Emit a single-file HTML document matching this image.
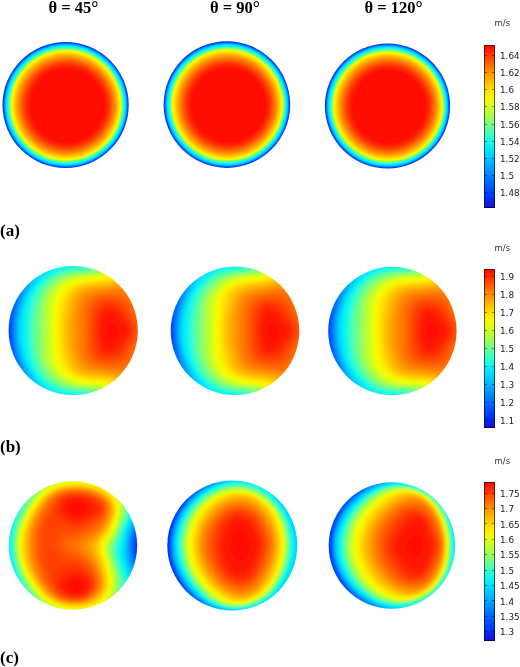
<!DOCTYPE html>
<html><head><meta charset="utf-8"><title>Velocity contours</title>
<style>
html,body{margin:0;padding:0;background:#fff;}
body{width:520px;height:667px;position:relative;overflow:hidden;}
.plots{position:absolute;left:0;top:0;}
.ttl{position:absolute;top:-1.5px;font-family:"Liberation Serif",serif;font-weight:bold;font-size:16.5px;line-height:18px;color:#000;white-space:nowrap;}
.dg{font-size:18px;line-height:0;position:relative;top:1.2px;}
.lab{position:absolute;left:0;font-family:"Liberation Serif",serif;font-weight:bold;font-size:17px;line-height:18px;color:#000;}
.cb{position:absolute;left:484px;width:9px;border:1px solid rgba(0,0,0,0.6);background-origin:border-box !important;background-clip:border-box !important;}
.tk{position:absolute;width:2px;height:1px;background:rgba(0,0,0,0.42);}
.tl{position:absolute;left:500px;font-family:"DejaVu Sans",sans-serif;font-size:8.8px;line-height:12px;color:#1a1a1a;white-space:nowrap;}
.unit{position:absolute;left:494.5px;font-family:"DejaVu Sans",sans-serif;font-size:8.5px;line-height:12px;color:#333;}
</style></head><body>
<svg class="plots" width="520" height="667" viewBox="0 0 520 667"><defs><clipPath id="c0"><circle cx="65.6" cy="105.0" r="63.1"/></clipPath><filter id="b0" x="-4" y="36" width="138" height="138" filterUnits="userSpaceOnUse"><feGaussianBlur stdDeviation="0.6"/></filter><clipPath id="c1"><circle cx="226.9" cy="104.6" r="63.3"/></clipPath><filter id="b1" x="158" y="35" width="139" height="139" filterUnits="userSpaceOnUse"><feGaussianBlur stdDeviation="0.6"/></filter><clipPath id="c2"><circle cx="387.5" cy="106.0" r="62.6"/></clipPath><filter id="b2" x="319" y="37" width="137" height="137" filterUnits="userSpaceOnUse"><feGaussianBlur stdDeviation="0.6"/></filter><clipPath id="c3"><circle cx="73.2" cy="330.5" r="64.6"/></clipPath><filter id="b3" x="3" y="260" width="141" height="141" filterUnits="userSpaceOnUse"><feGaussianBlur stdDeviation="0.8"/></filter><clipPath id="c4"><circle cx="235.0" cy="330.8" r="64.3"/></clipPath><filter id="b4" x="165" y="260" width="141" height="141" filterUnits="userSpaceOnUse"><feGaussianBlur stdDeviation="0.8"/></filter><clipPath id="c5"><circle cx="392.4" cy="331.0" r="64.2"/></clipPath><filter id="b5" x="322" y="261" width="140" height="140" filterUnits="userSpaceOnUse"><feGaussianBlur stdDeviation="0.8"/></filter><clipPath id="c6"><circle cx="73.0" cy="545.5" r="64.2"/></clipPath><filter id="b6" x="3" y="475" width="140" height="140" filterUnits="userSpaceOnUse"><feGaussianBlur stdDeviation="0.8"/></filter><clipPath id="c7"><circle cx="232.3" cy="545.5" r="65.0"/></clipPath><filter id="b7" x="161" y="474" width="142" height="142" filterUnits="userSpaceOnUse"><feGaussianBlur stdDeviation="0.8"/></filter><clipPath id="c8"><circle cx="391.9" cy="545.5" r="63.2"/></clipPath><filter id="b8" x="323" y="476" width="138" height="138" filterUnits="userSpaceOnUse"><feGaussianBlur stdDeviation="0.8"/></filter></defs><g clip-path="url(#c0)"><g filter="url(#b0)"><circle cx="65.6" cy="105.0" r="66.1" fill="#0629f3"/><path fill="#0034ff" d="M76.5 167 73.5 167.6 64.5 167.9 56.5 167.5 51.5 166.5 44.5 164.5 39.5 162.4 33.5 159.3 27.5 155.2 21.6 149.9 16 143.9 13.1 139.9 10.1 134.9 6.1 125.9 4 118.9 3 112.9 2.9 97.9 4.9 87.9 6.9 81.9 9.2 76.9 11.9 71.9 16.2 65.9 25.5 56.4 32.5 51.3 37.5 48.6 44.5 45.6 51.5 43.5 57.5 42.4 72.5 42.3 79.5 43.4 80.4 43.9 83.5 44.5 93.5 48.4 100.5 52.5 104.5 55.4 110.4 60.9 115.1 65.9 119.9 72.9 123.1 78.9 125.1 83.9 126.5 89.3 126.9 89.9 128.1 95.9 128.5 103.9 128.3 111.9 127 119.9 126.5 120.7 125.2 125.9 123.1 130.9 120.1 136.9 116 142.9 108.5 151.1 103.5 155.4 97.5 159.4 91.5 162.5 86.5 164.5 81.3 165.9 80.5 166.4Z"/><path fill="#0040ff" d="M73.5 167.1 68.5 167.5 62.5 167.5 54.5 166.6 49.5 165.5 43.5 163.6 38.5 161.4 33.5 158.7 27.5 154.6 23.2 150.9 19.2 146.9 15.9 142.9 11.8 136.9 8.7 130.9 6.7 125.9 4.8 119.9 3.7 113.9 3.1 106.9 3.2 100.9 3.7 95.9 4.9 89.9 6.7 83.9 9.7 76.9 13.9 69.9 16.8 65.9 21.3 60.9 25.5 57 30.5 53.2 35.5 50.2 44.5 46.1 50.5 44.3 56.5 43.1 63.5 42.5 69.5 42.6 75.5 43.2 80.5 44.2 86.5 46 91.5 48.1 97.5 51.2 103.5 55.2 108.5 59.5 111.9 62.9 115.2 66.9 119.3 72.9 122 77.9 124.9 84.9 126.9 91.9 127.8 97.9 128.2 104.9 128 110.9 127.1 116.9 125.9 121.9 123.9 127.9 121.2 133.9 118.2 138.9 115.4 142.9 111.2 147.9 106.5 152.4 102.5 155.6 96.5 159.4 90.5 162.4 84.5 164.7 78.5 166.3Z"/><path fill="#004dff" d="M71.5 166.9 66.5 167.3 61.5 167.2 55.5 166.5 47.5 164.6 41.5 162.5 35.5 159.5 30.5 156.4 26.5 153.5 17.8 144.9 14.1 139.9 11 134.9 8.1 128.9 6 122.9 3.8 112.9 3.5 105.9 3.6 99.9 5 90.9 7 83.9 9.1 78.9 11.1 74.9 14.9 68.9 18.9 63.9 23.5 59.2 29.5 54.3 32.5 52.3 37.5 49.4 44.5 46.4 51.5 44.3 57.5 43.2 65.5 42.8 72.5 43.1 79.5 44.3 83.5 45.3 89.5 47.5 95.5 50.3 100.5 53.4 104.5 56.3 108.5 59.9 113.3 64.9 119 72.9 122.2 78.9 123.9 82.9 126.1 89.9 127.3 95.9 127.9 101.9 127.9 107.9 127.2 114.9 126.2 119.9 124 126.9 121.8 131.9 119.2 136.9 115.1 142.9 109.8 148.9 104.5 153.7 99.5 157.3 95.5 159.7 89.5 162.6 84.5 164.4 76.5 166.4Z"/><path fill="#0059ff" d="M68.5 167 63.5 167 56.5 166.4 50.5 165.2 44.5 163.4 35.5 159.3 29.5 155.4 24.5 151.4 17.4 143.9 13 137.9 10.2 132.9 8 127.9 6 121.9 5 117.9 3.8 109.9 3.7 103.9 4.1 96.9 5 91.9 7 84.9 8.9 79.9 12 73.9 15.2 68.9 19.2 63.9 23.5 59.5 28.5 55.4 32.5 52.6 38.5 49.3 42.5 47.4 48.5 45.4 52.5 44.4 60.5 43.2 66.5 43.1 73.5 43.5 79.5 44.5 86.5 46.6 93.5 49.6 98.5 52.4 106.5 58.3 112.1 63.9 116.1 68.9 119.9 74.9 122 78.9 124 83.9 125.9 89.9 127.1 95.9 127.6 101.9 127.7 106.9 127 114.9 125.9 119.9 124.1 125.9 122.1 130.9 118.9 136.9 114.8 142.9 112.3 145.9 108.4 149.9 103.5 154.2 97.5 158.3 91.5 161.4 86.5 163.5 80.5 165.3 74.5 166.5Z"/><path fill="#0066ff" d="M75.5 166.1 69.5 166.7 63.5 166.8 57.5 166.3 51.5 165.2 44.5 163.1 39.5 161 34.5 158.4 29.5 155.2 24.5 151.1 19.3 145.9 15.3 140.9 12.1 135.9 9.1 129.9 7.1 124.9 5.2 117.9 4.4 112.9 3.9 106.9 4.1 99.9 5.1 92.9 6.3 87.9 8.3 81.9 10.1 77.9 12.2 73.9 16.2 67.9 20.4 62.9 24.5 58.9 28.5 55.6 34.5 51.6 40.5 48.6 45.5 46.6 52.5 44.6 57.5 43.7 64.5 43.3 70.5 43.4 77.5 44.4 82.5 45.5 88.5 47.6 92.5 49.4 98.5 52.6 102.5 55.4 106.5 58.6 110.9 62.9 114.5 67.2 117.9 71.9 120.8 76.9 123.8 83.9 125.9 90.9 126.9 95.9 127.4 101.9 127.4 107.9 126.9 113.9 125.7 119.9 123.9 125.9 121.9 130.9 119.8 134.9 116 140.9 112.9 144.9 108.2 149.9 104.5 153.1 98.5 157.4 93.5 160.2 86.5 163.3 80.5 165.1Z"/><path fill="#0073ff" d="M74.5 166 68.5 166.6 62.5 166.6 57.5 166.1 51.5 165 45.5 163.3 39.5 160.8 34.5 158.2 28.5 154.2 23.5 149.9 19.6 145.9 15.6 140.9 12.4 135.9 9.3 129.9 7.4 124.9 5.7 118.9 4.7 113.9 4.1 107.9 4.2 100.9 4.9 94.9 6.2 88.9 8.2 82.9 10.4 77.9 13.1 72.9 16.5 67.9 20.5 63.1 24.8 58.9 29.5 55.2 34.5 51.9 40.5 48.8 45.5 46.8 50.5 45.3 56.5 44.1 62.5 43.5 69.5 43.5 75.5 44.2 80.5 45.2 85.5 46.7 92.5 49.6 97.5 52.3 102.5 55.6 107.5 59.8 111.6 63.9 115.6 68.9 118.9 73.9 122 79.9 123.9 84.9 125.7 90.9 126.7 95.9 127.2 101.9 127.3 107.9 126.8 112.9 125.8 118.9 123.7 125.9 121.6 130.9 119 135.9 115.8 140.9 111.8 145.9 107.9 149.9 103.5 153.7 98.5 157.2 93.5 160 86.5 163 79.5 165.1Z"/><path fill="#0080ff" d="M73.5 166 67.5 166.4 61.5 166.3 55.5 165.6 49.5 164.3 43.5 162.3 38.5 160.1 33.5 157.3 28.5 153.9 23.8 149.9 19.9 145.9 15.8 140.9 12.6 135.9 10 130.9 7.6 124.9 5.9 118.9 4.8 112.9 4.3 106.9 4.4 100.9 5.1 94.9 6.4 88.9 8.4 82.9 10.6 77.9 13.3 72.9 16.8 67.9 20.5 63.4 25.1 58.9 29.5 55.4 34.5 52.1 39.5 49.5 45.5 47 51.5 45.3 57.5 44.2 63.5 43.7 69.5 43.7 75.5 44.4 81.5 45.7 87.5 47.6 92.5 49.8 97.5 52.5 102.5 55.9 107.3 59.9 111.5 64.1 115.4 68.9 118.7 73.9 121.8 79.9 123.8 84.9 125.7 91.9 126.6 96.9 127.1 102.9 127 108.9 126.3 114.9 125.1 120.9 123.1 126.9 120.9 131.9 117.6 137.9 114.5 142.3 110.6 146.9 106.5 150.9 101.5 154.9 96.5 158.2 91.5 160.8 85.5 163.2 79.5 164.9Z"/><path fill="#008eff" d="M71.5 166 65.5 166.3 59.5 166 53.5 165 47.5 163.5 41.5 161.3 36.6 158.9 31.6 155.9 26.5 152.1 22 147.9 18.4 143.9 14.7 138.9 11.5 133.5 8.9 127.9 7.1 122.9 5.6 116.9 4.8 110.9 4.5 104.9 4.8 98.9 5.7 92.9 7.2 86.9 9.4 80.9 11.8 75.9 14.9 70.9 18.5 66 22.2 61.9 26.6 57.9 31.5 54.2 37.1 50.9 42.5 48.4 47.5 46.6 53.5 45 59.5 44.1 65.5 43.8 71.5 44.1 77.1 44.9 83.5 46.5 88.5 48.2 94.3 50.9 99.4 53.9 104.5 57.7 109.2 61.9 112.8 65.9 116.5 70.8 119.6 75.9 122 80.9 124.2 86.9 125.8 92.9 126.7 98.9 127 104.9 126.7 110.9 125.8 116.9 124.3 122.9 122.5 127.9 119.7 133.9 116.7 138.9 113 143.9 109.4 147.9 104.5 152.4 99.5 156.1 94.5 159.1 89.5 161.5 83.5 163.6 77.5 165.1Z"/><path fill="#009bff" d="M70.5 165.9 64.5 166.1 58.5 165.6 51.5 164.4 46.5 163 41.1 160.9 35.5 158.1 30.5 154.9 25.5 151 21.3 146.9 17.5 142.5 14.3 137.9 11.4 132.9 9.1 127.9 7.1 121.9 5.5 115 4.9 109.9 4.7 103.9 5.1 97.9 6.1 91.9 7.4 86.9 9.5 81.2 12.1 75.9 15.1 70.9 18.9 65.9 22.5 61.9 27.5 57.4 32.5 53.8 37.5 50.9 42.5 48.6 48.5 46.5 55.3 44.9 60.5 44.2 66.5 44 72.5 44.4 78.5 45.4 84.3 46.9 89.6 48.9 95.5 51.8 100.5 54.9 105.5 58.8 109.5 62.5 113.5 67 117 71.9 119.9 76.9 122.6 82.9 124.5 88.5 125.8 93.9 126.6 99.9 126.8 105.9 126.5 111.1 125.5 117.5 123.8 123.9 121.5 129.9 119 134.9 115.8 139.9 112.5 144.3 108.2 148.9 103.6 152.9 98.5 156.5 93.5 159.4 87.5 162.1 81.9 163.9 76.5 165.1Z"/><path fill="#00a9ff" d="M66.5 165.9 55.5 165 50.2 163.9 44 161.9 37.5 159 32.5 156 28.1 152.9 23.5 148.9 19.5 144.6 15.5 139.4 12.5 134.5 10.2 129.9 8.2 124.9 6.3 117.9 5.3 111.9 4.9 105.9 5.1 99.9 6.1 92.9 7.3 87.9 9 82.9 11.5 77.4 14.5 72.2 18.3 66.9 21.8 62.9 26 58.9 30.5 55.4 36.1 51.9 40.5 49.7 45.5 47.7 52.5 45.7 58.5 44.6 64.5 44.3 74.9 44.9 82.5 46.6 88.5 48.6 93.5 50.9 98.5 53.8 102.9 56.9 107.6 60.9 111.5 64.9 115.5 70 118.6 74.9 121.5 80.6 123.8 86.9 125.5 93.4 126.6 103.9 126.5 109 125.6 115.9 124.5 121 122.5 127 119.9 132.9 117 137.9 113.5 142.7 109.5 147.3 105.5 151.1 100.5 155 95.5 158.1 89.5 161.1 83.5 163.3 76.8 164.9Z"/><path fill="#00b6ff" d="M75.5 164.9 68.5 165.6 63.5 165.6 56.5 165 51 163.9 44.5 161.9 39.8 159.9 34.3 156.9 28.5 152.9 23.9 148.9 19.5 144.3 13.5 135.9 10.5 130.1 8.4 124.9 6.5 118.1 5.5 112.2 5.1 106.9 5.3 99.9 6.3 92.9 7.5 88 9.2 82.9 11.5 77.8 14.5 72.5 18.5 67 22.1 62.9 26.5 58.8 31.6 54.9 36.5 51.9 45.5 47.9 52.3 45.9 57.9 44.9 63.5 44.5 70.5 44.6 77.5 45.6 82.5 46.8 88.5 48.8 93 50.9 96.7 52.9 102.5 56.8 107.3 60.9 110.5 64.2 113.7 67.9 117.5 73.4 120.5 78.9 122.6 83.9 124.5 89.9 125.7 95.9 126.4 106.9 125.8 113.9 124.6 119.9 122.7 125.9 120.6 130.9 118.5 135 114.7 140.9 111.5 144.9 107.5 149.1 101.7 153.9 98.5 156.1 93.5 159 86.9 161.9 80.5 163.9Z"/><path fill="#00c3ff" d="M74.5 164.9 66.5 165.4 59.5 165.1 51.9 163.9 48.2 162.9 42.6 160.9 36.5 158 31.6 154.9 27.6 151.9 19.4 143.9 16.4 139.9 12.5 133.6 9.5 127.2 7.5 121.3 6.4 116.9 5.5 110.3 5.5 99.7 6.5 92.9 8.5 85.6 10.5 80.5 13.5 74.6 16.5 69.9 20.5 64.9 25.5 59.9 30.5 55.9 38.9 50.9 43.5 48.8 49.2 46.9 53.5 45.9 59.8 44.9 71.5 44.9 78.1 45.9 82.2 46.9 88.1 48.9 94.5 51.9 99.5 54.9 103.5 57.9 111.5 65.6 113.5 67.9 117.6 73.9 120.5 79.4 122.5 84.1 124.5 90.6 125.6 95.9 126.1 106.9 125.6 113.9 124.5 119.5 122.5 125.9 120.5 130.7 116.5 137.9 114.5 140.8 107.3 148.9 102.7 152.9 98.5 155.9 93.2 158.9 86.4 161.9 79.7 163.9Z"/><path fill="#00d1ff" d="M71.5 164.9 59.4 164.9 53.2 163.9 46.1 161.9 38.9 158.9 33.6 155.9 25.6 149.9 21.5 145.8 17.5 140.9 14.5 136.5 11.5 131 9.5 126.3 7.5 120 6.5 115.4 5.7 108.9 5.7 101.9 6.5 94.7 8.7 85.9 10.6 80.9 13.7 74.9 17.5 69.1 21.5 64.3 24.9 60.9 29.7 56.9 35.5 53 39.5 50.9 44.2 48.9 50.4 46.9 54.9 45.9 61.5 45.1 70.5 45.1 76.6 45.9 84.5 47.9 89.7 49.9 95.7 52.9 100.4 55.9 104.3 58.9 111.5 66 115.5 71.2 118.5 76.1 122.5 84.9 124.5 91.8 125.5 97.4 125.9 104.9 125.5 112.7 123.5 122.1 121.5 127.8 119.5 132.1 117.5 135.9 113.3 141.9 108.5 147.3 103.5 151.9 99.5 154.9 94.5 157.9 88.1 160.9 82.5 162.8 78.3 163.9Z"/><path fill="#00deff" d="M75.5 164 70.5 164.7 64.5 164.8 59.5 164.5 53.5 163.6 47.3 161.9 42 159.9 36 156.9 31.3 153.9 26.3 149.9 22.5 146.3 18.7 141.9 15.2 136.9 11.9 130.9 9.8 125.9 7.9 119.9 6.8 114.9 6.2 108.9 6.1 102.9 6.5 97.5 7.5 91.8 9.2 85.9 11.1 80.9 13.6 75.9 16.7 70.9 20.5 66 24.4 61.9 28.5 58.3 33.3 54.9 38.5 51.9 44.5 49.2 50.5 47.3 55.5 46.2 61.5 45.5 67.5 45.3 74 45.9 79.4 46.9 84.5 48.3 91 50.9 95.5 53.2 100.5 56.4 105.5 60.4 109.5 64.3 113.4 68.9 116.5 73.4 119.5 78.8 121.5 83.3 123.5 89.3 124.9 95.9 125.5 101.3 125.5 107.9 125 113.9 124 118.9 122.5 124.1 120.2 129.9 117.5 135.1 114.4 139.9 110.5 144.7 106.5 148.8 101.6 152.9 97.2 155.9 92.5 158.5 87.1 160.9 80.9 162.9Z"/><path fill="#03eafc" d="M73.5 164 67.5 164.4 61.5 164.3 55.5 163.5 49.5 162.2 43.5 160.1 38.7 157.9 33.5 154.9 29.5 152 25.5 148.6 21.5 144.6 17.5 139.6 14.5 134.9 11.5 129 9.5 123.8 8.1 118.9 7 112.9 6.5 107.5 6.5 101.9 7.2 95.9 8.4 89.9 10.3 83.9 12.5 78.9 15.3 73.9 18.5 69.2 22.1 64.9 26.5 60.6 31.1 56.9 35.7 53.9 41.5 50.9 46.6 48.9 51.5 47.5 57.5 46.3 63.5 45.8 69.5 45.9 75.5 46.5 80.5 47.6 86.5 49.5 91.5 51.6 97.5 54.9 101.5 57.7 106.5 61.9 110.5 66 114.5 71.1 117.5 75.8 120.5 81.9 122 85.9 123.5 90.9 124.7 96.9 125.2 102.9 125.2 107.9 124.6 113.9 123.5 119.3 121.8 124.9 119.5 130.5 116.6 135.9 113.5 140.5 109.8 144.9 105.9 148.9 101 152.9 96.5 155.9 90.9 158.9 85.5 161.1 79.3 162.9Z"/><path fill="#0ff0f0" d="M69.5 163.9 63.5 164 58.5 163.6 53.5 162.7 46.8 160.9 41.8 158.9 37.5 156.8 32.5 153.7 27.5 149.9 23.3 145.9 19.5 141.5 16.5 137.3 13.5 132.2 10.7 125.9 8.8 119.9 7.6 113.9 7 108.9 7 102.9 7.5 96.6 8.6 90.9 10.4 84.9 12.5 79.9 15.5 74.4 18.5 69.9 21.8 65.9 25.7 61.9 30.5 57.9 34.9 54.9 40.4 51.9 45.1 49.9 51.5 47.9 56.5 46.9 62.5 46.3 68.5 46.2 75.1 46.9 80.5 48 86.5 49.9 91.5 52.1 96.5 54.8 101.1 57.9 104.8 60.9 108.5 64.4 112.5 69.1 115.5 73.3 118.5 78.5 120.5 82.9 122.6 88.9 123.9 94.9 124.7 100.9 124.8 105.9 124.5 111.9 123.4 117.9 121.5 124.6 119.3 129.9 116.5 135.2 113.5 139.8 110.2 143.9 106.4 147.9 101.6 151.9 97.3 154.9 92 157.9 87.5 159.9 81.6 161.9 76.5 163.1Z"/><path fill="#1af7e5" d="M74.5 162.9 68.5 163.5 62.5 163.5 56.9 162.9 51.5 161.8 45.4 159.9 40.5 157.8 35.2 154.9 30.8 151.9 26.5 148.3 22.5 144.3 18.9 139.9 15.6 134.9 12.9 129.9 10.5 123.9 8.8 117.9 7.9 112.9 7.4 106.9 7.5 100.9 8.1 95.9 9.4 89.9 11 84.9 13.5 79 15.7 74.9 19.1 69.9 22.5 65.8 26.5 61.8 31.3 57.9 35.8 54.9 41.5 51.9 46.5 49.9 52.5 48.2 57.5 47.2 63.5 46.7 68.5 46.7 73.5 47.1 79.5 48.3 85.1 49.9 90.5 52.1 95.8 54.9 100.5 58 105.3 61.9 109.3 65.9 112.6 69.9 116 74.9 119.2 80.9 121.2 85.9 122.9 91.9 123.8 96.9 124.4 102.9 124.3 108.9 123.6 114.9 122.5 119.9 121 124.9 118.5 130.7 116.2 134.9 112.9 139.9 108.7 144.9 104.6 148.9 100.5 152.2 95.5 155.5 91 157.9 85.5 160.2 80.5 161.7Z"/><path fill="#26fed9" d="M70.5 163 65.5 163.1 59.5 162.8 53.5 161.8 48.5 160.5 43.5 158.6 37.5 155.7 33 152.9 28.5 149.5 24.5 145.8 20.5 141.2 17.4 136.9 14.4 131.9 12.1 126.9 10.1 120.9 8.7 114.9 8.1 109.9 7.9 103.9 8.3 97.9 9.4 91.9 10.8 86.9 12.7 81.9 15.2 76.9 18.3 71.9 21.5 67.7 25.5 63.4 29.5 59.9 34.5 56.3 39.5 53.4 44.5 51.2 49.5 49.5 55.5 48 61.5 47.3 67.5 47.1 73.5 47.6 79.5 48.8 84.5 50.2 89.5 52.1 94.5 54.7 99.5 57.8 103.5 61 107.5 64.7 111.2 68.9 114.8 73.9 117.7 78.9 120.4 84.9 122 89.9 123.3 95.9 123.8 100.9 124 106.9 123.6 111.9 122.6 117.9 121.2 122.9 119.3 127.9 116.3 133.9 113.1 138.9 109.9 142.9 106.1 146.9 101.5 150.9 97.5 153.8 92.5 156.7 87.5 158.9 82.5 160.7 76.5 162.2Z"/><path fill="#3affc4" d="M74.5 162 69.5 162.6 62.5 162.7 55.5 161.8 50.5 160.6 44.5 158.6 40.5 156.8 36.5 154.6 30.5 150.5 25.5 146.1 21.6 141.9 16.1 133.9 11.8 124.9 9.8 117.9 8.8 112.9 8.4 106.9 8.5 101.9 8.9 96.9 9.8 91.9 11.6 85.9 13.6 80.9 15.7 76.9 18.8 71.9 22.8 66.9 26.5 63.1 32.5 58.2 35.5 56.2 40.5 53.4 45.5 51.2 51.5 49.3 57.5 48.1 63.5 47.6 68.5 47.7 74.5 48.2 79.5 49.2 85.5 51 90.5 53.1 96.5 56.4 100.5 59.1 105.5 63.3 109 66.9 112.3 70.9 116.2 76.9 120.3 85.9 122.1 91.9 123 96.9 123.5 102.9 123.5 108.9 122.2 117.9 120.1 124.9 118 129.9 115.3 134.9 111.8 139.9 108.5 143.9 103.5 148.7 95.5 154.5 89.5 157.7 84.5 159.7 77.5 161.6Z"/><path fill="#4fffad" d="M72.5 161.9 67.5 162.4 62.5 162.3 55.5 161.4 50.5 160.3 44.5 158.2 38.5 155.4 33.5 152.3 29.5 149.2 22.1 141.9 19 137.9 15.9 132.9 11.9 123.9 10.2 117.9 9.1 111.9 8.7 105.9 8.9 99.9 10 92.9 11 88.9 13.2 82.9 15 78.9 20 70.9 24.2 65.9 27.5 62.7 31.5 59.4 37.5 55.4 46.5 51.3 52.5 49.5 58.5 48.4 64.5 48 71.5 48.2 78.5 49.3 82.5 50.4 88.5 52.6 92.5 54.5 97.5 57.4 101.5 60.3 106.5 64.8 110.2 68.9 115.8 76.9 119.2 83.9 120.9 88.9 122 92.9 123 98.9 123.3 103.9 123.1 109.9 122.1 116.9 121.1 120.9 119 126.9 116 132.9 112.9 137.9 109.8 141.9 106.5 145.5 102.5 149.1 98.5 152.2 93.5 155.3 89.5 157.3 83.5 159.6 76.5 161.4Z"/><path fill="#64ff97" d="M69.5 161.9 64.5 162 58.5 161.5 48.5 159.3 43.5 157.4 37.5 154.4 32.5 151.2 28.5 147.9 24.3 143.9 21 139.9 18.1 135.9 15.2 130.9 13 125.9 11.3 120.9 10.1 115.9 9.2 108.9 9.1 103.9 9.4 98.9 10.1 93.9 12 86.9 14 81.9 17.1 75.9 22.9 67.9 26.5 64.1 30.5 60.6 34.5 57.7 39.5 54.7 44.5 52.4 49.5 50.7 54.5 49.4 61.5 48.4 67.5 48.3 72.5 48.6 77.5 49.5 82.5 50.7 87.5 52.5 93.5 55.4 98.5 58.5 102.5 61.6 106.5 65.2 110.7 69.9 114.8 75.9 117 79.9 118.8 83.9 120.9 89.9 121.9 93.9 122.8 100.9 122.7 110.9 121.7 116.9 119.8 123.9 117.7 128.9 115.1 133.9 111.8 138.9 108.5 142.9 104.5 147 100.5 150.3 96.5 153.1 90.5 156.5 86.5 158.2 80.5 160.2 75.5 161.3Z"/><path fill="#77ff82" d="M75.5 160.9 69.5 161.6 64.5 161.7 58.5 161.3 53.5 160.4 48.5 159 43.5 157.1 38.5 154.6 33.5 151.5 29.5 148.4 25.5 144.7 21.5 140.1 18.5 135.9 15.6 130.9 13.3 125.9 11.3 119.9 10.2 114.9 9.6 109.9 9.4 103.9 9.7 98.9 10.7 92.9 12.4 86.9 14.3 81.9 16.3 77.9 19.4 72.9 22.4 68.9 26.5 64.5 30.6 60.9 35.5 57.4 39.5 55.1 44.5 52.8 50.5 50.7 55.5 49.5 61.5 48.7 66.5 48.6 71.5 48.9 77.5 49.8 82.5 51.1 88.5 53.3 93.5 55.7 98.5 58.9 102.5 61.9 106.8 65.9 110.3 69.9 113.5 74.3 116.2 78.9 118.5 83.9 120.6 89.9 121.8 94.9 122.7 104.9 122.4 110.9 121.7 115.9 120.1 121.9 118.3 126.9 115.9 131.9 112.9 136.9 109.5 141.3 105.5 145.6 101.5 149.2 96.5 152.8 91.5 155.6 86.5 157.9 81.5 159.6Z"/><path fill="#89ff6d" d="M73.5 161 68.5 161.4 62.5 161.4 56.5 160.7 51.5 159.6 45.5 157.6 40.5 155.4 35.5 152.5 31.5 149.7 27.1 145.9 23.3 141.9 20.2 137.9 17 132.9 12.9 123.9 11.2 117.9 10.2 112.9 9.7 107.9 9.8 101.9 10.4 95.9 11.5 90.9 13.4 84.9 15.6 79.9 17.8 75.9 21.2 70.9 24.6 66.9 28.5 63 33.5 59.1 37.5 56.5 42.5 53.9 47.5 51.9 53.5 50.2 58.5 49.3 64.5 48.9 70.5 49 75.5 49.7 81.5 51.1 87.5 53.1 91.5 55 95.5 57.2 100.5 60.7 104.5 64.1 108.2 67.9 112.2 72.9 114.8 76.9 117.4 81.9 119.4 86.9 121.1 92.9 122 97.9 122.4 102.9 122.3 108.9 121.6 114.9 120.4 119.9 118.8 124.9 116.6 129.9 113.8 134.9 111.1 138.9 107.5 143.2 103.5 147.1 99.5 150.4 94.5 153.7 89.5 156.3 84.5 158.3 79.5 159.8Z"/><path fill="#9cff58" d="M71.5 160.9 66.5 161.2 60.5 160.9 55.5 160.2 49.5 158.7 43.5 156.5 39.5 154.6 34.5 151.5 30.5 148.5 26.5 144.9 22.9 140.9 19.8 136.9 16.8 131.9 14 125.9 12.2 120.9 11 115.9 10.2 109.9 10 103.9 10.3 98.9 11.1 93.9 12.6 87.9 15 81.9 17 77.9 20.1 72.9 23.2 68.9 26.9 64.9 31.5 60.9 35.5 58.1 40.5 55.2 44.5 53.4 50.5 51.3 55.5 50.1 60.5 49.4 66.5 49.1 71.5 49.4 77.5 50.3 82.5 51.6 87.5 53.4 93.5 56.4 101.6 61.9 105.5 65.4 109.5 69.8 113.2 74.9 115.6 78.9 118 83.9 120.1 89.9 121.2 94.9 121.9 99.9 122.2 104.9 122 109.9 121.1 115.9 119.9 120.9 118.2 125.9 115.8 130.9 112.9 135.9 109.2 140.9 105.5 144.9 101.5 148.5 97.5 151.5 92.5 154.5 88.5 156.5 82.5 158.7 76.5 160.2Z"/><path fill="#aeff43" d="M67.5 160.9 57.5 160.3 52.5 159.3 46.5 157.4 41.5 155.3 36.5 152.5 32.5 149.7 27.9 145.9 24.1 141.9 20.9 137.9 17.7 132.9 15.1 127.9 13.2 122.9 11.7 117.9 10.8 112.9 10.3 106.9 10.3 101.9 11 95.9 12.1 90.9 14 84.9 16.2 79.9 19.1 74.9 21.9 70.9 25.3 66.9 29.5 62.9 33.5 59.8 38.5 56.6 42.5 54.5 47.5 52.5 53.5 50.8 59.5 49.8 64.5 49.4 69.5 49.5 75.5 50.2 81.5 51.6 86.5 53.3 91.5 55.6 96.5 58.5 100.5 61.3 104.5 64.8 108.4 68.9 111.6 72.9 114.2 76.9 116.8 81.9 118.8 86.9 120.6 92.9 121.6 98.9 121.9 103.9 121.8 108.9 121.1 114.9 119.9 119.9 117.9 125.9 116.1 129.9 113.2 134.9 109.7 139.9 106.5 143.5 102.5 147.3 98.5 150.5 93.5 153.7 88.5 156.2 83.5 158.1 78.5 159.5 73.5 160.5Z"/><path fill="#bfff33" d="M74.5 160 69.5 160.6 63.5 160.6 58.5 160.2 53.5 159.3 47.5 157.5 42.5 155.5 38.5 153.4 33.5 150.2 29.4 146.9 25.3 142.9 22 138.9 18.6 133.9 16.4 129.9 14.2 124.9 12.3 118.9 11.2 113.9 10.7 108.9 10.6 102.9 11.1 96.9 12.1 91.9 13.9 85.9 16 80.9 18.2 76.9 21.5 71.9 24.8 67.9 28.8 63.9 32.5 60.9 37.5 57.5 42.5 54.9 47.5 52.8 52.5 51.3 57.5 50.3 63.5 49.7 68.5 49.7 74.5 50.3 79.5 51.4 88.5 54.4 93.4 56.9 98.5 60.2 103.2 63.9 107.2 67.9 110.5 71.9 113.9 76.9 116.5 81.9 118.6 86.9 120.1 91.9 121.1 96.9 121.7 102.9 121.6 107.9 121 113.9 119.9 118.9 118.4 123.9 116.3 128.9 113.6 133.9 110.9 137.9 107.7 141.9 103.7 145.9 99.5 149.4 95.5 152.2 90.5 155 85.5 157.2 79.5 159Z"/><path fill="#d0ff24" d="M73.5 159.9 68.5 160.4 62.5 160.3 58.2 159.9 51.5 158.5 46.6 156.9 41.9 154.9 36.5 151.9 32.5 149.1 28.5 145.7 24.5 141.6 21.5 137.8 18.3 132.9 16.2 128.9 14.1 123.9 12.3 117.9 11.3 112.9 10.9 107.9 10.9 101.9 11.4 96.9 12.5 91.4 14.2 85.9 16.3 80.9 19.1 75.9 21.8 71.9 25.5 67.5 29.5 63.6 33.5 60.4 38.5 57.2 43.5 54.7 48.5 52.8 53.5 51.4 58.5 50.4 68.5 50 74.5 50.6 79.5 51.6 85.5 53.5 90.5 55.7 95.5 58.4 99.1 60.9 103.5 64.6 106.9 67.9 110.5 72.3 113.6 76.9 116.5 82.4 118.5 87.4 120.1 92.9 121 97.9 121.4 102.9 121.4 107.9 120.7 113.9 119.7 118.9 117.8 124.9 115.5 129.9 112.7 134.9 109.8 138.9 106.5 142.8 102.3 146.9 98.5 149.9 93.5 153.1 84.5 157.3 78.5 159Z"/><path fill="#e1ff16" d="M71.5 159.9 65.5 160.2 60.5 159.9 54.5 159 50.5 158 44.8 155.9 40.5 153.9 35.5 150.9 31.4 147.9 27.5 144.4 23.5 140 20.5 135.9 17.5 131 15.1 125.9 13.4 120.9 12.3 116.9 11.4 110.9 11.1 105.9 11.3 99.9 12.2 93.9 13.2 89.9 15.3 83.9 17.1 79.9 19.5 75.8 22.5 71.5 26.5 66.9 29.6 63.9 33.5 60.8 38.5 57.5 43.7 54.9 48.9 52.9 53.5 51.6 59.5 50.6 69.5 50.4 74.5 50.9 79.6 51.9 85.5 53.8 90.4 55.9 95.5 58.7 100 61.9 103.5 64.9 107.5 69 110.6 72.9 114.5 79 116.5 83 118.7 88.9 119.8 92.9 120.9 98.9 121.2 104.9 120.9 110.9 119.9 116.9 118.9 120.9 116.7 126.9 114.7 130.9 111.7 135.9 108.7 139.9 105.1 143.9 100.7 147.9 96.5 151 91.6 153.9 87.3 155.9 81.5 158 76.5 159.2Z"/><path fill="#f2ff08" d="M67.5 159.9 63.5 159.9 55.5 158.9 48.1 156.9 43.2 154.9 37.6 151.9 29.5 145.9 25.5 141.9 21.5 136.9 18.5 132.2 16.5 128.3 13.4 119.9 12.4 115.9 11.5 108.9 11.5 100.8 12.5 93.9 13.5 89.8 15.5 84.1 17.5 79.9 20.4 74.9 23.5 70.7 27.9 65.9 32.4 61.9 40.5 56.7 44.5 54.8 49.8 52.9 54.5 51.7 61.5 50.7 72.5 50.9 82.1 52.9 87.5 54.9 91.7 56.9 96.7 59.9 100.8 62.9 104.5 66.3 108.5 70.6 111.5 74.6 114.5 79.5 116.5 83.7 118.5 89 119.6 92.9 120.7 100.9 120.7 110.9 119.7 116.9 118.5 121.3 116.5 126.7 114.5 130.8 111.5 135.8 107.5 141 102.6 145.9 97.6 149.9 88.9 154.9 83.5 157.1 76.7 158.9Z"/><path fill="#f8f703" d="M74.5 158.9 64.5 159.5 57.4 158.9 52.7 157.9 46.4 155.9 42 153.9 33.8 148.9 26.5 142.3 23.5 138.9 20.5 134.8 17.5 129.5 15.5 125 13.5 119 12.5 114.3 11.9 107.9 11.8 102.9 12.5 95.8 13.5 91.2 16.5 82.8 18.5 78.8 21.5 73.9 25.5 68.9 28.4 65.9 35.9 59.9 41 56.9 45.4 54.9 50.5 53.1 55.3 51.9 61.5 51 66.5 50.9 69.5 50.9 76.7 51.9 80.8 52.9 86.6 54.9 90.9 56.9 96.1 59.9 101.5 63.9 104.5 66.8 107.5 69.9 111.5 75.2 114.5 80.3 116.5 84.6 118.5 90.2 119.5 94.2 120.4 99.9 120.6 104.9 120.5 109.9 119.5 116.2 116.5 125.9 113.5 131.9 110.5 136.6 104.2 143.9 98.5 148.9 95.5 150.9 90.3 153.9 85.7 155.9 79.5 157.9Z"/><path fill="#fdee01" d="M69.5 158.9 63.5 159 58.5 158.5 53.5 157.6 47.9 155.9 43.1 153.9 38.5 151.4 34.5 148.8 30.5 145.5 26.8 141.9 23.5 138 20.5 133.7 17.8 128.9 16.1 124.9 14.1 118.9 13 113.9 12.4 108.9 12.4 102.9 12.8 97.9 13.7 92.9 15.1 87.9 17.1 82.9 19.5 78.2 22.5 73.5 25.5 69.8 29.2 65.9 33.5 62.3 37.5 59.5 42.3 56.9 46.9 54.9 51.5 53.4 56.5 52.3 62.5 51.5 67.5 51.4 73.3 51.9 78.6 52.9 83.5 54.3 88.5 56.3 93.5 58.9 98.1 61.9 101.8 64.9 105.9 68.9 109.2 72.9 112 76.9 114.5 81.3 116.5 85.8 118.5 91.9 119.5 96.9 120 101.9 120.1 107.9 119.5 113.3 118.5 118.2 117.1 122.9 115 127.9 112.9 131.9 109.5 137.1 106.5 140.8 102.5 144.9 98.5 148.2 93.5 151.5 89.1 153.9 84.2 155.9 79.5 157.4 74.5 158.4Z"/><path fill="#ffe200" d="M73.5 158 63.5 158.4 58.2 157.9 53.2 156.9 47 154.9 42.5 152.9 34.3 147.9 29.6 143.9 26.7 140.9 23.5 137 20.5 132.6 16.5 124.4 14.5 118.1 13.5 113.1 13 102.9 13.5 97.1 14.5 92.1 17.5 83.5 20.4 77.9 22.5 74.6 25.5 70.7 29.1 66.9 32.4 63.9 36.5 60.9 41.6 57.9 46 55.9 51.9 53.9 56.5 52.9 66.5 52 75.8 52.9 80.1 53.9 86.1 55.9 90.5 57.9 95.6 60.9 99.7 63.9 103.5 67.3 107.5 71.6 110.5 75.6 113.5 80.6 115.5 84.9 117.5 90.5 118.7 95.9 119.5 101.7 119.6 105.9 118.5 115.9 116.5 122.9 114.5 127.8 109.5 136.2 105.7 140.9 101.6 144.9 93.5 150.9 87.7 153.9 82.5 155.9Z"/><path fill="#ffd400" d="M75.5 156.9 70.5 157.6 65.5 157.8 60.5 157.5 55.5 156.7 50.5 155.4 45.5 153.5 41.5 151.6 36.5 148.5 32.5 145.5 28.6 141.9 25.1 137.9 22.2 133.9 19.9 129.9 17.5 124.9 15.8 119.9 14.6 114.9 13.9 109.9 13.7 104.9 14 99.9 14.7 94.9 15.9 89.9 17.7 84.9 20.1 79.9 22.5 75.9 25.5 71.9 29.1 67.9 33.5 64 37.5 61.2 41.4 58.9 46.5 56.5 51.2 54.9 56.5 53.6 61.5 53 66.5 52.8 71.5 53 76.9 53.9 81.5 55.1 86.6 56.9 91.5 59.3 95.8 61.9 99.8 64.9 104.1 68.9 107.5 72.7 110.5 76.9 113.4 81.9 115.2 85.9 116.9 90.9 118.1 95.9 118.7 100.9 118.9 105.9 118.5 111.7 117.8 115.9 116.1 121.9 114.5 126.1 112.1 130.9 109.5 135 106.5 138.9 102.8 142.9 98.5 146.6 94.5 149.4 90.5 151.8 85.9 153.9 81.5 155.5Z"/><path fill="#ffca00" d="M69.5 156.9 64.5 157 59.5 156.6 54.5 155.7 49.5 154.2 44.5 152.2 40.5 150.1 36.5 147.6 32.5 144.4 28.8 140.9 25.5 137.1 22.5 132.8 20.3 128.9 18 123.9 16.4 118.9 15.3 113.9 14.7 108.9 14.5 103.9 14.9 98.9 15.7 93.9 17.1 88.9 19 83.9 21.5 79.1 24.2 74.9 27.4 70.9 31.4 66.9 35 63.9 39.5 60.9 43.5 58.7 52.5 55.4 57.5 54.3 62.5 53.7 68.5 53.6 73.5 54.1 78.5 55.1 83.5 56.5 88.5 58.6 92.5 60.7 96.5 63.3 100.5 66.5 104 69.9 107.5 73.9 112.6 81.9 114.8 86.9 116.4 91.9 117.5 96.9 118.1 101.9 118.2 106.9 117.8 111.9 116.8 116.9 115.5 121.5 113.8 125.9 111.5 130.5 108.7 134.9 105.5 139 101.7 142.9 98.2 145.9 94 148.9 89.5 151.4 84.5 153.6 79.5 155.3 74.5 156.3Z"/><path fill="#ffc500" d="M74.5 156.1 69.5 156.6 64.5 156.7 59.5 156.3 54.5 155.4 49.5 153.9 44.5 151.9 40.5 149.8 36.1 146.9 32.3 143.9 28.5 140.2 25.5 136.6 22.3 131.9 18.3 123.9 16.5 118.2 15.5 113.5 14.9 107.9 14.9 102.9 15.3 97.9 16.3 92.9 17.5 88.7 19.5 83.6 22 78.9 24.5 75 27.5 71.3 30.7 67.9 34.5 64.7 38.5 61.8 42.5 59.6 47.5 57.3 52.5 55.7 57.5 54.6 62.5 54 67.5 53.9 72.5 54.3 77.5 55.1 83.5 56.9 88.5 58.9 96.5 63.7 100.5 66.9 104.5 70.8 107.5 74.4 110.5 78.8 114.5 86.9 116.1 91.9 117.2 96.9 117.8 101.9 117.9 106.9 117.5 111.8 116.6 116.9 113.5 125.9 111.5 129.9 108.5 134.7 105.5 138.6 101.5 142.7 97.5 146.1 93.5 148.9 89.5 151.1 84.5 153.4 79.5 155Z"/><path fill="#ffc000" d="M73.5 155.9 68.5 156.4 63.5 156.4 58.7 155.9 53.7 154.9 47.5 152.9 43.5 151.1 39.6 148.9 35.5 146.1 28.5 139.7 25.3 135.9 22.5 131.7 20.4 127.9 18.3 122.9 16.5 117 15.7 112.9 15.2 107.9 15.2 102.9 15.5 98.8 16.5 93.3 19.5 84.4 21.5 80.3 24.5 75.6 27.5 71.7 31.2 67.9 34.7 64.9 39 61.9 42.5 59.9 47.5 57.6 52.8 55.9 57.5 54.9 63.5 54.2 68.5 54.2 73.5 54.7 78.5 55.7 82.7 56.9 87.7 58.9 91.7 60.9 96.3 63.9 103.5 70.2 106.8 73.9 109.6 77.9 112.5 83 114.5 87.7 116.9 96.9 117.6 101.9 117.6 106.9 116.5 116 114.8 121.9 112.8 126.9 110.5 131.1 107.5 135.6 104.5 139.3 100.5 143.3 97.3 145.9 92.5 149.2 87.3 151.9 82.5 153.8Z"/><path fill="#ffbb00" d="M70.5 156 61.1 155.9 55.5 155 51.3 153.9 46 151.9 41.9 149.9 34.4 144.9 30.1 140.9 26.5 136.9 21.5 129.3 19.5 125.1 17.5 119.5 16.5 115.4 15.7 109.9 15.6 100.9 16.5 94.9 17.5 90.8 19.5 85.2 21.5 81 26.5 73.5 32.8 66.9 36.6 63.9 41.3 60.9 45.3 58.9 50.5 56.9 54.5 55.8 60.5 54.8 66.5 54.5 71.5 54.8 77.5 55.8 81.5 56.8 87 58.9 91 60.9 98.5 65.9 102.5 69.6 105.6 72.9 108.6 76.9 111.5 81.7 113.5 85.9 115.5 91.7 116.5 95.9 117.2 100.9 117.4 105.9 117 110.9 116.2 115.9 114.5 121.9 112.5 126.8 110.5 130.6 105.3 137.9 98.5 144.6 95.5 146.9 90.5 150 86.5 151.9 81.2 153.9 76.5 155.1Z"/><path fill="#ffb600" d="M75.5 155 66.5 155.8 61.5 155.6 56.5 154.9 51.5 153.6 46.5 151.8 42.5 149.9 37.7 146.9 30.5 140.9 27 136.9 24.1 132.9 21.7 128.9 19.5 124.2 17.7 118.9 16.7 114.9 15.8 105.9 16 100.9 16.6 95.9 17.8 90.9 19.5 86.1 23.7 77.9 26.5 74 29.5 70.5 33.3 66.9 37.2 63.9 41.5 61.2 46.2 58.9 50.5 57.3 55.7 55.9 61.5 55 66.5 54.8 71.5 55.1 76.5 55.9 81.5 57.2 86.2 58.9 90.5 61 94.5 63.4 98.5 66.4 102.4 69.9 105.5 73.3 108.5 77.3 111.3 81.9 113.5 86.7 115.2 91.9 116.2 95.9 117.1 104.9 116.8 109.9 116.1 114.9 113.4 123.9 111.1 128.9 108 133.9 104.9 137.9 101.5 141.5 97.6 144.9 93.5 147.8 88.5 150.6 84.5 152.4 80.5 153.8Z"/><path fill="#ffb100" d="M73.5 155 68.5 155.5 63.5 155.4 58.5 154.9 53.7 153.9 49.5 152.6 44.5 150.5 36.5 145.6 32.5 142.3 29.1 138.9 23.5 131.4 21.1 126.9 19 121.9 16.8 112.9 16.2 107.9 16.2 102.9 16.7 97.9 17.5 93.6 18.8 88.9 20.8 83.9 25.5 75.9 31.6 68.9 35.5 65.6 39.5 62.8 43.5 60.5 48.5 58.3 53.5 56.8 58.5 55.7 63.5 55.2 68.5 55.2 73.5 55.7 78.5 56.7 83.5 58.2 87.6 59.9 91.5 61.9 96.1 64.9 99.8 67.9 103.5 71.5 106.5 75.1 109.5 79.5 113.6 87.9 115.2 92.9 116.2 97.9 116.7 102.9 116.7 107.9 115.4 116.9 113.9 121.9 112.2 125.9 109.6 130.9 106.9 134.9 103.6 138.9 100.5 142 96.5 145.4 92.5 148.1 88.5 150.3 83.5 152.4 78.8 153.9Z"/><path fill="#ffab00" d="M70.5 155 65.5 155.2 60.5 154.8 51.5 152.9 46.5 151 42.5 149.1 38.5 146.6 34.5 143.6 27.9 136.9 24.9 132.9 22.5 128.9 20.5 124.7 18.7 119.9 17.5 114.9 16.7 109.9 16.5 104.9 16.8 99.9 18.6 90.9 20.4 85.9 22.2 81.9 24.6 77.9 27.5 73.9 30.5 70.5 34.4 66.9 38.4 63.9 42.5 61.5 46.5 59.5 51.5 57.7 56.5 56.4 61.5 55.7 66.5 55.5 71.5 55.8 76.5 56.6 81.5 57.9 86.5 59.8 90.5 61.8 94.5 64.2 98.5 67.2 102.5 70.9 105.5 74.3 108.5 78.5 111.1 82.9 112.9 86.9 114.5 91.6 115.5 95.9 116.3 100.9 116.4 105.9 116.1 110.9 114.2 119.9 112.5 124.5 110.4 128.9 107.5 133.5 104.5 137.4 101.2 140.9 97.5 144.2 93.5 147.1 89.5 149.4 85.5 151.3 80.5 153.1 75.5 154.3Z"/><path fill="#ffa400" d="M75.5 154 70.5 154.7 65.5 154.8 56.5 153.9 51.5 152.6 47.5 151.1 42.9 148.9 38.5 146.2 31.5 140.4 28.3 136.9 25.3 132.9 22.9 128.9 20.5 123.9 17.8 114.9 16.9 105.9 17.1 100.9 17.7 95.9 19 90.9 20.3 86.9 22.5 82.2 25 77.9 28 73.9 31.5 70 38.5 64.3 42.5 61.9 47.5 59.5 51.5 58.1 56.5 56.8 65.5 55.9 70.5 56 75.5 56.7 84.5 59.3 89.5 61.6 93.5 64 97.6 66.9 101.5 70.4 104.7 73.9 107.7 77.9 110.2 81.9 112.5 86.9 114 90.9 115.2 95.9 116.1 104.9 115.9 109.9 115.2 114.9 113.9 119.9 112.4 123.9 110 128.9 107.5 132.9 104.5 136.9 101.5 140.2 97.5 143.8 93.5 146.7 89.5 149 84.5 151.4Z"/><path fill="#ff9e00" d="M73.5 154 68.5 154.5 63.5 154.4 54.5 153.1 49.5 151.5 45.5 149.8 41.5 147.7 37.3 144.9 30.5 138.9 27.2 134.9 24.5 130.9 21.8 125.9 20.2 121.9 17.9 112.9 17.3 107.9 17.3 102.9 18.5 93.9 20 88.9 21.6 84.9 23.6 80.9 26.5 76.4 32.5 69.5 36.5 66.1 40.5 63.4 44.5 61.2 49.5 59.1 58.5 56.8 63.5 56.3 68.5 56.3 77.5 57.5 81.5 58.6 86.5 60.5 91.5 63.1 95.5 65.7 102.5 71.9 105.9 75.9 108.6 79.9 110.8 83.9 113 88.9 114.2 92.9 115.3 97.9 115.8 102.9 115.7 107.9 114.4 116.9 112.8 121.9 111.2 125.9 106.4 133.9 103.2 137.9 99.5 141.6 95.5 144.9 91.5 147.5 87.5 149.7 82.5 151.7Z"/><path fill="#ff9800" d="M70.5 154 65.5 154.2 61.2 153.9 56.5 153.2 51.7 151.9 43.5 148.5 39.3 145.9 35.3 142.9 31.5 139.4 28.4 135.9 25.5 131.9 23.2 127.9 21.3 123.9 19.6 118.9 17.8 109.9 17.6 104.9 17.9 99.9 19.7 90.9 21.5 85.9 23.5 81.9 28.5 74.4 31.6 70.9 35.5 67.4 39.5 64.5 43.5 62.1 47.5 60.3 52.5 58.5 61.5 56.8 66.5 56.6 71.5 56.8 80.5 58.7 85.5 60.5 89.5 62.4 93.5 64.8 97.5 67.7 101.1 70.9 104.5 74.7 107.5 78.7 110 82.9 111.8 86.9 113.6 91.9 115.3 100.9 115.5 105.9 115.2 110.9 113.2 119.9 111.5 124.4 109.3 128.9 106.8 132.9 103.7 136.9 100.5 140.3 96.5 143.7 92.5 146.6 88.5 148.8 84.5 150.6 79.5 152.4Z"/><path fill="#ff9200" d="M75.5 153 66.5 153.8 61.5 153.6 56.9 152.9 52.8 151.9 47.5 150 43.2 147.9 38.5 145 31.5 138.9 28.1 134.9 25.3 130.9 21.3 122.9 18.8 113.9 18.1 108.9 18 103.9 19 94.9 20.1 90.9 21.9 85.9 23.9 81.9 26.5 77.6 29.3 73.9 32.5 70.5 39.5 64.9 47.5 60.6 52.5 58.9 57.5 57.7 66.5 56.9 71.5 57.2 76.5 58 85.5 60.8 89.8 62.9 94.5 65.8 101.6 71.9 104.5 75.2 107.5 79.4 109.6 82.9 111.9 87.9 113.5 92.7 114.4 96.9 115.1 101.9 115.2 106.9 114.7 111.9 114 115.9 112.5 120.9 110.9 124.9 106.5 132.7 103.5 136.6 100.4 139.9 96.5 143.3 92.9 145.9 88.5 148.5 84.5 150.3 79.9 151.9Z"/><path fill="#ff8c00" d="M73.5 153 68.5 153.4 63.5 153.4 59.5 153 54.5 152 45.9 148.9 42.2 146.9 37.7 143.9 31.1 137.9 28.5 134.9 25.5 130.5 21.5 122.4 20 117.9 19 112.9 18.5 108.9 18.3 103.9 19.5 94.5 20.5 90.8 22.5 85.5 24.5 81.5 27.4 76.9 30.5 73.1 33.7 69.9 40.5 64.7 48.5 60.6 53.7 58.9 58.5 57.9 63.5 57.4 68.5 57.3 73.5 57.8 78.5 58.8 87 61.9 92.5 64.9 95.4 66.9 99 69.9 102.5 73.4 105.5 77.1 108.1 80.9 110.5 85.5 112.5 90.6 114.4 98.9 114.8 107.9 113.5 116.5 111.8 121.9 109.6 126.9 107.5 130.6 104.5 134.9 101.5 138.3 97.7 141.9 90.5 147 86.5 149.1 81.9 150.9Z"/><path fill="#ff8600" d="M70.5 153 61.5 152.9 55.6 151.9 52 150.9 46.9 148.9 42.9 146.9 35.8 141.9 32.5 138.9 29.5 135.5 24.5 128 22.5 123.9 20.5 118.1 19 109.9 18.7 104.9 18.9 100.9 19.5 96.4 20.6 91.9 22.5 86.5 24.5 82.3 26.5 78.9 29.5 74.9 33.2 70.9 36.5 68 40.9 64.9 44.4 62.9 51.6 59.9 55.5 58.9 61.2 57.9 66.5 57.7 71.3 57.9 76.5 58.7 80.8 59.9 86.1 61.9 90.1 63.9 97.3 68.9 103.5 75.1 106.5 79.1 108.8 82.9 110.5 86.4 112.5 91.8 113.5 95.6 114.3 100.9 114.4 108.9 113.5 114.9 112.5 118.9 110.5 124.2 108.5 128.3 103.5 135.5 99.5 139.8 95.9 142.9 91.6 145.9 88.1 147.9 80.5 151 76.5 152Z"/><path fill="#ff7f00" d="M74.5 152 69.5 152.6 65.5 152.7 56.5 151.7 52.5 150.6 47.5 148.7 43.5 146.8 39 143.9 32.2 137.9 26.7 130.9 22.6 122.9 20.9 117.9 20 113.9 19.2 104.9 20.1 95.9 21.1 91.9 22.8 86.9 24.7 82.9 27.5 78.3 30.5 74.4 33.5 71.2 40.2 65.9 44.5 63.4 48.5 61.5 52.5 60.1 57.5 58.9 62.5 58.2 67.5 58.1 76.5 59.2 80.5 60.2 85.5 62.1 93.5 66.5 100.5 72.4 103.5 75.7 106.5 79.8 110.5 87.3 112.4 92.9 113.4 96.9 114.1 105.9 113.1 114.9 112.1 118.9 110.2 123.9 108.2 127.9 105.5 132.3 99.5 139.3 92.5 144.9 87.5 147.8 83.5 149.5 79.5 150.9Z"/><path fill="#ff7900" d="M71.5 152 62.5 152.1 58.5 151.6 53.5 150.4 45.5 147.3 41.3 144.9 37.5 142.2 31 135.9 27.9 131.9 25.5 127.9 22 119.9 20.9 115.9 20 110.9 19.8 101.9 21.3 92.9 22.9 87.9 24.7 83.9 29.5 76.4 35.7 69.9 39.5 66.9 43.5 64.4 51.5 60.9 55.5 59.8 60.5 58.9 65.5 58.6 70.5 58.7 79.5 60.4 83.8 61.9 88.2 63.9 95.5 68.5 99.4 71.9 102.2 74.9 107.5 82.3 109.5 86.1 111.4 90.9 112.5 94.9 113.4 99.9 113.7 104.9 113.6 108.9 113.1 112.9 111.9 117.9 108.8 125.9 106.5 130 103.5 134.2 100.5 137.7 97.1 140.9 93.5 143.7 89.5 146.2 84.5 148.6 80.5 150.1 75.5 151.4Z"/><path fill="#ff7300" d="M75.5 150.9 66.5 151.8 61.5 151.6 57.5 151 52.5 149.7 48.5 148.2 44.5 146.3 40.5 143.8 36.7 140.9 33.5 137.9 27.8 130.9 23.6 122.9 22.2 118.9 21 113.9 20.1 104.9 21.1 95.9 22.4 90.9 23.8 86.9 25.8 82.9 28.2 78.9 33.5 72.6 36.5 69.8 40.5 66.8 44.5 64.4 48.5 62.5 53.2 60.9 57.5 59.9 66.5 59 75.5 59.9 80.5 61.2 84.5 62.7 92.5 66.9 99.5 72.6 102.5 75.9 105.5 79.9 107.9 83.9 109.8 87.9 111.3 91.9 112.5 96.9 113.1 100.9 113.3 105.9 112.9 110.9 112.3 114.9 109.7 122.9 107.8 126.9 105.4 130.9 102.5 134.8 99.5 138.1 92.5 143.8 88.5 146.2 84.5 148.2 79.5 150Z"/><path fill="#ff6d00" d="M72.5 151 68.5 151.4 63.5 151.3 58.5 150.7 54.5 149.8 46.5 146.8 42.5 144.6 38.5 141.8 35.1 138.9 31.5 135 26.6 127.9 23 119.9 21.9 115.9 21 110.9 20.7 101.9 21.4 96.9 22.3 92.9 23.6 88.9 25.5 84.5 27.5 80.9 30.3 76.9 33.5 73.2 36.5 70.4 43.5 65.5 51.5 61.9 55.5 60.8 60.5 59.8 69.5 59.6 74.5 60.2 78.5 61.1 86.5 64 90.5 66.2 94.5 68.9 98.1 71.9 101.5 75.4 104.3 78.9 106.9 82.9 110.5 90.9 111.6 94.9 112.5 99.9 112.9 103.9 112.7 108.9 111.3 116.9 108.4 124.9 106.2 128.9 103.5 132.9 100.5 136.4 96.9 139.9 89.5 145.2 81.5 148.9 77.5 150Z"/><path fill="#ff6700" d="M68.5 150.9 63.5 150.9 59.5 150.4 51.5 148.4 43.5 144.6 39.5 142 35.8 138.9 32.5 135.5 29.7 131.9 27.1 127.9 25.1 123.9 22.4 115.9 21.6 111.9 21.1 106.9 21.7 97.9 22.8 92.9 24.1 88.9 25.8 84.9 28.1 80.9 33.5 73.9 39.5 68.7 43.5 66.1 47.5 64 55.5 61.2 59.5 60.5 64.5 60 73.5 60.5 78.5 61.6 82.5 62.8 90.5 66.7 97.4 71.9 100.5 74.9 103.5 78.6 108 85.9 111 93.9 111.8 97.9 112.4 102.9 112.4 107.9 112 111.9 110.9 116.9 109.6 120.9 105.7 128.9 100.4 135.9 97.4 138.9 93.5 142.1 89.5 144.7 85.5 146.8 77.5 149.6 73.5 150.4Z"/><path fill="#ff6000" d="M73.5 150 69.5 150.4 64.5 150.5 56.5 149.4 52.5 148.3 47.5 146.2 40.2 141.9 36.5 138.9 33.5 135.9 28.2 128.9 24.4 120.9 23.1 116.9 22.1 111.9 21.7 107.9 21.6 102.9 22.7 94.9 25.5 86.7 27.4 82.9 30 78.9 33.2 74.9 36.3 71.9 43 66.9 50.5 63.3 55.5 61.7 59.5 60.9 63.5 60.5 68.5 60.5 73.1 60.9 77.5 61.8 85.5 64.6 89.5 66.6 93.5 69.3 99.9 74.9 102.5 78 105.5 82.3 107.5 85.9 109.5 90.7 111.6 98.9 112 102.9 112 107.9 110.7 115.9 107.9 123.9 105.8 127.9 103.2 131.9 97.5 138.2 93.5 141.5 90 143.9 85.5 146.3 81.6 147.9Z"/><path fill="#ff5900" d="M69.5 150 61.5 149.8 56.5 148.9 52.5 147.8 47.8 145.9 44.1 143.9 37.2 138.9 31.5 132.8 29.4 129.9 26.5 124.7 23.5 116.5 22.1 107.9 22.5 98.9 24.4 90.9 28 82.9 33 75.9 39.4 69.9 46.5 65.5 54.5 62.5 58.5 61.6 63.5 61 67.8 60.9 72.5 61.3 80.5 63.1 85.1 64.9 89 66.9 96.1 71.9 99.5 75.2 102.5 78.7 105.4 82.9 107.5 86.9 109.5 91.9 110.5 95.6 111.6 102.9 111.2 110.9 109.4 118.9 107.5 123.8 105.5 127.6 100.5 134.5 97.2 137.9 93.6 140.9 86.5 145.3 78.5 148.4 74.5 149.3Z"/><path fill="#ff5300" d="M73.5 149 65.5 149.6 60.5 149.2 56.5 148.4 51.5 146.9 47.5 145.2 40.5 141 34.5 135.6 29.5 129.1 25.5 121.1 23.2 112.9 22.6 104.9 23.5 95.9 24.6 91.9 26.5 86.9 30.5 79.9 33.5 76.1 36.5 73 43.2 67.9 46.8 65.9 51.5 63.9 59.5 61.9 68.5 61.4 73.3 61.9 77.5 62.8 85.5 65.6 92.8 69.9 96.5 72.9 99.5 75.8 104.5 82.4 108.3 89.9 110.5 97.9 111.1 102.9 111.1 106.9 110.7 111.9 109.8 115.9 108.5 120.2 106.5 124.8 102.5 131.3 99.5 134.9 96.5 137.9 89.9 142.9 86.3 144.9 81.7 146.9Z"/><path fill="#ff4c00" d="M70.5 148.9 65.5 149.1 61.5 148.8 53.5 147 45.5 143.6 38.8 138.9 35.5 135.8 32.5 132.4 30 128.9 27.8 124.9 24.7 116.9 23.3 108.9 23.1 104.9 23.4 99.9 25.2 91.9 26.7 87.9 28.6 83.9 33.5 76.9 39.5 71.2 46.5 66.7 54.5 63.6 62.5 62.1 66.5 61.9 71.5 62.2 79.6 63.9 87.5 67.2 94.5 71.9 100.5 77.7 103.5 81.7 105.5 85 108.8 92.9 109.8 96.9 110.5 101.5 110.4 109.9 109.6 114.9 108.5 118.7 105.4 125.9 100.5 133 94.5 139 87.2 143.9 82.9 145.9 78.5 147.4Z"/><path fill="#ff4600" d="M73.5 148 69.5 148.5 64.5 148.5 56.5 147.3 48.5 144.5 41.5 140.3 35.4 134.9 32.5 131.5 30.1 127.9 27.9 123.9 26.2 119.9 24.2 111.9 23.8 107.9 23.8 102.9 24.9 94.9 27.7 86.9 31.9 79.9 37.2 73.9 43.7 68.9 51.5 65.1 59.5 63 63.5 62.6 68.5 62.5 76.5 63.6 84.5 66.3 88.5 68.4 92.4 70.9 96.1 73.9 99.1 76.9 104.3 83.9 107.6 90.9 109.7 98.9 110.2 103.9 110.1 107.9 108.8 115.9 105.8 123.9 101.5 130.9 96.1 136.9 89.5 141.9 85.5 144.2 81.5 145.9Z"/><path fill="#ff3f00" d="M69.5 147.9 61.5 147.7 53.5 145.9 49.5 144.4 45.5 142.3 41.8 139.9 38.5 137.2 32.8 130.9 28.5 123.9 25.6 115.9 24.4 107.9 24.6 99.9 26.4 91.9 29.5 84.7 31.9 80.9 34.5 77.5 40.5 71.8 47.5 67.5 55.5 64.5 63.5 63.1 67.5 63 72.5 63.4 80.5 65.3 88.5 69 95.3 73.9 100.9 79.9 105.3 86.9 107 90.9 108.3 94.9 109.6 102.9 109.3 110.9 107.4 118.9 105.8 122.9 103.6 126.9 98.5 133.8 92.5 139.3 85.5 143.6 77.5 146.6Z"/><path fill="#ff3800" d="M73.5 146.9 65.5 147.5 57.5 146.5 49.5 143.8 42.5 139.7 36.5 134.5 31.4 127.9 29.2 123.9 27.5 119.9 25.4 111.9 24.9 103.9 25.9 95.9 28.5 87.9 32.6 80.9 37.8 74.9 44.5 69.8 51.5 66.3 59.5 64.2 64.5 63.6 68.5 63.6 76.5 64.7 84.5 67.5 91.5 71.6 97.6 76.9 100.5 80.2 103 83.9 106.5 90.9 108.7 98.9 109.1 106.9 108 114.9 105.2 122.9 101 129.9 95.5 136.1 88.5 141.3 81.5 144.8Z"/><path fill="#ff3200" d="M68.5 146.9 64.5 146.9 59.5 146.3 51.5 144 45.3 140.9 38.7 135.9 33.4 129.9 29.3 122.9 26.5 114.8 25.5 106.9 25.9 98.9 27.9 90.9 29.7 86.9 31.9 82.9 36.5 77 42.5 71.8 49.5 67.8 56.5 65.4 64.5 64.2 69.5 64.2 73.5 64.7 81.5 66.8 88 69.9 94.8 74.9 100.3 80.9 104.6 87.9 107.5 95.9 108.6 103.9 108.1 111.9 105.9 119.9 102.5 126.8 97.5 133.3 91.2 138.9 84.5 142.9 79.6 144.9 76 145.9Z"/><path fill="#ff2b00" d="M72.5 146 68.5 146.4 63.5 146.3 60.2 145.9 55.8 144.9 48.3 141.9 42.5 138.3 36.5 132.8 33.5 129.1 31.5 125.9 28.5 119.4 26.4 110.9 26.2 101.9 27.5 94.2 30.3 86.9 34.5 80.3 39.5 74.9 46.5 69.9 53.5 66.8 56.6 65.9 62.4 64.9 70.4 64.9 77.5 66.2 84.8 68.9 91.5 72.9 97.5 78.4 102.5 85.2 105.5 91.3 106.5 94.2 107.7 99.9 108 107.9 107.6 111.9 106.7 115.9 105.5 119.6 103.6 123.9 99.7 129.9 94.1 135.9 90.3 138.9 87.2 140.9 80.8 143.9Z"/><path fill="#ff2400" d="M74.5 145 66.5 145.7 58.8 144.9 52.1 142.9 44.5 138.9 38.5 133.9 33.5 127.7 31.5 124.3 29.5 119.9 27.5 112.9 26.8 104.9 27.6 96.9 29.8 89.9 33.5 82.9 38.5 76.9 44.5 72 51.5 68.4 58.5 66.3 65.5 65.5 73.5 66 80.6 67.9 85.2 69.9 88.7 71.9 95.1 76.9 100.5 83.2 102.5 86.4 104.6 90.9 106.7 97.9 107.5 105.9 107.2 109.9 106.5 114.2 104.3 120.9 100.4 127.9 95.3 133.9 89.1 138.9 81.6 142.9Z"/><path fill="#ff1f00" d="M66.5 144.9 58.5 144 51.5 141.7 44.6 137.9 38.8 132.9 34 126.9 30.4 119.9 28.4 112.9 27.7 104.9 28.5 96.9 30.7 89.9 33.9 83.9 38.7 77.9 44.5 73.1 51.5 69.3 58.5 67.2 66.5 66.3 74.5 67.1 81.5 69.1 88.5 72.7 94.5 77.4 99.3 82.9 103.4 89.9 105.7 96.9 106.5 100.9 106.7 104.9 106 112.9 103.8 119.9 100.1 126.9 95.2 132.9 89.5 137.7 82.5 141.6 74.5 144.1Z"/><path fill="#ff1900" d="M69.5 144 61.5 143.7 54.5 142 47.5 138.7 41.5 134.3 36.5 128.9 32.8 122.9 30 115.9 28.7 107.9 28.8 100.9 30.5 93.1 33.5 86.3 37.5 80.5 40.5 77.4 43.5 74.9 49.5 71.2 56.5 68.6 63.5 67.3 71.5 67.5 79.5 69.3 86.5 72.5 92.5 76.8 97.5 81.9 99.7 84.9 102 88.9 104.7 95.9 105.8 102.9 105.5 110.9 103.7 117.9 100.4 124.9 95.9 130.9 90.5 135.9 83.5 140.2 76.5 142.8Z"/><path fill="#ff1300" d="M71.5 143 64.5 143.2 57.5 142 50.5 139.4 44.8 135.9 39.3 130.9 34.9 124.9 31.6 117.9 29.9 110.9 29.5 102.9 30.6 95.9 33.2 88.9 36.8 82.9 41.5 77.7 47.5 73.3 53.5 70.4 61.5 68.4 69.5 68.1 76.5 69.3 83.5 71.8 89.5 75.4 95.5 80.8 100 86.9 103.2 93.9 104.9 100.9 105.1 104.9 105 108.9 103.6 115.9 100.6 122.9 96.6 128.9 91.5 134.1 85.5 138.3 78.5 141.4Z"/><path fill="#ff0e00" d="M72.5 142 64.5 142.3 60.7 141.9 56.5 140.9 51.4 138.9 45.5 135.3 40.5 130.9 36.5 125.9 34.5 122.6 32.5 118 31 111.9 30.5 108.7 30.4 103.9 31.3 96.9 33.2 90.9 35.2 86.9 37.2 83.9 41.5 78.9 46.5 74.9 52.5 71.7 59.5 69.6 67.5 69 75.2 69.9 81.7 71.9 87.3 74.9 93.5 80 98.3 85.9 101.5 91.7 103.7 98.9 104.3 105.9 103.5 112.9 101.5 119.3 99.7 122.9 97.5 126.4 92.7 131.9 87.5 136.1 80.3 139.9Z"/><path fill="#ff0800" d="M73.5 139.1 66.5 139.7 60.5 139.1 54.5 137.3 48.5 134.1 43.4 129.9 39.3 124.9 36 118.9 34.1 112.9 33.3 106.9 33.7 99.9 35.6 92.9 38.5 87.1 42.6 81.9 47.5 77.7 53.5 74.4 59.5 72.5 65.5 71.8 72.5 72.2 79.5 74.1 85.5 77 91.5 81.7 96.1 86.9 99.2 91.9 101.2 97.9 101.8 105.9 100.8 112.9 98.8 118.9 95.5 124.7 90.5 130.5 85.5 134.3 79.5 137.3Z"/></g></g><g clip-path="url(#c1)"><g filter="url(#b1)"><circle cx="226.9" cy="104.6" r="66.3" fill="#0629f3"/><path fill="#0034ff" d="M233.6 167.4 229.6 167.9 222.6 167.8 215.6 166.9 210.6 165.8 204.6 163.9 199.6 161.7 192.6 157.8 188.6 154.9 183.6 150.6 180.3 147.3 176.1 142.3 172.2 136.3 169.1 130.3 167.1 125.3 165.1 118.3 164.1 112.3 164 97.3 166 87.3 168.1 81.3 172 73.3 175.1 68.3 178.2 64.3 186.6 55.9 190.6 52.8 195.6 49.7 201.6 46.7 206.6 44.7 213.6 42.7 218.6 41.8 225.6 41.5 233.6 41.7 240.6 42.8 241.7 43.3 244.6 43.8 254.6 47.7 258.6 49.8 264.6 53.8 270.6 58.9 273.8 62.3 278 67.3 283 75.3 286.2 82.3 287.6 87.4 288.1 88.3 289.2 93.3 290 99.3 290.1 109.3 289.2 116.3 287.1 124.3 286.6 125 285.2 129.3 282.2 135.3 279.2 140.3 276.1 144.3 266.6 153.8 262.6 156.8 257.6 159.9 251.6 162.9 247.3 164.3 246.6 164.8 238.6 166.9Z"/><path fill="#0040ff" d="M227.6 167.3 221.6 167.2 216.6 166.5 209.6 165 203.6 162.9 197.6 160.1 192.6 157.1 187.6 153.5 182.9 149.3 176.8 142.3 174 138.3 168.8 128.3 166.7 122.3 165.1 115.3 164.2 105.3 164.3 100.3 165 94.3 166.9 86.3 169.1 80.3 172 74.3 175.1 69.3 178.8 64.3 182.6 60.3 186.6 56.5 191.6 52.8 196.6 49.7 202.6 46.8 208.6 44.6 212.6 43.5 217.6 42.5 226.6 41.9 231.6 42 237.6 42.8 245.6 44.7 250.6 46.5 255.6 48.8 260.6 51.6 266.6 56 271.4 60.3 275.8 65.3 279.5 70.3 282.4 75.3 285.2 81.3 287.3 87.3 288.9 94.3 289.7 104.3 289.4 111.3 288.4 117.3 286.9 123.3 285.1 128.3 282.3 134.3 279.2 139.3 276.4 143.3 271.6 148.7 265.6 154 261.6 156.9 252.6 161.9 247.6 163.9 240.6 165.9 233.6 167.1Z"/><path fill="#004dff" d="M235.6 166.4 230.6 167 222.6 167 214.6 165.9 210.6 165 204.6 163 199.6 160.8 194.6 158.1 189.6 154.7 181.4 147.3 177.1 142.3 173.1 136.3 170 130.3 168 125.3 166 118.3 165 113.3 164.6 106.3 164.7 100.3 165 96.3 166.1 90.3 168.2 83.3 170.3 78.3 174.1 71.3 176.9 67.3 181 62.3 185.6 57.8 190.6 53.8 195.6 50.6 200.6 48 205.6 45.9 212.6 43.8 218.6 42.7 226.6 42.2 231.6 42.4 235.6 42.7 241.6 43.9 247.6 45.6 252.6 47.6 258.6 50.7 264.6 54.8 269.6 59 272.9 62.3 277.1 67.3 281 73.3 284.1 79.3 286.1 84.3 288 91.3 289.1 97.3 289.4 103.3 289.2 110.3 288.2 117.3 287.2 121.3 285.2 127.3 283 132.3 280.2 137.3 276 143.3 271.5 148.3 266.6 152.9 262.6 155.9 257.6 159.1 251.6 162 246.6 164 239.6 165.8Z"/><path fill="#0059ff" d="M234.6 166.3 229.6 166.8 222.6 166.7 215.6 165.8 210.6 164.7 204.6 162.7 199.6 160.5 194.6 157.8 188.6 153.6 183.6 149.2 179 144.3 175.3 139.3 172.3 134.3 169.4 128.3 167.3 122.3 165.2 112.3 164.8 105.3 165 98.3 166.1 91.3 167.2 87.3 169.2 81.3 171 77.3 173.2 73.3 177.2 67.3 181.3 62.3 185.6 58.2 189.6 54.8 195.6 50.9 201.6 47.8 206.6 45.8 213.6 43.8 219.6 42.8 226.6 42.5 233.6 42.7 240.6 43.9 244.6 44.9 250.6 47.1 256.6 49.9 261.6 52.9 265.6 55.8 270.6 60.3 275.2 65.3 278.9 70.3 281.9 75.3 284.3 80.3 286.2 85.3 288 92.3 288.9 98.3 289.2 104.3 289 110.3 288.1 116.3 287 121.3 285 127.3 282.2 133.3 278 140.3 274.9 144.3 270.6 149 266.6 152.6 262.6 155.7 257.6 158.8 251.6 161.8 246.6 163.7 239.6 165.6Z"/><path fill="#0066ff" d="M232.6 166.4 227.6 166.7 221.6 166.4 215.6 165.6 207.6 163.6 202.6 161.7 196.6 158.7 191.6 155.6 187.6 152.5 183 148.3 179.3 144.3 176.3 140.3 172.5 134.3 170.1 129.3 168.2 124.3 166.3 117.3 165.3 111.3 165 104.3 165.3 98.3 166.2 92.3 167.4 87.3 169.5 81.3 172.3 75.3 175.3 70.3 178.2 66.3 182.6 61.3 186.9 57.3 192.6 53 197.6 50 203.6 47.2 209.6 45.1 214.6 43.9 220.6 42.9 226.6 42.6 233.6 43 239.6 43.9 244.6 45.2 249.6 46.9 256.6 50.2 261.6 53.2 266.6 56.9 270.6 60.6 274.9 65.3 278 69.3 282.2 76.3 284.9 82.3 286.8 88.3 288 93.3 288.8 99.3 289 105.3 288.8 110.3 287.9 116.3 285.8 124.3 283.9 129.3 280.9 135.3 277 141.3 273.8 145.3 269.6 149.7 265.4 153.3 260.6 156.7 255.6 159.7 251.6 161.6 245.6 163.8 238.6 165.6Z"/><path fill="#0073ff" d="M230.6 166.3 224.6 166.4 218.6 165.9 211.6 164.5 207.6 163.3 202.6 161.4 196.6 158.5 191.6 155.3 186.6 151.4 182.3 147.3 178 142.3 174.5 137.3 171.7 132.3 169.5 127.3 167.5 121.3 166.3 116.3 165.3 109.3 165.2 103.3 165.5 98.3 166.4 92.3 168.3 85.3 170.6 79.3 173.1 74.3 176.3 69.3 180.1 64.3 183.9 60.3 188.6 56.2 193.6 52.6 199.6 49.2 204.6 47 210.6 45 216.6 43.7 222.6 43 227.6 42.8 233.6 43.2 239.6 44.1 246.6 46 251.6 47.9 257.6 51 262.6 54.1 267.6 58.1 272 62.3 276.2 67.3 279.7 72.3 282.9 78.3 285 83.3 286.9 89.3 288 94.3 288.7 101.3 288.8 107.3 288.1 114.3 286.8 120.3 284.9 126.3 282.8 131.3 279.6 137.1 276.8 141.3 272.6 146.3 268.6 150.3 263.6 154.4 258.6 157.7 253.6 160.4 248.6 162.6 242.6 164.4 236.6 165.7Z"/><path fill="#0080ff" d="M237.6 165.3 231.6 166.1 225.6 166.2 219.6 165.8 213.6 164.8 208.6 163.4 202.6 161.2 196.7 158.3 191.6 155.1 186.8 151.3 182.5 147.3 178.2 142.3 174.8 137.3 171.9 132.3 169.3 126.3 167.6 121 166.3 115.3 165.6 109.3 165.4 103.3 165.8 97.3 166.8 91.3 168.5 85.3 170.6 79.8 173.4 74.3 176.5 69.3 180.4 64.3 184.2 60.3 188.6 56.4 193.6 52.8 198.6 50 204.6 47.2 210.6 45.2 216.6 43.9 222.6 43.2 228.6 43.1 234.6 43.5 240.6 44.6 246.6 46.2 251.6 48.2 257.6 51.2 262.6 54.4 267.6 58.3 271.8 62.3 276 67.3 279.5 72.3 282.7 78.3 284.8 83.3 286.7 89.3 287.8 94.3 288.5 100.3 288.6 106.3 288 113.3 286.9 119.3 285.1 125.3 283 130.3 280.4 135.3 277.2 140.3 273.6 144.9 269.4 149.3 264.6 153.4 259.6 156.9 254.6 159.7 248.6 162.3 243.6 164Z"/><path fill="#008eff" d="M236.6 165.3 230.6 166 224.6 166 218.6 165.5 212.6 164.4 206.6 162.6 201.6 160.6 195.6 157.4 190.9 154.3 185.9 150.3 181.9 146.3 177.7 141.3 174.6 136.7 171.7 131.3 169.5 126.3 167.6 120.2 166.4 114.3 165.7 108.3 165.6 102.3 166.1 96.3 167.3 90.3 169 84.3 171.5 78.3 174.2 73.3 177.5 68.3 181.6 63.3 185.5 59.3 190.4 55.3 194.8 52.3 200.3 49.3 205.6 47.1 211.6 45.2 217.6 43.9 223.6 43.3 229.6 43.3 235.6 43.8 241.6 45 247.6 46.8 252.6 48.8 258.6 52 263.6 55.3 268.4 59.3 272.4 63.3 276.5 68.3 279.6 72.9 282.6 78.5 284.6 83.3 286.6 89.6 287.8 95.3 288.4 101.3 288.4 107.3 287.9 113.3 286.7 119.3 284.9 125.3 282.8 130.3 279.7 136.3 276.6 140.9 272.6 145.8 268.6 149.8 263.6 154 258.6 157.3 253.6 160 247.6 162.5 242.6 164.1Z"/><path fill="#009bff" d="M234.6 165.4 228.6 165.9 222.6 165.7 215.6 164.8 210.6 163.6 204.6 161.6 199.6 159.4 194.6 156.6 189.8 153.3 185.1 149.3 181.2 145.3 177.2 140.3 174 135.3 171.4 130.3 169 124.3 167.3 118.3 166.3 112.3 165.8 106.3 165.9 100.3 166.6 94.6 168 88.3 170 82.3 172.2 77.3 175 72.3 178.6 67.1 182.6 62.5 187 58.3 192.1 54.3 196.9 51.3 203 48.3 208.4 46.3 213.6 44.9 219.6 43.9 225.6 43.5 231.6 43.6 237.3 44.3 243.6 45.7 248.5 47.3 254.6 50 259.6 52.8 264.6 56.3 269.2 60.3 273.1 64.3 277 69.3 280.2 74.3 282.8 79.3 285.1 85.3 286.8 91.3 287.9 97.3 288.3 103.3 288.1 109.3 287.2 116.3 286 121.3 283.9 127.3 281.7 132.3 278.8 137.3 275.3 142.3 271.6 146.6 267.6 150.5 262.6 154.5 257.6 157.7 252.6 160.3 246.6 162.7 240.6 164.4Z"/><path fill="#00a9ff" d="M233.6 165.3 227.6 165.7 221.6 165.5 215.6 164.6 210.1 163.3 204.3 161.3 198.6 158.7 194.5 156.3 188.9 152.3 184.6 148.5 180.6 144.3 176.6 139 173.6 134.2 170.6 127.9 168.6 122.3 167.3 117.3 166.3 111.3 166 105.3 166.2 99.3 167.2 92.3 168.5 87.3 170.2 82.3 172.6 77 175.6 71.7 179.5 66.3 183.6 61.7 187.6 58 192.6 54.2 197.6 51.1 203.5 48.3 209.1 46.3 213.6 45.1 219.6 44.1 225.6 43.7 231.6 43.8 236.1 44.3 243.6 45.9 249.6 48 254.6 50.2 259.6 53 264.3 56.3 268.6 59.9 272.8 64.3 276.8 69.3 280 74.3 282.6 79.3 285 85.3 286.6 91.3 287.7 97.3 288.1 103.3 287.9 109.3 287 116.3 285.8 121.3 283.7 127.3 281.6 132.1 278.6 137.3 275.1 142.3 270.7 147.3 266.4 151.3 261.1 155.3 256.2 158.3 249.8 161.3 244 163.3 238.6 164.6Z"/><path fill="#00b6ff" d="M231.6 165.4 221.9 165.3 214.9 164.3 207.6 162.3 202.4 160.3 196.6 157.4 188 151.3 183.6 147.3 179.6 142.7 175.6 137.1 172.6 131.8 170.6 127.3 168.5 121.3 167.3 116.3 166.4 109.3 166.2 103.3 166.6 97.5 167.6 91.5 169.3 85.3 171.6 79.5 174.3 74.3 177.5 69.3 180.6 65.3 185.3 60.3 190.1 56.3 194.6 53.1 199.6 50.3 204.1 48.3 209.8 46.3 214.6 45.1 221.6 44.1 227.6 43.9 233.6 44.2 239.6 45.1 244.2 46.3 250 48.3 256.2 51.3 262.6 55.3 266.4 58.3 271.6 63.2 275.6 68 278.6 72.3 281.6 77.7 283.7 82.3 285.6 88 286.9 93.3 287.7 99.3 287.7 110.3 286.8 116.3 285.6 121.3 283.6 127.2 280.8 133.3 277.8 138.3 274.6 142.6 270.4 147.3 264.9 152.3 260.6 155.4 255.6 158.4 249.3 161.3 243.3 163.3 238.6 164.4Z"/><path fill="#00c3ff" d="M228.6 165.3 223.6 165.2 216 164.3 211.6 163.3 205.4 161.3 200.8 159.3 195.3 156.3 189.6 152.4 186.1 149.3 179.5 142.3 176.6 138.3 172.6 131.3 170.6 126.8 168.6 120.8 167.5 116.3 166.5 108.3 166.6 99.4 167.6 92.6 169.6 85.1 171.6 80 174.6 74.1 178.5 68.3 182.6 63.4 185.7 60.3 190.6 56.2 196.4 52.3 200.2 50.3 204.6 48.3 210.6 46.3 214.6 45.3 222.6 44.2 232.8 44.3 239.4 45.3 246.7 47.3 251.7 49.3 257.6 52.3 263.6 56.3 267.2 59.3 270.6 62.5 275.6 68.3 279.6 74.3 281.6 78.1 283.6 82.7 285.6 88.7 286.7 93.3 287.7 101.3 287.6 109 286.6 116.3 285.6 120.7 283.7 126.3 281.6 131.2 278.6 136.6 274.6 142.3 271.6 145.7 264.6 152.3 258.8 156.3 253.3 159.3 248.7 161.3 242.6 163.3 237.6 164.4Z"/><path fill="#00d1ff" d="M235.6 164.4 229.6 164.9 224.6 164.9 217.7 164.3 212.7 163.3 203.6 160.3 197.5 157.3 192.6 154.2 187.6 150.3 182.6 145.4 179.6 141.9 175.7 136.3 172.6 130.6 170.7 126.3 168.8 120.3 167.6 114.9 166.7 104.3 166.9 100.3 167.8 93.3 169.6 86.2 171.6 80.8 173.8 76.3 176.7 71.3 179.6 67.3 184.6 61.8 189.6 57.3 193.6 54.4 198.6 51.4 203 49.3 208.3 47.3 216.2 45.3 222.6 44.5 227.6 44.3 238.6 45.4 245.7 47.3 251 49.3 257 52.3 261.7 55.3 265.7 58.3 270.6 62.9 274.6 67.5 278.6 73.2 281.6 78.8 283.6 83.4 285.5 89.3 286.6 94.4 287.4 102.3 287.4 107.3 286.6 114.9 285.6 119.6 283.6 125.9 281.6 130.5 276.5 139.3 272.6 144.3 267.7 149.3 262.7 153.3 258.3 156.3 252.7 159.3 247.9 161.3 241.3 163.3Z"/><path fill="#00deff" d="M232.6 164.4 226.6 164.6 220.7 164.3 214.5 163.3 209.6 162 203.6 159.8 198.4 157.3 193.4 154.3 188.6 150.6 184.6 147 180.6 142.5 176.8 137.3 173.9 132.3 171.6 127.4 169.6 121.7 168.1 115.3 167.3 109.3 167.2 103.3 167.6 97.2 168.6 91.5 170 86.3 172.3 80.3 174.8 75.3 177.9 70.3 181.6 65.6 185.7 61.3 190.3 57.3 194.5 54.3 199.7 51.3 205.6 48.7 211.6 46.8 216.6 45.6 222.6 44.9 228.6 44.8 235.3 45.3 240.7 46.3 245.6 47.7 250.6 49.5 256.6 52.5 261.6 55.7 266.3 59.3 270.6 63.4 274.6 68.1 277.6 72.3 280.6 77.6 283.1 83.3 285.1 89.3 286.4 95.3 286.9 100.3 287.1 106.3 286.6 112.4 285.6 118 284.1 123.3 282.2 128.3 279.6 133.7 276.6 138.5 272.9 143.3 269.3 147.3 264.8 151.3 259.6 155 254.6 157.9 249.5 160.3 243.6 162.3 239.7 163.3Z"/><path fill="#03eafc" d="M237.6 163.3 231.6 164.1 225.6 164.2 219.6 163.8 213.6 162.7 208.6 161.3 203.4 159.3 197.6 156.4 192.7 153.3 187.7 149.3 183.6 145.3 179.6 140.6 176.6 136.2 173.6 130.8 171.6 126.2 169.6 120.1 168.5 115.3 167.8 109.3 167.6 103.3 168 97.3 169.1 91.3 170.4 86.3 172.6 80.7 175.3 75.3 178.4 70.3 182.4 65.3 186.3 61.3 191 57.3 195.3 54.3 200.7 51.3 205.6 49.1 211.2 47.3 216.6 46.1 222.6 45.3 228.6 45.2 233.6 45.5 239.6 46.5 245.6 48.1 251.3 50.3 256.6 53 261.6 56.1 266.6 60.1 270.6 64 274.6 68.7 277.6 73 280.6 78.4 282.6 82.9 284.6 88.9 285.8 94.3 286.6 100.3 286.7 106.3 286.3 111.3 285.4 117.3 283.7 123.3 281.6 128.8 278.8 134.3 275.6 139.3 272.4 143.3 268.6 147.4 264.2 151.3 259.6 154.6 254.6 157.5 248.4 160.3 242.2 162.3Z"/><path fill="#0ff0f0" d="M234.6 163.4 228.6 163.8 222.6 163.6 216.6 162.9 210.6 161.5 204.6 159.4 200.1 157.3 195 154.3 190.8 151.3 186.2 147.3 182.4 143.3 178.6 138.4 175.6 133.6 171.6 124.9 169.6 118.3 168.6 113 168.1 107.3 168.1 101.3 168.6 96.3 169.8 90.3 171.6 84.3 173.7 79.3 176.6 73.9 179.7 69.3 183.6 64.6 188 60.3 193.1 56.3 197.6 53.4 203.6 50.4 208.6 48.5 212.9 47.3 218.6 46.2 224.6 45.6 229.6 45.7 236.3 46.3 241.6 47.4 247.6 49.2 252.6 51.3 258 54.3 262.6 57.4 267.3 61.3 271.6 65.7 275.6 70.8 278.5 75.3 281.5 81.3 283.4 86.3 284.6 90.4 285.7 96.3 286.3 102.3 286.3 107.3 285.6 114 284.5 119.3 282.6 125.3 280.5 130.3 277.6 135.5 273.6 141.3 269.6 145.8 264.8 150.3 260.8 153.3 256 156.3 249.8 159.3 244.6 161.2Z"/><path fill="#1af7e5" d="M229.6 163.3 223.6 163.3 218.6 162.8 213.6 161.8 207.6 160 202.6 158 197.5 155.3 192.6 152.1 187.6 148 183.6 144 179.8 139.3 176.6 134.4 173.9 129.3 171.9 124.3 170.1 118.3 169 112.3 168.6 107.3 168.6 101.3 169.1 96.3 170 91.3 171.8 85.3 173.8 80.3 176.6 74.9 179.6 70.3 183.6 65.3 187.6 61.3 192.5 57.3 197.1 54.3 202.6 51.4 207.6 49.4 213.6 47.6 219.6 46.5 224.6 46.1 230.6 46.2 235.6 46.7 240.6 47.6 246.6 49.4 251.6 51.4 257.1 54.3 261.7 57.3 266.6 61.3 270.6 65.3 274.6 70.1 277.6 74.7 280.6 80.3 282.6 85.3 284.4 91.3 285.4 97.3 285.9 102.3 285.8 108.3 285.1 114.3 284.1 119.3 282.2 125.3 280 130.3 277.3 135.3 273.8 140.3 270.5 144.3 266.4 148.3 261.6 152.2 256.8 155.3 251.6 158 246.6 160.1 240.6 161.8 234.6 162.9Z"/><path fill="#26fed9" d="M235.6 162.3 229.6 162.9 223.6 162.8 217.6 162.1 212.6 161.1 206.6 159.2 202.2 157.3 196.6 154.2 192.6 151.5 187.6 147.4 183.6 143.3 180.4 139.3 177.1 134.3 174.5 129.3 172.4 124.3 170.9 119.3 169.6 113.3 169.1 107.3 169.1 101.3 169.7 95.3 170.8 90.3 172.7 84.3 174.8 79.3 177.5 74.3 180.2 70.3 183.6 66.1 187.6 62 192 58.3 196.6 55.2 201.6 52.4 207.6 49.9 212.6 48.4 218.6 47.2 224.6 46.6 230.6 46.6 236.6 47.3 241.6 48.4 247.6 50.2 252.6 52.4 257.6 55.1 261.6 57.8 266.6 61.9 270.6 65.9 274.2 70.3 277.5 75.3 280.5 81.3 282.5 86.3 283.9 91.3 284.9 96.3 285.4 101.3 285.4 107.3 284.8 113.3 283.6 119.3 281.7 125.3 279.5 130.3 276.7 135.3 274 139.3 269.9 144.3 265.7 148.3 261.6 151.6 256.6 154.9 251.6 157.5 246.6 159.6 241.6 161.1Z"/><path fill="#3affc4" d="M230.6 162.4 225.6 162.4 219.6 162 213.6 160.9 207.6 159.1 198.6 154.9 192.6 151 189.4 148.3 185.6 144.7 181.7 140.3 178.9 136.3 175.9 131.3 174 127.3 171.9 121.3 170.3 114.3 169.7 109.3 169.5 103.3 169.9 97.3 171 91.3 172.1 87.3 173.9 82.3 176.9 76.3 180 71.3 184 66.3 188.6 61.7 192.6 58.4 196.6 55.7 202.6 52.4 206.6 50.7 213.6 48.6 218.6 47.6 223.6 47.1 228.6 47 234.6 47.5 240.6 48.5 244.6 49.6 249.6 51.5 255.6 54.4 260.6 57.6 265.6 61.6 270.4 66.3 274.4 71.3 279.2 79.3 281.4 84.3 283.3 90.3 284.3 95.3 285.1 102.3 285 107.3 284.3 114.3 283.2 119.3 281.3 125.3 279.1 130.3 276.3 135.3 270.2 143.3 266.6 147 261.6 151.1 255.6 155 251.6 157.1 246.6 159.1 240.6 161 235.6 161.9Z"/><path fill="#4fffad" d="M236.6 161.3 231.6 162 225.6 162.1 220.6 161.8 214.6 160.8 207.6 158.7 202.6 156.6 197.6 153.9 191.6 149.7 183.9 142.3 178 134.3 175.4 129.3 173.3 124.3 171.2 117.3 170.3 112.3 169.9 107.3 170 100.3 171 93.3 171.9 89.3 175.2 80.3 177.9 75.3 181.2 70.3 185.5 65.3 189.6 61.4 192.6 58.9 198.6 54.9 207.6 50.8 213.6 49 219.6 47.8 225.6 47.4 231.6 47.5 240.6 48.9 246.6 50.7 251.6 52.8 255.6 54.8 261.6 58.8 266.6 63 269.9 66.3 273.9 71.3 277.2 76.3 280.2 82.3 282.1 87.3 284.2 96.3 284.7 106.3 284.1 113.3 283.1 118.3 281.3 124.3 279.2 129.3 277.1 133.3 273.1 139.3 268.8 144.3 265.6 147.4 261.6 150.7 256.6 154 251.6 156.7 246.6 158.8 239.6 160.8Z"/><path fill="#64ff97" d="M234.6 161.3 228.6 161.8 222.6 161.7 215.6 160.6 211.6 159.7 205.6 157.6 201.6 155.7 196.6 152.9 191.6 149.3 187.6 145.7 183.5 141.3 180.4 137.3 177.3 132.3 174.4 126.3 172.3 120.3 171.2 115.3 170.5 110.3 170.3 100.3 171.1 94.3 172.3 89.3 174.3 83.3 176.1 79.3 178.3 75.3 182.5 69.3 185.9 65.3 190.6 60.9 194.6 57.9 199.6 54.8 205.6 51.9 210.6 50.1 215.6 48.9 220.6 48.1 226.6 47.7 232.6 47.9 238.6 48.8 243.6 50.1 248.6 51.8 253.6 54.1 258.6 57.1 262.6 59.9 266.6 63.4 270.3 67.3 272.8 70.3 276.8 76.3 281 85.3 282.9 91.3 284 97.3 284.4 104.3 284.2 110.3 283 117.3 282 121.3 279.8 127.3 277.8 131.3 274.9 136.3 271.9 140.3 267.6 145.1 263.6 148.7 259.6 151.8 254.6 154.8 245.6 158.8 239.6 160.5Z"/><path fill="#77ff82" d="M231.6 161.4 225.6 161.5 220.6 161.1 215.6 160.3 209.6 158.7 204.6 156.8 199.6 154.3 194.6 151.2 190.6 148.1 186.6 144.3 182.6 139.8 179.4 135.3 176.6 130.3 174.4 125.3 172.4 119.3 171.3 114.3 170.7 109.3 170.5 104.3 170.9 98.3 171.9 92.3 173.2 87.3 175.1 82.3 177.5 77.3 180.6 72.3 183.7 68.3 187.6 64.1 191.9 60.3 196.6 56.9 201.6 54.1 206.6 51.8 211.6 50.2 216.6 49 222.6 48.2 228.6 48 233.6 48.4 238.6 49.1 244.6 50.7 249.6 52.6 254.6 55 259.6 58.1 263.8 61.3 268.1 65.3 271.7 69.3 274.6 73.3 277.6 78.3 279.9 83.3 281.7 88.3 283.2 94.3 284 100.3 284.2 105.3 283.8 111.3 282.8 117.3 281.4 122.3 279.4 127.3 277 132.3 273.8 137.3 270.7 141.3 267 145.3 262.6 149.2 257.6 152.7 252.6 155.6 248.6 157.4 242.6 159.4 237.6 160.6Z"/><path fill="#89ff6d" d="M237.6 160.3 232.6 161 226.6 161.3 221.6 161 215.6 160.1 210.6 158.7 205.6 156.9 200.6 154.6 195.6 151.5 191.3 148.3 187 144.3 183.4 140.3 179.8 135.3 176.9 130.3 174.7 125.3 173 120.3 171.8 115.3 171 109.3 170.8 104.3 171 99.3 171.9 93.3 173.2 88.3 175 83.3 177.3 78.3 180.3 73.3 183.6 68.8 187.6 64.5 191.6 60.9 195.6 57.9 200.6 54.9 205.6 52.6 210.6 50.8 215.6 49.5 221.6 48.6 226.6 48.3 232.6 48.5 238.6 49.4 243.6 50.7 248.6 52.5 253.6 54.8 258.6 57.8 263.6 61.5 267.6 65.2 271.3 69.3 274.3 73.3 277.3 78.3 279.2 82.3 281.1 87.3 282.7 93.3 283.5 98.3 283.9 104.3 283.6 110.3 282.9 115.3 281.4 121.3 279.6 126.3 277.2 131.3 274.2 136.3 271.2 140.3 267.6 144.3 263.6 148 258.6 151.8 253.6 154.7 248.6 157.1 243.6 158.8Z"/><path fill="#9cff58" d="M235.6 160.4 229.6 161 223.6 160.9 217.6 160.2 212.6 159 203.6 155.8 198.6 153.1 193.6 149.8 189.4 146.3 185.5 142.3 182.2 138.3 178.9 133.3 176.3 128.3 174.2 123.3 172.8 118.3 171.8 113.3 171.1 107.3 171.1 102.3 171.7 96.3 172.9 90.3 176.2 81.3 178.8 76.3 182 71.3 185.6 67 189.6 63 193.6 59.7 198.6 56.4 203.6 53.7 208.6 51.7 214.6 50 219.6 49.1 225.6 48.6 231.6 48.7 237.6 49.5 242.6 50.7 248.6 52.8 252.6 54.6 256.6 56.8 261.6 60.2 265.6 63.6 269.3 67.3 273.3 72.3 275.9 76.3 278.5 81.3 280.5 86.3 282 91.3 283.2 97.3 283.6 103.3 283.5 108.3 283 113.3 282 118.3 280.1 124.3 278 129.3 275.2 134.3 272.4 138.3 269.2 142.3 265.2 146.3 260.6 150 256.6 152.7 250.6 155.9 245.6 157.9 239.6 159.6Z"/><path fill="#aeff43" d="M233.6 160.4 228.6 160.7 223.6 160.6 217.6 159.9 212.6 158.8 207.6 157.1 202.6 155 197.6 152.2 192.6 148.6 187.8 144.3 184.1 140.3 181.1 136.3 178.1 131.3 176.1 127.3 173.9 121.3 172.4 115.3 171.7 110.3 171.4 104.3 171.6 99.3 172.3 94.3 173.8 88.3 175.2 84.3 178 78.3 181 73.3 184 69.3 187.6 65.3 191.6 61.6 196.6 57.9 200.6 55.6 206.6 52.8 211.6 51.1 216.6 49.8 221.6 49.1 226.6 48.8 231.6 49 237.6 49.8 242.6 51 247.6 52.7 252.6 54.9 257.6 57.7 262.6 61.4 266.6 64.9 269.8 68.3 272.9 72.3 276.2 77.3 279.1 83.3 280.9 88.3 282.2 93.3 283 98.3 283.4 103.3 283.2 109.3 282.4 115.3 281.2 120.3 279.1 126.3 277.2 130.3 274.2 135.3 271.4 139.3 267.6 143.6 263.6 147.3 259.6 150.4 254.6 153.6 249.6 156.1 244.6 158 238.6 159.6Z"/><path fill="#bfff33" d="M231.6 160.3 226.6 160.5 220.6 160.1 214.6 159 209.6 157.6 204.6 155.6 199.6 153.1 194.6 149.8 190.6 146.6 186.6 142.7 182.9 138.3 180.1 134.3 177.4 129.3 175.2 124.3 173.3 118.3 172.3 113.3 171.8 108.3 171.7 103.3 172.1 97.3 173 92.3 174.4 87.3 176.3 82.3 178.8 77.3 181.3 73.3 185.2 68.3 189 64.3 193.6 60.4 197.6 57.6 202.6 54.8 207.6 52.7 212.6 51.1 217.6 49.9 223.6 49.2 228.6 49.1 234.6 49.6 239.6 50.5 244.6 51.9 249.6 53.8 254.6 56.3 259.6 59.4 263.6 62.5 267.6 66.3 271.1 70.3 274 74.3 277 79.3 279.2 84.3 281 89.3 282.2 94.3 283 100.3 283.1 106.3 282.8 111.3 281.9 116.3 280.3 122.3 278.3 127.3 275.8 132.3 272.6 137.3 269.6 141 265.6 145.2 261.6 148.7 257.6 151.5 252.6 154.4 247.6 156.6 241.6 158.6 236.6 159.7Z"/><path fill="#d0ff24" d="M236.6 159.4 230.6 160.1 225.6 160.2 219.6 159.7 214.6 158.7 209.6 157.3 204.6 155.3 199.6 152.8 194.6 149.5 190.6 146.3 186.6 142.3 183.2 138.3 179.8 133.3 177.2 128.3 175.1 123.3 173.6 118.2 172.6 113.3 172 108.3 172 102.3 172.6 96.3 173.5 91.3 175 86.3 177.1 81.3 179.6 76.5 182.3 72.3 185.5 68.3 189.4 64.3 193.6 60.7 197.6 57.9 202.6 55.1 207.6 53 213.6 51.1 218.6 50 223.6 49.5 229.6 49.4 235.6 50 240.6 51 249.6 54 254.2 56.3 259.6 59.7 263.6 62.8 267.6 66.6 271.6 71.3 274.6 75.7 279 84.3 280.7 89.3 282.1 95.3 282.8 100.3 282.9 106.3 282.6 110.7 281.7 116.3 280 122.3 278.1 127.3 275.6 132.2 272.6 136.8 269.1 141.3 265.2 145.3 261.6 148.3 256.6 151.8 252.2 154.3 247.6 156.4 241.6 158.3Z"/><path fill="#e1ff16" d="M235.6 159.4 229.6 159.9 224.6 159.9 219.6 159.4 213.8 158.3 207.6 156.3 203 154.3 197.7 151.3 193.6 148.4 189.6 145 185.6 140.8 182.6 137 179.6 132.3 177.5 128.3 175.4 123.3 173.6 117.1 172.6 111.4 172.2 106.3 172.4 100.3 173.4 93.3 174.4 89.3 176.5 83.3 178.4 79.3 183.6 71.1 187.6 66.4 190.9 63.3 194.6 60.3 199.6 57 203.6 54.9 208.6 52.9 214.6 51.1 219.6 50.2 224.6 49.7 230.6 49.8 235.6 50.3 240.6 51.3 246.6 53.1 251.6 55.2 260 60.3 263.7 63.3 267.9 67.3 271.6 71.8 274.7 76.3 277.6 81.7 279.6 86.7 280.7 90.3 282 96.3 282.6 101.6 282.6 107.3 282 113.3 281 118.3 279.6 122.9 277.6 127.8 274.7 133.3 272 137.3 268.6 141.4 264.8 145.3 259.9 149.3 256.6 151.6 251.6 154.3 246.6 156.5 240.8 158.3Z"/><path fill="#f2ff08" d="M233.6 159.4 226.6 159.6 220.6 159.3 211.3 157.3 205.9 155.3 201.7 153.3 196.7 150.3 192.7 147.3 185.5 140.3 182.4 136.3 178.6 129.9 176.6 125.6 174.6 119.8 173.5 115.3 172.6 108.6 172.6 100.8 173.6 93.6 174.6 89.5 176.6 83.8 178.6 79.5 181.6 74.3 184.6 70.2 188.6 65.9 192.5 62.3 196.6 59.2 201.5 56.3 205.7 54.3 211.2 52.3 220.7 50.3 230.6 50 239.6 51.3 248.8 54.3 254.8 57.3 259.5 60.3 266.6 66.4 270.6 70.9 273.7 75.3 276.6 80.3 278.6 84.8 280.6 90.7 281.8 96.3 282.3 106.3 281.8 113.3 280.7 118.3 278.6 124.8 276.6 129.3 271.6 137.4 267.6 142.1 264.4 145.3 259.5 149.3 254.8 152.3 248.9 155.3 243.4 157.3 239.6 158.3Z"/><path fill="#f8f703" d="M229.6 159.3 224.5 159.3 216.7 158.3 209.4 156.3 200.6 152.3 194.5 148.3 189.8 144.3 183.6 137.3 179.8 131.3 177.6 127 174.6 118.4 173.6 113.7 172.9 106.3 173.6 95.3 174.6 91 176.6 84.8 178.6 80.3 181.6 75.1 187.6 67.4 190.8 64.3 195.6 60.4 200.5 57.3 204.4 55.3 212.5 52.3 216.7 51.3 224.6 50.3 230.6 50.4 237.6 51.3 245.2 53.3 250.1 55.3 255.8 58.3 261.6 62.3 263.9 64.3 270.6 71.5 274.6 77.3 276.6 81.1 278.6 85.7 280.6 92.1 281.6 97.3 281.9 102.3 281.5 113.3 280.6 117.5 278.6 123.9 274.6 132.3 270.6 138.1 267.6 141.6 261.6 147.3 257.5 150.3 250.3 154.3 245.4 156.3 238.1 158.3Z"/><path fill="#fdee01" d="M234.6 158.3 229.6 158.8 224.6 158.8 219.6 158.3 213.6 157 208.2 155.3 203.6 153.3 198.3 150.3 194.6 147.7 190.6 144.3 186.6 140.1 183.6 136.3 180.6 131.7 176.6 123 175.2 118.3 174 112.3 173.5 107.3 173.5 101.3 174.1 96.3 175.1 91.3 176.6 86.4 178.6 81.6 180.9 77.3 184.2 72.3 187.6 68.2 191.6 64.3 195.3 61.3 200.6 57.9 204.6 55.8 209.6 53.8 214.8 52.3 220.3 51.3 225.6 50.9 230.6 50.9 236.6 51.6 241.6 52.8 246.4 54.3 251.1 56.3 256.4 59.3 260.7 62.3 264.6 65.6 268.6 69.8 271.6 73.6 274.6 78.3 278.6 87.1 280.1 92.3 281.1 97.3 281.6 102.3 281.5 107.3 280.9 113.3 279.9 118.3 278.3 123.3 276.1 128.3 273.6 132.9 270.6 137.3 267.2 141.3 263.1 145.3 259.4 148.3 254.9 151.3 249.6 154 244.6 156 240.1 157.3Z"/><path fill="#ffe200" d="M236.6 157.5 230.6 158.2 226.6 158.3 217.3 157.3 213.1 156.3 207.3 154.3 201.1 151.3 196.4 148.3 191.6 144.4 187.6 140.4 183.6 135.3 181.7 132.3 177.6 123.9 175.6 117.6 174.6 112.5 174.1 102.3 174.5 97.3 175.6 91.8 178.6 83.1 181.6 77.3 183.6 74.2 186.6 70.3 190.3 66.3 193.7 63.3 197.8 60.3 202.9 57.3 207.3 55.3 213.3 53.3 217.7 52.3 227.6 51.5 236.9 52.3 241.3 53.3 247.3 55.3 253.6 58.3 258.4 61.3 262.2 64.3 266.5 68.3 269.6 71.9 272.7 76.3 275.6 81.4 277.6 86 279.6 92.3 280.5 97.3 281 107.3 280.6 111.9 279.6 117.2 277.7 123.3 275.6 128.2 270.6 136.4 267.4 140.3 263.6 144.1 259.8 147.3 255.4 150.3 247.6 154.3 241.8 156.3Z"/><path fill="#ffd400" d="M231.6 157.4 226.6 157.5 221.6 157.2 216.1 156.3 211.6 155.1 206.8 153.3 202.6 151.3 197.7 148.3 193.6 145.1 189.6 141.4 186.6 138 183.6 133.9 180.9 129.3 178.6 124.3 176.9 119.3 175.7 114.3 175 109.3 174.8 104.3 175.1 99.3 175.9 94.3 177.1 89.3 178.9 84.3 180.8 80.3 183.6 75.6 186.8 71.3 190.4 67.3 193.7 64.3 197.7 61.3 202.6 58.4 207.6 56 212.6 54.3 217.6 53.1 222.6 52.4 228.6 52.2 233.6 52.6 238.6 53.4 243.6 54.7 248.6 56.6 252.6 58.6 257.6 61.6 261.6 64.7 265.5 68.3 268.6 71.8 271.6 75.9 274.3 80.3 276.6 85.3 278.3 90.3 279.5 95.3 280.2 100.3 280.4 105.3 280.1 110.3 279.3 115.3 278 120.3 276.2 125.3 273.6 130.5 270.6 135.2 267.6 139 263.6 143.2 260 146.3 255.7 149.3 251.6 151.7 246.6 153.9 241.6 155.6 236.6 156.7Z"/><path fill="#ffca00" d="M233.6 156.4 227.6 156.8 222.6 156.5 217.6 155.8 212.6 154.6 207.6 152.8 203.6 150.9 199.2 148.3 195 145.3 191.6 142.3 187.9 138.3 184.9 134.3 182.4 130.3 179.9 125.3 178 120.3 176.7 115.3 176 110.3 175.7 105.3 175.8 100.3 176.5 95.3 177.7 90.3 179.4 85.3 181.6 80.6 184.1 76.3 187 72.3 190.6 68.3 193.8 65.3 197.7 62.3 202.6 59.3 207.6 56.9 211.6 55.5 216.6 54.1 221.6 53.3 226.6 53 231.6 53.2 236.6 53.8 241.6 55 246.6 56.7 251.6 58.9 255.7 61.3 259.9 64.3 263.6 67.5 267.2 71.3 270.3 75.3 272.8 79.3 274.9 83.3 276.9 88.3 278.6 94.3 279.4 99.3 279.7 104.3 279.5 109.3 278.8 114.3 277.6 119.2 275.8 124.3 273.6 129 271 133.3 268.1 137.3 264.5 141.3 260.6 144.8 256.6 147.8 252.6 150.3 247.6 152.7 243.3 154.3 238.6 155.6Z"/><path fill="#ffc500" d="M231.6 156.3 222.6 156.3 217.6 155.5 212.6 154.3 207.6 152.5 203.1 150.3 198.6 147.6 194.3 144.3 190.6 140.8 187.5 137.3 184.5 133.3 181.6 128.3 179.6 123.8 178.1 119.3 176.9 114.3 176.2 109.3 176 104.3 176.2 99.3 177 94.3 178.3 89.3 180.1 84.3 182.6 79.3 185.1 75.3 188.2 71.3 191.6 67.7 195.5 64.3 199.7 61.3 203.6 59.1 208.6 56.8 213.6 55.2 218.6 54 223.6 53.4 228.6 53.3 234.6 53.8 239.6 54.8 244.6 56.2 249.6 58.2 253.5 60.3 257.6 62.9 261.6 66.1 265 69.3 268.6 73.5 273.6 81.3 275.9 86.3 277.6 91.4 278.7 96.3 279.3 101.3 279.4 106.3 279 111.3 278.1 116.3 276.6 121.3 274.6 126.3 272.6 130.2 270 134.3 266.9 138.3 263.6 141.8 259.6 145.3 251.6 150.5 246.6 152.8 241.6 154.5 236.6 155.7Z"/><path fill="#ffc000" d="M236.6 155.4 227.6 156.2 222.6 156 217.6 155.2 213.6 154.3 207.9 152.3 203.7 150.3 198.7 147.3 194.8 144.3 190.6 140.4 187.6 137 184.6 132.8 181.6 127.6 179.7 123.3 177.2 114.3 176.5 109.3 176.3 103.3 176.6 98.8 177.5 93.3 178.6 89.3 180.6 84 182.6 80 185.5 75.3 188.6 71.3 192.5 67.3 196 64.3 200.3 61.3 208.6 57.1 214.2 55.3 218.9 54.3 224.6 53.7 229.6 53.7 234.6 54.1 239.6 55.1 243.9 56.3 249 58.3 252.9 60.3 257.6 63.3 261.6 66.5 265.6 70.3 268.6 73.9 271.6 78.3 275.6 86.3 277.5 92.3 278.6 97.3 279 102.3 279 107.3 278.6 112.1 277.6 117.2 274.6 125.7 272.6 129.7 269.6 134.4 266.5 138.3 262.7 142.3 259.1 145.3 254.9 148.3 246.6 152.5 241.4 154.3Z"/><path fill="#ffbb00" d="M234.6 155.4 229.6 155.9 224.6 155.8 219.6 155.3 214.6 154.2 208.7 152.3 204.6 150.4 200.6 148.2 196.5 145.3 189.6 138.9 186.6 135.2 183.6 130.6 179.6 122 177.9 116.3 177 111.3 176.6 106.3 176.7 101.3 177.5 95.3 178.6 90.5 181.8 82.3 186.6 74.3 192.9 67.3 196.5 64.3 200.9 61.3 206.6 58.3 211.6 56.4 220.6 54.4 225.6 54 230.6 54 239.6 55.4 245.6 57.2 250.4 59.3 258.6 64.4 265.6 70.8 268.6 74.4 271.9 79.3 274.4 84.3 276 88.3 277.5 93.3 278.4 98.3 278.8 107.3 277.5 116.3 275.7 122.3 273.6 127.2 268.6 135.3 264.6 140 261.1 143.3 257.3 146.3 252.6 149.3 248.7 151.3 243.6 153.3Z"/><path fill="#ffb600" d="M232.6 155.3 227.6 155.6 222.1 155.3 216.6 154.4 212.5 153.3 207.2 151.3 203.2 149.3 195.6 144.2 191.6 140.5 188.6 137.2 185.6 133.2 182.7 128.3 180.6 123.7 178.8 118.3 177.2 109.3 177.1 100.3 177.8 95.3 179 90.3 180.6 85.8 182.7 81.3 185.6 76.4 188.6 72.4 191.6 69.1 195.6 65.5 203.4 60.3 207.5 58.3 212.6 56.5 217.2 55.3 222.6 54.5 227.6 54.3 232.6 54.5 237.8 55.3 242.6 56.5 247.4 58.3 251.6 60.3 256.5 63.3 260.5 66.3 263.7 69.3 267.3 73.3 272.6 81.2 274.6 85.4 276.6 91.1 277.6 95.3 278.3 100.3 278.3 109.3 277.6 114.4 276.4 119.3 274.6 124.3 272.6 128.4 269.6 133.4 266.6 137.3 263.6 140.6 259.6 144.2 252 149.3 247.9 151.3 242.6 153.3 238.6 154.4Z"/><path fill="#ffb100" d="M236.6 154.4 231.6 155.1 226.6 155.3 221.6 154.9 216.6 154 212.6 153 207.6 151.1 202.6 148.6 198.6 146 194.6 142.9 190.9 139.3 187.6 135.3 184.8 131.3 182.6 127.3 180.6 122.7 179.2 118.3 178 113.3 177.4 108.3 177.3 103.3 177.7 98.3 178.6 93.3 180 88.3 181.6 84.3 183.6 80.3 186.6 75.5 189.6 71.7 192.9 68.3 196.6 65.1 200.6 62.3 204.6 60.1 209.6 57.9 218.6 55.4 223.6 54.7 228.6 54.6 233.6 55 238.6 55.8 247.6 58.8 252.6 61.2 256.6 63.8 260.6 66.9 264.2 70.3 267.6 74.2 270.5 78.3 274.6 86.3 276.3 91.3 277.5 96.3 278.1 101.3 278.2 106.3 277.1 115.3 276.1 119.3 274.2 124.3 271.8 129.3 269.3 133.3 266.2 137.3 262.6 141.1 258.9 144.3 254.7 147.3 250.6 149.7 245.6 151.9Z"/><path fill="#ffab00" d="M234.6 154.4 229.6 154.9 224.6 154.8 219.6 154.3 215 153.3 210.6 151.9 205.6 149.8 201.6 147.6 197.6 144.8 193.6 141.5 190.5 138.3 187.3 134.3 184.6 130.2 182.5 126.3 180.5 121.3 179 116.3 178.1 111.3 177.7 106.3 177.8 101.3 178.4 96.3 179.5 91.3 181.2 86.3 183 82.3 185.2 78.3 188 74.3 191.4 70.3 194.6 67.2 198.6 64.1 202.6 61.5 207 59.3 211.6 57.5 220.6 55.4 225.6 55 230.6 55 235.6 55.6 240.6 56.7 245.6 58.3 249.6 60 253.7 62.3 258.1 65.3 261.7 68.3 265.6 72.3 268.8 76.3 271.3 80.3 273.4 84.3 275.4 89.3 277.5 98.3 277.9 103.3 277.8 108.3 276.3 117.3 274.7 122.3 273 126.3 270.6 130.7 267.6 135 264.6 138.6 260.6 142.5 256.6 145.6 252.6 148.2 248.5 150.3 243.6 152.3Z"/><path fill="#ffa400" d="M232.6 154.3 227.6 154.6 222.6 154.3 213.6 152.6 208.6 150.8 204.6 148.9 200.2 146.3 196.2 143.3 192.6 140 189.2 136.3 186.3 132.3 183.9 128.3 182 124.3 180.2 119.3 178.9 114.3 178.2 109.3 178 104.3 178.3 99.3 180.2 90.3 182 85.3 183.9 81.3 186.3 77.3 189.2 73.3 195.6 66.9 199.6 63.8 203.8 61.3 207.9 59.3 212.6 57.6 217.6 56.3 222.6 55.5 227.6 55.3 232.6 55.6 237.6 56.3 242.6 57.6 247.6 59.5 251.6 61.5 255.6 63.9 259.6 66.9 263.3 70.3 266.6 74 269.6 78.1 272.1 82.3 273.9 86.3 275.7 91.3 277.4 100.3 277.6 105.3 277.3 110.3 275.4 119.3 273.6 124.2 271.6 128.3 269.2 132.3 266.2 136.3 259.6 142.9 255.6 145.9 251.6 148.4 247.6 150.4 242.6 152.3 237.6 153.6Z"/><path fill="#ff9e00" d="M236.6 153.4 231.6 154.1 226.6 154.3 217.6 153.2 212.6 151.9 208.3 150.3 203.6 148 199.6 145.4 195.6 142.3 192.4 139.3 188.9 135.3 186.1 131.3 183.8 127.3 181.6 122.3 179.1 113.3 178.5 108.3 178.4 103.3 179.5 94.3 180.8 89.3 182.6 84.7 184.8 80.3 187.4 76.3 193.4 69.3 200.6 63.6 204.6 61.3 209.6 59 213.6 57.6 218.6 56.5 223.6 55.8 228.6 55.7 237.6 56.7 242.6 58 246.6 59.4 251.6 61.8 255.6 64.3 259.6 67.3 262.8 70.3 266.4 74.3 269.3 78.3 271.7 82.3 274 87.3 275.3 91.3 276.5 96.3 277.1 101.3 277.3 106.3 276.1 115.3 274.7 120.3 273.2 124.3 271.2 128.3 268.6 132.6 265.6 136.5 262 140.3 258.6 143.3 254.6 146.2 250.6 148.6 245.6 150.8 241.6 152.2Z"/><path fill="#ff9800" d="M234.6 153.4 229.6 153.9 224.6 153.8 215.6 152.4 206.9 149.3 202.6 147 198.6 144.3 195 141.3 191.6 138 188.6 134.3 185.9 130.3 183.2 125.3 181.6 121.3 179.3 112.3 178.8 107.3 178.8 102.3 180.1 93.3 181.6 88.3 183.2 84.3 187.8 76.3 190.6 72.8 193.9 69.3 197.6 66.2 201.7 63.3 206.6 60.7 210.6 59 219.6 56.6 224.6 56.1 229.6 56 238.6 57.2 242.6 58.3 247.6 60.2 252.6 62.8 256.6 65.4 263.6 71.5 266.8 75.3 269.6 79.3 271.8 83.3 274 88.3 275.3 92.3 276.4 97.3 276.9 102.3 276.9 107.3 275.6 116.3 274.1 121.3 272.4 125.3 270.3 129.3 267.6 133.4 264.5 137.3 260.6 141.2 256.6 144.4 252.6 147.1 248.4 149.3 243.6 151.2Z"/><path fill="#ff9200" d="M232.6 153.3 227.6 153.6 222.6 153.3 213.6 151.5 205.7 148.3 200.6 145.3 197.6 143.1 193.6 139.5 190.6 136.3 187.6 132.3 185.1 128.3 183.2 124.3 181.3 119.3 179.4 110.3 179.1 105.3 179.3 100.3 181 91.3 182.6 86.6 184.6 82.3 186.9 78.3 189.6 74.5 192.6 71.1 196.7 67.3 200.8 64.3 204.6 62.1 208.6 60.2 213.9 58.3 222.6 56.6 231.6 56.5 236.6 57.2 241.3 58.3 246.6 60.2 250.6 62.1 254.4 64.3 258.5 67.3 261.9 70.3 265.6 74.3 270.6 81.6 272.9 86.3 274.6 91.1 275.7 95.3 276.4 100.3 276.6 104.3 276.4 109.3 275.7 114.3 274.6 118.6 272.9 123.3 271 127.3 268.6 131.4 265.6 135.5 262.1 139.3 258.6 142.5 254.6 145.4 250.6 147.8 246.6 149.7 241.6 151.5Z"/><path fill="#ff8c00" d="M236.6 152.4 227.6 153.3 218.1 152.3 214.1 151.3 208.6 149.3 204.6 147.3 199.8 144.3 196 141.3 192.6 138 189.5 134.3 186.6 130.1 182.6 121.9 180.2 113.3 179.5 104.3 179.7 100.3 180.6 94.3 181.6 90.5 183.5 85.3 185.6 81.2 188.6 76.5 194.6 69.7 201.6 64.2 209.6 60.1 215.2 58.3 219.9 57.3 224.6 56.8 229.6 56.8 234.6 57.2 239.6 58.2 248.3 61.3 252.1 63.3 256.6 66.2 263.6 72.5 268.8 79.3 272.6 86.5 274.6 92.2 275.6 96.6 276.2 101.3 276.3 106.3 275.9 111.3 274.9 116.3 273.6 120.7 271.7 125.3 267.6 132.3 261.6 139.4 254.2 145.3 246.6 149.4 241.2 151.3Z"/><path fill="#ff8600" d="M234.6 152.4 229.6 152.8 224.6 152.8 220.2 152.3 215.5 151.3 207.4 148.3 203.6 146.3 199.1 143.3 195.5 140.3 191.6 136.3 186.6 129.4 184.6 125.6 182.6 120.8 181.5 117.3 180.3 111.3 180 102.3 180.6 96.3 181.6 91.9 183.6 86.1 185.6 82 190.6 74.5 196.7 68.3 200.7 65.3 205.6 62.4 213.1 59.3 216.8 58.3 222.6 57.3 232.1 57.3 237.6 58.2 241.6 59.2 249.4 62.3 253.6 64.7 257.6 67.5 260.9 70.3 264.6 74.2 269.6 81.3 271.6 85.2 273.6 90.2 275.6 98.9 275.8 108.3 274.6 116.3 272.6 122.3 270.6 126.7 265.7 134.3 262.6 137.8 258.9 141.3 251.9 146.3 248.1 148.3 243.2 150.3Z"/><path fill="#ff7f00" d="M231.6 152.3 222.6 152.2 213.6 150.3 208.3 148.3 204.4 146.3 197.3 141.3 193.6 137.9 190.6 134.4 187.7 130.3 185.6 126.6 183.7 122.3 182 117.3 180.5 109.3 180.3 104.3 180.6 99.3 182.6 90.2 184.6 85 186.6 81.1 191.6 74 195.1 70.3 198.6 67.4 202.6 64.6 206.6 62.4 214.6 59.3 223.6 57.7 232.6 57.8 236.6 58.4 241.6 59.6 246.3 61.3 250.6 63.4 254.6 65.8 258.6 68.8 262.3 72.3 265.6 76.1 268.6 80.3 270.6 84 273.6 91.5 274.8 96.3 275.4 101.3 275.6 106.3 275.3 110.3 274.6 114.4 273.3 119.3 271.6 123.7 269.6 127.7 267.4 131.3 264.4 135.3 261.6 138.3 257.6 141.9 254.3 144.3 249.6 147.1 241.9 150.3 238.2 151.3Z"/><path fill="#ff7900" d="M235.6 151.4 231.6 151.9 226.6 152 217.6 150.9 213.6 149.8 208.6 147.9 204.6 145.9 200.6 143.3 193.7 137.3 188.3 130.3 184.2 122.3 182.8 118.3 181.6 113.3 180.8 104.3 181.8 95.3 183.1 90.3 184.6 86.3 186.5 82.3 188.9 78.3 191.6 74.8 194.8 71.3 198.6 68 202.4 65.3 206.6 62.9 210.6 61.2 214.6 59.8 219.6 58.7 228.6 58 237.6 59.1 242.6 60.4 246.6 61.9 254.6 66.4 258.5 69.3 261.7 72.3 264.6 75.5 267.6 79.6 270.3 84.3 272.1 88.3 273.4 92.3 274.5 97.3 275.1 106.3 274 115.3 272.8 119.3 270.9 124.3 268.8 128.3 266.2 132.3 262.9 136.3 259.9 139.3 256.6 142.1 252.6 144.9 244.6 148.9 240.6 150.2Z"/><path fill="#ff7300" d="M232.6 151.3 223.6 151.4 218.6 150.7 214.6 149.7 206.6 146.4 202.6 144.1 198.7 141.3 192.6 135.3 189.5 131.3 187 127.3 183.6 119.3 182.5 115.3 181.6 110.3 181.4 101.3 182.1 96.3 183 92.3 184.6 87.4 186.5 83.3 188.8 79.3 191.6 75.5 197.7 69.3 201.6 66.4 205.6 64 213.6 60.6 217.6 59.5 222.6 58.7 227.6 58.5 232.6 58.7 237.6 59.5 241.6 60.6 249.6 63.9 253.6 66.2 257.6 69.2 263.8 75.3 266.9 79.3 269.3 83.3 272.7 91.3 273.9 96.3 274.5 100.3 274.7 105.3 274.5 109.3 273.8 114.3 272.7 118.3 269.4 126.3 267 130.3 264.1 134.3 257.6 140.8 253.6 143.7 249.6 146.1 241.6 149.5 237.6 150.5Z"/><path fill="#ff6d00" d="M235.6 150.5 231.6 151 226.6 151.1 221.6 150.7 217.6 150 209.5 147.3 205.6 145.4 201.6 142.9 195 137.3 189.4 130.3 185.2 122.3 183.8 118.3 182.6 113.3 181.8 104.3 182.7 95.3 184.1 90.3 185.6 86.3 187.6 82.3 190.1 78.3 195.6 71.8 202.6 66.3 206.6 64 210.6 62.2 214.6 60.8 219.6 59.6 228.6 58.9 237.6 60 242.6 61.4 246.6 62.9 250.6 64.9 254.6 67.4 261.4 73.3 267 80.3 269.3 84.3 271.1 88.3 272.8 93.3 273.7 97.3 274.2 101.3 274.3 106.3 273.9 111.3 273.1 115.3 270.4 123.3 268.4 127.3 265.8 131.3 262.7 135.3 259.7 138.3 252.6 143.9 244.6 147.9 240.6 149.3Z"/><path fill="#ff6700" d="M233.6 150.3 229.6 150.7 224.6 150.6 219.6 150 215.6 149 207.6 145.9 200.2 141.3 193.8 135.3 188.7 128.3 184.9 120.3 183.5 115.3 182.7 111.3 182.3 102.3 182.9 97.3 183.7 93.3 186.6 85.2 188.7 81.3 191.4 77.3 194.6 73.5 197.6 70.6 204.6 65.6 212.6 61.9 216.6 60.7 221.6 59.8 230.6 59.5 235.6 60.1 239.6 61 247.6 63.9 251.6 66 255.6 68.7 259.6 72.1 262.6 75.2 267.7 82.3 271.4 90.3 272.6 94.3 273.5 99.3 273.9 103.3 273.8 108.3 272.4 116.3 269.5 124.3 267.3 128.3 264.6 132.3 261.6 135.8 258 139.3 254.6 142 250.6 144.6 242.6 148.2 238.6 149.4Z"/><path fill="#ff6000" d="M236.6 149.4 231.6 150.1 227.6 150.3 222.6 150 218.6 149.3 214.6 148.3 209.6 146.4 202.6 142.5 196.3 137.3 193.5 134.3 190.5 130.3 188.1 126.3 186.2 122.3 184.6 117.7 183.6 113.7 182.7 105.3 182.9 100.3 183.5 96.3 185.8 88.3 187.6 84.3 189.9 80.3 192.6 76.5 195.6 73.2 198.7 70.3 202.6 67.4 206.6 65 210.6 63.2 218.6 60.8 222.6 60.1 227.6 59.9 232.6 60.1 236.6 60.7 244.6 63.1 248.6 64.9 252.8 67.3 259.6 72.7 262.6 75.9 265.6 79.8 269.8 87.3 271.6 92.2 272.6 96.3 273.2 100.3 273.5 105.3 272.6 113.7 271.4 118.3 269.9 122.3 268 126.3 265.6 130.1 262.6 134.1 259.6 137.3 252.6 142.8 244.6 147Z"/><path fill="#ff5900" d="M233.6 149.4 229.6 149.8 224.6 149.7 216.4 148.3 208.4 145.3 204.6 143.2 200.6 140.4 197 137.3 193.6 133.6 188.6 126.3 185.6 119.3 183.6 110.7 183.3 102.3 184.6 93.7 187.6 85.4 189.6 81.7 192.6 77.3 198.6 71 205.6 66.1 209.6 64.1 214.5 62.3 221.6 60.8 229.6 60.4 234.6 60.9 238.6 61.7 246.6 64.4 250.6 66.5 254.9 69.3 258.5 72.3 261.6 75.4 266.7 82.3 268.6 85.8 270.6 90.5 271.7 94.3 272.7 99.3 273 103.3 272.9 108.3 271.6 116.1 268.6 124.1 266.6 127.8 263.6 132.1 257.6 138.5 250.6 143.6 242.6 147.3 238.6 148.5Z"/><path fill="#ff5300" d="M229.6 149.3 221.6 148.9 217.6 148.1 212.6 146.6 208.6 144.8 204.6 142.6 197.7 137.3 194.6 134 191.7 130.3 187.6 123 185.8 118.3 184.7 114.3 183.7 106.3 183.9 101.3 184.5 96.3 186.6 89 188.6 84.5 190.6 81 195.6 74.6 201.6 69.3 208.6 65.1 216.3 62.3 221.2 61.3 225.6 60.9 234.2 61.3 242.6 63.4 247.3 65.3 251 67.3 257.8 72.3 263.6 78.6 266.6 83 268.6 86.9 270.4 91.3 271.5 95.3 272.6 103.3 272.5 108.3 272 112.3 269.6 120.8 265.6 128.5 260.6 135 254.6 140.4 250.1 143.3 246.3 145.3 241.6 147.1 237.6 148.3Z"/><path fill="#ff4c00" d="M234.6 148.3 229.6 148.8 225.6 148.8 217.6 147.6 213.3 146.3 208.6 144.3 202.1 140.3 198.6 137.4 195.6 134.3 191 128.3 188.8 124.3 187.1 120.3 184.9 112.3 184.4 107.3 184.3 103.3 185.3 95.3 187.9 87.3 189.9 83.3 192.4 79.3 197.7 73.3 201.2 70.3 204.6 67.9 211.9 64.3 216.6 62.8 220.6 62 224.6 61.5 229.6 61.4 237.6 62.5 241.6 63.6 246 65.3 253.6 69.6 260.2 75.3 265.6 82.3 267.6 85.9 269.5 90.3 271.6 98.3 272.1 103.3 272.1 107.3 270.8 115.3 269.6 119.4 267.6 124 263.6 130.6 260.6 134.2 257.6 137.2 250.8 142.3 247.2 144.3 242.6 146.3Z"/><path fill="#ff4600" d="M236.6 147.4 232.6 148 227.6 148.3 219.6 147.5 211.6 145 204.6 141.3 198.3 136.3 192.6 129.6 188.5 122.3 185.9 114.3 184.9 106.3 185 101.3 185.5 97.3 187.7 89.3 189.5 85.3 191.6 81.6 196.6 75.2 199.6 72.3 203.6 69.3 210.6 65.5 218.6 62.9 226.6 62 231.6 62.1 235.6 62.6 243.6 64.9 247.6 66.6 251.6 68.9 255 71.3 258.6 74.5 261.6 77.7 264.3 81.3 268.2 88.3 270.7 96.3 271.6 104.3 271 112.3 268.7 120.3 266.9 124.3 264.6 128.3 261.6 132.3 258.9 135.3 252.6 140.5 248.6 143 244.6 144.9Z"/><path fill="#ff3f00" d="M233.6 147.4 225.6 147.7 217.6 146.5 209.6 143.5 202.6 139.3 196.6 133.8 191.8 127.3 189.6 123.3 187.9 119.3 185.9 111.3 185.5 106.3 185.5 102.3 186.7 94.3 189.6 86.3 193.6 79.7 196.3 76.3 199.4 73.3 205.6 68.7 209.6 66.5 213.6 64.9 221.6 62.9 225.6 62.6 230.6 62.6 238.6 63.8 246.6 66.7 253.6 70.9 259.6 76.3 262.6 79.8 265 83.3 267.1 87.3 268.8 91.3 270.7 99.3 271 107.3 269.8 115.3 266.8 123.3 262.5 130.3 256.6 136.7 249.6 141.8 245.6 143.9 241.6 145.5Z"/><path fill="#ff3800" d="M236.6 146.3 228.6 147.2 220.6 146.6 212.7 144.3 205.6 140.7 202.3 138.3 198.8 135.3 193.7 129.3 189.8 122.3 187.1 114.3 186 106.3 186.2 101.3 186.7 97.3 188.9 89.3 192.5 82.3 197.6 75.8 203.6 70.7 210.6 66.7 218.6 64.1 226.6 63.1 231.6 63.2 235.6 63.8 243.6 66 250.6 69.6 254.5 72.3 257.6 75 263 81.3 267 88.3 269.7 96.3 270.6 104.3 269.9 112.3 267.6 120.3 263.6 127.9 258.4 134.3 255.1 137.3 251.6 140 244.6 143.8Z"/><path fill="#ff3200" d="M233.6 146.3 225.6 146.6 217.6 145.4 209.6 142.3 203.2 138.3 197.6 133.2 192.5 126.3 189.1 119.3 187.1 111.3 186.6 103.3 187.1 98.3 187.9 94.3 189.2 90.3 190.9 86.3 194.6 80.3 199.9 74.3 206.7 69.3 213.6 66.1 221.6 64.1 229.6 63.7 237.6 64.7 245.3 67.3 252.3 71.3 258.6 76.7 263.7 83.3 265.6 86.5 267.7 91.3 269.7 99.3 270 107.3 268.7 115.3 265.7 123.3 261.6 129.8 256.6 135.3 253.6 137.9 249.6 140.6 245.6 142.8 241.6 144.4Z"/><path fill="#ff2b00" d="M235.6 145.4 227.6 146.1 219.7 145.3 212.6 143 205.6 139.3 199.6 134.5 194.6 128.6 190.6 121.4 188.3 114.3 187.3 107.3 187.5 99.3 189.4 91.3 192.6 84.3 194.6 81.2 197.6 77.5 203.3 72.3 209.8 68.3 214.7 66.3 218.6 65.2 226.6 64.2 230.9 64.3 235.6 64.9 243.7 67.3 249.7 70.3 256.3 75.3 261.7 81.3 265.6 87.8 267.5 92.3 268.6 96.3 269.6 105.3 268.7 113.3 266.6 120.1 262.6 127.5 257.6 133.6 254.6 136.4 250.7 139.3 247.3 141.3 243 143.3Z"/><path fill="#ff2400" d="M231.6 145.3 223.6 145.2 215.6 143.4 208.6 140.4 202.6 136.2 197.6 131.2 192.9 124.3 189.6 116.4 188.2 109.3 188.1 101.3 189.6 93.3 192.6 85.9 196.6 79.8 201.6 74.6 207.7 70.3 214.2 67.3 217.4 66.3 222.6 65.3 230.6 65 238.6 66.3 246.4 69.3 252.8 73.3 258.6 78.5 261.6 82.2 263.6 85.3 266.8 92.3 268.6 100.3 268.8 108.3 267.6 115.3 264.4 123.3 262.6 126.3 259.6 130.4 253.7 136.3 247.8 140.3 241.1 143.3 237.6 144.3Z"/><path fill="#ff1f00" d="M232.6 144.4 224.6 144.5 217.6 143.2 210.6 140.4 204.1 136.3 198.6 131.1 193.9 124.3 190.8 117.3 189.2 110.3 188.9 102.3 190 95.3 192.4 88.3 196.6 81.3 201.6 75.8 207.7 71.3 214.6 68.1 222.6 66.2 230.6 65.9 238.6 67.2 245.6 69.8 252.6 74.1 258.6 79.8 263.2 86.3 266.3 93.3 267.8 100.3 268 108.3 266.7 115.3 264 122.3 259.5 129.3 253.6 135.3 247.6 139.4 243.6 141.4 239.6 142.9Z"/><path fill="#ff1900" d="M233.6 143.4 225.6 143.7 218.6 142.6 211.6 140 205.5 136.3 200 131.3 195.5 125.3 192.1 118.3 190.9 114.3 190.1 110.3 189.8 102.3 190.9 95.3 193.4 88.3 197.6 81.4 202.6 76.1 208.6 71.8 215.6 68.7 222.6 67.1 230.6 66.7 237.6 67.8 241.6 69.1 245.6 70.8 251.6 74.4 257.1 79.3 261.7 85.3 265.1 92.3 266.3 96.3 267.1 100.3 267.3 104.3 267.2 108.3 265.9 115.3 263.1 122.3 259.3 128.3 253.6 134.2 247.6 138.5 240.6 141.7Z"/><path fill="#ff1300" d="M234.6 142.4 230.6 142.9 226.6 142.9 219.6 142 213.6 140 207 136.3 201.2 131.3 196.5 125.3 193 118.3 191.2 111.3 190.7 103.3 191.6 96.3 194 89.3 197.4 83.3 199.7 80.3 202.6 77.3 207.9 73.3 214.6 70 221.6 68.1 228.6 67.5 236 68.3 242.6 70.3 246.6 72.2 250 74.3 255.9 79.3 260.7 85.3 264.2 92.3 266.1 99.3 266.5 103.3 266.5 107.3 265.3 114.3 262.7 121.3 259 127.3 253.6 133.2 248 137.3 241.6 140.5Z"/><path fill="#ff0e00" d="M235.6 141.4 228.6 142.1 221.6 141.6 214.2 139.3 208.6 136.3 202.6 131.5 198.6 126.9 194.6 119.9 192.6 113.9 191.6 106.3 192.1 98.3 194.1 91.3 197.1 85.3 201.6 79.5 206.6 75.2 209.6 73.2 213.5 71.3 219.8 69.3 227.6 68.5 234.6 69 242.8 71.3 248.6 74.3 253.7 78.3 258.6 83.9 262.6 90.6 264.9 97.3 265.8 104.3 265.6 108.3 265 112.3 262.8 119.3 259.6 125.1 255.4 130.3 249.6 135.3 242.4 139.3Z"/><path fill="#ff0800" d="M230.6 139.4 223.6 139.1 217.6 137.7 211.6 134.9 206.5 131.3 201.8 126.3 198 120.3 195.8 114.3 194.5 107.3 194.8 100.3 196.1 94.3 198.7 88.3 202.6 82.7 207.3 78.3 212.6 74.9 218.6 72.6 225.6 71.3 232.6 71.5 238.6 72.8 244.6 75.3 250.6 79.2 255.8 84.3 258.1 87.3 260.5 91.3 262.3 96.3 263.2 102.3 262.9 109.3 261.1 116.3 258.6 121.7 254.6 127.3 249.6 132.1 243.6 135.8 239.6 137.5 235.6 138.6Z"/></g></g><g clip-path="url(#c2)"><g filter="url(#b2)"><circle cx="387.5" cy="106.0" r="65.6" fill="#0629f3"/><path fill="#0034ff" d="M397.9 167.7 394.9 168.1 384.9 168.3 377.9 167.9 376.5 167.4 372.9 166.9 365.9 164.7 361.9 163.1 355.9 160 349.9 156 344.9 151.7 341.6 148.4 337.4 143.4 333.4 137.4 330.3 131.4 328.3 126.4 326.3 119.4 325.4 114.4 325.1 107.4 325.3 99.4 326.4 92.4 326.9 91.3 327.4 88.4 331.3 78.4 333.5 74.4 337.6 68.4 342.9 62.4 348.9 56.8 355.9 52 361.9 48.9 366.9 46.9 373.9 44.9 378.9 44 385.9 43.6 394.9 43.8 404.9 45.8 410.9 47.9 414.9 49.8 418.9 51.9 424.9 55.9 429.9 60.1 433.3 63.4 437.5 68.4 441.5 74.4 446.3 84.4 448.4 91.4 448.9 94.9 449.4 96.4 449.8 109.4 449.5 115.4 448.9 117.1 448.5 120.4 446.4 127.4 445.9 128 444.3 132.4 440.4 139.4 438.4 142.4 434.4 147.4 429.9 152 423.9 156.9 420.9 158.9 415.9 161.8 408.9 164.9 401.9 167Z"/><path fill="#0040ff" d="M395.9 167.5 389.9 168.1 383.9 168 376.9 167.2 371.9 166.1 365.9 164.2 360.9 162.1 356.9 160 350.9 156.1 345.9 152 342.2 148.4 338 143.4 335.2 139.4 332.3 134.4 329.3 127.4 327.1 120.4 326.2 115.4 325.6 110.4 325.5 104.4 326.1 97.4 327.2 91.4 329.3 84.4 331 80.4 334.1 74.4 338.2 68.4 341.9 64 345.9 60.1 349.9 56.7 355.9 52.6 365.9 47.8 372.9 45.7 377.9 44.7 383.9 44.1 389.9 44 396.9 44.6 401.9 45.6 408.9 47.7 413.9 49.8 418.9 52.5 423.9 55.7 428.9 59.8 433.6 64.4 437.7 69.4 441.5 75.4 444.5 81.4 446.4 86.4 448.1 92.4 449.2 98.4 449.6 105.4 449.3 112.4 448.6 117.4 447.2 123.4 445.4 128.4 442.7 134.4 439.2 140.4 436.3 144.4 432.8 148.4 427.9 153.2 422.9 157 417.9 160.2 411.9 163.1 406.9 165 400.9 166.6Z"/><path fill="#004dff" d="M392.9 167.5 385.9 167.8 378.9 167.2 368.9 165 363.9 163.1 358.9 160.8 353.9 157.8 349.9 155 342.7 148.4 338.4 143.4 334.3 137.4 331.2 131.4 329.2 126.4 327.4 120.4 326.2 113.4 325.9 106.4 326.1 99.4 327.3 92.4 328.3 88.4 330.4 82.4 333.3 76.4 336.4 71.4 339.3 67.4 343.9 62.4 348.9 57.8 352.9 54.8 357.9 51.8 363.9 48.9 369.9 46.8 379.9 44.7 386.9 44.3 393.9 44.6 400.9 45.7 404.9 46.7 410.9 48.8 416.9 51.7 420.9 54 425.9 57.6 431.3 62.4 436.6 68.4 439.4 72.4 442.3 77.4 445.5 84.4 447.4 90.4 448.5 95.4 449.2 101.4 449.3 108.4 448.7 115.4 446.6 124.4 444.4 130.4 441.4 136.4 437.5 142.4 434.3 146.4 428.9 151.9 423.9 156 415.9 160.9 408.9 164 402.9 165.9 397.9 167Z"/><path fill="#0059ff" d="M390.9 167.4 385.9 167.5 378.9 167 368.9 164.7 363.9 162.9 357.9 160 352.9 156.9 347.9 153 343.9 149.3 339.5 144.4 336.5 140.4 332.4 133.4 328.5 123.4 327.5 119.4 326.3 111.4 326.1 105.4 326.4 99.4 327.5 92.4 328.6 88.4 330.3 83.4 333.6 76.4 336.7 71.4 340.5 66.4 344.9 61.7 348.9 58.1 354.9 53.9 359.9 51 369.9 47 374.9 45.8 381.9 44.7 387.9 44.5 393.9 44.8 400.9 45.9 404.9 46.9 410.9 49.1 416.9 51.9 421.9 54.9 426.9 58.7 431.9 63.4 436.3 68.4 440.4 74.4 442.6 78.4 445.2 84.4 447.4 91.4 448.4 96.4 449 102.4 449.1 108.4 448.4 115.4 447.2 121.4 445.3 127.4 442.2 134.4 439.3 139.4 433.1 147.4 428.9 151.6 423.9 155.7 418.9 159 413.9 161.7 408.9 163.8 401.9 165.9 396.9 166.9Z"/><path fill="#0066ff" d="M397.9 166.5 391.9 167.2 385.9 167.3 379.9 166.9 373.9 165.8 366.9 163.8 361.9 161.7 352.9 156.6 348.9 153.6 344.3 149.4 340.6 145.4 336.8 140.4 333.7 135.4 330.5 128.4 327.5 118.4 326.6 112.4 326.3 106.4 326.6 99.4 327.5 93.4 330.6 83.4 332.8 78.4 335.6 73.4 338.9 68.7 342.5 64.4 346.9 60.1 351.9 56.1 356.9 52.9 362.9 49.9 367.9 47.9 374.9 46 380.9 45 387.9 44.7 393.9 45 399.9 45.9 407.9 48.2 412.9 50.2 421.9 55.2 426.9 59 431.9 63.7 436 68.4 440.1 74.4 443.3 80.4 445.4 85.4 447.2 91.4 448.2 96.4 448.8 102.4 448.9 108.4 448.4 114.4 447.2 120.4 445.4 126.4 443.4 131.4 438.4 140.4 435.4 144.4 430.9 149.4 425.9 153.9 420.9 157.5 416.9 159.9 410.9 162.8 404.9 164.9Z"/><path fill="#0073ff" d="M396.9 166.4 390.9 167.1 384.9 167.1 379.9 166.7 373.9 165.6 366.9 163.6 361.9 161.5 356.9 158.9 351.9 155.7 346.9 151.6 342.9 147.7 339.2 143.4 335.7 138.4 332.9 133.4 330.7 128.4 328.7 122.4 327.2 115.4 326.6 110.4 326.5 103.4 327.1 97.4 328.2 91.4 329.7 86.4 332.1 80.4 334.7 75.4 337.9 70.4 341.9 65.4 345.9 61.3 349.9 57.9 354.9 54.4 359.9 51.5 364.9 49.3 370.9 47.2 377.9 45.7 382.9 45.1 389.9 45 395.9 45.5 401.9 46.6 407.9 48.4 413.9 50.9 419.9 54.2 423.9 56.9 428.9 61 432.9 65 436.5 69.4 439.9 74.4 443.1 80.4 445.2 85.4 447.2 92.4 448.1 97.4 448.7 103.4 448.6 109.4 448.2 114.4 447 120.4 445.2 126.4 443.2 131.4 440.1 137.4 436.7 142.4 432.9 147 428.5 151.4 423.9 155.2 418.9 158.5 412.9 161.7 407.9 163.7 401.9 165.5Z"/><path fill="#0080ff" d="M395.9 166.4 389.9 166.9 383.9 166.9 377.9 166.2 371.9 164.9 365.9 163 360.9 160.8 355.9 158.1 350.9 154.7 345.9 150.5 342 146.4 338 141.4 334.9 136.6 332.2 131.4 329.8 125.4 328.4 120.4 327.2 114.4 326.7 108.4 326.8 102.4 327.4 96.4 328.7 90.4 330.6 84.4 332.8 79.4 335.5 74.4 338.9 69.4 342.9 64.6 347.2 60.4 351.9 56.6 356.9 53.4 361.9 50.8 367.9 48.4 372.9 46.9 378.9 45.7 384.9 45.2 390.9 45.2 396.9 45.8 402.9 47.1 408.9 49 413.9 51.1 418.9 53.8 424.3 57.4 428.9 61.2 433 65.4 437 70.4 440.3 75.4 442.9 80.4 445.3 86.4 447 92.4 448.1 98.4 448.5 104.4 448.4 110.4 447.7 116.4 446.3 122.4 444.3 128.4 442.1 133.4 439.2 138.4 435.9 143.2 431.9 147.9 427.9 151.7 422.9 155.7 417.9 158.9 412.9 161.5 407.9 163.5 401.9 165.3Z"/><path fill="#008eff" d="M393.9 166.5 387.9 166.8 381.9 166.5 375.9 165.7 370.9 164.4 364.9 162.4 359.9 160.1 354.9 157.2 349.6 153.4 345.1 149.4 341.3 145.4 337.5 140.4 334.4 135.4 331.9 130.2 329.7 124.4 328.1 118.4 327.2 112.4 326.9 106.4 327.1 100.4 327.9 94.8 329.2 89.4 331.2 83.4 333.5 78.4 336.4 73.4 339.9 68.4 343.9 63.8 347.9 60 352.9 56.2 357.9 53 363.2 50.4 368.9 48.2 374.9 46.6 380.9 45.7 386.9 45.3 392.9 45.5 398.9 46.4 404.9 47.8 410.9 50 415.9 52.3 420.9 55.2 425.9 58.9 430.9 63.4 434.5 67.4 437.9 72 440.9 76.9 443.6 82.4 445.4 87.4 447.1 93.4 448 99.4 448.4 105.4 448.1 111.4 447.3 117.4 445.9 123.2 443.9 128.9 441.3 134.4 438.4 139.4 434.9 144.2 431.1 148.4 426.9 152.4 421.9 156.2 416.6 159.4 410.9 162.1 405.9 164 399.9 165.5Z"/><path fill="#009bff" d="M391.9 166.5 384.9 166.5 378.9 166 372.9 164.8 368.2 163.4 363 161.4 357.2 158.4 352.5 155.4 347.9 151.8 343.9 147.9 339.9 143.3 336.4 138.4 333.6 133.4 331.3 128.4 329.3 122.4 327.9 116.1 327.2 110.4 327.1 104.4 327.5 98.4 328.6 92.4 330.3 86.4 332.3 81.4 334.9 76.2 337.9 71.4 341.8 66.4 345.9 62.1 350.2 58.4 354.9 55.1 359.9 52.2 364.9 49.9 370.9 47.8 377.2 46.4 382.9 45.7 388.9 45.5 394.9 45.9 400.9 47 405.9 48.3 411.5 50.4 416.9 53 421.9 56.1 426.9 60 430.9 63.7 435.1 68.4 438.9 73.8 441.5 78.4 443.9 83.6 445.9 89.5 447.3 95.4 448 101.4 448.2 107.4 447.9 112.4 446.9 118.6 445 125.4 442.9 130.8 440 136.4 436.9 141.2 433.6 145.4 429.9 149.4 424.9 153.8 419.7 157.4 414.3 160.4 408.9 162.7 403.8 164.4 397.9 165.7Z"/><path fill="#00a9ff" d="M388.9 166.4 383.9 166.3 376.9 165.5 372.1 164.4 365.9 162.4 361.3 160.4 355.9 157.4 351.5 154.4 345.9 149.7 341.8 145.4 337.9 140.3 334.9 135.4 332.4 130.4 330.4 125.4 328.8 119.4 327.7 113.4 327.3 107.4 327.5 100.4 328.4 94.4 329.9 88.4 331.6 83.4 333.9 78.5 336.8 73.4 339.9 69 343.9 64.4 348.1 60.4 353.3 56.4 358.1 53.4 362.9 51 367.9 49 373.9 47.3 379.9 46.2 385.9 45.8 391.9 45.9 396.9 46.4 401.9 47.4 408.5 49.4 413.3 51.4 418.9 54.4 423.4 57.4 428.9 62 433.2 66.4 436.9 71.1 440.2 76.4 442.9 81.7 445.1 87.4 446.9 94.4 448 104.4 447.9 110.2 447.1 116.4 445.9 122 444.1 127.4 441.9 132.5 438.9 137.9 435.1 143.4 431.9 147.1 427.5 151.4 422.4 155.4 416.9 158.8 411.7 161.4 401.9 164.7 396.9 165.7Z"/><path fill="#00b6ff" d="M396.9 165.5 389.9 166.1 384.9 166.1 377.9 165.5 372.9 164.4 366.9 162.5 361.9 160.5 357.9 158.4 351.8 154.4 347 150.4 342.9 146.3 338.9 141.3 335.7 136.4 332.9 131.1 330.7 125.4 328.9 119.2 327.9 113.4 327.5 107.4 327.6 101.4 328.6 94.4 329.8 89.4 331.9 83.4 333.9 78.9 335.9 75.3 339.9 69.4 343.9 64.7 348.4 60.4 356.9 54.3 362.4 51.4 367.3 49.4 374.2 47.4 379.7 46.4 385.9 46 391.9 46.1 401.1 47.4 407.9 49.4 412.8 51.4 418.5 54.4 423.1 57.4 427.9 61.3 431.9 65.3 435.9 70.1 438.9 74.5 441.9 80 443.9 84.6 445.9 90.8 447.1 96.4 447.8 107.4 447.1 115.4 446.1 120.4 442.9 129.9 440.2 135.4 436.9 140.6 432.9 145.7 428.3 150.4 423.4 154.4 419 157.4 413.5 160.4 408.8 162.4 402.4 164.4Z"/><path fill="#00c3ff" d="M395.9 165.5 384.9 165.8 378.9 165.4 373.7 164.4 367.1 162.4 362.3 160.4 356.7 157.4 350.8 153.4 345.3 148.4 340.9 143.6 337.9 139.6 334.9 134.6 331.9 128.1 329.9 122.3 328.9 118.2 327.9 111.5 327.9 100.5 328.9 93.9 329.9 89.8 331.9 83.9 333.9 79.3 337.9 72.5 340.9 68.4 344.9 64 349.9 59.4 354 56.4 358.9 53.4 365.3 50.4 371.1 48.4 375.1 47.4 381.5 46.4 387.9 46.2 393.7 46.4 400.1 47.4 404.1 48.4 409.9 50.4 414.4 52.4 419.7 55.4 424 58.4 428.7 62.4 431.9 65.6 435.9 70.4 439.9 76.6 443.9 85.2 445.9 91.6 446.9 96.4 447.5 103.4 447.5 108.4 446.9 115.4 445.9 120.4 442.9 129.5 440 135.4 436.8 140.4 432.9 145.5 426.9 151.4 421.7 155.4 417 158.4 410.8 161.4 405.2 163.4Z"/><path fill="#00d1ff" d="M393.9 165.4 387.9 165.6 381.1 165.4 370.9 163.4 365.3 161.4 359 158.4 354.1 155.4 349.9 152.3 344.9 147.6 341.1 143.4 337.9 139 334.9 133.9 331.9 127.4 330 121.4 328.9 116.5 328.1 110.4 328.2 101.4 329.1 94.4 331 87.4 332.9 82.3 335.9 76.3 338.9 71.6 342.2 67.4 346.9 62.4 352.9 57.5 361.5 52.4 366.1 50.4 371.9 48.5 376.7 47.4 382.9 46.6 388.9 46.4 392.9 46.7 398.9 47.5 406.3 49.4 411.6 51.4 415.9 53.5 420.7 56.4 424.9 59.4 429.3 63.4 432.9 67.2 438.9 75.4 441.9 81.1 443.9 86 445.8 92.4 446.9 98.3 447.2 109.4 446.9 113.8 445.9 119.4 443.9 126.2 441.9 131.1 439.7 135.4 435.8 141.4 431.9 146.1 427.6 150.4 422.7 154.4 416.3 158.4 410 161.4 404.2 163.4 400.3 164.4Z"/><path fill="#00deff" d="M397.9 164.5 392.9 165.1 386.9 165.4 380.9 165 374.9 164 369.1 162.4 363.9 160.4 358.9 157.9 353.9 154.8 349.5 151.4 345.2 147.4 341.6 143.4 337.9 138.3 334.9 133 332.4 127.4 330.4 121.4 329.3 116.4 328.6 110.4 328.4 104.4 328.9 98.3 329.9 92.8 331.4 87.4 333.3 82.4 335.9 77.2 338.9 72.3 342.7 67.4 346.5 63.4 350.9 59.5 355.3 56.4 360.4 53.4 365.9 50.9 371.9 48.9 376.9 47.8 382.9 47 387.9 46.8 391.9 46.9 398.9 47.9 405 49.4 410.6 51.4 415.9 53.9 420.9 57 425.5 60.4 429.9 64.4 433.5 68.4 436.9 73 439.9 77.9 442.5 83.4 444.6 89.4 445.9 94.5 446.8 100.4 447 106.4 446.8 111.4 445.9 117.6 444.4 123.4 442.7 128.4 439.9 134.2 436.7 139.4 432.9 144.4 429.2 148.4 424.9 152.2 420.6 155.4 415.6 158.4 409.9 161 403.9 163.1Z"/><path fill="#03eafc" d="M395.9 164.4 390.9 164.9 384.9 164.9 379.4 164.4 373.9 163.3 367.9 161.6 362.9 159.5 357.1 156.4 352.7 153.4 347.9 149.5 343.9 145.4 339.9 140.5 336.9 135.8 333.9 130 331.9 124.9 330.6 120.4 329.4 114.4 328.9 108.4 328.9 102.9 329.6 96.4 330.7 91.4 332.6 85.4 334.7 80.4 337.9 74.6 340.8 70.4 344.2 66.4 348.2 62.4 353.1 58.4 357.9 55.3 363.5 52.4 368.5 50.4 372.9 49.1 378.9 47.9 384.9 47.3 390.9 47.3 396.9 47.9 401.9 49 406.8 50.4 411.9 52.4 417.7 55.4 422.3 58.4 426.9 62.1 430.9 66 434.9 70.8 438 75.4 440.9 80.7 442.9 85.4 444.9 91.8 446 97.4 446.6 103.4 446.6 108.4 446.1 114.4 444.9 120.4 443 126.4 440.9 131.4 438.2 136.4 434.9 141.3 430.9 146.1 426.9 150 422.8 153.4 417.9 156.6 412.7 159.4 407.9 161.4 401.3 163.4Z"/><path fill="#0ff0f0" d="M391.9 164.4 385.9 164.5 380.9 164.2 375.9 163.4 368.9 161.5 363.7 159.4 357.9 156.4 349.6 150.4 345.9 146.9 341.9 142.4 338.9 138.2 335.9 133.1 333.9 128.9 331.9 123.4 330.2 116.4 329.4 110.4 329.3 104.4 329.8 98.4 330.9 92.4 332 88.4 333.9 83.2 336.9 77.1 339.9 72.4 343.8 67.4 347.9 63.2 352.5 59.4 356.9 56.4 361.9 53.6 367 51.4 372.9 49.5 378.2 48.4 383.9 47.8 389.9 47.7 395.9 48.2 401.9 49.4 405.9 50.5 410.9 52.4 416.9 55.4 421.5 58.4 425.9 61.8 429.9 65.6 433.9 70.2 436.9 74.4 439.9 79.6 441.9 83.9 443.9 89.6 445.3 95.4 446.1 101.4 446.3 107.4 445.8 113.4 444.7 119.4 443 125.4 440.9 130.5 437.9 136.2 431.9 144.4 427.9 148.6 423.4 152.4 419.1 155.4 413.9 158.4 409.4 160.4 403.5 162.4 398.9 163.5Z"/><path fill="#1af7e5" d="M396.9 163.4 390.9 164 384.9 164.1 378.9 163.5 373.9 162.5 368.9 161 363.9 159 358.8 156.4 353.9 153.2 349.2 149.4 345.1 145.4 341.7 141.4 338.3 136.4 335.1 130.4 333.1 125.4 331.3 119.4 330.3 114.4 329.8 109.4 329.8 103.4 330.2 98.4 331.4 92.4 333.2 86.4 335.2 81.4 337.9 76.4 341.2 71.4 344.9 66.9 348.9 63 353.3 59.4 357.8 56.4 362.9 53.7 367.9 51.6 373.9 49.8 378.9 48.8 384.9 48.2 390.9 48.2 395.9 48.7 401.9 49.9 407.9 51.7 412.9 53.8 417.9 56.5 422.2 59.4 426.9 63.3 430.9 67.3 434.3 71.4 437.6 76.4 440.3 81.4 442.4 86.4 444 91.4 445.2 97.4 445.7 102.4 445.8 108.4 445.4 113.4 444.3 119.4 442.5 125.4 440.5 130.4 437.9 135.4 434.6 140.4 430.9 144.9 426.9 148.9 422.9 152.3 418.3 155.4 412.9 158.4 408.2 160.4 402.9 162.1Z"/><path fill="#26fed9" d="M392.9 163.4 386.9 163.7 380.9 163.3 374.9 162.2 370.9 161.2 365.9 159.4 359.9 156.5 354.9 153.3 350.9 150.3 346.7 146.4 343.1 142.4 339.9 138 336.9 133 334.7 128.4 332.6 122.4 331.2 116.4 330.5 111.4 330.2 105.4 330.6 99.4 331.4 94.4 333 88.4 334.9 83.4 337.3 78.4 340.4 73.4 343.4 69.4 347 65.4 351.5 61.4 355.9 58.2 360.9 55.2 365.9 52.9 370.9 51.1 376.9 49.6 381.9 48.9 387.9 48.6 392.9 48.8 398.9 49.7 404.9 51.2 409.9 53 414.9 55.4 419.9 58.4 424 61.4 428.5 65.4 432.1 69.4 435.9 74.4 438.8 79.4 440.8 83.4 442.9 89.4 444.2 94.4 445.2 100.4 445.4 106.4 445.1 112.4 444.1 118.4 442.8 123.4 440.9 128.4 438.5 133.4 435.5 138.4 432.5 142.4 428.9 146.4 424.5 150.4 419.9 153.9 414.9 156.9 409.9 159.2 403.9 161.4 398.9 162.6Z"/><path fill="#3affc4" d="M396.9 162.5 391.9 163.1 385.9 163.2 381.9 163 375.9 162 368.9 160.1 363.9 158 359.9 156 353.9 152.1 348.9 147.9 345.5 144.4 342.1 140.4 338.2 134.4 334 125.4 332.2 119.4 331.3 114.4 330.8 108.4 330.8 103.4 331.2 98.4 332.3 92.4 334.1 86.4 336.3 81.4 338.4 77.4 342.4 71.4 346.7 66.4 350.9 62.5 358.9 56.8 362.9 54.7 367.9 52.5 373.9 50.7 378.9 49.7 385.9 49.1 390.9 49.1 396.9 49.7 401.9 50.8 407.9 52.7 412.9 54.8 420.9 59.6 424.9 62.7 429.8 67.4 433.2 71.4 436.7 76.4 439.4 81.4 441.5 86.4 443.4 92.4 444.4 97.4 444.9 103.4 445 108.4 444.6 113.4 443.5 119.4 441.7 125.4 439.6 130.4 437.5 134.4 433.6 140.4 429.3 145.4 425.9 148.7 421.9 152 416.9 155.3 411.9 157.9 406.9 160 402.9 161.2Z"/><path fill="#4fffad" d="M393.9 162.6 388.9 162.9 383.9 162.8 377.9 162.1 372.9 160.9 366.9 158.9 361.9 156.6 356.9 153.7 352.9 150.9 347.9 146.4 344.2 142.4 338.6 134.4 335.6 128.4 333.4 122.4 332.4 118.4 331.4 112.4 331.1 106.4 331.3 100.4 333.3 90.4 335.3 84.4 337.2 80.4 339.4 76.4 343.7 70.4 347.2 66.4 350.9 63 354.9 59.8 360.9 56.1 365.9 53.7 370.9 51.9 374.9 50.8 380.9 49.8 391.9 49.6 400.9 50.9 407.9 53.1 411.9 54.8 417.9 58 421.9 60.8 425.9 64 430.3 68.4 434.3 73.4 437.4 78.4 441.5 87.4 443.3 93.4 444.3 99.4 444.7 105.4 444.5 111.4 443.4 118.4 442.3 122.4 440.5 127.4 438.2 132.4 435.3 137.4 432.3 141.4 428.8 145.4 423.9 150 419.9 153 414.9 156 405.9 160 398.9 161.8Z"/><path fill="#64ff97" d="M391.9 162.4 386.9 162.6 380.9 162.2 376.9 161.5 369.9 159.7 364.9 157.7 358.9 154.6 350.9 148.8 343.8 141.4 339.6 135.4 337.4 131.4 335.6 127.4 333.5 121.4 332.4 116.4 331.6 110.4 331.4 104.4 331.8 99.4 332.6 94.4 334.6 87.4 338.6 78.4 341.8 73.4 344.9 69.5 348.9 65.2 352.9 61.8 357.9 58.2 361.9 56 365.9 54.1 371.9 52 375.9 51 382.9 49.9 387.9 49.7 393.9 50 403.9 52 409.9 54.2 413.9 56.1 418.9 59 423.9 62.7 427.9 66.4 432.4 71.4 435.3 75.4 438.2 80.4 440.4 85.4 442.2 90.4 443.4 95.4 444.2 101.4 444.4 107.4 444.1 112.4 443.3 117.4 441.4 124.4 437.3 133.4 434.2 138.4 431.1 142.4 427.9 145.9 423.9 149.6 417.9 153.9 412.9 156.7 407.9 158.9 401.9 160.8 396.9 161.9Z"/><path fill="#77ff82" d="M396.9 161.6 390.9 162.2 385.9 162.3 379.9 161.7 374.9 160.8 369.9 159.4 364.9 157.4 359.9 154.8 354.9 151.6 350.9 148.4 346.8 144.4 343.4 140.4 340 135.4 337.3 130.4 335.1 125.4 333.6 120.4 332.5 115.4 331.8 109.4 331.7 104.4 332.1 99.4 333.2 93.4 334.6 88.4 336.5 83.4 339 78.4 342.2 73.4 345.3 69.4 349.2 65.4 352.9 62.1 357.9 58.6 362.9 55.8 367.9 53.6 372.9 52 378.9 50.7 383.9 50.2 389.9 50.1 395.9 50.6 400.9 51.6 406.9 53.4 411.9 55.4 416.9 58.1 420.9 60.8 425.4 64.4 429.4 68.4 432.9 72.6 436.2 77.4 438.8 82.4 440.9 87.4 442.2 91.4 443.4 97.4 444.1 103.4 444.1 108.4 443.7 113.4 442.5 119.4 441.1 124.4 439 129.4 436.4 134.4 433.1 139.4 429.9 143.4 425.9 147.4 420.9 151.5 416.9 154.2 407.9 158.6 401.9 160.5Z"/><path fill="#89ff6d" d="M395.9 161.4 390.9 162 384.9 162 378.9 161.3 373.9 160.3 368.9 158.7 363.9 156.6 358.9 153.9 354.9 151.2 350.9 148 346.9 144.1 343 139.4 340.3 135.4 337.6 130.4 335.5 125.4 333.6 119.4 332.6 114.4 332.1 109.4 332.1 103.4 332.7 97.4 333.7 92.4 335.2 87.4 337.3 82.4 339.9 77.4 343.3 72.4 346.9 68.1 350.9 64.2 354.9 61 359.9 57.7 368.9 53.6 374.9 51.8 379.9 50.9 385.9 50.3 390.9 50.4 395.9 50.9 401.9 52.1 406.9 53.7 411.9 55.7 416.9 58.4 421.9 61.8 426.1 65.4 430 69.4 433.2 73.4 436.4 78.4 438.5 82.4 440.6 87.4 442.4 93.4 443.3 98.4 443.8 103.4 443.8 109.4 443.3 114.4 442.3 119.4 440.8 124.4 438.8 129.4 436.1 134.4 432.8 139.4 429.5 143.4 425.6 147.4 420.9 151.2 416.9 153.9 410.9 157.1 405.9 159 400.9 160.5Z"/><path fill="#9cff58" d="M393.9 161.4 388.9 161.8 383.9 161.6 377.9 160.9 372.9 159.7 367.9 158.1 362.9 155.8 357.9 153 352.9 149.3 348.5 145.4 344.1 140.4 341.3 136.4 338.4 131.4 336.1 126.4 334.4 121.4 333.3 116.4 332.6 111.4 332.3 106.4 332.5 101.4 333.3 95.4 334.5 90.4 336.3 85.4 338.6 80.4 341.5 75.4 344.4 71.4 348.9 66.4 352.9 62.9 356.9 59.9 361.9 57 366.9 54.6 371.9 52.9 376.9 51.7 381.9 50.9 386.9 50.6 392.9 50.8 398.9 51.7 403.9 52.9 408.9 54.7 413.9 57 418.9 60 422.9 63 426.9 66.5 430.5 70.4 433.6 74.4 436.7 79.4 439.6 85.4 441.3 90.4 442.6 95.4 443.3 100.4 443.6 105.4 443.4 111.4 442.7 116.4 441.5 121.4 439.8 126.4 437.5 131.4 434.6 136.4 431.7 140.4 427.9 144.8 423.9 148.5 419.9 151.6 414.9 154.7 409.9 157.2 404.9 159.1 398.9 160.7Z"/><path fill="#aeff43" d="M390.9 161.4 385.9 161.5 379.9 160.9 374.9 160 369.9 158.5 364.9 156.5 359.9 153.9 354.9 150.6 351 147.4 347 143.4 343.7 139.4 340.4 134.4 338.2 130.4 336.4 126.4 334.5 120.4 333.4 115.4 332.7 109.4 332.6 104.4 333.1 98.4 334.3 92.4 335.5 88.4 337.4 83.4 340.6 77.4 343.2 73.4 346.5 69.4 350.4 65.4 354.9 61.7 358.9 59 363.9 56.3 368.9 54.2 373.9 52.6 378.9 51.6 384.9 50.9 389.9 50.9 394.9 51.3 399.9 52.2 405.9 53.9 410.9 55.9 415.9 58.5 419.9 61 424.9 65 428.9 69 432.6 73.4 435.3 77.4 438 82.4 440.1 87.4 441.6 92.4 442.7 97.4 443.3 103.4 443.3 109.4 442.8 114.4 441.5 120.4 440.3 124.4 438.2 129.4 435.6 134.4 432.2 139.4 428.9 143.3 424.9 147.3 420.9 150.6 415.9 153.9 411.9 156 406.9 158.1 401.9 159.7 396.9 160.8Z"/><path fill="#bfff33" d="M396.9 160.5 390.9 161.2 385.9 161.2 379.9 160.7 374.9 159.7 368.9 157.9 364.9 156.2 359.9 153.6 355.9 151 351.9 147.8 347.9 144 344.8 140.4 341.3 135.4 338.5 130.4 336.3 125.4 334.7 120.4 333.6 115.4 333 110.4 332.9 105.4 333.3 99.4 334.1 94.4 335.8 88.4 337.7 83.4 339.7 79.4 342.9 74.4 346 70.4 349.9 66.2 353.9 62.8 358.9 59.3 362.9 57.1 367.9 54.8 372.9 53.2 378.9 51.8 384.9 51.2 389.9 51.2 395.9 51.7 400.9 52.7 405.9 54.2 410.9 56.2 415.9 58.8 419.9 61.4 423.9 64.5 428 68.4 431.9 72.9 435 77.4 437.2 81.4 439.4 86.4 441.1 91.4 442.4 97.4 443.1 103.4 443.1 108.4 442.7 113.4 441.7 118.4 440.3 123.4 438.4 128.4 435.9 133.4 432.6 138.4 429.4 142.4 425.5 146.4 421.9 149.5 416.9 153 411.9 155.7 406.9 157.9 401.9 159.4Z"/><path fill="#d0ff24" d="M395.9 160.4 390.9 160.9 384.9 160.9 379.9 160.4 374.9 159.4 368.9 157.6 364.9 155.9 360.1 153.4 355.6 150.4 351.8 147.4 347.7 143.4 343.9 138.8 340.9 134.3 336.6 125.4 334.8 119.4 333.8 114.4 333.2 109.4 333.2 103.4 333.8 97.4 334.9 92.4 336.4 87.4 338.5 82.4 340.9 77.9 343.9 73.4 347.2 69.4 351.2 65.4 354.9 62.4 359.9 59 363.9 56.9 368.9 54.7 373.9 53.2 379.9 52 385.9 51.4 390.9 51.5 396.9 52.1 401.9 53.2 407.9 55.2 411.9 56.9 415.9 59 420.9 62.4 424.9 65.7 428.9 69.7 431.9 73.4 435.3 78.4 437.9 83.4 439.9 88.4 441.4 93.4 442.4 98.4 442.8 103.4 442.9 108.4 442.3 114.4 441.3 119.4 439.4 125.4 437.2 130.4 435 134.4 431.9 139 428.9 142.6 424.9 146.7 420.3 150.4 415.7 153.4 406.9 157.6 400.9 159.4Z"/><path fill="#e1ff16" d="M393.9 160.4 388.9 160.7 382.9 160.5 376.9 159.6 372.9 158.6 366.9 156.5 362.9 154.6 359 152.4 354.7 149.4 351.1 146.4 346.9 142.1 343.9 138.3 340.7 133.4 337.9 127.8 335.9 122.5 334.6 117.4 333.8 112.4 333.4 107.4 333.6 101.4 334.7 94.4 335.7 90.4 337.9 84.4 339.8 80.4 344.9 72.6 348.5 68.4 352.8 64.4 356.9 61.2 361.5 58.4 365.9 56.2 370.9 54.3 375.9 53 380.9 52.1 386.9 51.7 391.9 51.8 396.9 52.4 401.6 53.4 407.8 55.4 411.9 57.2 416 59.4 421.8 63.4 425.9 67 429.9 71.2 433.1 75.4 435.9 80 438.1 84.4 440 89.4 441.1 93.4 442.3 99.4 442.6 105.4 442.5 110.4 441.9 115.3 440.9 119.9 439.1 125.4 436.9 130.4 434.1 135.4 430.9 139.9 426.9 144.4 423.7 147.4 419.9 150.4 414.9 153.6 409.3 156.4 403.8 158.4 398.9 159.6Z"/><path fill="#f2ff08" d="M390.9 160.4 384.3 160.4 377.9 159.5 369.9 157.4 361.2 153.4 357.9 151.4 352.7 147.4 345.8 140.4 342.9 136.4 339.9 131.4 337.9 127.1 335.9 121.4 334.9 117.4 333.8 110.4 333.9 101.1 334.9 94.6 336.9 87.6 338.9 82.9 341.8 77.4 346.9 70.6 350.9 66.4 355.7 62.4 364 57.4 371.9 54.3 375.9 53.2 382.9 52.2 388.9 52 394.9 52.4 404.1 54.4 409.5 56.4 413.7 58.4 419.9 62.3 423.8 65.4 427.9 69.4 431.9 74.2 436.9 82.4 439.9 89.9 440.9 93.4 442.1 100.4 442.3 106.4 442.1 112.4 441 118.4 439.9 122.4 437.9 127.8 435 133.4 429.9 140.7 426.5 144.4 422.1 148.4 417.9 151.5 412.9 154.4 408.6 156.4 402.9 158.4 397.9 159.6Z"/><path fill="#f8f703" d="M396.9 159.4 389.9 160.1 385.9 160.1 379 159.4 374.4 158.4 365.9 155.4 361.9 153.4 357.1 150.4 352 146.4 348.9 143.4 344.9 138.6 342.1 134.4 337.9 126.1 336 120.4 334.9 115.7 334.1 106.4 334.9 96.4 335.9 92.1 337.9 86.1 339.9 81.6 342.9 76.4 345.9 72.3 349.9 68 353.8 64.4 357.8 61.4 362.9 58.4 367.2 56.4 372.9 54.4 376.9 53.4 382.9 52.5 387.9 52.3 391.9 52.4 398.9 53.4 402.9 54.4 408.6 56.4 412.9 58.4 418 61.4 422 64.4 426.4 68.4 430.9 73.4 432.9 76.2 434.9 79.4 437.9 85.4 440.9 94.9 441.9 101.4 442 106.4 441.9 111.4 440.9 117.5 439.9 121.4 437.9 126.9 435.7 131.4 432.9 136.1 428.9 141.4 425 145.4 418.9 150.4 415.9 152.4 407.7 156.4 401.6 158.4Z"/><path fill="#fdee01" d="M392.9 159.4 382.9 159.4 376.6 158.4 372.7 157.4 367.2 155.4 363 153.4 358 150.4 354 147.4 350.7 144.4 346.9 140.2 343.3 135.4 340.9 131.3 338.9 127.1 336.9 121.6 335.6 116.4 334.9 111.6 334.6 106.4 334.9 100.6 335.5 96.4 336.9 90.6 338.9 85.1 340.9 80.9 343.6 76.4 346.6 72.4 350.2 68.4 353.9 65 357.9 62 362.9 59 367.9 56.7 372.9 55 377.9 53.8 382.9 53.1 387.9 52.8 392.9 53.1 398.9 54 404.3 55.4 409.6 57.4 413.7 59.4 418.5 62.4 422.5 65.4 426.7 69.4 429.9 73 432.9 77.1 435.9 82.3 437.9 86.7 439.8 92.4 441.4 101.4 441.6 106.4 441.3 111.4 440.4 117.4 439.4 121.4 437.6 126.4 434.9 131.9 431.9 136.7 428.9 140.6 422 147.4 418 150.4 413 153.4 407.9 155.8 403.2 157.4 397.9 158.7Z"/><path fill="#ffe200" d="M395.9 158.5 385.9 159 379.9 158.4 374.9 157.4 366.4 154.4 362.4 152.4 357.6 149.4 353.8 146.4 349.9 142.7 346.9 139.3 343.9 135.2 340.9 130 338.9 125.5 336.9 119.4 335.9 114.6 335.3 104.4 335.9 97.6 336.8 93.4 337.9 89.4 339.9 84.4 341.9 80.3 344.9 75.6 347.9 71.8 351.9 67.6 355.7 64.4 359.9 61.4 367.9 57.3 373.6 55.4 377.9 54.4 387.9 53.4 398.1 54.4 402.3 55.4 408.1 57.4 412.4 59.4 417.5 62.4 424.9 68.4 427.9 71.5 431.9 76.7 434.9 81.6 436.9 85.8 438.9 91.3 439.9 95.4 440.9 101.8 441.1 106.4 440.9 110.6 439.9 117.2 438.9 121.1 436.9 126.6 434.9 130.8 431.9 135.7 428.9 139.7 424.9 144 421.1 147.4 416.9 150.5 411.8 153.4 407.3 155.4 401.2 157.4Z"/><path fill="#ffd400" d="M397.9 157.4 392.9 158.1 387.9 158.4 382.9 158.1 377.9 157.4 372.9 156.1 367.9 154.3 362.9 151.8 358.9 149.4 354.9 146.4 350.9 142.7 344.9 135.3 342.5 131.4 340.1 126.4 338.3 121.4 337 116.4 336.3 111.4 336 106.4 336.2 101.4 336.9 96.4 338.1 91.4 339.9 86.3 342.2 81.4 344.6 77.4 347.5 73.4 351.1 69.4 354.9 66 358.9 63 363.2 60.4 367.9 58.2 372.9 56.4 377.9 55.2 382.9 54.4 387.9 54.2 392.9 54.4 397.9 55.1 403.1 56.4 407.9 58.1 412.8 60.4 416.9 62.9 420.9 65.8 424.9 69.4 428.6 73.4 431.6 77.4 434.6 82.4 436.8 87.4 439.4 96.4 440.2 101.4 440.4 106.4 440.1 111.4 439.4 116.4 437.9 122 436.2 126.4 433.9 131.2 431.3 135.4 428.3 139.4 424.9 143.1 421.2 146.4 417.2 149.4 412.9 152 407.9 154.4 402.9 156.2Z"/><path fill="#ffca00" d="M391.9 157.5 386.9 157.6 381.9 157.2 376.9 156.4 371.9 155 367.8 153.4 362.9 150.9 358.9 148.4 354.9 145.3 350.9 141.5 347.9 138.1 344.9 133.8 342.4 129.4 340.6 125.4 338.8 120.4 337.7 115.4 337 110.4 336.8 105.4 337.1 100.4 337.9 95.4 339.3 90.4 341.2 85.4 343.1 81.4 345.9 76.9 348.9 73 352.3 69.4 355.9 66.2 359.9 63.3 364.9 60.4 369.5 58.4 373.9 56.9 378.9 55.8 383.9 55.1 388.9 55 393.9 55.3 398.9 56.1 403.7 57.4 408.9 59.4 412.9 61.4 417.8 64.4 421.7 67.4 425.8 71.4 428.9 75 431.9 79.3 434.2 83.4 436 87.4 437.9 92.9 438.9 97.4 439.5 102.4 439.7 107.4 439.3 112.4 438.4 117.4 437 122.4 435 127.4 433 131.4 430.4 135.4 427.3 139.4 423.9 143.1 420.1 146.4 415.9 149.4 411.9 151.7 406.9 154 401.9 155.7 396.9 156.8Z"/><path fill="#ffc500" d="M396.9 156.6 391.9 157.2 386.9 157.3 381.9 156.9 376.9 156.1 371.9 154.7 366.9 152.7 358.9 148.1 354.9 145 351.2 141.4 347.8 137.4 344.9 133.3 340.9 125.4 338.9 119.5 337.9 115 337.2 109.4 337.2 104.4 337.6 99.4 338.5 94.4 339.6 90.4 341.5 85.4 343.9 80.7 346.6 76.4 349.8 72.4 352.9 69.2 356.9 65.8 360.9 63 365.9 60.3 370.3 58.4 378.9 56.1 383.9 55.4 388.9 55.3 393.9 55.6 398.8 56.4 402.9 57.5 408.2 59.4 412.4 61.4 417.3 64.4 421.2 67.4 424.9 70.8 428.1 74.4 431 78.4 433.9 83.3 435.9 87.8 437.5 92.4 438.6 97.4 439.3 102.4 439.4 107.4 439 112.4 438.2 117.4 436.9 121.9 434.9 127 432.9 131 430.1 135.4 426.9 139.5 423.2 143.4 419.6 146.4 415.4 149.4 406.9 153.7 401.9 155.4Z"/><path fill="#ffc000" d="M395.9 156.4 390.9 156.9 385.9 157 380.9 156.5 375.9 155.5 371.9 154.4 367 152.4 363.1 150.4 358.5 147.4 354.7 144.4 350.9 140.7 347.9 137.1 344.9 132.7 340.8 124.4 338.9 118.4 338.1 114.4 337.5 109.4 337.5 104.4 337.9 99.4 338.8 94.4 339.9 90.4 341.8 85.4 343.9 81.3 346.9 76.6 349.9 72.8 353.1 69.4 356.9 66.2 360.9 63.4 368.9 59.3 374.4 57.4 378.9 56.4 383.9 55.7 388.9 55.6 397.9 56.5 401.9 57.5 407.5 59.4 411.9 61.5 416.9 64.5 420.9 67.5 424.9 71.2 427.9 74.6 430.9 78.7 433.9 83.9 435.9 88.4 438.3 97.4 439 102.4 439.1 107.4 438.9 111.4 437.9 117.3 434.9 126.4 432.9 130.4 429.9 135.2 426.9 139.1 422.9 143.3 419.2 146.4 414.9 149.4 406.9 153.4 400.9 155.4Z"/><path fill="#ffbb00" d="M393.9 156.4 388.9 156.7 383.9 156.6 374.9 155 370.1 153.4 365.6 151.4 361.9 149.3 357.6 146.4 350.9 140.2 347.9 136.6 344.9 132.1 342.9 128.4 340.8 123.4 339 117.4 338.1 112.4 337.8 107.4 337.9 102.1 338.9 95.4 339.9 91.5 343.1 83.4 347.9 75.7 350.9 72.1 354.7 68.4 358.5 65.4 362.9 62.5 367.1 60.4 371.9 58.5 380.9 56.4 385.9 55.9 390.9 56 395.9 56.5 400.9 57.5 406.7 59.4 410.9 61.3 414.9 63.5 419.1 66.4 425.9 72.7 428.9 76.4 431.9 80.9 435.9 89.4 437.7 95.4 438.5 100.4 438.9 105.4 438.7 110.4 437.9 116 436.9 120.1 434.9 125.7 432.9 129.8 427.9 137.4 421.2 144.4 417.4 147.4 412.6 150.4 408.6 152.4 403.3 154.4 399.7 155.4Z"/><path fill="#ffb600" d="M389.9 156.4 384.9 156.3 379.9 155.7 370.9 153.3 362.6 149.4 358.2 146.4 354.6 143.4 350.9 139.7 347.9 136 344.9 131.4 342.9 127.6 341.1 123.4 339.6 118.4 338.6 113.4 338.1 108.4 338.2 103.4 338.7 98.4 340.9 89.4 342.9 84.7 345.2 80.4 347.9 76.3 351.1 72.4 354.9 68.7 358.9 65.5 366.9 60.9 371.9 58.9 375.9 57.7 380.9 56.7 385.9 56.3 390.9 56.3 395.9 56.8 400.9 57.9 405.7 59.4 414.1 63.4 418.5 66.4 422.1 69.4 425.9 73.2 428.9 76.9 431.9 81.4 433.9 85.3 435.9 90.2 437.1 94.4 438.1 99.4 438.5 104.4 438.5 109.4 437.9 114.4 436.8 119.4 435.5 123.4 433.8 127.4 430.9 132.7 427.9 136.9 424.9 140.4 420.9 144.3 416.9 147.4 411.9 150.4 407.9 152.4 398.9 155.3Z"/><path fill="#ffb100" d="M395.9 155.5 390.9 156 385.9 156.1 376.9 154.8 371.9 153.4 367.1 151.4 362.9 149.2 358.9 146.5 351.9 140.3 348.6 136.4 345.9 132.4 343.7 128.4 341.5 123.4 339.1 114.4 338.6 109.4 338.5 104.4 339.6 95.4 341 90.4 342.5 86.4 344.9 81.6 347.5 77.4 350.7 73.4 353.9 70.1 357.9 66.7 361.9 63.9 365.9 61.7 370.9 59.6 379.9 57.2 384.9 56.7 389.9 56.6 398.9 57.7 407.9 60.6 412.9 63.1 416.9 65.6 420.9 68.7 424.7 72.4 427.9 76.1 430.9 80.4 434.9 88.4 436.5 93.4 437.6 98.4 438.2 103.4 438.2 108.4 437.7 113.4 436.9 117.6 435.5 122.4 433.4 127.4 428.7 135.4 425.4 139.4 421.9 142.9 417.9 146.2 413.9 148.9 409.9 151.1 404.9 153.2Z"/><path fill="#ffab00" d="M393.9 155.4 388.9 155.8 383.9 155.6 374.9 153.9 370.3 152.4 365.9 150.4 361.9 148.1 357.9 145.3 353.9 141.8 350.7 138.4 347.6 134.4 345.1 130.4 342.9 125.9 341.2 121.4 339.2 112.4 338.8 107.4 338.9 102.4 340.5 93.4 342.1 88.4 343.8 84.4 346 80.4 348.9 76.2 352.1 72.4 355.9 68.8 359.9 65.7 363.5 63.4 367.9 61.2 372.5 59.4 376.9 58.2 381.9 57.3 386.9 56.9 391.9 57 400.9 58.6 405.9 60.2 409.9 61.9 414.9 64.7 418.9 67.5 422.9 71 426.1 74.4 429.2 78.4 431.7 82.4 433.7 86.4 435.6 91.4 437.6 100.4 437.9 105.4 437.8 110.4 436.1 119.4 434.4 124.4 432.6 128.4 429.9 133.1 426.9 137.2 423.9 140.6 419.9 144.3 415.9 147.3 411.9 149.7 407.9 151.7 402.9 153.5Z"/><path fill="#ffa400" d="M389.9 155.4 384.9 155.3 379.9 154.7 374.9 153.6 370.9 152.3 362.9 148.4 358.9 145.7 355 142.4 351.9 139.3 348.8 135.4 346.1 131.4 343.9 127.2 341.9 122.4 340.7 118.4 339.7 113.4 339.2 108.4 339.2 103.4 339.8 98.4 342.1 89.4 344.2 84.4 346.4 80.4 351.9 73.1 354.9 70.1 358.9 66.8 362.9 64.2 366.9 62 370.9 60.3 375.9 58.8 380.9 57.8 385.9 57.3 390.9 57.3 395.9 57.9 404.9 60.2 409.9 62.3 413.9 64.5 417.9 67.2 421.8 70.4 424.9 73.5 428.1 77.4 430.7 81.4 432.9 85.4 434.6 89.4 436.2 94.4 437.1 99.4 437.6 104.4 437.5 109.4 436.9 114.4 435.9 119 434.5 123.4 430.6 131.4 427.9 135.4 424.6 139.4 420.9 143 416.9 146.2 408.9 150.8 404.9 152.5 399.9 154 394.9 155Z"/><path fill="#ff9e00" d="M395.9 154.5 390.9 155 385.9 155.1 376.9 153.8 371.9 152.3 367.9 150.6 363.9 148.6 359.9 146 352.9 139.8 349.9 136.4 347.1 132.4 344.9 128.4 342.7 123.4 341.3 119.4 340.2 114.4 339.6 109.4 339.6 104.4 340.7 95.4 341.9 91 343.7 86.4 348.1 78.4 354.1 71.4 357.9 68 361.9 65.2 365.9 62.9 370.9 60.7 379.9 58.3 384.9 57.7 389.9 57.6 398.9 58.8 402.9 59.9 407.9 61.7 412.9 64.3 416.9 66.9 423.9 72.9 426.9 76.4 429.9 80.7 432.5 85.4 434.2 89.4 435.6 93.4 436.7 98.4 437.2 103.4 437.3 108.4 436 117.4 434.5 122.4 432.9 126.4 430.8 130.4 427.9 134.8 421.9 141.6 417.9 145 413.9 147.8 409.9 150 404.9 152.2Z"/><path fill="#ff9800" d="M393.9 154.5 388.9 154.8 383.9 154.6 374.9 152.9 370.5 151.4 366.1 149.4 358.4 144.4 351.9 138.2 348.9 134.4 346.3 130.4 344.3 126.4 342.3 121.4 340.3 112.4 339.9 107.4 340 102.4 341.6 93.4 343.2 88.4 345 84.4 347.3 80.4 350.1 76.4 353.6 72.4 356.8 69.4 363.9 64.4 371.9 60.7 376.9 59.2 381.9 58.3 386.9 58 391.9 58.1 400.9 59.6 405.9 61.3 409.9 63 413.9 65.3 417.9 68 421.9 71.4 424.9 74.5 428 78.4 430.6 82.4 432.9 87 434.6 91.4 435.9 96.1 436.6 100.4 436.9 109.5 436.3 114.4 435.1 119.4 433.4 124.4 431.5 128.4 429.2 132.4 426.3 136.4 419.9 143 415.9 146.1 411.9 148.6 407.9 150.6 402.9 152.5Z"/><path fill="#ff9200" d="M389.9 154.4 380.9 153.9 375.9 152.8 371.9 151.6 366.9 149.4 363.3 147.4 358.9 144.4 355.9 141.8 352.5 138.4 349.3 134.4 346.7 130.4 344.7 126.4 342.9 122 341.6 117.4 340.3 108.4 340.3 103.4 340.9 98.4 341.7 94.4 343.2 89.4 347.1 81.4 349.7 77.4 352.9 73.6 356.2 70.4 359.9 67.4 363.9 64.8 367.9 62.7 375.9 59.9 380.9 58.8 385.9 58.3 390.9 58.4 395.9 58.9 404.9 61.2 409.9 63.4 413.5 65.4 420.9 70.9 426.9 77.5 429.9 81.9 431.9 85.6 433.9 90.3 435.2 94.4 436.2 99.4 436.7 104.4 436.1 113.4 433.9 122.2 432.2 126.4 429.9 130.7 426.9 135.1 423.9 138.7 420.9 141.7 416.9 145 412.9 147.6 408.9 149.8 404.9 151.5 399.9 153 394.9 154Z"/><path fill="#ff8c00" d="M395.9 153.5 390.9 154 385.9 154 380.9 153.6 376.9 152.7 372.5 151.4 367.9 149.5 360.9 145.4 353.9 139.4 350.9 135.9 347.9 131.6 343.8 123.4 341.3 114.4 340.7 109.4 340.6 104.4 341.8 95.4 342.9 91.4 344.8 86.4 348.9 79.2 351.8 75.4 354.9 72.1 357.9 69.4 362 66.4 369.9 62.2 375.2 60.4 379.9 59.3 384.9 58.8 389.9 58.7 394.9 59.1 398.9 59.9 406.9 62.4 411.1 64.4 416 67.4 423 73.4 426.4 77.4 429.2 81.4 431.9 86.3 433.9 91.3 435.9 99.4 436.3 108.4 436 112.4 435 117.4 433.9 121.3 431.9 126.2 429.9 130 427 134.4 420.9 141.2 413.9 146.6 408.9 149.4 404.1 151.4Z"/><path fill="#ff8600" d="M393.9 153.4 388.9 153.7 383.9 153.5 375.9 152.1 370.9 150.4 366.5 148.4 358.9 143.4 355.5 140.4 351.9 136.5 347 129.4 343.8 122.4 342.1 116.4 341.4 112.4 341 104.4 342 96.4 343 92.4 344.9 87.2 346.9 83.2 349.9 78.4 352.9 74.7 356.2 71.4 359.8 68.4 364.3 65.4 368.2 63.4 372.9 61.5 381.9 59.4 386.9 59.1 391.9 59.2 399.9 60.5 405.8 62.4 410.2 64.4 413.9 66.5 418 69.4 421.9 72.9 424.9 76.1 429.9 83.3 431.9 87.2 433.9 92.4 434.9 96.1 435.8 101.4 435.9 110.4 434.9 116.4 433.9 120.2 430.9 127.5 425.8 135.4 422.9 138.8 419.1 142.4 412 147.4 408.1 149.4 403 151.4Z"/><path fill="#ff7f00" d="M396.9 152.5 391.9 153.2 387.9 153.3 378.9 152.4 374.9 151.4 369.6 149.4 361.9 145.1 355.1 139.4 349.4 132.4 347 128.4 345.1 124.4 343.3 119.4 342.4 115.4 341.4 106.4 342.3 97.4 343.2 93.4 344.9 88.4 349.1 80.4 351.9 76.6 354.9 73.2 358 70.4 361.9 67.4 369.3 63.4 373.9 61.7 378.8 60.4 382.9 59.8 387.9 59.5 392.9 59.7 397.6 60.4 401.9 61.5 406.9 63.3 414.5 67.4 418.6 70.4 421.9 73.4 427.7 80.4 431.9 88.1 433.8 93.4 434.8 97.4 435.6 106.4 434.7 115.4 433.7 119.4 431.9 124.4 427.5 132.4 421.7 139.4 418.4 142.4 414.4 145.4 409.9 148.1 404.9 150.3Z"/><path fill="#ff7900" d="M394.9 152.4 390.9 152.8 385.9 152.8 380.9 152.3 376.6 151.4 368.5 148.4 360.9 143.9 356.9 140.5 353.9 137.5 348.7 130.4 344.8 122.4 343.5 118.4 342.5 113.4 341.9 104.4 343.2 95.4 344.6 90.4 346.3 86.4 348.4 82.4 350.9 78.6 353.9 75 356.9 72 363.9 66.7 371.9 62.8 375.9 61.6 380.9 60.5 389.9 59.9 398.9 61.1 403.9 62.6 407.9 64.2 412.1 66.4 415.9 68.9 419.9 72.1 422.9 75.1 425.7 78.4 428.5 82.4 430.6 86.4 432.7 91.4 434.7 99.4 435.2 104.4 435.2 108.4 434.7 113.4 433.8 117.4 432.3 122.4 430.5 126.4 425.9 134 419.9 140.6 415.9 143.8 412 146.4 403.9 150.2 398.9 151.7Z"/><path fill="#ff7300" d="M390.9 152.4 385.9 152.4 381.9 152 376.9 151 372.9 149.8 364.9 146 360.9 143.3 357.4 140.4 353.9 136.8 351.2 133.4 346.9 126.1 345 121.4 343.8 117.4 343 113.4 342.4 108.4 342.9 99.4 343.9 94.4 345.1 90.4 349 82.4 354.2 75.4 357.1 72.4 360.9 69.3 364.9 66.7 368.9 64.6 376.9 61.8 380.9 61 385.9 60.4 394.9 60.9 399.9 61.9 403.9 63.1 411.9 66.8 418.9 71.8 425.1 78.4 427.9 82.4 430.2 86.4 433.2 94.4 434.3 99.4 434.7 103.4 434.8 107.4 434.4 112.4 433.4 117.4 432.2 121.4 428.4 129.4 425.8 133.4 422.9 136.9 416.9 142.5 412.9 145.4 408.9 147.6 403.9 149.7 399.9 151 395.9 151.8Z"/><path fill="#ff6d00" d="M394.9 151.6 390.9 152 385.9 152 377.9 150.8 369.9 148.1 365.9 146 361.8 143.4 358.1 140.4 355.1 137.4 349.8 130.4 345.8 122.4 344.5 118.4 343.4 113.4 342.9 104.4 343.4 99.4 344.1 95.4 346.9 87.3 348.9 83.4 351.5 79.4 354.8 75.4 357.8 72.4 364.6 67.4 368.9 65.1 372.9 63.5 380.9 61.4 389.9 60.9 398.9 62.1 406.9 64.8 410.9 66.7 415.1 69.4 421.9 75.3 424.9 78.8 427.4 82.4 429.7 86.4 431.4 90.4 433 95.4 433.9 99.4 434.3 103.4 434.3 108.4 433.8 113.4 433 117.4 431.8 121.4 429.9 125.8 425.3 133.4 421.9 137.4 418.9 140.3 411.9 145.5 403.9 149.3 399.9 150.5Z"/><path fill="#ff6700" d="M391.9 151.5 386.9 151.6 382.9 151.3 377.9 150.3 373.9 149.2 365.9 145.5 358.9 140.5 352.9 134.1 350.3 130.4 348.1 126.4 345 118.4 344.1 114.4 343.5 109.4 343.7 100.4 344.6 95.4 345.8 91.4 349.5 83.4 354.5 76.4 360.9 70.5 367.9 66.1 375.9 63 379.9 62.1 384.9 61.4 393.9 61.6 398.3 62.4 402.9 63.7 410.9 67.3 418.2 72.4 424 78.4 426.9 82.4 429.2 86.4 432.3 94.4 433.3 98.4 433.9 103.4 433.9 108.4 433.6 112.4 431.7 120.4 428.1 128.4 422.9 135.7 416.9 141.5 412.9 144.3 408.9 146.6 400.9 149.8 396.9 150.8Z"/><path fill="#ff6000" d="M395.9 150.5 390.9 151.1 386.9 151.1 382.9 150.8 377.9 149.9 373.1 148.4 368.9 146.6 362 142.4 355.4 136.4 350.2 129.4 346.5 121.4 344.4 113.4 343.9 108.9 343.9 104.4 344.9 96.4 347.5 88.4 349.4 84.4 352 80.4 354.9 76.7 357.9 73.6 364.7 68.4 368.9 66.1 372.9 64.5 380.9 62.4 384.9 61.9 389.9 61.8 394.9 62.2 398.9 63 403.6 64.4 407.9 66.2 414.9 70.3 418.7 73.4 421.7 76.4 426.9 83.2 429.2 87.4 430.9 91.3 433 99.4 433.5 103.4 433.5 108.4 432.4 116.4 429.6 124.4 427.6 128.4 425 132.4 421.9 136.2 418.9 139.2 411.9 144.5 407.9 146.7 403.9 148.4Z"/><path fill="#ff5900" d="M392.9 150.5 388.9 150.7 383.9 150.5 378.9 149.7 374.9 148.6 367.6 145.4 363.9 143.2 360.2 140.4 354.3 134.4 349.6 127.4 347.7 123.4 346 118.4 344.5 110.4 344.5 102.4 345.9 94.3 348.9 86.5 350.9 82.9 353.9 78.6 356.7 75.4 360 72.4 364 69.4 367.4 67.4 374.9 64.3 378.9 63.2 383.9 62.4 387.9 62.2 392.9 62.5 397.9 63.3 401.9 64.3 409.3 67.4 412.9 69.5 416.8 72.4 422.9 78.4 427.9 85.8 431.1 93.4 432.2 97.4 433 102.4 432.9 110.9 431.1 119.4 427.9 127 422.9 134.4 416.8 140.4 409.4 145.4 401.9 148.6 397.9 149.7Z"/><path fill="#ff5300" d="M396.9 149.4 388.9 150.3 384.9 150.1 379.9 149.4 375.9 148.4 370.9 146.5 363.9 142.6 357.7 137.4 354.9 134.3 352 130.4 347.9 122.5 345.8 115.4 345 110.4 344.8 106.4 345 102.4 345.7 97.4 347.9 89.9 349.9 85.6 351.9 82.2 356.9 76 363.5 70.4 370.6 66.4 375.9 64.5 379.9 63.5 387.9 62.7 396.9 63.6 400.9 64.5 405.9 66.3 413.3 70.4 419.9 75.8 423.1 79.4 425.9 83.3 429.6 90.4 431.9 98.1 432.7 106.4 431.9 114.6 430.9 118.6 428.9 123.9 424.9 131 421.9 134.8 418.9 138 411.9 143.4 404 147.4Z"/><path fill="#ff4c00" d="M392.9 149.5 388.9 149.7 383.9 149.5 375.9 147.8 371.9 146.4 367.8 144.4 360.9 139.6 354.9 133.5 350.3 126.4 347.1 118.4 345.6 110.4 345.4 105.4 345.6 101.4 347.3 93.4 350.6 85.4 354.9 79 360.9 73 367.8 68.4 371.9 66.5 375.9 65.1 383.9 63.5 387.9 63.3 392.9 63.5 400.9 65.1 408.9 68.3 415.9 72.9 421.9 78.7 424.8 82.4 426.9 85.9 430.2 93.4 431.9 101.4 432.2 106.4 432 110.4 430.4 118.4 428.9 122.7 426.9 126.8 422.5 133.4 416.6 139.4 412.9 142.2 409.3 144.4 405.1 146.4 400.9 147.9Z"/><path fill="#ff4600" d="M395.9 148.6 391.9 149.1 386.9 149.2 378.9 148.1 370.9 145.4 363.9 141.3 357.9 136.1 352.7 129.4 350.4 125.4 348.7 121.4 346.5 113.4 346 109.4 346 104.4 347.1 96.4 349.8 88.4 353.8 81.4 359 75.4 362.6 72.4 365.9 70.1 372.9 66.7 380.9 64.5 384.9 63.9 389.9 63.8 397.9 64.9 405.9 67.5 413 71.4 416.9 74.4 419.9 77.3 424.8 83.4 426.9 87 428.9 91.3 431.1 99.4 431.7 107.4 430.7 115.4 428 123.4 423.9 130.7 421 134.4 418 137.4 411.9 142.2 407.9 144.5 403.9 146.3Z"/><path fill="#ff3f00" d="M392.9 148.5 384.9 148.5 376.9 147 372.9 145.6 368.9 143.8 361.9 139 356.3 133.4 351.6 126.4 348.3 118.4 346.7 110.4 346.7 102.4 348.2 94.4 349.5 90.4 351.4 86.4 355.9 79.6 361 74.4 367.9 69.6 371.9 67.7 375.9 66.2 383.9 64.6 391.9 64.5 399.9 65.9 407.9 69 414.9 73.5 421.1 79.4 426 86.4 428 90.4 429.4 94.4 431 102.4 431 110.4 429.4 118.4 427.9 122.4 426 126.4 421.1 133.4 414.9 139.4 407.9 143.9 400.9 146.8Z"/><path fill="#ff3800" d="M395.9 147.5 387.9 148.2 379.9 147.2 371.9 144.6 364.9 140.7 358.8 135.4 355.9 132 353.4 128.4 349.9 121.4 347.7 113.4 347.1 105.4 348 97.4 350.6 89.4 354.5 82.4 359.6 76.4 365.9 71.5 372.9 67.9 380.9 65.6 384.9 65.1 389.9 64.9 397.9 66 404.9 68.2 408.9 70.1 412.6 72.4 418.9 77.7 424.2 84.4 427.9 91.6 430.1 99.4 430.7 107.4 429.7 115.4 427 123.4 422.9 130.3 417.6 136.4 410.9 141.6 403.9 145.2Z"/><path fill="#ff3200" d="M392.9 147.4 388.9 147.6 384.2 147.4 379.9 146.7 375.9 145.6 368.9 142.5 362.9 138.4 356.9 132.4 352.8 126.4 349.8 119.4 348.6 115.4 347.8 110.4 347.8 102.4 349.4 94.4 352.2 87.4 356.7 80.4 361.9 75.1 365.5 72.4 368.9 70.3 375.9 67.4 383.9 65.7 388.9 65.5 392.9 65.7 400.9 67.3 407.9 70.2 414.4 74.4 419.9 79.6 424.9 86.5 428 93.4 429.2 97.4 430 102.4 430 110.4 428.4 118.4 425.4 125.4 420.9 132.1 414.9 138.1 407.9 142.8 400.9 145.7Z"/><path fill="#ff2b00" d="M395.9 146.4 388.9 147.1 380.9 146.3 373.9 144.2 369.9 142.4 365.9 140 359.9 134.9 356.9 131.5 354.9 128.7 352.9 125.3 350.9 120.8 348.9 113.4 348.3 106.4 348.9 98.7 349.9 94.6 351.8 89.4 355.9 82.4 361.3 76.4 365 73.4 368.2 71.4 374.9 68.3 382.8 66.4 390.9 66.1 397.9 67.2 404.9 69.4 412.1 73.4 418.1 78.4 422.9 84.4 426.7 91.4 427.9 94.7 429.1 99.4 429.7 106.4 428.9 114.4 426.9 121 422.9 128.5 417.9 134.7 414.9 137.5 410.9 140.4 403.1 144.4Z"/><path fill="#ff2400" d="M389.9 146.4 381.9 145.8 373.9 143.5 367.8 140.4 361.4 135.4 356.9 130.3 352.8 123.4 350 115.4 349 107.4 349.4 100.4 350.2 96.4 351.4 92.4 354.9 85.2 359.3 79.4 364.9 74.4 371.8 70.4 375.9 68.8 379.9 67.7 386.9 66.8 390.9 66.8 395.7 67.4 402.9 69.4 409.2 72.4 416 77.4 420.9 82.7 425.1 89.4 427.9 97.2 429 104.4 428.7 111.4 426.8 119.4 424.9 123.8 422.9 127.4 417.9 133.7 415.1 136.4 411.2 139.4 403.9 143.4 397.6 145.4Z"/><path fill="#ff1f00" d="M391.9 145.4 383.9 145.3 376.9 143.7 369.9 140.7 363.8 136.4 358.1 130.4 354.3 124.4 351.5 117.4 350 109.4 350.2 101.4 351.7 94.4 354.7 87.4 358.8 81.4 363.9 76.3 369.9 72.3 376.9 69.4 384.9 67.8 392.9 67.9 399.9 69.3 406.9 72.1 413.9 76.7 419.7 82.4 423.7 88.4 425.6 92.4 426.9 96.3 428.2 103.4 428.1 110.4 427.4 114.4 426.3 118.4 423.1 125.4 418.9 131.4 412.9 137.2 406.9 141.1 399.9 143.9Z"/><path fill="#ff1900" d="M393.9 144.4 385.9 144.7 378.9 143.5 371.9 140.8 365.9 137 360.9 132.4 356.4 126.4 353.1 119.4 351.2 112.4 350.8 104.4 351.8 97.4 354.1 90.4 357.9 83.9 362.9 78.3 368.9 73.9 375.9 70.6 382.9 68.9 390.9 68.6 397.9 69.6 404.9 72 411.9 76.2 417.7 81.4 422.2 87.4 425.5 94.4 427.2 101.4 427.5 105.4 427.4 109.4 426.1 116.4 423.3 123.4 419.5 129.4 413.9 135.3 407.9 139.6 400.9 142.7Z"/><path fill="#ff1300" d="M394.9 143.4 387.9 143.9 380.9 143.1 373.9 140.8 367.9 137.4 362.1 132.4 357.4 126.4 354.3 120.4 352.3 113.4 351.6 106.4 352.3 99.4 354.3 92.4 358 85.4 362.9 79.5 368.1 75.4 374.9 71.9 381.9 70 389.9 69.4 396.9 70.2 403.8 72.4 409.9 75.7 415.9 80.7 420.9 86.9 424.3 93.4 426.2 100.4 426.7 104.4 426.7 108.4 425.6 115.4 423 122.4 419.3 128.4 413.9 134.3 408.3 138.4 401.9 141.5Z"/><path fill="#ff0e00" d="M395.9 142.4 389.9 143.1 382.9 142.7 377.7 141.4 370.9 138.2 364.9 133.9 359.9 128.6 357.7 125.4 355.9 121.9 353.9 116.4 352.6 108.4 352.9 101.4 354.5 94.4 357.7 87.4 361.9 81.8 366.9 77.3 373.5 73.4 379.9 71.2 386.9 70.3 394.9 70.8 401.4 72.4 407.9 75.4 413.3 79.4 418.8 85.4 422.9 92.3 425 98.4 425.9 105.4 425.2 113.4 423 120.4 419.9 126.1 415.7 131.4 409.9 136.4 406.7 138.4 402.6 140.4Z"/><path fill="#ff0800" d="M389.9 140.4 382.9 140 377.9 138.6 371.9 135.7 365.9 131.1 361.9 126.4 358.4 120.4 356.4 114.4 355.4 107.4 355.9 100.4 357.5 94.4 360.5 88.4 364.3 83.4 368.9 79.4 374.9 75.9 380.9 73.9 387.9 73 394.9 73.5 400.9 75.2 406.9 78 411.9 81.7 417.2 87.4 420.5 92.4 421.8 95.4 422.7 98.4 423.4 104.4 422.9 111.4 421 118.4 417.9 124.4 413.9 129.6 408.9 133.9 405.9 135.9 401.9 137.8 395.9 139.7Z"/></g></g><g clip-path="url(#c3)"><g filter="url(#b3)"><circle cx="73.2" cy="330.5" r="67.6" fill="#0034ff"/><path fill="#0040ff" d="M141.6 399.3 4.4 398.9 4.6 336.2 5.6 336 6.6 335 7.1 330.9 6.6 326 5.6 325 4.6 324.8 4.6 261.7 141.6 261.5 142 261.9 142 398.9Z"/><path fill="#004dff" d="M141.6 399.3 4.5 398.9 4.6 347.1 7.6 346.7 8.6 345.9 9.2 343.9 9.4 340.9 9.1 316.9 8.6 315.1 7.6 314.3 4.6 313.8 4.6 261.8 141.6 261.5 142 261.9 142 398.9Z"/><path fill="#0059ff" d="M141.6 399.3 4.5 398.9 4.6 354.1 8.6 353.3 10.6 352.3 11.2 348.9 10.5 331.9 11.2 312.9 11 309.9 10.6 308.7 9.6 308 4.6 306.9 4.6 261.8 141.6 261.5 142 261.9 142 398.9Z"/><path fill="#0066ff" d="M141.6 399.3 4.5 398.9 4.6 360 12 357.9 12.9 356.9 13.2 354.9 11.8 339.9 11.4 330.9 11.8 320.9 13.2 305.9 12.8 303.9 11.7 302.9 4.6 301 4.6 261.8 141.6 261.5 142 261.9 142 398.9Z"/><path fill="#0073ff" d="M141.6 399.3 4.5 398.9 4.6 365.5 13.6 362.7 14.8 361.9 15.3 359.9 13 342.9 12.3 330.9 12.9 318.9 15.3 300.9 14.6 298.9 13.6 298.3 4.6 295.5 4.6 261.8 141.6 261.5 142 261.9 142 398.9Z"/><path fill="#0080ff" d="M141.6 399.3 4.5 398.9 4.6 370.8 16.6 366.4 17.6 364.9 17.6 363.9 14.1 344.9 13.4 337.9 13.2 330.9 13.4 323.9 14 316.9 15.1 309.9 17.4 298.9 17.6 296.3 16.9 294.9 15.6 294.1 4.6 290.2 4.6 261.8 141.6 261.5 142 261.9 142 398.9Z"/><path fill="#008eff" d="M141.6 399.3 4.5 398.9 4.6 376.1 18.6 370.3 19.6 369.6 20.1 367.9 19.6 364.9 17 354.9 15.4 346.9 14.4 338.9 14.1 330.9 14.3 322.9 15.4 313.9 17 305.9 19.7 295.9 20.1 292.9 19.6 291.4 18.6 290.7 4.6 284.9 4.6 261.8 141.6 261.5 142 261.9 142 398.9Z"/><path fill="#009bff" d="M141.6 399.2 4.6 398.9 4.6 381.6 20.6 374.2 22.3 372.9 22.7 371.9 22.5 369.9 18.8 357.9 16.6 348.9 15.4 339.9 14.9 330.9 15.3 321.9 16.5 312.9 18.6 303.9 22.6 290.9 22.7 288.9 22.2 287.9 20.6 286.8 4.6 279.4 4.6 261.9 141.6 261.6 141.9 261.9 141.9 398.9Z"/><path fill="#00a9ff" d="M141.6 399.2 4.6 398.9 4.6 387.2 7.6 385.9 23.6 377.4 25.3 375.9 25.6 374.9 24.9 371.9 20.1 358.9 18 350.9 16.3 340.9 15.8 330.9 16.4 319.9 18 309.9 20.2 301.9 24.9 288.9 25.6 285.9 25.2 284.9 23.6 283.6 7.6 275.1 4.6 273.8 4.6 261.9 141.6 261.6 141.9 261.9 141.9 398.9Z"/><path fill="#00b6ff" d="M141.6 399.2 4.6 398.9 4.6 393.3 7.6 391.9 26.6 380.7 28.5 378.9 28.6 377.9 28.1 375.9 22.6 362.9 19.2 351.9 17.2 340.9 16.6 329.9 17.4 318.9 19.5 307.9 22.3 298.9 27.8 285.9 28.7 282.9 28.4 281.9 26.6 280.3 7.6 269.1 4.6 267.7 4.6 261.9 141.6 261.6 141.9 261.9 141.9 398.9Z"/><path fill="#00c3ff" d="M141.6 399.2 7.8 398.9 11.6 395.9 30.6 383.5 32 381.9 32 380.9 31.4 378.9 24.9 365.9 20.7 353.9 18.4 342.9 17.5 330.9 18.3 318.9 19.3 312.9 20.7 306.9 24.6 295.9 31.5 281.9 32 279.9 31.9 278.9 30.6 277.5 11.2 264.9 7.5 261.9 141.6 261.6 141.9 261.9 141.9 398.9Z"/><path fill="#00d1ff" d="M141.6 399.2 18.2 398.9 20.3 396.9 34.6 386.5 35.9 384.9 35.9 383.9 35.1 381.9 29.7 372.9 26.6 367 22.6 356.9 20.6 349.9 19.6 344.7 18.8 337.9 18.5 330.9 18.7 323.9 19.5 316.9 20.7 310.9 22.6 304 27.1 292.9 30.3 286.9 34.6 279.9 35.9 276.9 35.8 275.9 34.6 274.5 20 263.9 18 261.9 141.6 261.6 141.9 261.9 141.9 398.9Z"/><path fill="#00deff" d="M141.6 399.2 28.6 398.9 30.4 396.9 39.6 389.4 40.6 387.9 40.5 386.9 39.4 384.9 32.9 375.9 29.6 370.4 25.9 362.9 23.3 355.9 21.5 348.9 20.2 339.9 19.8 330.9 20.2 320.9 20.8 315.9 22.2 308.9 23.7 303.9 26 297.9 31.6 287.2 39.5 275.9 40.5 273.9 40.5 272.9 39.9 271.9 30.2 263.9 28.4 261.9 141.6 261.6 141.9 261.9 141.9 398.9Z"/><path fill="#03eafc" d="M141.6 399.2 40.2 398.9 41.8 396.9 45.9 392.9 46.7 391.9 46.8 390.9 45.6 388.9 39.6 382.5 34.6 376.2 30.1 368.9 26.7 361.9 24.5 355.9 22.6 347.6 21.8 339.9 21.5 330.9 21.7 321.9 22.6 313.4 24.6 304.9 26.6 299.3 30.2 291.9 34.5 284.9 38.6 279.6 45.7 271.9 46.8 269.9 46.6 268.9 45.7 267.9 41.6 263.9 40 261.9 141.6 261.6 141.9 261.9 141.9 398.9Z"/><path fill="#0ff0f0" d="M141.6 399.2 65.5 398.9 65.7 397.9 65.3 396.9 54.6 392.4 49.6 389.4 46.6 387.1 40.6 381.6 35.6 375.4 31.6 369.2 28.6 363.3 26.6 357.9 25 350.9 24 342.9 23.7 332.9 23.8 321.9 24.5 312.9 25.6 306.8 27.4 300.9 29.4 295.9 32.1 290.9 35.6 285.6 39.6 280.5 43.6 276.4 48.6 272.3 55.6 268.2 63.9 264.9 65.4 263.9 65.6 262.9 65.4 261.9 141.6 261.6 141.9 261.9 141.9 398.9Z"/><path fill="#1af7e5" d="M141.6 399.2 78.3 398.9 78.7 396.9 78.1 395.9 77.6 395.7 74.7 394.9 65.6 393.5 60.6 392.4 55.6 390.7 51.6 388.7 47.6 386 44.6 383.6 40.9 379.9 37.5 375.9 33.6 370.1 30.9 364.9 29 359.9 27.6 354 26.3 344.9 25.8 335.9 25.8 324.9 26.4 315.9 27.3 308.9 28.5 302.9 30.5 296.9 32.5 292.9 35.6 287.8 39.3 282.9 43.6 278.4 47.6 275 52.6 271.8 58.6 269.2 64.6 267.6 75.9 265.9 77.6 265.3 78.3 264.9 78.7 263.9 78.2 261.9 141.6 261.6 141.9 261.9 141.9 398.9Z"/><path fill="#26fed9" d="M141.6 399.1 83.2 398.9 83.8 395.9 83.2 394.9 82.6 394.6 79.9 393.9 69.6 392.7 63.6 391.7 58.6 390.2 53.2 387.9 49.6 385.7 45.6 382.6 41.8 378.9 38.6 375 35.2 369.9 32.8 364.9 30.9 358.9 29.4 351.9 28.3 343.9 27.8 335.9 27.7 326.9 28.2 317.9 29.1 310.9 30.4 303.9 31.8 298.9 33.8 293.9 36.5 288.9 39.4 284.9 43.6 280.3 47.6 276.8 53.6 272.9 60.6 270.1 67.6 268.5 80.6 267 82.6 266.3 83.4 265.9 83.8 264.9 83.1 261.9 141.6 261.7 141.8 261.9 141.8 398.9Z"/><path fill="#3affc4" d="M141.6 399.1 86.4 398.9 87.2 394.9 86.6 393.9 83.1 392.9 66.6 391 61.6 389.8 57.6 388.4 52.6 385.9 48.3 382.9 43.8 378.9 40.4 374.9 37.2 369.9 35 364.9 33 358.9 31.4 351.9 30.3 344.9 29.8 336.9 29.7 327.9 30.1 318.9 30.9 311.9 32 305.9 34 298.9 35.9 293.9 38.5 288.9 41.4 284.9 45 280.9 48.6 277.8 54.8 273.9 62.6 270.9 69.6 269.5 82.6 268.2 85.6 267.5 86.8 266.9 87.3 265.9 86.3 261.9 141.6 261.7 141.8 261.9 141.8 398.9Z"/><path fill="#4fffad" d="M141.6 399.1 89 398.9 90 394.9 89.9 393.9 89.1 392.9 85.2 391.9 68.6 390.1 59.6 387.7 54.6 385.4 50.6 382.8 46 378.9 42.6 374.9 39.4 369.9 37.1 364.9 35 358.9 33.3 351.9 32.3 344.9 31.8 337.9 31.7 327.9 32.1 318.9 32.8 311.9 34 305.9 35.7 299.9 38.1 293.9 40.1 289.9 42.7 285.9 46.2 281.9 49.6 278.9 55.9 274.9 63.6 272 70.6 270.5 85.6 269 88.6 268.3 89.4 267.9 90 266.9 88.9 261.9 141.8 261.9Z"/><path fill="#64ff97" d="M141.6 399.1 91.3 398.9 92.4 393.9 92.2 392.9 91.1 391.9 86.6 390.9 70.6 389.3 61.3 386.9 56.6 384.8 51.9 381.9 48.4 378.9 44.9 374.9 41.7 369.9 38.8 363.9 36.7 357.9 35.3 351.9 34.4 345.9 34 338.9 33.9 326.9 34.2 317.9 34.8 311.9 36 305.9 37.7 299.9 39.7 294.9 42.3 289.9 45 285.9 48.6 281.9 52.2 278.9 58.6 275.2 65.6 272.8 73.6 271.3 88.1 269.9 91.5 268.9 92.3 267.9 92.4 266.9 91.2 261.9 141.8 261.9Z"/><path fill="#77ff82" d="M141.6 399.1 93.3 398.9 94.5 392.9 94.2 391.9 92.8 390.9 88.6 390 72.6 388.5 67.6 387.5 62.6 386 57.9 383.9 53.6 381.2 49.9 377.9 46.4 373.9 43.2 368.9 40.8 363.9 38.7 357.9 37.3 351.9 36.3 340.9 36.6 314.9 37.4 308.9 38.5 303.9 40 298.9 41.7 294.9 44.5 289.9 47.4 285.9 50.1 282.9 53.6 279.8 56.6 277.8 60.4 275.9 67.6 273.5 75.6 272.1 89.2 270.9 93.2 269.9 94.3 268.9 94.5 267.9 93.3 261.9 141.8 261.9Z"/><path fill="#89ff6d" d="M141.6 399.1 95.2 398.9 96.5 392.9 96.4 391.9 95.6 390.6 94.2 389.9 90.6 389.2 78.6 388.2 72.6 387.4 63.6 385 59.1 382.9 54.6 379.9 51.3 376.9 47.6 372.5 44.7 367.9 42.4 362.9 40.7 357.9 39.5 351.9 38.9 342.9 39.2 311.9 39.8 306.9 41.1 301.9 42.6 297.5 44.6 293.3 46.6 289.9 49.6 285.9 52.6 282.8 56.2 279.9 62.6 276.4 69.6 274.2 77.6 272.9 90.6 271.8 94.7 270.9 96.1 269.9 96.5 268.9 95.2 261.9 141.8 261.9Z"/><path fill="#9cff58" d="M141.6 399.1 97 398.9 98.3 391.9 98.2 390.9 97.6 389.9 96.6 389.3 91.6 388.3 75.6 386.9 70.6 385.9 65.6 384.4 60.6 382.1 56.6 379.5 52.6 375.9 49.3 371.9 46.8 367.9 44.4 362.9 42.8 357.9 41.9 352.9 41.5 345.9 41.7 309.9 42.4 304.9 43.4 300.9 46.6 293.4 48.7 289.9 51.6 286.2 57.4 280.9 63.6 277.4 71.4 274.9 78.6 273.7 92.6 272.6 96.6 271.7 97.8 270.9 98.3 268.9 97 261.9 141.8 261.9Z"/><path fill="#aeff43" d="M141.6 399.1 98.8 398.9 100 390.9 99.9 389.9 99 388.9 96.6 387.9 93.6 387.4 80.6 386.5 74.6 385.7 68.6 384.1 63.2 381.9 57.6 378.3 52.6 373.3 48.6 367.4 45.9 360.9 44.7 355.9 44.1 349.9 44.4 330.9 44.1 310.9 44.5 305.9 45.3 301.9 46.6 297.9 48.5 293.9 51.6 288.9 55.6 284.5 60.1 280.9 65.6 278 70.6 276.3 75.6 275.2 94.6 273.4 97.6 272.8 99.3 271.9 99.9 270.9 100 269.9 98.8 261.9 141.8 261.9Z"/><path fill="#bfff33" d="M141.6 399.1 100.5 398.9 101.7 390.9 101.4 388.9 100.6 388.1 98.6 387.2 95.6 386.6 82.6 385.7 76.4 384.9 69.6 383.1 64.4 380.9 58.6 377 54.5 372.9 50.5 366.9 48.1 360.9 47 355.9 46.6 349.9 46.8 330.9 46.6 310.9 46.9 305.9 47.6 301.9 48.8 297.9 50.6 293.9 53.9 288.9 57.6 284.9 61.6 281.7 66.9 278.9 72.6 276.9 77.5 275.9 95.6 274.4 98.6 273.8 100.6 273 101.5 271.9 101.7 270.9 100.5 261.9 141.8 261.9Z"/><path fill="#d0ff24" d="M141.6 399 102.2 398.9 103.3 389.9 102.9 387.9 101.7 386.9 96.6 385.7 84.4 384.9 77.6 384 71.6 382.5 66.6 380.4 61.1 376.9 56.9 372.9 53.3 367.9 50.7 361.9 49.5 356.9 49 349.9 49 310.9 49.3 305.9 50.2 300.9 51.4 296.9 52.8 293.9 56.2 288.9 60.1 284.9 64.2 281.9 69.6 279.3 73.7 277.9 78.6 276.8 84.6 276.1 96.6 275.3 99.6 274.8 102 273.9 103 272.9 103.3 270.9 102.1 261.9 141.7 261.9Z"/><path fill="#e1ff16" d="M141.6 399 103.9 398.9 104.9 388.9 104.6 387.5 103.6 386.3 101.6 385.4 98.6 384.9 84.9 383.9 78.6 383 73.6 381.7 68.6 379.8 63.6 376.8 58.6 372.2 55 366.9 53 361.9 51.9 356.9 51.3 349.9 51.2 312.9 52.1 302.9 53 298.9 54.6 294.8 57.7 289.9 61.5 285.9 65.6 282.9 70.6 280.4 74.8 278.9 79.6 277.8 86.6 276.9 98.6 276.1 101.6 275.6 103.6 274.7 104.5 273.9 104.9 271.9 103.8 261.9 141.7 261.9Z"/><path fill="#f2ff08" d="M141.6 399 105.5 398.9 106.4 387.9 105.6 385.8 103.6 384.7 100.6 384 86.6 383 79.6 381.9 74.6 380.6 69.6 378.6 63.9 374.9 59.9 370.9 56.8 365.9 55 360.9 53.9 354.9 53.4 346.9 53.2 329.9 53.5 312.9 53.9 306.9 54.6 301.9 55.7 297.9 57.4 293.9 60.1 289.9 64.1 285.9 68.6 282.9 73.1 280.9 81.6 278.7 99.6 277.1 104.7 275.9 105.9 274.9 106.4 272.9 105.5 261.9 141.7 261.9Z"/><path fill="#f8f703" d="M141.6 399 107.3 398.9 107.9 386.9 107.6 385.6 106.6 384.5 104.6 383.6 101.6 383 87.7 381.9 81.6 381 76.6 379.8 71.6 377.9 66.6 374.9 62.4 370.9 59.2 365.9 57.1 359.9 56.1 352.9 55.5 342.9 55.2 330.9 55.4 318.9 56.6 303.9 57.7 298.9 59.6 294.3 62.5 289.9 65.6 286.9 69.6 284.2 74.5 281.9 82.6 279.8 101.6 278 104.6 277.4 106.6 276.5 107.6 275.4 107.9 273.9 107.2 261.9 141.7 261.9Z"/><path fill="#fdee01" d="M141.6 399 109 398.9 109.5 386.9 109.2 384.9 108.6 383.9 106.6 382.8 103.6 382.1 88.6 380.8 82.6 379.9 77.6 378.6 72.6 376.6 68.2 373.9 64.1 369.9 61.2 364.9 59.5 359.9 58.5 353.9 57.5 342.9 57.1 332.9 57.3 323.9 58.8 304.9 60.1 298.9 61.7 294.9 64.3 290.9 67.2 287.9 71.6 284.9 76.1 282.9 84.6 280.7 102.6 279 107.6 277.8 108.8 276.9 109.5 274.9 109 261.9 141.7 261.9Z"/><path fill="#ffe200" d="M141.6 399 110.9 398.9 111.1 385.9 110.8 383.9 110.1 382.9 108.5 381.9 104.6 381 84.6 378.9 79.6 377.7 74.6 375.8 69.9 372.9 66 368.9 63.6 364.8 61.7 358.9 60.6 352 59.5 340.9 59.1 332.9 59.2 324.9 59.8 315.9 61.2 304.9 62.6 298.9 64.3 294.9 66.6 291.4 69.6 288.4 73.3 285.9 77.6 284 85.6 281.9 104.6 280 107.6 279.4 109.6 278.5 110.6 277.4 111 275.9 110.9 261.9 141.7 261.9Z"/><path fill="#ffd400" d="M141.6 399 112.9 398.9 112.7 384.9 112.4 382.9 111.6 381.7 109.6 380.6 106.6 379.9 91.6 378.5 85.6 377.6 79.6 376 75.6 374.3 71.6 371.7 68 367.9 65.8 363.9 64 357.9 61.6 340.9 61.1 333.9 61.1 326.9 61.8 317.9 63.5 305.9 64.6 300.9 66.4 295.9 68.6 292.4 71.6 289.3 75.2 286.9 79.6 285 88.7 282.9 106.6 281.1 109.6 280.3 111.6 279.3 112.5 277.9 112.7 276.9 112.9 261.9 141.7 261.9Z"/><path fill="#ffca00" d="M141.6 399 115.1 398.9 114.5 383.9 114.1 381.9 113.6 380.8 111.6 379.6 108.6 378.8 92.6 377.1 85.6 375.9 80.6 374.5 76.6 372.7 72.8 369.9 69.6 365.9 67.5 360.9 65.6 352.9 63.5 337.9 63.2 330.9 63.4 323.9 64.5 314.9 66.3 304.9 67.6 299.9 69.6 295.1 71.6 292.3 74.2 289.9 77.4 287.9 81.6 286.2 90.6 284.2 107.6 282.3 112.7 280.9 113.8 279.9 114.4 277.9 115.1 261.9 141.7 261.9Z"/><path fill="#ffc500" d="M141.6 399 116 398.9 115.1 382.9 114.6 380.9 113.7 379.9 111.6 378.9 108.6 378.3 95.6 376.9 86.6 375.5 80.9 373.9 76.6 371.8 73 368.9 70.2 364.9 68 358.9 66 349.9 64.7 341.9 64.2 335.9 64 328.9 64.3 322.9 65.5 313.9 67.5 303.9 69 298.9 70.8 294.9 73.2 291.9 75.5 289.9 79 287.9 82.6 286.5 90.6 284.8 108.6 282.7 111.6 282.1 113.6 281.2 114.7 279.9 115.1 277.9 116 261.9 141.7 261.9Z"/><path fill="#ffc000" d="M141.6 399 116.9 398.9 115.8 382.9 115.4 380.9 114.6 379.6 112.6 378.6 108.6 377.7 95.6 376.3 86.6 374.9 80.6 373 76.6 370.9 73.3 367.9 70.6 363.4 68.7 357.9 66.6 347.9 65.5 340.9 65 333.9 65 326.9 65.4 320.9 66.6 312.9 68.6 303.6 70.1 298.9 72 294.9 74.4 291.9 76.6 290.1 79.6 288.4 83.5 286.9 91.6 285.3 109.6 283.1 112.6 282.4 114.6 281.4 115.7 278.9 116.9 261.9 141.7 261.9Z"/><path fill="#ffbb00" d="M141.6 398.9 117.8 398.9 116.4 381.9 115.9 379.9 115 378.9 113.6 378.2 109.6 377.3 97.2 375.9 86.6 374.2 80.6 372.2 76.7 369.9 73.7 366.9 71.1 361.9 69.3 355.9 67.2 345.9 66.3 339.9 65.8 332.9 65.9 325.9 66.4 319.9 67.6 312.7 69.6 303.8 71.2 298.9 73.2 294.9 74.7 292.9 76.9 290.9 80.3 288.9 83.6 287.6 91.4 285.9 109.6 283.7 113.6 282.8 115.3 281.9 116 280.9 116.4 278.9 117.8 261.9 141.6 261.9Z"/><path fill="#ffb600" d="M141.6 398.9 118.8 398.9 117 380.9 116.6 379.5 115.6 378.3 113.6 377.5 109.6 376.7 87.6 373.8 81.7 371.9 78.2 369.9 75 366.9 72.3 361.9 70.1 354.9 68 344.9 66.8 332.9 66.9 325.9 67.4 319.9 68.6 312.6 70.6 304.1 71.9 299.9 73.8 295.9 76.1 292.9 78.4 290.9 81.6 289.1 84.6 288 91.6 286.5 109.6 284.3 113.6 283.5 115.6 282.7 116.4 281.9 117.1 279.9 118.8 261.9 141.6 261.9Z"/><path fill="#ffb100" d="M141.6 398.9 119.9 398.9 117.9 380.9 117.3 378.9 116.5 377.9 114.6 377 110.6 376.2 99.4 374.9 87.6 373.1 82.6 371.4 78.6 369.1 75.6 365.9 73 360.9 70.7 352.9 68.8 343.9 67.9 331.9 68 324.9 68.6 318.9 69.6 312.8 71.6 304.5 73.1 299.9 75.1 295.9 77.5 292.9 79.6 291.2 81.9 289.9 85.6 288.5 92.6 287 110.6 284.8 114.6 284 116.6 283 117.4 281.9 117.9 279.9 119.9 261.9 141.6 261.9Z"/><path fill="#ffab00" d="M141.6 398.9 121 398.9 118.5 379.9 117.8 377.9 116.6 376.9 110.6 375.5 89.6 372.8 83.6 370.9 80 368.9 77 365.9 74.3 360.9 71.8 352.9 69.9 343.9 69 331.9 69.7 318.9 70.7 312.9 72.6 305 73.9 300.9 75.8 296.9 78 293.9 80.3 291.9 83.6 290.1 86.6 289 92.6 287.7 111.6 285.3 117 283.9 117.9 282.9 118.6 280.9 121 261.9 141.6 261.9Z"/><path fill="#ffa400" d="M141.6 398.9 122.2 398.9 119.2 378.9 118.6 377.3 117.6 376.4 111.6 375 89.6 372 84.6 370.4 80.6 368 77.6 364.7 75.1 359.9 72.7 351.9 71.1 343.9 70.5 337.9 70.3 330.9 71 317.9 72 311.9 73.6 305.6 75.2 300.9 77.2 296.9 79.6 293.9 81.6 292.3 83.9 290.9 87.6 289.5 93.6 288.3 111.6 286 117.6 284.6 118.6 283.7 119.3 281.9 122.2 261.9 141.6 261.9Z"/><path fill="#ff9e00" d="M141.6 398.9 123.5 398.9 120.2 378.9 119.6 376.9 118.6 375.8 116.6 375.1 112.6 374.4 91.6 371.6 85.8 369.9 82.3 367.9 79.2 364.9 76.4 359.9 73.9 351.9 72.3 343.9 71.7 331.9 72.2 317.9 73.2 311.9 74.6 306.4 76.1 301.9 78 297.9 80.2 294.9 82.5 292.9 85.6 291.2 88.6 290.1 94.2 288.9 114.6 286.2 117.6 285.6 119 284.9 119.7 283.9 120.3 281.9 123.5 261.9 141.6 261.9Z"/><path fill="#ff9800" d="M141.6 398.9 124.9 398.9 121 377.9 120.3 375.9 119.1 374.9 112.6 373.7 92 370.9 86.6 369.2 82.8 366.9 80 363.9 77.3 358.9 75.1 351.9 73.7 343.9 73.2 329.9 73.7 316.9 74.6 311.4 76 305.9 77.6 301.5 79.5 297.9 80.9 295.9 83.1 293.9 85.6 292.3 89 290.9 95.6 289.5 116.6 286.7 119.6 285.8 120.4 284.9 121.1 282.9 124.9 261.9 141.6 261.9Z"/><path fill="#ff9200" d="M141.6 398.9 126.5 398.9 122.1 377.9 121.6 375.9 120.6 374.5 117.6 373.6 92.6 370.1 87.6 368.5 83.6 366 80.9 362.9 78.6 358.6 76.5 351.9 75.2 344.9 74.8 338.9 74.8 324.9 75.2 315.9 76 310.9 77.3 305.9 78.8 301.9 80.3 298.9 82.6 295.9 84.6 294.2 87.6 292.5 90.6 291.4 97.6 290 118.6 287.3 120.6 286.5 121.2 285.9 121.9 283.9 126.5 261.9 141.6 261.9Z"/><path fill="#ff8c00" d="M141.6 398.9 128.2 398.9 123.1 376.9 122.5 374.9 121.6 373.6 119.6 372.9 107.6 371.6 93.6 369.4 88.6 367.8 84.6 365.3 81.8 361.9 79.6 357.6 77.6 350.9 76.7 344.9 76.4 321.9 76.8 314.9 78.7 305.9 80.2 301.9 81.6 299.4 83.4 296.9 85.6 294.9 88.6 293.2 91.6 292.1 98.6 290.7 119.6 288.1 121.6 287.4 122.6 285.9 123.2 283.9 128.2 261.9 141.6 261.9Z"/><path fill="#ff8600" d="M141.6 398.9 130.2 398.9 124.2 375.9 123.6 373.9 122.6 372.6 120.6 371.9 108.7 370.9 95.6 368.9 89.6 367.1 86.1 364.9 83.4 361.9 80.8 356.9 79 350.9 78.2 344.9 78 319.9 78.3 314.9 79.9 306.9 81.3 302.9 82.9 299.9 84.6 297.5 86.6 295.7 89.6 293.9 92.6 292.8 100.6 291.2 109.6 290 120.6 289.1 122.6 288.4 124 285.9 130.2 261.9 141.6 261.9Z"/><path fill="#ff7f00" d="M141.6 398.9 132.5 398.9 125.2 373.9 124.6 372.5 123.6 371.3 121.6 370.9 109.6 370.1 96.6 368.1 90.6 366.3 86.9 363.9 83.7 359.9 81.9 355.9 80.5 350.9 79.7 344.9 79.8 314.9 81.3 306.9 83.9 300.9 85.6 298.4 87.6 296.5 90.1 294.9 93.6 293.6 99.6 292.3 109.6 290.9 121.6 290.1 123.6 289.7 124.4 288.9 125.3 286.9 132.6 261.9 141.6 261.9Z"/><path fill="#ff7900" d="M141.6 398.9 135.5 398.9 127.1 373.9 125.6 370.5 124.6 369.8 123.6 369.6 111.6 369.4 100.6 367.9 94.6 366.7 90.4 364.9 86.8 361.9 84.3 357.9 82.2 351.9 81.3 344.9 81.5 313.9 82.8 306.9 83.9 303.9 85.5 300.9 87.6 298.3 89.6 296.6 92.6 295 95.6 294.1 110.6 291.7 123.6 291.4 125.2 290.9 126 289.9 126.8 287.9 135.5 261.9 141.6 261.9Z"/><path fill="#ff7300" d="M141.6 398.9 139.6 398.9 127.5 368.9 126.6 368.1 125.6 367.9 120.6 368.5 110.6 368.3 97.6 366.4 94.6 365.6 91.6 364.2 89.7 362.9 87.8 360.9 85 355.9 83.4 349.9 82.8 342.9 83 313.9 84.4 306.9 85.5 303.9 87.3 300.9 88.9 298.9 91.4 296.9 93.6 295.8 97.6 294.6 112.6 292.5 126.6 292.9 128.2 290.9 139.7 261.9 141.6 261.9Z"/><path fill="#ff6d00" d="M141.6 386 139.6 382.9 131.4 366.9 130.6 365.6 129.6 365 128.6 365 122.6 366.9 113.6 367.5 98.6 365.6 94.6 364.4 91.6 362.7 89.7 360.9 88.2 358.9 85.9 353.9 84.6 347.9 84.2 339.9 84.3 318.9 84.8 311.9 85.6 307.9 86.7 304.9 88.3 301.9 89.9 299.9 92.6 297.6 96.6 295.9 101.6 294.9 111.6 293.7 114.6 293.5 121.6 293.9 128.6 296 129.9 295.9 130.9 294.9 139.6 278.1 141.6 275 141.6 295.9 139.6 297.7 135.6 302.5 134.7 304.9 135.6 308.8 136.6 309.5 137.6 309.3 141.6 306.8 141.6 354.2 137.6 351.7 136.6 351.5 135.6 352.3 134.7 355.9 135.6 358.5 139.6 363.3 141.6 365.1Z"/><path fill="#ff6700" d="M118.6 366 113.6 366.3 105.6 365.6 99.6 364.7 95.6 363.5 92.8 361.9 90.6 359.7 88.7 356.9 87.1 352.9 86.1 347.9 85.7 340.9 85.7 318.9 86.4 310.9 87.9 305.9 90.1 301.9 93.1 298.9 97.1 296.9 102.6 295.8 114.6 294.7 121.6 295.5 124.6 296.3 127.6 298.2 129.8 300.9 131.2 303.9 133.6 310.9 135.6 314.5 136.6 315.5 137.6 316 138.6 315.9 141.6 314.7 141.6 346.3 138.6 345.1 137.6 345 136.6 345.5 134.6 348.1 130.9 357.9 128.5 361.9 126.6 363.6 124.6 364.7Z"/><path fill="#ff6000" d="M116.6 365 103.6 364.3 99.6 363.7 96.6 362.7 93.6 360.8 91.1 357.9 89.4 354.9 88.1 350.9 87.2 344.9 86.9 335.9 87.1 318.9 87.9 310.9 89.5 305.9 92 301.9 95.5 298.9 99.6 297.3 105.6 296.5 115.6 296 120.6 296.8 124.6 298.2 126.6 299.6 128.6 302.2 133.5 313.9 136.6 318.9 138.6 320 141.6 319.5 141.6 341.5 138.6 341 137.6 341.3 135.6 343.4 132.6 348.9 129.1 357.9 126.6 361.4 123.6 363.3Z"/><path fill="#ff5900" d="M119.6 363 115.6 363.6 108.6 363.6 102.6 363.1 98.6 362.2 96.1 360.9 93.6 358.7 91.6 355.9 89.9 351.9 88.7 345.9 88.2 336.9 88.3 320.9 89.2 311.9 90.7 306.9 93.1 302.9 96.4 299.9 99.6 298.5 105.6 297.6 115.6 297.4 119.6 298 123.9 299.9 126.3 301.9 127.8 303.9 132.6 314.9 136.6 321.7 138.6 323.8 139.6 324.2 141.6 324 141.6 337 139.6 336.8 138.6 337.1 136.6 339.3 132.7 345.9 128.6 355.5 126.6 358.8 123.6 361.3Z"/><path fill="#ff5300" d="M116.6 362 111.6 362.4 105.6 362.3 101.6 361.8 98.9 360.9 95.9 358.9 94 356.9 92.2 353.9 90.8 349.9 89.8 342.9 89.4 332.9 89.7 319.9 90.6 311.9 92.3 306.9 94.6 303.4 97.6 300.8 101.6 299.2 108.6 298.6 116.6 299 120.6 300 123.7 301.9 125.7 303.9 127.6 306.8 131.3 314.9 137.2 325.9 138.4 328.9 138.6 330.9 138.1 332.9 126.6 355.9 124.6 358.3 122.6 359.9 119.6 361.3Z"/><path fill="#ff4c00" d="M113.6 361 109.6 361.3 104.6 361.1 101.6 360.5 98.6 359.1 95.9 356.9 93.9 353.9 92.6 350.9 91.6 346.9 90.8 338.9 90.7 326.9 91.1 317.9 92.1 311.9 93.6 307.6 96.1 303.9 99.6 301.3 103.6 300 109.6 299.7 115.6 300.4 120.6 301.9 123.5 303.9 126.6 308 133.8 321.9 135.6 325.9 136.4 328.9 136.3 332.9 134.9 336.9 125.6 354.6 123.6 357 120.9 358.9 117.6 360.1Z"/><path fill="#ff4600" d="M110.6 359.9 105.6 360 102.6 359.4 99.6 358 97.6 356.5 95.6 353.9 94.1 350.9 93 346.9 92.2 340.9 91.9 332.9 92 322.9 92.7 315.9 93.8 310.9 95.7 306.9 98.3 303.9 101.6 301.9 105.6 301 110.6 301.1 115.6 301.9 119.6 303.4 123 305.9 125.6 309.2 133.1 322.9 134.7 326.9 135.3 329.9 135 332.9 133.7 336.9 126.1 350.9 124.1 353.9 121.6 356.3 118.6 358 114.6 359.4Z"/><path fill="#ff3f00" d="M113.6 358.1 109.6 358.7 105.6 358.6 102.6 357.9 99.6 356.2 97.4 353.9 95.7 350.9 94.7 347.9 93.9 343.9 93.2 335.9 93.1 326.9 93.7 318.9 94.7 312.9 96.3 308.9 98.6 305.7 101.6 303.5 105.6 302.4 109.6 302.3 114.6 303.1 118.6 304.7 121.6 306.9 124.6 310.5 131.4 321.9 133.3 325.9 134 328.9 133.9 332.9 132.6 336.7 124.3 350.9 121.8 353.9 119.6 355.6 116.6 357.2Z"/><path fill="#ff3800" d="M111.6 357 107.6 357.4 104.6 357 101.9 355.9 99.6 354.2 97.9 351.9 96.5 348.9 95.5 344.9 94.8 339.9 94.4 331.9 94.5 324.9 95.2 317.9 96.2 312.9 98 308.9 100.6 305.9 103.6 304.3 106.6 303.7 110.6 303.8 115.3 304.9 118.6 306.5 121.4 308.9 123.8 311.9 130.7 322.9 132.4 326.9 133 329.9 132.7 332.9 131.3 336.9 122.6 350.8 120.6 352.9 117.6 355.1 114.6 356.3Z"/><path fill="#ff3200" d="M108.6 355.9 105.6 355.7 102.6 354.5 100.6 352.9 99.1 350.9 97.8 347.9 96.8 343.9 95.7 331.9 96.4 319.9 97.2 314.9 98.2 311.9 99.9 308.9 101.9 306.9 104.6 305.6 107.6 305.1 110.6 305.3 114.6 306.4 117.6 307.8 120.6 310.2 122.8 312.9 129.6 323.3 131.3 326.9 131.9 329.9 131.6 332.9 130.1 336.9 121.5 349.9 119.4 351.9 116.3 353.9 112.6 355.3Z"/><path fill="#ff2b00" d="M111.6 354 108.6 354.4 105.6 354 103.1 352.9 101.1 350.9 99.5 347.9 98.6 345.1 97.3 335.9 97 330.9 97.3 324.9 98.2 317.9 99.2 313.9 100.6 310.8 102.6 308.5 104.6 307.3 107.6 306.6 110.6 306.8 114.1 307.9 117.6 309.8 120.1 311.9 122.6 315 128.6 323.8 130.1 326.9 130.7 329.9 130.4 332.9 129.3 335.9 121.6 347.4 117.6 351.2 114.6 352.9Z"/><path fill="#ff2400" d="M112.6 352 109.6 352.7 106.6 352.5 104.6 351.7 102.6 350 101.4 347.9 100.3 344.9 98.8 335.9 98.5 330.9 98.6 326.9 99.6 319.4 100.6 315.2 102 311.9 103.6 310 105.6 308.8 107.6 308.3 110.6 308.5 113.6 309.4 116.2 310.9 118.7 312.9 121.3 315.9 127.6 324.5 128.9 326.9 129.6 329.9 129.5 331.9 128.5 334.9 121.5 344.9 117.6 349.1 115 350.9Z"/><path fill="#ff1f00" d="M112.6 350.1 109.6 350.8 107.6 350.7 105.6 349.9 104.4 348.9 103.2 346.9 102.1 343.9 100.2 333.9 100 329.9 100.4 325.9 101.6 318.9 102.6 315.5 104.6 311.9 106.6 310.6 108.6 310.2 112.7 310.9 114.6 311.9 117.2 313.9 126.6 325.6 127.8 327.9 128.3 329.9 128.1 331.9 127.6 333.7 125.6 336.8 117.6 346.7 114.9 348.9Z"/><path fill="#ff1900" d="M111.6 347.9 109.6 348.3 107.6 348 106.6 347.3 105.5 345.9 103.6 340.8 101.9 331.9 102.3 325.9 104.6 316.9 106.4 313.9 108.6 312.8 111.6 313.1 113.6 314 115.6 315.6 120.6 322.5 125.2 326.9 126.5 329.9 126.3 331.9 124.6 334.8 120.6 338.5 115.6 345.4 113.7 346.9Z"/><path fill="#ff1300" d="M110.6 344 108.6 343.6 107.6 342.6 106.6 340.9 104.7 334.9 104.1 330.9 104.6 326.4 106.6 320.2 107.6 318.4 108.6 317.4 109.6 317 111.6 317.3 114.6 319.7 118.6 324.7 121.8 327.9 122.9 329.9 123 330.9 122 332.9 118.6 336.3 114.6 341.3 112.6 343.1Z"/><path fill="#ff0e00" d="M111.6 338.1 110.6 338 109.6 337.4 108.6 335.9 107.6 333.6 107.1 330.9 107.4 327.9 108.6 325.1 109.6 323.6 110.6 323 111.6 322.9 113.6 324 117.2 327.9 118.4 329.9 118.4 330.9 117.3 332.9 114.6 336 112.6 337.7Z"/></g></g><g clip-path="url(#c4)"><g filter="url(#b4)"><circle cx="235.0" cy="330.8" r="67.3" fill="#0034ff"/><path fill="#0040ff" d="M302.7 398.9 166.5 398.5 166.7 336.4 167.7 336.2 168.7 335.2 169.2 330.5 168.7 326.4 167.7 325.4 166.7 325.2 166.7 262.3 302.7 262.1 303.1 262.5 303.1 398.5Z"/><path fill="#004dff" d="M302.7 398.9 166.6 398.5 166.7 347.2 169.7 346.7 170.7 345.9 171.3 343.5 171.4 340.5 171.2 317.5 170.7 315.7 169.7 314.9 166.7 314.4 166.7 262.4 302.7 262.1 303.1 262.5 303.1 398.5Z"/><path fill="#0059ff" d="M302.7 398.9 166.6 398.5 166.7 354 170.7 353.2 172.2 352.5 172.9 351.5 173.2 348.5 172.5 331.5 173.2 313.5 173 310.5 172.7 309.5 171.7 308.7 166.7 307.6 166.7 262.4 302.7 262.1 303.1 262.5 303.1 398.5Z"/><path fill="#0066ff" d="M302.7 398.9 166.6 398.5 166.7 359.8 173.7 357.9 174.7 357.1 175.1 354.5 173.8 339.5 173.5 330.5 173.8 321.5 175.1 306.5 174.7 304.5 173.7 303.7 166.7 301.8 166.7 262.4 302.7 262.1 303.1 262.5 303.1 398.5Z"/><path fill="#0073ff" d="M302.7 398.9 166.6 398.5 166.7 365.2 175.7 362.4 176.8 361.5 177.2 359.5 174.9 342.5 174.4 330.5 174.9 319.5 177 304.5 177.2 301.5 176.7 299.9 175.7 299.2 166.7 296.4 166.7 262.4 302.7 262.1 303.1 262.5 303.1 398.5Z"/><path fill="#0080ff" d="M302.7 398.9 166.6 398.5 166.7 370.5 177.7 366.5 179 365.5 179.4 363.5 176.1 344.5 175.4 337.5 175.2 330.5 175.5 323.5 176.1 316.5 179.1 300.5 179.4 297.5 178.7 295.7 177.7 295.1 166.7 291.1 166.7 262.4 302.7 262.1 303.1 262.5 303.1 398.5Z"/><path fill="#008eff" d="M302.7 398.9 166.6 398.5 166.7 375.7 180.7 369.8 181.7 368.6 181.8 367.5 177.3 346.5 176.4 338.5 176.1 330.5 176.4 322.5 177.3 314.5 178.9 306.5 181.7 295.5 181.8 293.5 181.4 292.5 179.7 291.2 166.7 285.9 166.7 262.4 302.7 262.1 303.1 262.5 303.1 398.5Z"/><path fill="#009bff" d="M302.7 398.8 166.7 398.5 166.7 381 182.7 373.6 183.7 372.9 184.3 371.5 183.9 368.5 180.6 357.5 178.5 348.5 177.3 339.5 176.9 330.5 177.3 321.5 178.6 312.5 180.2 305.5 183.8 293.5 184.4 290.5 183.7 288.7 182.7 288 166.7 280.6 166.7 262.5 302.7 262.2 303 262.5 303 398.5Z"/><path fill="#00a9ff" d="M302.7 398.8 166.7 398.5 166.7 386.6 169.7 385.3 185.7 376.8 186.7 375.9 187.1 374.5 186.5 371.5 181.9 358.5 179.8 350.5 178.2 340.5 177.7 330.5 178.3 320.5 179.7 311.5 182.4 301.5 186.7 289.5 187.1 286.5 186.5 285.5 185.1 284.5 169.7 276.3 166.7 275 166.7 262.5 302.7 262.2 303 262.5 303 398.5Z"/><path fill="#00b6ff" d="M302.7 398.8 166.7 398.5 166.7 392.6 169.7 391.1 188.7 379.9 189.7 379.1 190.1 377.5 189.7 375.5 183.9 361.5 181.2 352.5 179.2 341.5 178.6 330.5 179.3 319.5 181.1 309.5 183.8 300.5 189.5 286.5 190.1 283.5 189.7 282.5 188.4 281.5 169.7 270.5 166.7 269 166.7 262.5 302.7 262.2 303 262.5 303 398.5Z"/><path fill="#00c3ff" d="M302.7 398.8 169.2 398.5 173 395.5 191.7 383.3 193.4 381.5 193.4 380.5 192.8 378.5 186.5 365.5 182.4 353.5 180.2 342.5 179.5 330.5 180.3 318.5 182.7 307 186 297.5 192.7 283.5 193.5 280.5 193.1 279.5 192 278.5 172 265.5 168.1 262.5 302.7 262.2 303 262.5 303 398.5Z"/><path fill="#00d1ff" d="M302.7 398.8 179.5 398.5 181.6 396.5 195.7 386.2 197.2 384.5 197.2 383.5 196.4 381.5 191.2 372.5 188.2 366.5 184 355.5 182.4 349.5 181.3 343.5 180.7 337.5 180.5 330.5 180.7 323.5 181.6 316.5 182.7 310.8 184.5 304.5 188.7 293.9 196.7 279.5 197.2 277.5 196.9 276.5 195.9 275.5 180.8 264.5 178.7 262.5 302.7 262.2 303 262.5 303 398.5Z"/><path fill="#00deff" d="M302.7 398.8 189.8 398.5 191.6 396.5 200.7 389 201.7 387.7 201.7 386.5 200.6 384.5 194.3 375.5 190.7 369.2 187.5 362.5 184.7 354.5 182.9 346.5 182 339.5 181.7 330.5 182.1 321.5 183.8 310.5 185.5 304.5 187.7 298.7 192.7 288.8 201 276.5 201.8 274.5 201.5 273.5 200.7 272.6 190.9 264.5 189.1 262.5 302.7 262.2 303 262.5 303 398.5Z"/><path fill="#03eafc" d="M302.7 398.8 201.2 398.5 202.9 396.5 207 392.5 207.7 391.5 207.8 390.5 206.7 388.5 200.7 382 195.8 375.5 191.7 368.7 188.7 362.5 186.5 356.5 184.7 349.1 183.7 341.1 183.4 331.5 183.7 320.5 184.7 312.5 186.7 304.5 188.5 299.5 191.7 292.9 195.7 286.3 199.7 280.8 206.3 273.5 207.7 271.5 207.8 270.5 207.3 269.5 202.2 264.5 200.6 262.5 302.7 262.2 303 262.5 303 398.5Z"/><path fill="#0ff0f0" d="M302.7 398.8 226.3 398.5 226.4 397.5 225.7 396.5 215.7 392.2 210.7 389.1 206.7 386 203.1 382.5 199.7 378.7 193.5 369.5 190.4 363.5 188 356.5 186.7 350.5 185.9 343.5 185.5 331.5 185.8 319.5 186.7 310.9 188.4 303.5 190.7 297.5 193.7 291.7 197.7 285.6 201.8 280.5 206.7 275.7 212.7 271.2 218.7 268 225 265.5 226.2 264.5 225.9 262.5 302.7 262.2 303 262.5 303 398.5Z"/><path fill="#1af7e5" d="M302.7 398.8 239 398.5 239 396.5 237.4 395.5 223.7 392.8 217.7 390.9 213.7 389 209.8 386.5 206.7 384 203.1 380.5 199.6 376.5 195.7 370.8 192.9 365.5 190.7 359.8 189.4 354.5 188.2 345.5 187.6 336.5 187.6 326.5 188.1 316.5 190 304.5 191.7 298.9 193.6 294.5 196.5 289.5 200.1 284.5 204.6 279.5 208.7 275.9 213.7 272.6 219.7 270 226.7 268.1 236.3 266.5 237.7 266 238.7 265.5 239.1 264.5 238.7 262.5 302.7 262.2 303 262.5 303 398.5Z"/><path fill="#26fed9" d="M302.7 398.7 243.8 398.5 244.2 396.5 244 395.5 242.4 394.5 224.7 391.6 219.7 390.1 214.7 387.9 210.7 385.4 207.1 382.5 203.7 379.2 200.6 375.5 197.2 370.5 194.7 365.5 192.7 359.5 191.2 352.5 190.1 344.5 189.6 336.5 189.5 326.5 190 317.5 190.9 310.5 192.3 303.5 193.8 298.5 195.7 293.9 198.7 288.7 201.7 284.7 205.7 280.4 209.7 276.9 215.7 273.2 221.7 270.8 228.7 269.2 240.7 267.5 242.7 266.9 243.6 266.5 244.2 265.5 243.5 262.5 302.7 262.3 302.9 262.5 302.9 398.5Z"/><path fill="#3affc4" d="M302.7 398.7 247 398.5 247.6 395.5 247.3 394.5 245.4 393.5 226.7 390.7 220.7 389 215.7 386.8 211.9 384.5 208.7 382 205 378.5 202.4 375.5 199.1 370.5 196.8 365.5 194.8 359.5 193.1 352.5 192.1 345.5 191.5 337.5 191.4 328.5 191.8 319.5 192.6 312.5 193.7 306.5 195.3 300.5 197.5 294.5 200.1 289.5 202.9 285.5 206.6 281.5 210 278.5 215.7 274.8 222.7 271.9 229.7 270.3 243.6 268.5 246.7 267.6 247.6 266.5 246.8 262.5 302.7 262.3 302.9 262.5 302.9 398.5Z"/><path fill="#4fffad" d="M302.7 398.7 249.6 398.5 250.3 394.5 249.8 393.5 248.7 392.9 245.7 392.2 229.7 390.1 220.7 387.6 216.3 385.5 211.7 382.5 208.1 379.5 204.6 375.5 201.3 370.5 198.9 365.5 196.8 359.5 195.1 352.5 194 345.5 193.5 338.5 193.4 328.5 193.7 319.5 194.5 312.5 195.6 306.5 197.3 300.5 199.6 294.5 202.2 289.5 205 285.5 207.7 282.5 211.7 279.1 217.7 275.4 224.7 272.7 232.7 271 245.7 269.5 249.2 268.5 250.2 267.5 250.3 266.5 249.4 262.5 302.9 262.5Z"/><path fill="#64ff97" d="M302.7 398.7 251.8 398.5 252.7 394.5 252.6 393.5 251.7 392.4 247.7 391.3 230.7 389.1 221.7 386.5 217.4 384.5 212.9 381.5 209.5 378.5 206.1 374.5 202.9 369.5 200.1 363.5 198.1 357.5 196.8 351.5 196 345.5 195.6 338.5 195.5 325.5 195.9 317.5 196.6 311.5 197.8 305.5 199.3 300.5 201.2 295.5 203.8 290.5 206.5 286.5 210.1 282.5 213.6 279.5 219.7 275.9 226.7 273.4 233.7 272 246.7 270.5 251 269.5 252.4 268.5 252.7 267.5 251.6 262.5 302.9 262.5Z"/><path fill="#77ff82" d="M302.7 398.7 253.9 398.5 254.8 393.5 254.6 392.5 253.5 391.5 248.7 390.3 232.7 388.4 223.7 385.9 219.7 384.1 215.4 381.5 211.9 378.5 208.3 374.5 205 369.5 202.5 364.5 200.4 358.5 199 352.5 198 341.5 198.2 315.5 199.7 305.5 201.2 300.5 203.2 295.5 206 290.5 208.7 286.6 211.5 283.5 214.9 280.5 217.9 278.5 221.7 276.5 228.7 274.1 234.7 272.9 247.7 271.4 252.7 270.4 254.3 269.5 254.8 268.5 253.7 262.5 302.9 262.5Z"/><path fill="#89ff6d" d="M302.7 398.7 255.7 398.5 256.7 392.5 256.3 391.5 254.9 390.5 250.7 389.5 233.9 387.5 229.5 386.5 224.7 384.9 219.7 382.5 215.7 379.7 212.3 376.5 209 372.5 205.9 367.5 203.7 362.5 202.1 357.5 200.9 351.5 200.5 343.5 200.5 317.5 200.8 311.5 202.5 302.5 204.3 297.5 206.2 293.5 211 286.5 213.9 283.5 217.5 280.5 223.7 277.1 230.7 274.8 237.7 273.5 250.7 272.1 254.7 271.1 255.9 270.5 256.6 269.5 256.8 268.5 255.6 262.5 302.9 262.5Z"/><path fill="#9cff58" d="M302.7 398.7 257.5 398.5 258.5 393.5 258.5 391.5 257.9 390.5 256.7 389.8 251.7 388.6 235.7 386.8 226.7 384.3 222.6 382.5 217.9 379.5 213.7 375.6 210.7 371.9 208 367.5 206.1 363.5 204.4 358.5 203.4 353.5 203 346.5 203.2 310.5 203.9 305.5 204.9 301.5 206.3 297.5 208.3 293.5 210.8 289.5 213.2 286.5 218.7 281.5 224.7 278.1 231.7 275.7 238.7 274.3 252.7 272.9 257.4 271.5 258.3 270.5 258.6 269.5 257.4 262.5 302.9 262.5Z"/><path fill="#aeff43" d="M302.7 398.7 259.3 398.5 260.3 391.5 260.1 390.5 259.3 389.5 257 388.5 253.7 387.8 240.7 386.5 234.7 385.5 228.7 383.8 223.7 381.5 218.7 378.1 214.1 373.5 210 367.5 207.4 361.5 206.2 356.5 205.6 350.5 205.9 330.5 205.5 311.5 206 306.5 206.7 302.5 208 298.5 209.8 294.5 213 289.5 216.7 285.3 221.4 281.5 226.7 278.6 231.7 276.9 236.7 275.7 253.7 273.8 258.7 272.5 259.9 271.5 260.3 270.5 259.1 262.5 302.9 262.5Z"/><path fill="#bfff33" d="M302.7 398.7 260.9 398.5 261.9 390.5 261.6 389.5 260.7 388.6 258.7 387.7 255.7 387.1 242.7 385.8 236.7 384.8 230.7 383.2 225.7 381 220.4 377.5 215.7 372.8 212.1 367.5 209.6 361.5 208.5 356.5 208 350.5 208.3 330.5 208 311.5 208.3 306.5 209 302.5 210.1 298.5 211.9 294.5 215.2 289.5 218.8 285.5 222.7 282.4 228 279.5 232.7 277.8 237.7 276.6 255.7 274.5 258.7 273.9 260.7 273 261.7 271.9 262 270.5 260.8 262.5 302.9 262.5Z"/><path fill="#d0ff24" d="M302.7 398.6 262.6 398.5 263.6 390.5 263.5 389.5 262.7 388.1 260.7 387 257.7 386.3 243.7 384.9 237.7 383.9 232.6 382.5 227.7 380.4 222.7 377.3 217.7 372.5 214.3 367.5 211.8 361.5 210.8 356.5 210.3 350.5 210.3 311.5 210.6 306.5 211.5 301.5 212.7 297.5 214.1 294.5 216.7 290.4 220.7 286 224.7 282.9 229.7 280.2 233.7 278.8 238.6 277.5 244.7 276.6 257.7 275.3 260.9 274.5 262.7 273.5 263.4 272.5 263.6 271.5 262.5 262.5 302.8 262.5Z"/><path fill="#e1ff16" d="M302.7 398.6 264.3 398.5 265.1 389.5 264.7 387.9 263.7 386.9 261.7 386 258.7 385.4 245.7 384.1 239.7 383.1 233.8 381.5 229.1 379.5 223.7 376 219.2 371.5 216 366.5 214.1 361.5 213.1 356.5 212.6 349.5 212.6 311.5 212.9 306.5 213.8 301.5 214.9 297.5 216.3 294.5 218.9 290.5 222.6 286.5 226.7 283.5 231.7 280.9 239.7 278.5 245.7 277.5 258.7 276.2 261.9 275.5 264 274.5 264.9 273.5 265.1 271.5 264.2 262.5 302.8 262.5Z"/><path fill="#f2ff08" d="M302.7 398.6 265.9 398.5 266.7 388.5 266.5 387.5 265.7 386.4 263.7 385.3 260.7 384.6 246.7 383.1 240.7 382.1 235.1 380.5 230.7 378.6 225.7 375.5 221.5 371.5 218.3 366.5 216.4 361.5 215.3 355.5 214.8 348.5 214.8 313.5 215.1 307.5 215.8 302.5 216.9 298.5 218.6 294.5 221.2 290.5 224.7 286.9 228.7 284.1 233.7 281.6 241.7 279.3 260.7 277 263.7 276.3 265.3 275.5 266.3 274.5 266.7 272.5 265.9 262.5 302.8 262.5Z"/><path fill="#f8f703" d="M302.7 398.6 267.6 398.5 268.3 388.5 267.9 386.5 267.2 385.5 265.4 384.5 261.7 383.6 247.7 382 241.7 381 236.4 379.5 231.8 377.5 227.1 374.5 223.1 370.5 220.1 365.5 218.4 360.5 217.4 354.5 216.8 345.5 216.5 332.5 216.7 319.5 217.8 304.5 218.9 299.5 220.7 294.9 223.6 290.5 226.7 287.5 230.7 284.7 235.4 282.5 243.7 280.2 261.7 278 264.7 277.3 266.7 276.5 267.7 275.5 268.2 273.5 267.6 262.5 302.8 262.5Z"/><path fill="#fdee01" d="M302.7 398.6 269.4 398.5 269.8 387.5 269.4 385.5 268.6 384.5 266.7 383.5 263.7 382.7 248.7 380.9 242.7 379.9 237.9 378.5 233.7 376.7 228.7 373.5 225.7 370.5 222.5 365.5 220.8 360.5 219.7 354.5 218.9 344.5 218.4 334.5 218.5 324.5 219.9 305.5 221.2 299.5 222.8 295.5 225.3 291.5 228.2 288.5 232.5 285.5 236.7 283.6 244.7 281.3 262.7 279 265.7 278.4 268 277.5 269.2 276.5 269.8 274.5 269.4 262.5 302.8 262.5Z"/><path fill="#ffe200" d="M302.7 398.6 271.3 398.5 271.4 386.5 271 384.5 270.1 383.5 268.2 382.5 264.7 381.6 249.7 379.8 243.7 378.7 239.6 377.5 234.9 375.5 230.7 372.8 227.5 369.5 224.5 364.5 222.9 359.5 221.9 353.5 220.8 342.5 220.4 334.5 220.4 326.5 220.9 317.5 222.1 306.5 223.4 300.5 224.8 296.5 227.2 292.5 229.9 289.5 233.7 286.8 237.7 284.8 245.7 282.5 264.7 280 267.7 279.3 269.7 278.4 270.7 277.5 271.4 275.5 271.2 262.5 302.8 262.5Z"/><path fill="#ffd400" d="M302.7 398.6 273.2 398.5 273 385.5 272.6 383.5 271.8 382.5 269.7 381.5 266.7 380.7 251.7 378.7 245.7 377.6 240.7 376.2 236.8 374.5 232.7 371.9 229.4 368.5 227.1 364.5 225.2 358.5 222.7 340.5 222.4 326.5 223.1 317.5 224.6 306.5 225.6 301.5 227.3 296.5 229.1 293.5 231.8 290.5 235.7 287.7 239.7 285.8 243.7 284.5 248.7 283.4 266.7 280.9 269.7 280.1 271.7 279.1 272.7 277.8 273 276.5 273.3 262.5 302.8 262.5Z"/><path fill="#ffca00" d="M302.7 398.6 275.4 398.5 274.8 384.5 274.3 382.5 273.6 381.5 271.7 380.5 267.7 379.4 253.8 377.5 246.7 376.2 241.7 374.7 237.7 372.9 233.7 369.9 230.9 366.5 228.7 361.5 227.2 355.5 224.8 339.5 224.4 332.5 224.5 325.5 225.4 316.5 227.1 306.5 228.6 300.5 230.1 296.5 232 293.5 234.7 290.8 238.1 288.5 241.7 286.9 250.7 284.6 267.7 282.2 273.1 280.5 274.1 279.5 274.7 277.5 275.4 262.5 302.8 262.5Z"/><path fill="#ffc500" d="M302.7 398.6 276.3 398.5 275.5 384.5 274.7 381.5 272.7 380.2 268.7 379 255.7 377.2 246.5 375.5 241.7 374 237.7 372 234.4 369.5 231.4 365.5 229.4 360.5 227.7 353.3 225.5 338.5 225.2 331.5 225.4 324.5 226.3 316.5 228.1 306.5 229.6 300.5 231.2 296.5 233.1 293.5 235.1 291.5 237.8 289.5 242 287.5 249.7 285.4 268.7 282.6 272.5 281.5 274.3 280.5 275 279.5 275.4 277.5 276.3 262.5 302.8 262.5Z"/><path fill="#ffc000" d="M302.7 398.6 277.2 398.5 276.1 383.5 275.6 381.5 274.8 380.5 272.7 379.5 268.7 378.5 255 376.5 246.7 374.9 242.3 373.5 238.3 371.5 234.6 368.5 232 364.5 229.8 358.5 227.9 349.5 226.7 341.8 226.2 335.5 226.1 328.5 226.4 322.5 227.5 314.5 229.5 304.5 231 299.5 232.7 295.8 234.3 293.5 236.7 291.2 239.7 289.3 243.7 287.6 251.7 285.7 269.7 282.9 272.7 282.1 274.7 281.2 275.4 280.5 276.1 278.5 277.2 262.5 302.8 262.5Z"/><path fill="#ffbb00" d="M302.7 398.6 278.1 398.5 276.9 383.5 276.5 381.5 275.7 380.2 273.7 379.1 269.7 378.1 258.7 376.5 246.7 374.2 241.8 372.5 238.2 370.5 235 367.5 232.2 362.5 230.6 357.5 228.5 347.5 227.6 341.5 227 334.5 227 327.5 227.4 321.5 228.6 313.5 230.5 304.5 231.7 300.5 233.7 296.1 235.5 293.5 237.7 291.5 240.7 289.6 243.7 288.3 250.7 286.5 269.7 283.5 273.7 282.5 275.6 281.5 276.3 280.5 276.8 278.5 278.2 262.5 302.8 262.5Z"/><path fill="#ffb600" d="M302.7 398.5 279.1 398.5 277.5 382.5 277 380.5 276.2 379.5 274 378.5 269.7 377.5 247.7 373.8 243.6 372.5 239.7 370.5 236.3 367.5 233.4 362.5 231.4 356.5 229.3 346.5 228.4 340.5 228 333.5 228 326.5 228.5 320.5 229.7 312.8 231.6 304.5 232.8 300.5 234.7 296.5 236.9 293.5 239.2 291.5 242.7 289.5 245.3 288.5 251.7 287 269.7 284.1 275.7 282.4 276.8 281.5 277.5 279.5 279.2 262.5 302.7 262.5Z"/><path fill="#ffb100" d="M302.7 398.5 280.1 398.5 278.2 381.5 277.7 379.9 276.7 378.8 274.7 378 269.7 376.8 248.7 373.3 243.7 371.7 239.9 369.5 236.7 366.3 234.1 361.5 232 354.5 230.1 345.5 229.3 339.5 229 332.5 229.1 325.5 229.6 319.5 230.8 312.5 232.7 304.5 234 300.5 235.9 296.5 237.7 294.1 239.7 292.2 242.5 290.5 245.7 289.1 252.3 287.5 271.7 284.4 275.1 283.5 277.1 282.5 277.8 281.5 278.3 279.5 280.2 262.5 302.7 262.5Z"/><path fill="#ffab00" d="M302.7 398.5 281.2 398.5 279.1 381.5 278.5 379.5 277.7 378.4 275.7 377.5 270.7 376.3 249.7 372.9 245.3 371.5 241.5 369.5 238.3 366.5 235.3 361.5 233.1 354.5 231.2 345.5 230.1 333.5 230.2 326.5 230.7 319.5 231.7 313.2 233.5 305.5 235.2 300.5 236.7 297.4 238.8 294.5 241 292.5 243.7 290.9 246.7 289.6 252.7 288.1 271.7 285.1 275.7 284.1 277.7 283.2 278.3 282.5 279 280.5 281.3 262.5 302.7 262.5Z"/><path fill="#ffa400" d="M302.7 398.5 282.4 398.5 279.8 380.5 279.1 378.5 278.1 377.5 271.7 375.8 250.7 372.3 245.7 370.7 241.9 368.5 238.7 365.2 236.2 360.5 233.7 352.5 232.2 344.5 231.6 338.5 231.3 331.5 232 318.5 233 312.5 234.7 305.5 236.4 300.5 238 297.5 239.7 295.1 241.7 293.2 244.4 291.5 247.7 290.1 253.7 288.7 272.7 285.6 277.1 284.5 278.7 283.6 279.4 282.5 279.9 280.5 282.5 262.5 302.7 262.5Z"/><path fill="#ff9e00" d="M302.7 398.5 283.7 398.5 280.8 380.5 279.7 377.5 278.1 376.5 274.7 375.7 250.6 371.5 245.7 369.7 242.7 367.8 239.6 364.5 237.4 360.5 235.2 353.5 233.5 345.5 232.7 333.5 232.8 324.5 233.2 318.5 234.2 312.5 235.6 306.5 237.3 301.5 238.8 298.5 240.7 295.7 242.7 293.8 245.7 291.9 248.7 290.7 253.7 289.4 273.7 286.1 277.7 285.2 279.3 284.5 280.1 283.5 280.7 281.5 283.8 262.5 302.7 262.5Z"/><path fill="#ff9800" d="M302.7 398.5 285.1 398.5 281.4 378.5 280.7 377 279.7 376.1 273.7 374.7 252.7 371.2 247.7 369.5 244.2 367.5 241.1 364.5 238.3 359.5 236.2 352.5 234.8 345.5 234.2 334.5 234.3 323.5 234.6 317.5 235.6 311.5 236.9 306.5 238.6 301.5 240.2 298.5 241.6 296.5 243.7 294.5 246.7 292.5 249.7 291.3 254.7 290 272.7 287.1 279.7 285.5 280.8 284.5 281.5 282.5 285.2 262.5 302.7 262.5Z"/><path fill="#ff9200" d="M302.7 398.5 286.6 398.5 282.5 378.5 281.8 376.5 280.7 375.4 278.7 374.8 253.7 370.5 248.7 368.9 244.7 366.5 241.9 363.5 239.7 359.5 237.4 352.5 236.2 345.5 235.8 336.5 235.8 322.5 236.1 316.5 236.9 311.5 238.2 306.5 239.5 302.5 241 299.5 242.7 297.1 244.7 295.1 247.1 293.5 250.7 292 256.4 290.5 273.7 287.7 280.7 286.2 281.7 285.3 282.4 283.5 286.8 262.5 302.7 262.5Z"/><path fill="#ff8c00" d="M302.7 398.5 288.4 398.5 283.5 377.5 282.7 375.5 281.7 374.5 254.7 369.8 249.7 368.2 245.7 365.7 242.8 362.5 240.7 358.5 238.8 352.5 237.6 345.5 237.3 322.5 237.7 315.5 239.5 306.5 240.9 302.5 242.6 299.5 244 297.5 246.1 295.5 248.7 293.9 252.1 292.5 259.7 290.8 280.5 287.5 282.5 286.5 283.7 283.5 288.5 262.5 302.7 262.5Z"/><path fill="#ff8600" d="M302.7 398.5 290.3 398.5 284.6 376.5 283.8 374.5 282.7 373.5 268.7 371.6 256.7 369.3 250.8 367.5 247.3 365.5 244.4 362.5 242.1 358.5 240.2 352.5 239.2 346.5 238.9 340.5 239.1 315.5 240.6 307.5 242 303.5 243.5 300.5 246.8 296.5 249.7 294.6 252.7 293.4 257.7 292 268.7 290 281.7 288.4 283.5 287.5 284.8 284.5 290.5 262.5 302.7 262.5Z"/><path fill="#ff7f00" d="M302.7 398.5 292.7 398.5 285.9 375.5 285.1 373.5 284.1 372.5 282.7 372.1 270.7 371 257.7 368.6 251.7 366.7 248 364.5 245.4 361.5 243.2 357.5 241.4 351.5 240.6 345.5 240.7 314.5 242 307.5 243.5 303.5 244.7 301.1 246.6 298.5 248.8 296.5 251.7 294.9 254.7 293.8 270.7 290.6 282.7 289.5 284.7 288.6 286.1 285.5 292.8 262.5 302.7 262.5Z"/><path fill="#ff7900" d="M302.7 398.5 295.6 398.5 287.5 374.5 286 371.5 284.7 370.9 270.7 370 257.7 367.6 251.7 365.5 247.9 362.5 245.2 358.5 243.1 352.5 242.1 345.5 242.2 314.5 243.5 307.5 244.6 304.5 246.1 301.5 247.7 299.3 249.7 297.4 252.7 295.6 255.7 294.5 271.7 291.4 284.7 290.7 285.7 290.4 286.5 289.5 287.4 287.5 295.8 262.5 302.7 262.5Z"/><path fill="#ff7300" d="M302.7 398.5 299.6 398.5 289.4 372.5 287.7 369.6 286.7 369.2 281.7 369.6 271.7 369.2 257.7 366.6 252.3 364.5 248.8 361.5 245.9 356.5 244.2 350.5 243.6 343.5 243.6 318.5 243.8 313.5 245.3 306.5 247.8 301.5 249.3 299.5 251.7 297.5 254.7 295.9 258.7 294.8 272.7 292.3 281.7 292 286.7 292.4 287.7 292 289.2 289.5 299.9 262.5 302.7 262.5Z"/><path fill="#ff6d00" d="M302.7 387.7 300.7 384.6 292.4 368.5 290.7 366.3 288.7 366.4 282.7 368.2 272.7 368.2 257.5 365.5 253.7 363.9 250.7 361.5 248.7 358.9 247.4 356.5 246.4 353.5 245.5 349.5 245 342.5 245 320.5 245.4 312.5 246.7 307 248.8 302.5 250.3 300.5 252.4 298.5 255.7 296.7 258.7 295.8 273.7 293.3 282.7 293.4 288.7 295.2 290.7 295.3 292.2 293.5 300.7 277 302.7 273.9 302.7 295.3 300.7 297.1 296.7 301.9 295.8 304.5 296.7 308.2 297.7 309.1 298.7 309 302.7 306.5 302.7 355.1 298.7 352.6 297.7 352.5 296.7 353.4 295.8 356.5 296.1 358.5 296.7 359.7 300.7 364.5 302.7 366.3Z"/><path fill="#ff6700" d="M282.7 366.6 276.7 367.2 273.7 367.1 262.7 365.6 257.7 364.4 254.7 363.1 251.7 360.5 249.6 357.5 248.2 354.5 247 349.5 246.4 343.5 246.4 320.5 246.9 312.5 248.1 307.5 249.9 303.5 253.3 299.5 256.8 297.5 262.7 296 274.7 294.4 278.7 294.6 284.8 295.5 288.3 297.5 290.8 300.5 292.3 303.5 294.7 310.3 295.7 312.4 297.7 315.1 298.7 315.7 299.7 315.7 302.7 314.6 302.7 347 299.7 345.9 298.7 345.9 297.7 346.5 295.6 349.5 292.1 358.5 289.9 362.5 286.7 365.2 284.7 366.1Z"/><path fill="#ff6000" d="M279.7 365.6 275.7 365.9 268.7 365.3 261.7 364.4 257.7 363.2 254.8 361.5 252.7 359.5 250.7 356.5 249.1 352.5 248.1 347.5 247.7 339.5 247.7 320.5 248.5 311.5 250 306.5 252.4 302.5 255.6 299.5 259.7 297.7 265.7 296.6 275.7 295.7 280.7 296.3 285.7 297.8 287.7 299.3 289.7 301.9 294.6 313.5 297.7 318.4 299.7 319.9 302.7 319.5 302.7 342.1 299.7 341.7 298.7 342.2 296.7 344.5 293.7 350.1 290.3 358.5 287.7 362.3 284.7 364.2Z"/><path fill="#ff5900" d="M276.7 364.5 270.7 364.3 263.7 363.6 260.7 363 257.7 361.8 254.7 359.5 253 357.5 251.3 354.5 250.1 350.5 249.2 343.5 248.9 333.5 249.1 319.5 250 311.5 251.6 306.5 254.3 302.5 257.7 299.8 261.7 298.3 268.7 297.4 276.7 297.1 280.7 297.8 284.7 299.5 286.7 301 288.7 303.5 293.2 313.5 297.7 321.3 299.7 323.6 300.7 324.1 302.7 324.1 302.7 337.5 300.7 337.5 299.7 338 297.7 340.3 293.5 347.5 289.1 357.5 286.8 360.5 284.7 362.1 281.7 363.5Z"/><path fill="#ff5300" d="M278.7 362.7 273.7 363.1 267.7 363 262.7 362.3 259.7 361.4 256.8 359.5 254.7 357.3 252.9 354.5 251.5 350.5 250.5 343.5 250.1 334.5 250.3 321.5 251.2 312.5 252.7 307.6 254.7 304.3 257.7 301.4 261.8 299.5 268.7 298.6 276.7 298.7 280.7 299.4 284.7 301.7 286.7 303.7 288.5 306.5 292.4 314.5 298.4 325.5 300 329.5 300.1 331.5 299.1 334.5 287.7 356.6 285.7 359 283.7 360.7 281.7 361.8Z"/><path fill="#ff4c00" d="M274.7 361.6 269.7 361.9 264.7 361.5 261.7 360.7 259.2 359.5 256.7 357.4 254.6 354.5 253.3 351.5 252.3 347.5 251.5 339.5 251.4 326.5 251.8 317.5 252.9 311.5 254.7 306.9 257.4 303.5 260.7 301.3 264.7 300.1 270.7 299.7 276.7 300.3 280.7 301.3 284.2 303.5 287.4 307.5 295 321.5 297.2 326.5 297.9 329.5 297.7 333.5 296.2 337.5 286.5 355.5 284.7 357.6 281.7 359.8 278.7 360.9Z"/><path fill="#ff4600" d="M271.7 360.5 266.7 360.5 263.7 360 260.7 358.7 257.9 356.5 255.7 353.5 254.4 350.5 253.5 346.5 252.9 341.5 252.5 332.5 252.7 322.5 253.4 315.5 254.6 310.5 256.7 306.5 259.7 303.5 262.7 301.9 266.7 301.1 272.7 301.1 276.7 301.9 280.7 303.4 283.7 305.5 286.7 309.3 293.7 321.6 295.6 325.5 296.6 329.5 296.4 333.5 295 337.5 285.2 354.5 282.7 357 279.7 358.7 275.7 360Z"/><path fill="#ff3f00" d="M274.7 358.7 270.7 359.2 266.7 359.2 263.7 358.5 260.7 357 258.7 355.2 256.8 352.5 255.6 349.5 254.7 345.5 253.9 337.5 253.8 328.5 254.3 319.5 255.2 313.5 256.6 309.5 258.7 306.4 261.7 304 265.7 302.6 269.7 302.3 274.7 302.9 278.7 304.3 282.1 306.5 285.6 310.5 292.4 321.5 294.4 325.5 295.2 328.5 295.3 332.5 294.2 336.5 292.1 340.5 285.7 351 283.7 353.6 280.7 356.2 277.7 357.8Z"/><path fill="#ff3800" d="M272.7 357.5 268.7 357.9 265.7 357.6 262.7 356.5 260.1 354.5 258.6 352.5 257.1 349.5 256.1 345.5 255.4 340.5 255 332.5 255.2 324.5 255.9 317.5 257 312.5 258.7 308.9 260.7 306.5 263.7 304.7 267.7 303.8 271.7 303.9 275.7 304.8 278.7 306 282 308.5 284.7 311.8 291.6 322.5 293.5 326.5 294.2 329.5 294 333.5 292.5 337.5 283.7 351.2 281.5 353.5 278.7 355.6 275.7 356.8Z"/><path fill="#ff3200" d="M273.7 355.7 269.7 356.4 266.7 356.2 263.7 355.2 261.7 353.8 260.5 352.5 258.7 349.4 257.7 346.1 256.9 341.5 256.4 334.5 256.3 328.5 256.9 320.5 257.9 314.5 259.6 310.5 261.7 307.8 264.7 305.9 267.7 305.3 270.7 305.3 274.7 306.2 277.9 307.5 280.8 309.5 283.7 312.8 290.3 322.5 292.3 326.5 293 329.5 293 332.5 291.7 336.5 289.7 340 283.7 348.8 281.7 351.2 279.7 353 276.7 354.7Z"/><path fill="#ff2b00" d="M271.7 354.6 268.7 354.8 265.7 354.3 263.7 353.3 261.7 351.4 260.1 348.5 259.1 345.5 257.7 334.5 257.6 329.5 258 323.5 258.8 317.5 259.9 313.5 261.5 310.5 263.4 308.5 265.7 307.3 268.7 306.8 271.7 307 274.7 307.9 277.9 309.5 280.7 311.7 282.7 314 289.7 323.8 291.4 327.5 291.9 330.5 291.6 333.5 289.9 337.5 282 348.5 279.7 350.8 277.7 352.2 274.7 353.7Z"/><path fill="#ff2400" d="M272.7 352.7 269.7 353.2 267.7 353 265.7 352.4 263.3 350.5 261.6 347.5 260.7 344.8 259.2 334.5 259 330.5 259.4 325.5 260.3 318.5 261.4 314.5 262.7 311.9 263.8 310.5 265.7 309.2 268.7 308.5 271.7 308.7 274.7 309.7 277.7 311.5 280 313.5 288.7 324.6 290.1 327.5 290.7 330.2 290.3 333.5 289 336.5 281.7 346.2 277.7 350.1 275.5 351.5Z"/><path fill="#ff1f00" d="M272.7 350.7 269.7 351.2 267.7 350.9 265.7 350 264.4 348.5 262.4 343.5 260.7 333.5 260.9 326.5 262.8 316.5 264.8 312.5 266.7 311 268.7 310.4 271.2 310.5 273.7 311.2 276 312.5 278.3 314.5 287.7 325.8 288.7 327.5 289.4 330.5 288.7 334 286.7 337.1 277.9 347.5 275.4 349.5Z"/><path fill="#ff1900" d="M270.7 348.6 268.7 348.5 267.7 348 266.7 347.2 265.6 345.5 263.7 339.6 262.4 331.5 262.8 326.5 265 317.5 266.7 314.4 267.8 313.5 269.7 313 272.7 313.5 275.9 315.5 277.7 317.5 281.2 322.5 286.4 327.5 287.6 330.5 287.3 332.5 286.7 333.7 281.7 338.6 276.7 345.3 273.9 347.5Z"/><path fill="#ff1300" d="M272.7 343.7 270.7 344.3 269.7 344.2 267.8 342.5 265.7 337.1 264.7 332.5 264.9 327.5 266.7 321.5 267.7 319.3 268.7 318 269.7 317.4 270.7 317.3 272.7 317.9 274.7 319.5 282.8 328.5 283.7 330.5 283.7 331.5 282.5 333.5 274.7 342.1Z"/><path fill="#ff0e00" d="M273.7 337.6 271.7 338.3 270.7 338 269.7 337.1 268.8 335.5 267.8 332.5 267.7 329.5 268.6 326.5 269.7 324.5 270.7 323.5 271.7 323.3 272.7 323.4 274.7 324.8 278 328.5 279 330.5 278.5 332.5Z"/></g></g><g clip-path="url(#c5)"><g filter="url(#b5)"><circle cx="392.4" cy="331.0" r="67.2" fill="#0034ff"/><path fill="#0040ff" d="M460.2 399.2 324 398.8 324.2 336.7 325.2 336.5 326.2 335.6 326.7 330.8 326.2 326.5 325.2 325.5 324.2 325.3 324.2 262.6 460.2 262.4 460.6 262.8 460.6 398.8Z"/><path fill="#004dff" d="M460.2 399.2 324.1 398.8 324.2 347.8 327.2 347.3 328.2 346.6 328.9 343.8 329 340.8 329 319.8 328.7 316.8 328.2 315.4 327.3 314.8 324.2 314.2 324.2 262.7 460.2 262.4 460.6 262.8 460.6 398.8Z"/><path fill="#0059ff" d="M460.2 399.2 324.1 398.8 324.2 354.7 328.8 353.8 330.2 353 330.8 349.8 330.1 331.8 330.8 310.8 330.2 309 329.2 308.3 324.2 307.3 324.2 262.7 460.2 262.4 460.6 262.8 460.6 398.8Z"/><path fill="#0066ff" d="M460.2 399.2 324.1 398.8 324.2 360.7 331.3 358.8 332.5 357.8 332.9 355.8 331.4 340.8 331 330.8 331.4 321.8 332.9 305.8 332.2 303.8 331.2 303.1 324.2 301.3 324.2 262.7 460.2 262.4 460.6 262.8 460.6 398.8Z"/><path fill="#0073ff" d="M460.2 399.2 324.1 398.8 324.2 366.2 333.2 363.4 334.3 362.8 335.1 360.8 332.5 342.8 331.9 330.8 332.6 318.8 334.9 303.8 335 300.8 334.2 299.1 333.2 298.6 324.2 295.8 324.2 262.7 460.2 262.4 460.6 262.8 460.6 398.8Z"/><path fill="#0080ff" d="M460.2 399.2 324.1 398.8 324.2 371.6 336.2 367.1 337.2 366.1 337.4 364.8 333.8 345.8 333 337.8 332.8 330.8 333.1 323.8 333.8 316.8 337.2 299.3 337.4 296.8 337.1 295.8 336.1 294.8 324.2 290.4 324.2 262.7 460.2 262.4 460.6 262.8 460.6 398.8Z"/><path fill="#008eff" d="M460.2 399.2 324.1 398.8 324.2 376.9 338.2 371.1 339.2 370.5 339.9 368.8 339.5 365.8 336.7 355.8 335.1 347.8 334 338.8 333.7 330.8 334 322.8 335 314.8 336.6 306.8 339.5 295.8 339.8 292.8 339.2 291.5 338.2 290.9 324.2 285.1 324.2 262.7 460.2 262.4 460.6 262.8 460.6 398.8Z"/><path fill="#009bff" d="M460.2 399.1 324.2 398.8 324.2 382.4 340.6 374.8 342 373.8 342.5 372.8 342.2 369.8 338.3 357.8 336.2 348.8 335 339.8 334.6 330.8 335.1 320.8 336.5 311.8 338.1 304.8 342.2 292 342.6 289.8 342.2 288.4 341.2 287.5 324.2 279.6 324.2 262.8 460.2 262.5 460.5 262.8 460.5 398.8Z"/><path fill="#00a9ff" d="M460.2 399.1 324.2 398.8 324.2 388.1 327.2 386.8 343.2 378.3 345.2 376.8 345.4 375.8 345.2 373.8 340 359.8 337.5 350.8 335.9 340.8 335.4 330.8 336 320.8 337.6 310.8 340.4 300.8 345 288.8 345.4 285.8 344.8 284.8 343.2 283.7 327.2 275.2 324.2 273.9 324.2 262.8 460.2 262.5 460.5 262.8 460.5 398.8Z"/><path fill="#00b6ff" d="M460.2 399.1 324.2 398.8 324.2 394.2 327.2 392.8 347.2 381 348.4 379.8 348.6 378.8 348.2 376.8 342.1 362.8 339 352.8 336.9 341.8 336.3 330.8 337 319.8 339.1 308.8 341.9 299.8 347.9 285.8 348.6 282.8 348.1 281.8 346.2 280.4 327.2 269.2 324.2 267.8 324.2 262.8 460.2 262.5 460.5 262.8 460.5 398.8Z"/><path fill="#00c3ff" d="M460.2 399.1 329 398.8 332.7 395.8 350.2 384.4 351.9 382.8 352.1 381.8 351.5 379.8 344.4 365.8 342.1 359.8 340.2 353.9 337.9 342.8 337.2 330.8 337.5 323.8 338.1 317.8 340.6 306.8 344.2 296.7 351.2 282.8 352.1 279.8 351.6 278.8 350.5 277.8 332.1 265.8 328.3 262.8 460.2 262.5 460.5 262.8 460.5 398.8Z"/><path fill="#00d1ff" d="M460.2 399.1 339.3 398.8 341.4 396.8 355 386.8 355.9 385.8 356 384.8 355.3 382.8 350.2 374.6 347 368.8 344.3 362.8 342.2 357.1 340.4 350.8 339.2 344.8 338.4 337.8 338.2 330.8 338.4 323.8 339.2 317.2 340.3 311.8 342.2 304.9 346.7 293.8 350.2 287.4 354.9 279.8 356 276.8 355.6 275.8 354.6 274.8 340.8 264.8 338.8 262.8 460.2 262.5 460.5 262.8 460.5 398.8Z"/><path fill="#00deff" d="M460.2 399.1 349.6 398.8 351.4 396.8 359.9 389.8 360.6 388.8 360.7 387.8 359.7 385.8 353.2 377 349.4 370.8 345.9 363.8 343.2 356.8 341.2 349.5 339.9 340.8 339.4 331.8 339.8 321.8 340.6 315.8 341.8 309.8 343.3 304.8 345.6 298.8 350.7 288.8 354.2 283.5 360 275.8 360.7 273.8 360.4 272.8 359.5 271.8 350.9 264.8 349.1 262.8 460.2 262.5 460.5 262.8 460.5 398.8Z"/><path fill="#03eafc" d="M460.2 399.1 361 398.8 366.7 392.8 367 391.8 366.8 390.8 359.2 382.6 355.2 377.7 350.7 370.8 347.1 363.8 344.2 356.2 342.4 348.8 341.5 340.8 341.2 331.8 341.4 322.8 342.2 314.5 344.2 305.8 346.4 299.8 349.8 292.8 354.2 285.7 358.2 280.6 365.6 272.8 366.9 270.8 367 269.8 366.4 268.8 360.6 262.8 460.2 262.5 460.5 262.8 460.5 398.8Z"/><path fill="#0ff0f0" d="M460.2 399.1 386.1 398.8 386.2 397.8 385.4 396.8 374.2 392.4 367.2 388 361.2 382.7 355.2 375.5 351.2 369.3 348.2 363.4 346.2 357.8 344.8 351.8 343.8 343.8 343.4 333.8 343.5 322.8 344.2 313.8 345.2 307.8 347 301.8 349 296.8 351.7 291.8 355.2 286.5 359.2 281.5 363.2 277.4 368.2 273.3 375.2 269.1 385.8 264.8 386.1 263.8 385.9 262.8 460.2 262.5 460.5 262.8 460.5 398.8Z"/><path fill="#1af7e5" d="M460.2 399.1 398.9 398.8 399.2 396.8 398.4 395.8 382.2 393 377.2 391.6 372.2 389.3 368.2 386.8 364.2 383.6 360.3 379.8 357 375.8 353.6 370.8 350.9 365.8 348.9 360.8 347.4 354.8 346.1 345.8 345.5 336.8 345.5 326.8 346.1 316.8 347 309.8 348.2 303.8 350.2 297.8 352.1 293.8 355.1 288.8 358.9 283.8 363.2 279.3 367.2 275.9 372.2 272.7 378.2 270.1 384.2 268.5 396.5 266.8 398.2 266.2 398.9 265.8 399.2 264.8 398.7 262.8 460.2 262.5 460.5 262.8 460.5 398.8Z"/><path fill="#26fed9" d="M460.2 399 403.6 398.8 404.3 395.8 403.2 394.6 399.8 393.8 391.2 393.1 384.2 392 378.2 390.4 373.2 388.2 369.2 385.8 365.2 382.7 361.3 378.8 358.2 375.1 355.2 370.6 352.4 364.8 350.5 358.8 349 351.8 348 343.8 347.5 335.8 347.5 326.8 348 317.8 348.9 310.8 350.1 304.8 351.5 299.8 353.4 294.8 356.1 289.8 359 285.8 363.2 281.2 367.2 277.7 374.2 273.3 381.2 270.7 388.2 269.3 402.3 267.8 404.1 266.8 404.3 265.8 403.5 262.8 460.2 262.6 460.4 262.8 460.4 398.8Z"/><path fill="#3affc4" d="M460.2 399 406.9 398.8 407.8 394.8 407.2 393.8 403.5 392.8 387.2 391.3 382.2 390.2 378.2 388.9 373.2 386.6 368.9 383.8 364.2 379.8 360.7 375.8 357.3 370.8 355.2 366.4 352.9 359.8 351.2 352.8 350.1 345.8 349.5 337.8 349.4 328.8 349.8 319.8 350.6 312.8 351.7 306.8 353.3 300.8 355.6 294.8 358.2 289.8 361 285.8 364.6 281.8 368.2 278.7 375.2 274.4 382.2 271.8 390.2 270.3 403.2 269.2 406.2 268.7 407.5 267.8 407.8 266.8 406.7 262.8 460.2 262.6 460.4 262.8 460.4 398.8Z"/><path fill="#4fffad" d="M460.2 399 409.5 398.8 410.5 394.8 410.5 393.8 409.8 392.8 406.2 391.8 389.2 390.4 384.2 389.4 379.2 387.8 374.7 385.8 370 382.8 365.5 378.8 362.2 374.9 359.6 370.8 356.7 364.8 354.7 358.8 353 351.8 352 344.8 351.5 336.8 351.5 326.8 351.9 318.8 352.7 311.8 354 305.8 355.8 299.8 357.8 294.8 360.4 289.8 363.2 285.8 366.9 281.8 370.2 279.1 373.6 276.8 377.2 275 384.2 272.6 391.2 271.3 406.2 270.2 409.2 269.5 410.2 268.8 410.5 267.8 409.3 262.8 460.4 262.8Z"/><path fill="#64ff97" d="M460.2 399 411.7 398.8 412.9 393.8 412.8 392.8 411.9 391.8 408.2 390.9 391.2 389.6 386.2 388.6 381.2 387.2 375.9 384.8 371.3 381.8 367.9 378.8 364.4 374.8 361.2 369.8 358.4 363.8 356.3 357.8 355 351.8 354.1 344.8 353.7 337.8 353.6 325.8 354 317.8 354.7 311.8 355.9 305.8 357.4 300.8 359.4 295.8 362 290.8 364.7 286.8 368.3 282.8 371.8 279.8 378.2 276.1 386.2 273.4 393.2 272.2 407.2 271.2 411.2 270.5 412.4 269.8 412.9 268.8 411.6 262.8 460.4 262.8Z"/><path fill="#77ff82" d="M460.2 399 413.7 398.8 415 392.8 414.8 391.8 413.8 390.8 409.2 389.9 392.2 388.6 387.2 387.6 382.2 386.1 377.2 383.8 373.2 381.2 369.3 377.8 366 373.8 362.8 368.8 360.4 363.8 358.4 357.8 357 351.8 356.1 340.8 356.4 315.8 357.1 309.8 358.2 304.8 359.8 299.8 361.5 295.8 364.2 290.8 367 286.8 369.7 283.8 373.2 280.8 376.2 278.7 379.9 276.8 387.2 274.4 394.2 273.1 409.2 272.1 413.2 271.4 414.4 270.8 415 269.8 414.8 267.8 413.6 262.8 460.4 262.8Z"/><path fill="#89ff6d" d="M460.2 399 415.6 398.8 416.9 391.8 416.7 390.8 415.3 389.8 411.2 389 394.2 387.8 389.2 386.9 384.2 385.5 379.2 383.3 375.2 380.7 371.2 377.2 367.4 372.8 364.3 367.8 362 362.8 360.2 357 359.2 351.8 358.7 342.8 358.7 317.8 359 311.8 360.8 302.8 362.6 297.8 364.5 293.8 369.3 286.8 372.2 283.8 375.8 280.8 382.2 277.3 390.2 274.9 398.2 273.7 411.2 273 415.2 272.2 416.2 271.7 416.8 270.8 416.9 269.8 415.5 262.8 460.4 262.8Z"/><path fill="#9cff58" d="M460.2 399 417.4 398.8 418.7 390.8 418.3 389.8 417.2 389 412.2 388 395.2 387 390.2 386 386 384.8 381.2 382.7 376.6 379.8 372.2 375.9 368.9 371.8 366.4 367.8 364.1 362.8 362.6 357.8 361.7 352.8 361.3 345.8 361.5 310.8 362.2 305.8 363.2 301.8 364.7 297.8 366.6 293.8 369.2 289.8 371.6 286.8 377.2 281.7 383.2 278.3 391.2 275.8 399.2 274.6 413.2 273.9 417.2 273 418.6 271.8 418.8 270.8 417.3 262.8 460.4 262.8Z"/><path fill="#aeff43" d="M460.2 399 419.2 398.8 420.5 390.8 419.9 388.8 418.2 387.9 415.2 387.3 401.2 386.6 394.2 385.7 388.2 384.2 382.5 381.8 376.6 377.8 371.8 372.8 368 366.8 365.6 360.8 364.5 355.8 363.9 349.8 364.2 330.8 364 311.8 364.4 306.8 365.4 301.8 366.8 297.8 368.8 293.8 372.1 288.8 375.9 284.8 380.2 281.5 385.4 278.8 390.2 277.2 396.2 275.9 402.2 275.3 414.2 274.8 419.2 273.7 420.2 272.8 420.5 271.8 419.1 262.8 460.4 262.8Z"/><path fill="#bfff33" d="M460.2 399 420.8 398.8 422.1 389.8 422 388.8 421.2 387.7 419.2 386.8 416.2 386.3 403.1 385.8 396.2 385 390.2 383.6 385.2 381.6 379.1 377.8 374.2 372.9 370.2 366.8 367.9 360.8 366.9 355.8 366.4 349.8 366.7 330.8 366.4 311.8 367.5 302.8 368.6 298.8 370.4 294.8 373.6 289.8 377.3 285.8 382.2 282.1 387.2 279.5 392.2 277.9 397.2 276.8 403.2 276.2 416.2 275.7 419.2 275.2 421.2 274.3 422.1 272.8 422.1 271.8 420.8 262.8 460.4 262.8Z"/><path fill="#d0ff24" d="M460.2 398.9 422.5 398.8 423.7 388.8 423.5 387.8 422.8 386.8 421.2 386.1 418.2 385.5 404.2 384.9 398.2 384.2 392 382.8 386.9 380.8 381.2 377.3 376.4 372.8 372.9 367.8 370.4 361.8 369.4 356.8 368.8 349.8 368.9 311.8 369.2 306.8 370 301.8 371.3 297.8 372.6 294.8 375.9 289.8 379.8 285.8 383.9 282.8 389.2 280.2 393.4 278.8 399.2 277.6 405.2 277.1 417.2 276.6 420.2 276.2 422.2 275.5 423.2 274.8 423.7 272.8 422.4 262.8 460.3 262.8Z"/><path fill="#e1ff16" d="M460.2 398.9 424.2 398.8 425.2 388.8 425 386.8 424.2 385.8 422.2 385 419.2 384.5 406.2 384 399.2 383.2 393.2 381.8 388.2 379.8 383.2 376.8 378.2 372.1 374.7 366.8 372.8 361.8 371.6 355.8 371.2 349.8 371.2 312.8 372.2 302.8 373.2 298.8 374.9 294.8 377.5 290.8 381.2 286.8 386.2 283.2 391.2 280.9 395.2 279.6 400.2 278.6 406.2 278 419.2 277.5 422.2 277 424.2 276.1 425.1 274.8 425.2 273.8 424.1 262.8 460.3 262.8Z"/><path fill="#f2ff08" d="M460.2 398.9 425.8 398.8 426.8 387.8 426.4 385.8 425.5 384.8 421.2 383.6 407.2 383 400.2 382.2 394.6 380.8 389.5 378.8 384.6 375.8 380.2 371.6 377 366.8 374.9 360.8 373.8 354.8 373.4 346.8 373.1 330.8 373.4 314.8 373.8 307.8 374.5 302.8 375.6 298.8 377.2 294.8 379.9 290.8 383.9 286.8 388.2 283.9 392.8 281.8 397.2 280.5 402.2 279.5 408.2 278.9 420.2 278.5 423.2 278.1 425.2 277.4 426.2 276.5 426.8 274.8 425.8 262.8 460.3 262.8Z"/><path fill="#f8f703" d="M460.2 398.9 427.5 398.8 428.3 386.8 427.9 384.8 427.2 384 425.2 383.1 422.2 382.6 409.2 382 402.2 381.2 396.2 379.9 391.2 377.9 386.1 374.8 382 370.8 379 365.8 377.2 360.6 376.2 354.8 375.4 344.8 375.1 332.8 375.3 320.8 375.8 310.8 376.5 304.8 377.6 299.8 379.7 294.8 382.3 290.8 385.4 287.8 389.8 284.8 394.3 282.8 398.2 281.6 403.2 280.6 422.2 279.4 425.2 278.9 427.2 278 428.1 276.8 428.3 274.8 427.5 262.8 460.3 262.8Z"/><path fill="#fdee01" d="M460.2 398.9 429.3 398.8 429.8 385.8 429.4 383.8 428.4 382.8 424.2 381.6 409.2 380.8 403.2 380.1 397.6 378.8 392.5 376.8 387.7 373.8 383.8 369.8 381 364.8 379.4 359.8 378.4 353.8 377.4 342.8 377.1 333.8 377.2 324.8 378.7 305.8 380 299.8 381.6 295.8 384.1 291.8 387 288.8 391.2 285.9 395.8 283.8 400.2 282.5 405.2 281.6 423.2 280.5 426.2 280 428.2 279.3 429.2 278.4 429.7 276.8 429.3 262.8 460.3 262.8Z"/><path fill="#ffe200" d="M460.2 398.9 431.2 398.8 431.3 384.8 430.9 382.8 430.2 382 428.2 381.1 425.2 380.5 410.2 379.6 404.2 378.9 399.2 377.7 394.2 375.8 389.5 372.8 385.8 368.8 383.5 364.8 381.6 358.8 380.5 351.8 379.4 340.8 379.1 325.8 379.8 316.8 381.1 305.8 382.5 299.8 384.2 295.8 386.9 291.8 390 288.8 393.2 286.7 397.6 284.8 402.2 283.5 407.2 282.7 426.2 281.4 428.7 280.8 430.2 280 431.1 278.8 431.3 276.8 431.2 262.8 460.3 262.8Z"/><path fill="#ffd400" d="M460.2 398.9 433.2 398.8 432.9 383.8 432.5 381.8 431.7 380.8 429.2 379.8 426.2 379.3 412.2 378.5 406.2 377.8 401.2 376.7 396.2 374.8 391.4 371.8 387.8 367.8 385.7 363.8 383.8 356.8 381.4 339.8 381 332.8 381.1 325.8 381.9 316.8 383.6 305.8 384.8 300.8 386.8 295.8 388.8 292.8 391.9 289.8 395.2 287.7 399.7 285.8 408.2 283.9 426.2 282.7 429.2 282.2 431.2 281.5 432.2 280.7 432.9 278.8 433.2 262.8 460.3 262.8Z"/><path fill="#ffca00" d="M460.2 398.9 435.3 398.8 434.6 382.8 434.2 380.8 433.5 379.8 431.6 378.8 428.2 378.1 414.2 377.2 406.2 376.2 400.9 374.8 396.2 372.7 392.2 369.5 389.2 365.3 387.1 359.8 385 349.8 383.9 342.8 383.3 335.8 383.2 328.8 383.5 322.8 384.5 314.8 386.5 304.8 387.9 299.8 389.7 295.8 391.9 292.8 394.2 290.7 397.2 288.8 402.2 286.8 406.4 285.8 412.2 285 428.2 283.9 431.2 283.3 433.2 282.5 434.2 281.2 434.5 279.8 435.4 262.8 460.3 262.8Z"/><path fill="#ffc500" d="M460.2 398.9 436.2 398.8 435.2 381.8 434.6 379.8 433.4 378.8 428.2 377.6 415.2 376.7 407.2 375.7 401.2 374.2 396.2 371.8 392.2 368.2 389.6 363.8 387.6 357.8 385.4 346.8 384 334.8 384 327.8 384.4 321.8 385.6 313.8 387.5 304.8 389 299.8 390.8 295.8 393 292.8 395.4 290.8 398.8 288.8 402.2 287.5 411.2 285.7 429.2 284.3 432.2 283.7 434 282.8 434.8 281.8 435.2 279.8 436.2 262.8 460.3 262.8Z"/><path fill="#ffc000" d="M460.2 398.9 437.1 398.8 435.9 381.8 435.5 379.8 434.2 378.4 429.2 377.2 415.2 376.1 406.2 374.9 400.2 373.1 396.2 370.8 393.1 367.8 390.2 362.5 388.2 355.9 386.1 345.8 384.9 333.8 384.9 326.8 385.4 320.8 386.5 313.8 388.5 304.8 390.1 299.8 392 295.8 394.3 292.8 396.8 290.8 400.2 288.9 403.4 287.8 412.2 286.2 429.2 284.8 434.2 283.6 435.2 282.7 435.8 280.8 437.1 262.8 460.3 262.8Z"/><path fill="#ffbb00" d="M460.2 398.8 438 398.8 436.5 380.8 435.8 378.8 435.2 378.1 433.2 377.3 429.2 376.6 417.2 375.7 407.2 374.5 401.5 372.8 397.2 370.5 395.2 368.8 393.6 366.8 391 361.8 389 354.8 386.9 344.8 386.1 338.8 385.8 332.8 386.4 320.8 387.5 313.8 389.6 304.8 391.2 299.8 393.2 295.8 394.7 293.8 397.2 291.5 400.2 289.8 404.2 288.3 412.2 286.8 430.2 285.3 433.2 284.7 435.2 283.9 436.1 282.8 436.6 280.8 438.1 262.8 460.2 262.8Z"/><path fill="#ffb600" d="M460.2 398.8 439 398.8 437.1 379.8 436.2 377.8 435.2 377.2 430.2 376.1 417.2 375.1 407.2 373.8 402.2 372.3 397.8 369.8 394.9 366.8 392.2 361.8 389.8 353.8 387.7 343.8 387 337.8 386.8 331.8 387.5 319.8 388.7 312.8 390.7 304.8 392.3 299.8 394.2 296.2 396 293.8 398.3 291.8 401.2 290.2 404.8 288.8 412.2 287.4 431.2 285.7 434.2 285.2 436.2 284.1 436.9 282.8 437.3 280.8 439 262.8 460.2 262.8Z"/><path fill="#ffb100" d="M460.2 398.8 440.1 398.8 437.9 379.8 437.3 377.8 436.2 376.8 430.2 375.5 419.2 374.7 409.2 373.5 403.2 371.9 399.2 369.7 396.2 366.8 393.2 361.4 390.6 352.8 388.7 343.8 388.1 337.8 387.8 331.8 388.5 319.8 389.7 312.8 391.5 305.8 393.1 300.8 395.1 296.8 397.2 294.1 399.2 292.3 401.7 290.8 405.2 289.5 412.2 288.1 432.2 286.2 435.2 285.6 436.8 284.8 437.5 283.8 438 281.8 440.1 262.8 460.2 262.8Z"/><path fill="#ffab00" d="M460.2 398.8 441.2 398.8 438.7 379.8 438.3 377.8 437.2 376.4 435.2 375.6 431.2 375 420.2 374.1 409.2 372.8 404.2 371.3 399.7 368.8 396.9 365.8 394.2 360.8 391.4 351.8 389.7 342.8 389.1 336.8 389 329.8 389.2 323.8 389.9 317.8 391.2 311.2 392.9 304.8 394.4 300.8 396.5 296.8 398 294.8 400.2 292.8 403.2 291.1 406.7 289.8 413.2 288.6 432.2 286.9 435.2 286.4 437.2 285.6 438 284.8 438.6 282.8 441.2 262.8 460.2 262.8Z"/><path fill="#ffa400" d="M460.2 398.8 442.4 398.8 439.2 377.8 438.2 375.9 437.2 375.3 431.2 374.3 410.2 372.2 405.1 370.8 401.2 368.6 399.2 366.8 397.6 364.8 395.2 360.2 392.6 351.8 391 343.8 390.3 331.8 390.9 318.8 392 312.8 393.5 306.8 395.2 301.8 397.2 297.8 399.2 295.2 401.2 293.4 403.8 291.8 407.2 290.5 414.2 289.2 434.2 287.3 436.8 286.8 438.2 286.1 439 284.8 439.5 282.8 442.4 262.8 460.2 262.8Z"/><path fill="#ff9e00" d="M460.2 398.8 443.6 398.8 440.2 377.8 439.5 375.8 438.4 374.8 432.2 373.7 411.2 371.6 406.2 370.2 401.9 367.8 399.1 364.8 396.4 359.8 393.8 351.8 392.3 343.8 391.7 330.8 392.3 317.8 393.4 311.8 395.1 305.8 397 300.8 398.7 297.8 401.2 294.8 403.2 293.3 406.2 291.8 409.2 290.8 415.2 289.8 434.2 288 437.2 287.6 439 286.8 439.7 285.8 440.3 283.8 443.7 262.8 460.2 262.8Z"/><path fill="#ff9800" d="M460.2 398.8 445 398.8 441 376.8 440.2 374.9 439.2 374.1 434.2 373.2 412.2 371 407.2 369.6 402.6 366.8 399.9 363.8 397.3 358.8 395.1 351.8 393.6 343.8 393.3 337.8 393.2 327.8 393.8 316.8 394.7 311.8 396.2 306.3 397.9 301.8 399.5 298.8 401.2 296.5 403.2 294.7 406.2 292.9 409.2 291.7 415.2 290.5 433.2 288.9 437.2 288.4 439.4 287.8 440.4 286.8 441 284.8 445.1 262.8 460.2 262.8Z"/><path fill="#ff9200" d="M460.2 398.8 446.6 398.8 441.8 375.8 441.2 374.3 440.2 373.4 438.1 372.8 419.2 371.1 413.2 370.3 408 368.8 404.2 366.6 401.2 363.5 398.7 358.8 396.4 351.8 395.2 344.8 394.8 338.8 394.8 325.8 395.2 316.8 397.2 307.4 398.8 302.8 400.4 299.8 402.6 296.8 405 294.8 408.2 293.1 411.2 292.1 417.2 291.1 437.2 289.3 440.2 288.6 441.1 287.8 441.9 285.8 446.7 262.8 460.2 262.8Z"/><path fill="#ff8c00" d="M460.2 398.8 448.3 398.8 443 375.8 442.3 373.8 441.2 372.5 439.2 372 428.2 371.2 415.2 369.8 409.2 368.2 405.1 365.8 402.3 362.8 399.7 357.8 397.8 351.8 396.7 344.8 396.5 322.8 396.8 315.8 397.5 311.8 398.8 306.8 400.3 302.8 401.9 299.8 404.2 297 406.2 295.4 409.2 293.8 412.2 292.9 418.2 291.8 439.2 290 441.2 289.5 442.2 288.4 442.8 286.8 448.4 262.8 460.2 262.8Z"/><path fill="#ff8600" d="M460.2 398.8 450.3 398.8 444 374.8 443.3 372.8 442.2 371.5 440.2 371.1 422 369.8 415.2 368.9 410.2 367.4 405.9 364.8 403.2 361.7 400.8 356.8 399 350.8 398.2 344.8 398.1 320.8 398.5 314.8 400.2 306.8 401.8 302.8 403.2 300.3 405.2 297.8 407.2 296.2 409.7 294.8 413.2 293.6 421.2 292.3 430.2 291.4 440.2 290.9 442.2 290.5 443.2 289.5 443.9 287.8 450.4 262.8 460.2 262.8Z"/><path fill="#ff7f00" d="M460.2 398.8 452.6 398.8 445.6 374.8 444.6 371.8 443.9 370.8 442.2 370.1 430.2 369.7 418.2 368.4 413.2 367.4 409.2 365.7 405.7 362.8 402.7 357.8 400.8 351.8 399.8 344.8 399.7 319.8 400 314.8 401.7 306.8 402.9 303.8 404.6 300.8 406.2 298.7 408.4 296.8 411.2 295.3 415.2 294.1 430.2 292.3 443.2 291.7 444.2 290.8 445.1 288.8 452.7 262.8 460.2 262.8Z"/><path fill="#ff7900" d="M460.2 398.8 455.5 398.8 446.8 372.8 445.2 369.4 444.2 368.8 443.2 368.7 432.2 368.9 420.2 367.8 414.2 366.6 410.2 364.9 406.7 361.8 403.8 356.8 402.1 350.8 401.4 343.8 401.3 319.8 401.7 313.8 403.2 306.8 404.5 303.8 406.2 300.9 408 298.8 410.2 297.1 413 295.8 416.2 294.9 431.2 293.1 443.2 293.3 444.9 292.8 445.8 291.8 446.6 289.8 455.7 262.8 460.2 262.8Z"/><path fill="#ff7300" d="M460.2 398.8 458.2 394.7 448.6 370.8 447.1 367.8 446.2 367.2 445.2 367 441.2 367.6 433.2 368 423.2 367.2 416.2 366.1 411.2 364.1 409.6 362.8 407.8 360.8 405.9 357.8 404.7 354.8 403.3 348.8 402.9 340.8 402.9 319.8 403.2 313.8 404.8 306.8 406.1 303.8 408.1 300.8 410 298.8 412.2 297.4 415.2 296.2 419.2 295.3 433.2 294 441.2 294.4 445.2 295 446.3 294.8 447.2 294 447.9 292.8 460.2 262.9Z"/><path fill="#ff6d00" d="M460.2 383.3 458.2 380.2 450.8 365.8 450.2 364.8 449.2 364.1 448.2 364.1 442.2 366.1 435.2 366.9 432.2 366.9 422.2 366.1 417.2 365.3 413.2 363.8 410.2 361.5 408.2 358.8 406.6 355.8 405.6 352.8 404.8 348.8 404.4 341.8 404.3 322.8 404.6 314.8 405.7 308.8 407.8 303.8 409.2 301.7 411.2 299.6 414.2 297.7 418.2 296.5 432.2 295.1 441.9 295.8 448.2 297.9 449.4 297.8 451 295.8 458.2 281.8 460.2 278.7 460.2 298.4 458.2 300.2 455.2 303.8 454.2 305.4 454 306.8 454.2 308.9 455.2 310.7 456.2 310.9 460.2 308.6 460.2 353.4 456.2 351.1 455.2 351.3 454.9 351.8 454.2 353.2 454 354.8 454.2 356.6 454.9 357.8 458.2 361.8 460.2 363.6Z"/><path fill="#ff6700" d="M434.2 365.8 421.2 365 418.2 364.5 415.2 363.4 412.6 361.8 410.2 359.2 408.3 355.8 406.9 351.8 406 345.8 405.7 337.8 405.8 318.8 406.8 310.8 408.4 305.8 411 301.8 414.2 299.1 418.2 297.5 423.2 296.8 434.2 296.2 439.3 296.8 444.2 298 446.9 299.8 449.4 302.8 453.2 313.3 455.2 316.4 456.2 317.1 457.2 317.2 460.2 316.1 460.2 345.9 457.2 344.8 456.2 344.9 455.2 345.6 453.2 348.8 449.6 358.8 448.3 360.8 446.2 362.8 444.2 364 442.2 364.6Z"/><path fill="#ff6000" d="M439.2 363.9 435.2 364.5 427.2 364.4 421.2 364 417.2 363 414.9 361.8 412.2 359.3 410.2 356.3 408.7 352.8 407.5 346.8 407.1 338.8 407.1 321.8 407.9 312.8 409.2 307.8 411.3 303.8 414.2 300.7 417.8 298.8 424.2 297.7 435.2 297.5 439.2 298.1 444.1 299.8 446.2 301.4 448.2 304 452.2 314.3 455.2 319.5 457.2 321 460.2 320.6 460.2 341.4 457.2 341 455.2 342.5 452.2 347.7 449.2 355.9 447.2 359.5 444.2 362.1Z"/><path fill="#ff5900" d="M437.2 363 431.2 363.4 424.2 363.3 420.7 362.8 417.7 361.8 415.2 360.2 412.9 357.8 411.1 354.8 409.7 350.8 408.6 343.8 408.3 334.8 408.4 321.8 409.3 312.8 410.8 307.8 413.2 303.8 416.6 300.8 420.2 299.3 426.2 298.6 435.2 298.8 439.2 299.5 443.2 301.3 445.2 302.8 447.2 305.4 451.6 315.8 455.2 322.2 457.2 324.5 458.2 324.9 460.2 324.9 460.2 337.1 458.2 337.1 457.2 337.5 455.2 339.8 451.3 346.8 447.6 355.8 445.6 358.8 442.2 361.3Z"/><path fill="#ff5300" d="M434.2 361.9 429.2 362.3 424.2 362.2 421.2 361.7 418.2 360.6 415.8 358.8 413.3 355.8 411.8 352.8 410.7 348.8 409.8 340.8 409.5 328.8 409.9 318.8 411 311.8 412.4 307.8 415.2 303.8 418.2 301.4 422.2 300.1 428.2 299.7 435.2 300.2 439.2 301.1 443.2 303.3 445.2 305.3 446.8 307.8 450.4 315.8 456.6 327.8 457.3 329.8 457.4 331.8 456.8 333.8 450.6 345.8 445.9 355.8 444.2 357.8 441.2 360 438.2 361.2Z"/><path fill="#ff4c00" d="M432.2 360.9 427.2 361.2 423.2 360.9 420.2 360 418.1 358.8 415.2 355.9 413.4 352.8 412.2 349 411.5 344.8 410.8 336.8 410.8 325.8 411.4 317.8 412.5 311.8 414.7 306.8 417.2 303.9 420.2 302 424.2 301 430.2 300.9 435.2 301.7 440.2 303.3 443.2 305.4 446.2 309.6 452.9 322.8 454.6 326.8 455.4 329.8 455.3 332.8 454 336.8 446.2 352.4 444.7 354.8 442.9 356.8 440.2 358.7 436.2 360.1Z"/><path fill="#ff4600" d="M430.2 359.8 425.2 359.9 422.2 359.3 419.2 357.8 417.2 356 415.2 353.1 413.9 349.8 413 345.8 412.3 340.8 412 332.8 412.2 323.8 412.9 316.8 414 311.8 415.8 307.8 418.2 305 421.2 303.1 425.2 302.1 430.2 302.2 435.2 303.1 439.2 304.7 442.2 306.8 445.2 310.7 451.7 322.8 453.5 326.8 454.1 329.8 454.1 332.8 452.8 336.8 445.5 350.8 443.5 353.8 441.2 356.1 438.2 357.8 434.2 359.2Z"/><path fill="#ff3f00" d="M433.2 358 429.2 358.6 426.2 358.7 423.2 358.1 420.2 356.7 418.1 354.8 416.2 351.8 415.1 348.8 414 343.8 413.4 336.8 413.3 327.8 413.8 319.8 414.9 313.8 416.4 309.8 418.5 306.8 421.2 304.7 425.2 303.4 429.2 303.4 434.2 304.2 438 305.8 441.2 308.1 444.2 311.7 450.5 322.8 452.4 326.8 453.1 329.8 453 332.8 451.7 336.8 443.8 350.8 441.3 353.8 439.2 355.5 436.2 357.1Z"/><path fill="#ff3800" d="M432.2 356.8 428.2 357.4 425.2 357.2 422.2 356.1 420.2 354.7 418.5 352.8 417 349.8 415.8 345.8 415 340.8 414.5 333.8 414.6 326.8 415.2 319.8 416.4 313.8 418.1 309.8 420.2 307.3 423.2 305.4 426.2 304.7 430.2 304.8 434.4 305.8 438.2 307.6 440.9 309.8 443.3 312.8 449.9 323.8 451.3 326.8 452 329.8 451.9 332.8 450.6 336.8 442.8 349.8 440.2 352.8 438.2 354.4 435.2 355.9Z"/><path fill="#ff3200" d="M429.2 355.9 426.2 355.8 423.2 354.9 421.2 353.5 419.7 351.8 418.2 348.8 417.2 345.3 416.3 339.8 415.9 333.8 415.9 327.8 416.4 321.8 417.2 316.8 418.4 312.8 420 309.8 422 307.8 424.2 306.7 427.2 306.1 430.2 306.2 434.2 307.3 437.2 308.8 440.2 311.2 443 314.8 449.2 324.7 450.5 327.8 451 330.8 450.6 333.8 449.2 337.3 441.1 349.8 439.2 351.8 436.2 353.8 433.2 355Z"/><path fill="#ff2b00" d="M431.2 354.1 428.2 354.4 425.2 354 422.9 352.8 421.2 351.1 420 348.8 418.9 345.8 417.4 335.8 417.2 330.8 417.4 325.8 418.2 319.7 419.4 314.8 420.7 311.8 422.2 309.8 424.2 308.4 427.2 307.6 430.2 307.7 433.2 308.6 436.2 310 439.2 312.3 441.4 314.8 448 324.8 449.2 327.3 449.8 329.8 449.7 332.8 448.7 335.8 441.2 347.5 439.2 349.7 437.2 351.3 434.2 353Z"/><path fill="#ff2400" d="M429.2 352.8 427.2 352.7 424.6 351.8 423.2 350.7 421.9 348.8 420 342.8 418.6 331.8 418.9 326.8 419.7 320.8 420.6 316.8 421.6 313.8 422.8 311.8 424.2 310.4 426.2 309.5 428.2 309.2 431.2 309.5 434.2 310.7 437.2 312.7 439.2 314.6 447.2 325.7 448.2 327.8 448.8 330.8 448.3 333.8 447.2 336.3 439.2 347.4 436.6 349.8 434.2 351.3 431.2 352.5Z"/><path fill="#ff1f00" d="M430.2 350.9 428.2 350.9 426.2 350.4 425.2 349.8 423.7 347.8 422.5 344.8 421.7 341.8 420.2 331.8 420.4 327.8 421.2 322.7 423.2 315.1 424.2 313.3 425.8 311.8 427.2 311.2 429.2 311 433.2 312 437.2 315 446.2 326.6 447.2 328.8 447.6 330.8 447.3 332.8 446.2 335.4 438.2 345.9 436.2 348 434.2 349.4Z"/><path fill="#ff1900" d="M432.2 347.9 430.2 348.5 428.2 348.4 427.2 347.9 426 346.8 424.2 342.7 422.1 332.8 422.3 327.8 424.7 317.8 426.4 314.8 427.8 313.8 429.2 313.5 432.2 314.1 434.2 315.3 435.9 316.8 440.2 323.1 444.8 327.8 445.9 330.8 445.5 332.8 444.2 335 440.3 338.8 436.2 344.9 434.2 346.8Z"/><path fill="#ff1300" d="M431.2 344.2 429.2 344.2 428.2 343.5 427.2 342.1 425.2 336.6 424.3 331.8 424.8 326.8 426.8 320.8 428.2 318.5 429.2 317.8 430.2 317.6 432.2 318.3 434.2 320 438.2 325.1 441.7 328.8 442.7 330.8 442 332.8 438.3 336.8 435.2 340.9 433.2 343Z"/><path fill="#ff0e00" d="M433.2 337.8 431.2 338.6 430.2 338.3 429.2 337.1 428.2 335.2 427.2 331.8 427.2 329.8 428.2 326.8 429.2 324.8 430.2 323.7 431.2 323.4 432.2 323.6 434.2 325.1 437.4 328.8 438.3 330.8 437.7 332.8Z"/></g></g><g clip-path="url(#c6)"><g filter="url(#b6)"><circle cx="73.0" cy="545.5" r="67.2" fill="#0629f3"/><path fill="#0034ff" d="M140.8 613.6 4.8 613.6 4.5 613.3 4.5 477.3 4.8 477 140.8 477 141.1 477.3 140.8 542.7 139.4 544.3 138.9 546.3 139.3 548.3 140.8 550 141.1 613.3Z"/><path fill="#0040ff" d="M140.8 613.6 4.8 613.5 4.6 613.3 4.6 477.3 4.8 477.1 140.8 477 141.1 477.3 140.8 538.5 138.8 539.5 137.8 540.6 136.7 543.3 136.3 546.3 136.8 550.1 137.8 552.3 138.8 553.4 140.8 554.5 141.1 613.3Z"/><path fill="#004dff" d="M140.8 613.6 4.8 613.5 4.6 613.3 4.6 477.3 4.8 477.1 140.8 477 141.1 477.3 140.8 535.7 138.8 536.4 136.8 538.4 135.2 542.3 134.8 546.3 135.2 550.3 136.5 554.3 138.2 556.3 140.8 557.5 141.1 613.3Z"/><path fill="#0059ff" d="M140.8 613.5 4.6 613.3 4.8 477.1 140.8 477 141.1 477.3 140.8 533.3 137.8 534.6 135.8 536.9 134.2 541.3 133.6 546.3 134.3 552.3 135.8 556.5 137.8 558.8 140.8 560 141 613.3Z"/><path fill="#0066ff" d="M140.8 613.5 4.6 613.3 4.8 477.1 140.8 477 141.1 477.3 140.8 531.2 138.8 531.8 136.8 533.1 134.8 535.8 133.3 540.3 132.6 546.3 133.1 552.3 134.8 557.8 136.8 560.5 138.8 561.8 140.8 562.4 141 613.3Z"/><path fill="#0073ff" d="M140.8 613.5 4.6 613.3 4.8 477.1 140.8 477 141.1 477.3 140.8 529.3 138.8 529.8 136.8 530.9 135.5 532.3 134.2 534.3 132.5 539.3 131.7 546.3 132.3 553.3 134.1 559.3 135.2 561.3 136.8 563 138.8 564 140.8 564.6 141 613.3Z"/><path fill="#0080ff" d="M140.8 613.5 4.6 613.3 4.8 477.1 140.8 477 141.1 477.3 140.8 527.4 138.8 527.9 136.8 528.9 134.8 530.9 133.8 532.5 132.6 535.3 131.6 539.3 130.9 547.3 131.7 555.3 132.8 559.3 133.8 561.7 134.8 563.3 136.8 565.2 140.8 566.7Z"/><path fill="#008eff" d="M140.8 613.5 4.7 613.3 4.8 477.1 128.8 477 140.8 477.1 141 477.3 140.8 525.6 137.8 526.5 135.8 527.8 133.8 530.2 132.8 532.1 130.8 538.7 130 547.3 130.8 555.9 131.8 559.9 133.2 563.3 134.4 565.3 135.8 566.8 137.8 567.9 140.8 568.8Z"/><path fill="#009bff" d="M140.8 613.5 4.7 613.3 4.8 477.2 125.8 477 140.8 477.1 141 477.3 140.8 523.8 137.8 524.7 135.8 525.9 134.4 527.3 132.8 529.7 131.3 533.3 130.2 537.3 129.5 542.3 129.2 547.3 129.4 552.3 130.1 557.3 131.1 561.3 132.8 565.5 134 567.3 135.8 569 137.8 570.1 140.8 571Z"/><path fill="#00a9ff" d="M140.8 613.5 4.7 613.3 4.8 477.2 123.8 477.1 141 477.3 140.8 522.1 137.8 523 135.5 524.3 133.8 526 131.8 529.4 130.3 533.3 129.3 537.3 128.6 542.3 128.3 548.3 128.6 553.3 129.3 558.3 130.7 563.3 132.3 567.3 133.8 569.6 135.8 571.3 140.8 573.2Z"/><path fill="#00b6ff" d="M140.8 613.5 4.7 613.3 4.8 477.2 141 477.3 140.8 520.4 137.8 521.2 134.8 523 132.8 525.3 131.2 528.3 129.7 532.3 128.5 537.3 127.7 543.3 127.4 549.3 127.7 554.3 128.5 559.3 129.9 564.3 131.8 569.4 133.1 571.3 134.8 572.9 137.8 574.5 140.8 575.4Z"/><path fill="#00c3ff" d="M140.8 613.4 4.7 613.3 4.8 477.2 141 477.3 140.8 518.6 137.8 519.5 134.8 521.1 132.8 523.3 130.8 526.9 128.8 532.3 127.6 537.3 126.7 544.3 126.5 550.3 126.8 555.3 127.4 559.3 129.3 566.3 131.2 571.3 132.8 573.7 134.8 575.3 137.8 576.8 140.8 577.8Z"/><path fill="#00d1ff" d="M140.8 613.4 4.7 613.3 4.8 477.2 141 477.3 140.8 516.8 137.8 517.7 134.8 519.3 132.8 521.2 130.8 524.6 128.5 530.3 127.1 535.3 125.9 542.3 125.4 550.3 125.6 555.3 126.5 560.3 129.4 570.3 130.8 573.8 131.8 575.3 133.8 577 137.8 579.2 140.8 580.3Z"/><path fill="#00deff" d="M140.8 613.4 4.7 613.3 4.8 477.2 141 477.3 140.8 515 136.8 516.4 133.8 518.2 131.8 520.5 130.3 523.3 127.5 530.3 126.1 535.3 124.7 544.3 124.2 551.3 124.5 556.3 125.2 560.3 129.8 575.3 130.8 576.9 132.8 578.9 136.8 581.2 140.8 582.9Z"/><path fill="#03eafc" d="M140.8 613.4 4.8 613.3 4.8 477.2 141 477.3 140.8 513.1 136.8 514.6 133.8 516.3 131.8 518.3 129.8 522 126.9 529.3 125.1 535.3 123.3 545.3 122.8 552.3 123.2 557.3 124.1 561.3 128.3 575.3 129.5 578.3 130.8 579.9 132.8 581.5 137.8 584.4 140.8 585.7Z"/><path fill="#0ff0f0" d="M140.8 613.4 4.8 613.3 4.8 588.5 7.8 587.1 12.8 583.8 14.1 582.3 14.7 580.3 13.8 574.7 10.1 560.3 8.5 549.3 8.3 539.3 9.5 524.3 9.4 521.3 8.8 519.3 7.8 518.3 4.8 517.2 4.8 477.3 140.9 477.3 140.8 511.1 137.8 512.2 133.8 514.4 131.8 516.1 129.9 519.3 126.2 528.3 124.6 533.3 122 545.3 121.3 551.3 121.5 555.3 122.4 560.3 125.7 570.3 127.7 578.3 128.6 580.3 130.3 582.3 132.8 584.2 137.8 587.3 140.8 588.6Z"/><path fill="#1af7e5" d="M140.8 613.4 4.8 613.3 4.8 600.7 8.8 598.2 17.2 591.3 19 589.3 19.6 587.3 18.8 582.5 14.5 570.3 12.3 562.3 11.1 556.3 10.3 548.3 10.3 540.3 11.1 532.3 12.4 525.3 14.8 515.3 15.4 510.3 14.9 508.3 13.8 507 8.8 503.5 4.8 501.5 4.8 477.3 140.9 477.3 140.8 509.1 136.8 510.7 132.8 513.1 130.8 515.2 129.8 516.9 123.9 532.3 120.2 546.3 119.6 551.3 119.9 555.3 120.9 560.3 124.7 571.3 126.4 579.3 127.5 582.3 128.8 583.9 131.8 586.3 137.8 590.4 140.8 591.8Z"/><path fill="#26fed9" d="M140.8 613.4 4.8 613.3 4.8 611.4 8.8 608 21.7 595.3 23.1 593.3 23.5 591.3 22.7 587.3 17.2 574.3 14.3 565.3 12.3 556.3 11.4 547.3 11.7 538.3 13 529.3 15.3 520.3 19.5 507.3 19.9 503.3 19 501.3 17 499.3 8.8 492.5 4.8 490 4.8 477.3 140.9 477.3 140.8 507 136.8 508.7 132.8 511.1 130.8 512.8 129.8 514.3 123.1 531.3 118.6 546.3 118 551.3 118.4 555.3 119.4 560.3 123.6 572.3 125.3 581.3 126.4 584.3 127.8 586.1 130.8 588.6 136.8 593 140.8 595.2Z"/><path fill="#3affc4" d="M140.8 613.3 13.3 613.3 15.9 609.3 25.5 598.3 26.9 595.3 26.8 593.3 25.8 590.3 19.2 576.3 15.5 566.3 13.3 556.3 12.4 547.3 12.7 538.3 14.3 528.3 17.2 518.3 22.8 504.2 23.6 501.3 23.8 499.3 23.2 497.3 21.6 495.3 8.8 482.7 4.8 479.3 4.8 477.3 140.9 477.3 140.8 504.8 136.8 506.6 131.8 509.7 130.1 511.3 128.9 513.3 126.1 521.3 122.8 529.1 120.2 537.3 117.3 545.3 116.5 550.3 116.8 554.3 117.8 559.4 119.2 564.3 122.6 573.3 124.1 583.3 124.8 585.7 125.8 587.3 128.8 590.2 136.8 596.5 140.8 598.9Z"/><path fill="#4fffad" d="M140.8 613.3 20.1 613.3 22.5 609.3 29.3 600.3 29.8 599.2 30.1 597.3 28.9 593.3 20.2 576.3 16.4 566.3 14.6 559.3 13.7 553.3 13.2 547.3 13.3 541.3 14.4 532.3 16.6 523.3 20.3 513.3 26.2 500.3 27.2 496.3 26.9 494.3 25.8 492.5 16.1 481.3 13.5 477.3 140.9 477.3 140.8 502.4 137.8 503.8 132.8 506.9 130.8 508.3 128.8 510.5 127.8 512.7 125.4 520.3 122 528.3 119.1 537.3 115.7 545.3 115 550.3 115.7 555.3 117.2 562.3 121.7 575.3 122.8 585.3 123.3 587.3 124.4 589.3 126.8 591.8 136.8 600.4 140.8 602.9Z"/><path fill="#64ff97" d="M140.8 613.3 26.1 613.3 27.6 610.3 32.8 602.3 33.1 599.3 31.6 595.3 22.5 579.3 18.6 570.3 15.4 559.3 14.4 553.3 14 548.3 14 542.3 14.6 536.3 15.6 530.3 17.2 524.3 20.5 515.3 28.9 498.3 30.2 495.3 30.5 493.3 29.7 490.3 23 481.3 20.7 477.3 140.9 477.3 140.8 499.9 137.8 501.3 131.8 505.3 129.3 507.3 127.8 509.3 124.8 519.3 121.4 527.3 118.3 536.3 114.3 545.3 113.6 549.3 114 553.3 116 562.3 120.6 576.3 121.1 580.3 121.3 586.3 121.8 589.3 122.8 591.3 125.8 594.5 136.8 604.6 140.8 607.3Z"/><path fill="#77ff82" d="M139.8 613.3 31.7 613.3 36.2 604.3 36.2 601.3 34.3 597.3 24.9 582.3 20.1 572.3 18 566.3 16.4 560.3 15.3 554.3 14.7 547.3 14.8 541.3 15.4 535.3 16.6 529.3 18.7 522.3 23.2 511.3 32.2 495.3 33.8 491.3 33.8 489.3 33 487.3 28.5 480.3 27.1 477.3 140.9 477.3 140.8 497.2 137.8 498.7 130.8 503.6 128.7 505.3 127.1 507.3 126.3 509.3 124.2 518.3 120.8 526.3 117.2 536.3 113.3 544.3 112.6 546.3 112.3 549.3 112.8 553.3 115.2 563.3 119.5 577.3 119.9 581.3 119.8 589.3 120.6 592.3 122.8 595.3 140.8 613.3Z"/><path fill="#89ff6d" d="M133.8 613.3 37.2 613.3 39.9 606.3 39.6 603.3 37.9 600.3 27.6 585.3 24.2 579.3 21.3 573.3 19 567.3 17.1 560.3 16 554.3 15.4 547.3 15.5 541.3 16.3 534.3 17.9 527.3 20.2 520.3 25.2 509.3 29.2 502.3 35.7 492.3 37.4 488.3 37 485.3 33.1 477.3 140.9 477.3 140.8 494.3 137.8 495.8 132.8 499.5 128 503.3 126.3 505.3 125.3 508.3 124.3 514.3 123.2 518.3 120.2 525.3 116.6 535.3 112 544.3 111.1 548.3 111.8 554.3 114.8 566 117.5 574.3 118.4 578.3 118.7 582.3 118.1 591.3 118.8 594.3 120.8 597.3 132.6 610.3 134.6 613.3Z"/><path fill="#9cff58" d="M128.8 613.3 43 613.3 44.2 608.3 43.4 605.3 33.8 593.1 29.7 587.3 25 579.3 21.3 571.3 19.1 565.3 17.5 559.3 16.5 553.3 16 547.3 16.2 540.3 17.2 533.3 19.2 525.3 21.8 518.3 24.5 512.3 28.4 505.3 32.8 498.5 39.6 489.3 41.2 486.3 41.4 483.3 39.3 477.3 140.8 477.3 140.8 491 137.8 492.6 134.8 494.9 127.8 500.6 125.4 503.3 124.3 506.3 123.6 513.3 122.6 517.3 119.6 524.3 116 534.3 111.1 543.3 109.9 547.3 109.9 550.3 110.5 553.3 117.2 578.3 117.4 583.3 116.3 592.3 116.5 595.3 117.3 597.3 118.6 599.3 128.5 611.3 129.6 613.3Z"/><path fill="#aeff43" d="M123.8 613.3 50.3 613.3 50 610.3 48.9 608.3 35.8 594.3 31.3 588.3 26.8 581.1 23.8 575.3 21.2 569.3 19.2 563.3 17.8 557.3 16.9 551.3 16.7 545.3 17 539.3 17.9 533.3 20.6 523.3 25.4 512.3 29.3 505.3 33.8 498.6 45.8 484.3 47.1 481.3 46.5 477.3 140.8 477.3 140.8 487.2 136.8 489.8 128.8 496.6 124.9 500.3 123.8 502 123.1 505.3 122.8 512.3 121.9 516.3 118.8 523.8 115.5 533.3 109.9 543.3 108.7 547.3 108.8 550.3 109.3 553.3 115.3 575.3 116.1 579.3 116 585.3 114.3 595.3 114.6 598.3 116.2 601.3 123.6 611.3 124.6 613.3Z"/><path fill="#bfff33" d="M118.8 613.3 60.5 613.3 47.8 604.8 42.8 600.6 38.8 596.6 34.4 591.3 30.2 585.3 26.6 579.3 23.6 573.3 21.2 567.3 19.4 561.3 18 554.3 17.4 548.3 17.4 542.3 18 536.3 19.5 529.3 21.3 523.3 23.8 517.2 27.3 510.3 31.5 503.3 35.8 497.4 39.8 492.8 43.8 488.8 48.8 484.7 56.1 479.3 57.9 477.3 140.8 477.3 140.8 482.8 137.8 484.7 134.8 487.3 124.8 496.7 122.7 499.3 121.9 502.3 121.9 511.3 120.9 516.3 118 523.3 114.5 533.3 109.2 542.3 107.7 546.3 107.5 549.3 108 552.3 114.2 575.3 115 580.3 114.9 585.3 112 597.3 112 600.3 113.4 603.3 118.7 611.3 119.6 613.3Z"/><path fill="#d0ff24" d="M113.8 613.3 71.9 613.3 60.8 609.8 55.8 607.9 51.8 605.9 46.8 602.7 42.8 599.4 38.7 595.3 34.8 590.6 30.8 584.9 26.9 578.3 23.9 572.3 21.6 566.3 19.8 560.3 18.6 554.3 18.1 548.3 18.1 542.3 18.7 536.3 19.9 530.3 21.8 524.1 24.5 517.3 28.1 510.3 32.4 503.3 36.8 497.4 40.8 493 45.8 488.6 49.8 485.8 55.8 482.7 60.8 480.8 70.2 478.3 72.7 477.3 139.3 477.3 122.8 494.5 120.8 497.3 120.3 500.3 121.1 510.3 120.3 515.3 114 532.3 112.4 535.3 108 542.3 106.6 546.3 106.4 549.3 106.9 552.3 110 563.3 113.8 579.3 113.9 583.3 113.4 587.3 109.4 599.3 109 602.3 109.4 604.3 113.3 611.3 114.1 613.3Z"/><path fill="#e1ff16" d="M106.8 613.3 82.1 613.3 78.8 612 61.8 608.7 56.8 607 51.8 604.7 47.8 602.3 43.8 599.2 39.8 595.4 36.3 591.3 32.6 586.3 28.8 580.3 25.6 574.3 23 568.3 21 562.3 19.8 557.1 19 551.3 18.7 545.3 19 539.3 20 533.3 21.5 527.3 23.6 521.3 26.8 514.3 30.2 508.3 34.8 501.3 38.8 496.3 42.8 492.3 46.8 489 51.8 486 56.8 483.7 63.8 481.7 78.4 479.3 81.6 478.3 82.9 477.3 132.3 477.3 130.3 480.3 120.7 491.3 118.6 494.3 118.2 497.3 120.1 508.3 120.1 511.3 119.6 514.3 113.5 531.3 111.8 534.6 106.8 542.3 105.4 546.3 105.2 548.3 105.5 551.3 108.8 562.4 111.7 574.3 112.8 581.3 112.6 585.3 111.4 590.3 105.1 604.3 105.2 607.3 107.6 613.3Z"/><path fill="#f2ff08" d="M94.8 609.6 89.8 610.3 77.8 609.9 68.8 609 61.8 607.6 55.8 605.6 49.8 602.6 44.8 599 40.7 595.3 34.9 588.3 29.8 580.6 25.8 573 22.4 564.3 20.4 556.3 19.5 548.3 19.7 540.3 20.8 532.9 22.8 525.6 25.3 519.3 28.7 512.3 33 505.3 37.3 499.3 41.8 494.3 45.8 490.8 50.8 487.6 56.8 484.8 64.8 482.7 71.8 481.7 88.4 480.3 91 479.3 92.4 477.3 124.2 477.3 122.5 480.3 115.8 489.3 115 491.3 115.2 494.3 118 502.3 119 506.3 119.2 510.3 118.9 513.3 112.8 530.7 110.9 534.3 106.1 541.3 104.7 544.3 104.2 546.3 104.1 549.3 104.6 552.3 108 563.3 111.3 577.3 111.7 582.3 111.1 587.3 108.8 593.7 104.8 600.2 98.8 607.1 96.8 608.6Z"/><path fill="#f8f703" d="M86.8 608.4 81.8 608.7 74.8 608.6 67.8 607.9 62.8 607 58.8 605.8 53.8 603.9 49.8 601.7 45.8 598.9 41.8 595.3 37.8 590.8 33.7 585.3 29.8 579.1 26.8 573.3 24.2 567.3 22.3 561.3 21 555.3 20.3 549.3 20.3 543.3 20.8 537.3 21.8 531.9 23.7 525.3 25.8 520 28.8 513.8 32 508.3 35.8 502.5 39.1 498.3 42.8 494.4 46.8 491.1 50.8 488.5 55.8 486.2 60.8 484.5 65.8 483.5 74.8 482.5 84.8 482.4 98.8 483.5 103.8 484.6 105.8 485.7 107.8 487.6 111.8 492.8 115.8 499.7 118 506.3 118.3 510.3 117.9 513.3 112.8 528.3 110.8 532.6 104.4 542.3 103.3 545.3 102.9 547.3 103.4 552.3 107.2 564.3 110.4 578.3 110.5 584.3 109.4 589.3 107.7 593.3 105.8 596.6 102.8 600.4 99.8 603.3 97.8 604.7 93.8 606.8 90.8 607.7Z"/><path fill="#fdee01" d="M84.8 607.4 78.8 607.8 72.8 607.6 66.8 606.9 61.8 605.9 57.8 604.7 52.8 602.5 48.8 600.2 45 597.3 40.9 593.3 37.6 589.3 33.8 584 29.7 577.3 26.8 571.5 24.7 566.3 22.8 559.9 21.7 554.3 21.1 548.3 21.1 543.3 21.6 537.3 22.8 531.3 24.8 524.7 27 519.3 30 513.3 34.2 506.3 37.7 501.3 41 497.3 44.8 493.7 48.8 490.6 52.8 488.4 56.8 486.6 61.8 485.1 67.8 484 77.8 483.3 86.8 483.8 94.8 485.1 101.8 487.4 106.8 490.5 111.8 495.5 115.4 501.3 116.6 504.3 117.2 507.3 117.4 510.3 116.9 513.3 111.9 528.3 109.8 532.4 103.6 541.3 102.3 544.3 101.7 547.3 102.2 552.3 106.2 564.3 109.1 577.3 109.5 583.3 108.2 589.3 106.8 592.7 104.8 596.1 102.8 598.6 99.8 601.5 96.8 603.6 92.8 605.5 88.8 606.7Z"/><path fill="#ffe200" d="M84.8 606.4 79.8 606.9 73.8 606.9 68.8 606.5 62.8 605.4 57.8 603.9 53.8 602.2 49.8 599.9 46.2 597.3 42 593.3 38.6 589.3 34.8 584.1 30.7 577.3 27.8 571.6 25.7 566.3 23.8 560.2 22.6 554.3 22.1 548.3 22 543.3 22.6 537.3 23.8 531 25.8 524.5 27.8 519.5 30.8 513.5 33.9 508.3 40.8 498.8 44.1 495.3 47.8 492.3 51.8 489.7 56.8 487.5 61.8 485.9 66.8 484.9 76.8 484.2 85.8 484.7 93.8 486.2 100.8 488.6 105.8 491.5 111 496.3 114.3 501.3 115.6 504.3 116.3 507.3 116.4 510.3 115.9 513.3 111.3 527.3 108.8 532.1 102.3 541.3 101 544.3 100.4 547.3 100.9 552.3 105 564.3 108 577.3 108.4 583.3 107.4 588.3 105.8 592.3 104 595.3 101.6 598.3 98.8 600.9 95.8 602.9 91.8 604.7Z"/><path fill="#ffd400" d="M85.8 605.4 80.8 606 75.8 606.2 69.8 605.9 64.8 605.1 59.8 603.8 55.7 602.3 51.8 600.3 47.4 597.3 43.8 594 39.7 589.3 35.8 584 31.8 577.5 28.8 571.6 26.8 566.6 24.9 560.3 23.8 555.3 23.2 549.3 23.1 544.3 23.5 538.3 24.5 532.3 25.9 527.3 27.8 521.9 30.8 515.4 33.8 510.1 40.8 500.1 44.3 496.3 47.7 493.3 51.8 490.6 55.8 488.7 60.8 487 65.8 485.9 73.8 485.1 82.8 485.3 91.8 486.7 98.8 489 104.8 492.3 109.8 496.5 112 499.3 113.8 502.3 115.3 507.3 115.5 509.3 115.1 512.3 110.7 526.3 107.8 531.8 100.9 541.3 99.6 544.3 99 547.3 99.4 552.3 103.9 564.3 106.8 576.8 107.3 582.3 106.3 588.3 105.1 591.3 103.4 594.3 101.1 597.3 98.8 599.5 95.8 601.7 92.8 603.2Z"/><path fill="#ffca00" d="M79.8 605.4 74.8 605.5 69.8 605.2 64.8 604.4 59.8 603.1 55.3 601.3 51.6 599.3 47.8 596.5 44.8 593.8 40.8 589.3 36.8 583.8 32.8 577.3 29.8 571.3 27.8 566.3 26 560.3 24.9 554.3 24.4 549.3 24.3 543.3 24.8 537.3 25.9 531.3 27.6 525.3 29.8 519.8 32.8 513.8 39.8 502.8 45.8 496 49.1 493.3 52.8 491 56.8 489.1 61.8 487.5 66.8 486.5 71.8 485.9 79.8 485.9 87.8 486.8 94.8 488.6 100.8 491.1 106.8 495 110.8 499.2 113.2 503.3 113.9 505.3 114.4 508.3 113.8 513.3 109.6 526.3 106.8 531.3 99.3 541.3 98.3 543.3 97.5 546.3 97.4 549.3 97.9 552.3 102.8 564.9 105.7 577.3 106.1 583.3 105.7 586.3 104.8 589.3 103.4 592.3 101.4 595.3 98.8 598.2 95.8 600.5 92.6 602.3 88.8 603.7 84.8 604.7Z"/><path fill="#ffc500" d="M84.8 604.4 79.8 605.1 74.8 605.2 69.8 604.9 64.8 604.1 59.8 602.8 55.8 601.2 51.8 599.1 48 596.3 43.8 592.3 40.5 588.3 36.8 583.2 32.8 576.5 29.8 570.3 27.9 565.3 25.5 555.3 24.9 549.3 24.8 543.3 25.3 537.3 26.1 532.3 27.7 526.3 29.6 521.3 34.8 511 41.8 500.8 45 497.3 48.8 493.9 52.8 491.3 57.1 489.3 61.8 487.8 66.8 486.8 74.8 486.1 82.8 486.4 90.8 487.8 97.8 490 103.8 493.2 108.8 497.4 112.3 502.3 113.6 505.3 114 507.3 114 510.3 113.4 513.3 110.8 521.9 109.1 526.3 105.8 532 99.3 540.3 97.7 543.3 96.9 546.3 96.8 549.3 97.5 553.3 102.1 564.3 104.9 575.3 105.7 582.3 104.8 587.9 103.5 591.3 101.8 594.1 97.8 598.6 94.8 600.7 91.8 602.3Z"/><path fill="#ffc000" d="M83.8 604.3 78.8 604.9 73.8 604.9 68.8 604.6 63.8 603.7 59.2 602.3 54.8 600.4 51.2 598.3 47.8 595.7 44.3 592.3 40.1 587.3 36 581.3 32.8 575.7 30.3 570.3 28.4 565.3 26.8 559.5 25.9 554.3 25.3 548.3 25.3 542.3 25.8 537 26.8 531.3 30 521.3 32.8 515.3 35.8 510.1 42.7 500.3 46.5 496.3 49.8 493.6 53.5 491.3 57.9 489.3 62.8 487.8 67.8 486.9 75.8 486.3 83.8 486.8 91.8 488.3 98.8 490.8 104.8 494.3 109.2 498.3 112 502.3 112.9 504.3 113.6 507.3 113.6 510.3 113 513.3 110.6 521.3 108.8 526.1 105 532.3 98.6 540.3 97 543.3 96.2 546.3 96.1 549.3 96.9 553.3 101.8 564.9 104.7 576.3 105.3 582.3 105 585.3 104.3 588.3 103 591.3 101.2 594.3 98.8 597.2 96.8 598.9 93.8 600.9 90.8 602.4Z"/><path fill="#ffbb00" d="M81.8 604.3 76.8 604.7 71.8 604.6 66.8 604 61.8 602.9 57.3 601.3 53.3 599.3 50.3 597.3 46.7 594.3 43 590.3 39.8 586.2 35.8 580.2 32.5 574.3 29.9 568.3 28.3 563.3 26.9 557.3 26.2 552.3 25.8 546.3 26 540.3 26.7 534.3 27.8 529.2 29.7 523.3 31.8 518.2 34.8 512.5 38.7 506.3 44.9 498.3 48.1 495.3 51.8 492.6 55.8 490.5 59.8 489 64.8 487.7 69.8 486.9 77.8 486.7 84.8 487.2 91.8 488.7 98.8 491.2 104.2 494.3 108.7 498.3 111.8 502.8 113.2 507.3 113.2 510.3 112.6 513.3 108.8 525.1 104.8 531.9 99.4 538.3 97.3 541.3 96.3 543.3 95.4 546.3 95.4 549.3 96.2 553.3 101.4 565.3 104 575.3 104.8 582.3 104.6 585.3 103.8 588.3 102.6 591.3 100.7 594.3 98.1 597.3 95.8 599.2 92.8 601.1 89.8 602.4 85.8 603.6Z"/><path fill="#ffb600" d="M78.8 604.3 73.8 604.4 68.8 604 64.5 603.3 59.8 601.9 55.8 600.3 52.3 598.3 48.3 595.3 45.2 592.3 41.8 588.3 37.8 582.6 34.6 577.3 31.6 571.3 29.7 566.3 28 560.3 26.9 554.3 26.4 548.3 26.4 542.3 26.9 536.3 28 530.3 29.8 524.3 31.8 519.3 34.8 513.3 41.8 502.6 44.8 499 47.8 496 51.3 493.3 54.8 491.3 58.8 489.6 63.2 488.3 67.8 487.5 72.8 487 80.8 487.1 87.8 488.1 94.8 490 100.2 492.3 104.9 495.3 109.1 499.3 111.8 503.6 112.6 506.3 112.9 508.3 112.6 511.3 111.9 514.3 109.8 521.4 108.2 525.3 104.6 531.3 97.1 540.3 95.5 543.3 94.6 546.3 94.7 549.3 95.6 553.3 100.8 565 103.4 574.3 104.4 582.3 104.1 585.3 103.4 588.3 102.1 591.3 100.3 594.3 97.6 597.3 94.8 599.5 91.6 601.3 87.8 602.7 83.8 603.7Z"/><path fill="#ffb100" d="M83.8 603.4 79.8 604 74.8 604.2 69.8 603.9 64.8 603.1 60.8 602 56.5 600.3 52.8 598.3 48.8 595.3 44.8 591.3 41.5 587.3 37.8 581.9 34.5 576.3 31.8 570.5 29.9 565.3 27.6 555.3 27 549.3 26.9 543.3 27.3 537.3 28.1 532.3 29.6 526.3 31.4 521.3 33.8 516.1 36.8 510.7 40.8 504.6 43.8 500.7 46.9 497.3 50.5 494.3 53.8 492.2 57.8 490.3 62.8 488.7 67.8 487.7 75.8 487.2 83.8 487.7 90.8 489.1 97.8 491.5 103 494.3 107.8 498.3 110.8 502.4 111.8 504.7 112.4 507.3 112.4 510.3 111.8 513.3 109.8 520.2 107.8 525.2 103.8 531.6 96.3 540.3 94.6 543.3 93.8 546.3 93.9 549.3 94.9 553.3 96.4 557.3 100 564.3 102.7 573.3 103.9 581.3 103.8 584.3 103.2 587.3 102.1 590.3 100.5 593.3 98.1 596.3 95.8 598.3 90.8 601.3Z"/><path fill="#ffab00" d="M82.8 603.3 77.8 603.9 72.8 603.9 67.8 603.4 62.8 602.3 58.8 601 55.2 599.3 51.9 597.3 48.2 594.3 44.4 590.3 40.8 585.6 36.8 579.4 34 574.3 31.8 569.3 30.1 564.3 28.8 558.8 27.9 553.3 27.5 547.3 27.6 541.3 28.1 535.3 29.3 529.3 30.8 524.3 32.8 519.2 35.8 513.3 38.8 508.3 42.2 503.3 45.5 499.3 48.5 496.3 51.8 493.8 54.8 492 58.8 490.2 63.8 488.8 68.8 487.9 76.8 487.5 83.8 488 90.8 489.4 97.8 491.9 103.8 495.3 107.8 498.9 110.8 503.3 112 507.3 112 510.3 111.4 513.3 109.7 519.3 107.8 524.2 103.4 531.3 95.5 540.3 93.6 543.3 92.8 546.3 93 549.3 94.5 554.3 99.8 565.3 102 572.3 103.4 581.3 103.3 584.3 102.8 587.3 101.7 590.3 100 593.3 97.8 596 95.8 597.9 92.8 599.9 90 601.3Z"/><path fill="#ffa400" d="M80.8 603.3 75.8 603.7 70.8 603.5 65.8 602.7 61.8 601.7 57.9 600.3 54.1 598.3 51.2 596.3 47.7 593.3 43.8 588.9 39.8 583.4 36.7 578.3 33.8 572.7 31.8 567.7 30.2 562.3 28.9 556.3 28.3 551.3 28 545.3 28.3 539.3 28.9 534.3 30.1 528.3 31.7 523.3 33.8 518.2 36.8 512.5 40.6 506.3 43.8 501.9 47 498.3 50.3 495.3 53.2 493.3 57.1 491.3 60.8 489.9 65.8 488.7 70.8 488 77.8 487.8 84.8 488.5 91.8 490 97.9 492.3 103.2 495.3 107.7 499.3 110.4 503.3 111.6 507.3 111.5 510.3 110.5 515.3 108.8 520.7 106.8 525.1 102.8 531.3 96.1 538.3 93.8 541.3 92.1 544.3 91.6 546.3 92 549.3 93.3 553.3 95 557.3 99.2 565.3 101.7 573.3 103 581.3 102.7 585.3 102 588.3 100.7 591.3 98.8 594.2 94.6 598.3 91.8 600.1 88.8 601.4 84.8 602.6Z"/><path fill="#ff9e00" d="M77.8 603.3 72.8 603.3 67.8 602.8 62.8 601.7 58.8 600.3 54.8 598.3 51.7 596.3 45.8 590.7 42.4 586.3 38.8 581 35.8 575.7 33.4 570.3 31.6 565.3 30.1 559.3 29.1 553.3 28.7 547.3 28.7 541.3 29.3 535.3 30.4 529.3 31.9 524.3 33.8 519.3 36.8 513.4 43.8 502.6 46.6 499.3 49.7 496.3 55.8 492.3 59.8 490.6 64.2 489.3 68.8 488.5 73.8 488.1 80.8 488.3 87.6 489.3 94.6 491.3 99.8 493.6 104.8 497 108.1 500.3 110.4 504.3 111.2 508.3 111 511.3 109.8 516.3 108.5 520.3 106.7 524.3 102.1 531.3 96 537.3 92.6 541.3 90.8 544.3 90.3 546.3 90.6 548.3 92.5 553.3 94.2 557.3 98.5 565.3 100.8 571.8 102 577.3 102.5 581.3 102.3 585.3 101.5 588.3 100.2 591.3 98.2 594.3 95.8 596.9 92.8 599.1 89.8 600.6 85.8 602.1Z"/><path fill="#ff9800" d="M82.8 602.4 78.8 603 73.8 603.1 68.8 602.7 64.8 602 60.8 600.8 56.8 599.1 53.8 597.3 49.8 594.2 46 590.3 42.8 586.1 39 580.3 35.8 574.5 33.8 569.9 31.9 564.3 29.8 553.5 29.3 547.3 29.4 541.3 29.8 536.2 30.8 530.3 33.8 520.8 38.8 511 45.4 501.3 48.1 498.3 51.6 495.3 54.8 493.2 58.8 491.3 63.8 489.7 68.8 488.8 75.8 488.4 83.8 489 90.3 490.3 96.8 492.6 101.9 495.3 106.7 499.3 109.5 503.3 110.7 507.3 110.5 511.3 109.4 516.3 107.8 520.8 105.8 524.8 101.3 531.3 91.3 541.3 89.8 543.3 89 545.3 88.9 547.3 89.6 549.3 93.9 558.3 97.8 565.2 100.1 571.3 101.9 580.3 101.9 584.3 101.3 587.3 100.2 590.3 98.8 592.8 96.8 595.3 94.7 597.3 89.8 600.3Z"/><path fill="#ff9200" d="M81.8 602.3 77.8 602.8 72.8 602.8 68 602.3 63.4 601.3 59.8 600.1 56.1 598.3 53 596.3 49.4 593.3 45.8 589.3 42.8 585.3 38.8 579 35.9 573.3 33.9 568.3 32.3 563.3 30.3 552.3 30 546.3 30.1 540.3 30.7 534.3 31.7 529.3 34.8 519.8 39.8 510.3 46 501.3 48.7 498.3 52.2 495.3 55.4 493.3 59.8 491.3 64.8 489.8 69.8 489 76.8 488.7 83.8 489.3 90.8 490.8 97.6 493.3 102.7 496.3 106.2 499.3 109.1 503.3 110.3 507.3 110.1 511.3 108.8 516.7 107 521.3 104.8 525.3 100.8 530.9 88.9 542.3 87.3 545.3 87.2 546.3 87.6 548.3 96.8 564.7 99.5 571.3 100.8 576.3 101.4 580.3 101.4 584.3 100.8 587.3 99.7 590.3 97.9 593.3 94.1 597.3 88.8 600.3Z"/><path fill="#ff8c00" d="M78.8 602.4 74.8 602.6 69.8 602.3 64.8 601.4 61.3 600.3 56.8 598.3 53.8 596.4 48.1 591.3 44.8 587.3 40.8 581.3 38 576.3 35.7 571.3 33.8 566 32.3 560.3 31.3 554.3 30.7 548.3 30.7 542.3 31.1 536.3 32.1 530.3 33.8 524.3 37.8 514.9 44.8 503.7 47.5 500.3 50.4 497.3 56.2 493.3 59.8 491.7 63.8 490.4 72.8 489.1 79.8 489.2 86.8 490.2 93.8 492.1 98.8 494.3 103.4 497.3 106.8 500.6 109 504.3 109.9 508.3 109.5 512.3 107.8 518.3 105.9 522.3 103.8 525.8 99.8 530.9 87.1 542.3 85.3 545.3 85.2 546.3 85.8 548.3 89.8 553.9 95.8 564.3 98.8 571 100 575.3 100.9 580.3 100.9 584.3 100 588.3 98.7 591.3 96.8 594 94.6 596.3 92 598.3 88.8 600 85.8 601.1Z"/><path fill="#ff8600" d="M82.8 601.5 78.8 602.1 73.8 602.3 68.8 601.8 64.8 601 57.6 598.3 54.3 596.3 50.7 593.3 47.8 590.3 44 585.3 40.8 580.2 37.8 574.6 35.6 569.3 33.8 563.4 31.8 553 31.4 547.3 31.4 541.3 31.8 536.3 32.8 530.5 35.8 520.6 37.8 516.2 40.8 510.8 47.3 501.3 50 498.3 53.7 495.3 57 493.3 61.8 491.4 69.8 489.7 75.8 489.4 82.8 489.9 89.8 491.3 95.8 493.3 101.4 496.3 105.1 499.3 108.1 503.3 109.3 507.3 109.2 511.3 107.8 516.9 105.8 521.4 102.8 526.1 98.8 530.9 85.1 542.3 83.1 545.3 83 546.3 83.7 548.3 89.6 555.3 96.8 567.7 99.5 575.3 100.4 582.3 100 586.3 99.1 589.3 97.5 592.3 95.8 594.5 92.8 597.3 89.8 599.1 86.8 600.4Z"/><path fill="#ff7f00" d="M81.8 601.4 77.8 601.9 72.8 601.9 67.8 601.4 63.8 600.4 60.6 599.3 56.6 597.3 53.7 595.3 50.3 592.3 46.9 588.3 43.8 583.9 40.8 579 38 573.3 34.5 563.3 32.5 552.3 32.1 546.3 32.2 540.3 32.8 534.6 33.8 529.3 36.8 520 41.8 510.4 48 501.3 53 496.3 56 494.3 60.3 492.3 64.8 490.9 69.8 490 76.8 489.7 83.8 490.4 90.8 491.9 96.8 494.2 101.8 497.1 105.5 500.3 107.8 503.8 108.8 507.3 108.7 511.3 107.1 517.3 105.1 521.3 101.8 526.3 97.8 530.7 82.8 542.3 81 544.3 80.6 545.3 80.5 546.3 81.4 548.3 88.8 555.9 95.8 567.2 98.8 575 99.7 579.3 99.9 582.3 99.5 586.3 98.6 589.3 97 592.3 94.8 595 92.1 597.3 88.8 599.2 85.8 600.4Z"/><path fill="#ff7900" d="M79.8 601.4 75.8 601.6 70.8 601.5 66.8 600.8 62.8 599.7 59.3 598.3 55.8 596.3 53.1 594.3 50.1 591.3 46.8 587.3 43.8 582.8 38.8 573.3 36.8 568.1 34.8 561.3 33.8 556.3 33.1 550.3 32.9 544.3 33.2 538.3 33.8 533.3 35.1 527.3 36.8 522.1 38.8 517.3 44.8 506.9 49.5 500.3 52.6 497.3 55.3 495.3 58.9 493.3 62.8 491.9 66.8 490.9 71.8 490.2 78.8 490.2 85.8 491.1 91.8 492.7 97.8 495.1 102.7 498.3 105.7 501.3 107.8 505.1 108.4 508.3 107.8 513.3 106.6 517.3 104.8 520.7 100.1 527.3 96.8 530.4 80.2 542.3 78.3 544.3 77.9 545.3 77.9 546.3 79 548.3 87.8 556.3 94.8 566.9 98 574.3 98.9 578.3 99.3 582.3 98.9 586.3 98 589.3 96.4 592.3 93.8 595.3 91.3 597.3 87.6 599.3 83.8 600.6Z"/><path fill="#ff7300" d="M76.8 601.3 68.8 600.9 64.8 600 60.8 598.6 54.8 595 51.7 592.3 49.1 589.3 45.5 584.3 42.5 579.3 40.1 574.3 37.8 568.5 35.9 562.3 34.8 557.3 33.7 546.3 34.3 535.3 35.5 529.3 36.9 524.3 40.8 515 44.7 508.3 48.7 502.3 53.4 497.3 56.1 495.3 59.8 493.4 66.8 491.2 74.8 490.5 81.8 490.8 87.8 491.9 93.8 493.8 98.8 496.2 102.8 498.9 105.8 502.2 107.3 505.3 107.9 508.3 107.3 513.3 106 517.3 103.8 521 99.8 526.3 96.8 529.2 89.8 534.3 77.4 542.3 75.3 544.3 75 545.3 75.1 546.3 76.4 548.3 86.8 556.7 92.8 565.3 95.2 569.3 97.3 574.3 98.3 578.3 98.7 582.3 98.4 586.3 97.4 589.3 95.8 592.3 92.8 595.6 89.8 597.8 85.8 599.6 81.8 600.7Z"/><path fill="#ff6d00" d="M81.8 600.3 77.8 600.9 72.8 601 68.8 600.5 64.8 599.6 61.1 598.3 57.8 596.5 52.5 592.3 49.1 588.3 45.8 583.5 41 574.3 36.8 562.4 34.9 552.3 34.7 541.3 35.9 531.3 38.9 521.3 40.8 516.9 43.8 511.3 50.4 501.3 53.1 498.3 55.5 496.3 58.9 494.3 62.8 492.7 66.8 491.7 70.8 491.1 76.8 490.9 82.8 491.4 89.8 492.9 95.8 495.1 99.8 497.3 103.8 500.5 105.9 503.3 107.2 507.3 107.1 511.3 105.8 516.3 103.8 519.8 98.8 526 95.8 528.7 88.8 533.6 73.7 542.3 71.7 544.3 71.7 546.3 73.2 548.3 83.8 555.6 87.8 559.6 92.8 566.8 94.8 570.3 96.8 575 97.8 578.9 98.1 582.3 97.8 586.3 96.8 589.4 94.8 592.8 92.5 595.3 89.8 597.3 85.8 599.2Z"/><path fill="#ff6700" d="M79.8 600.3 75.8 600.7 71.8 600.5 64.8 599.2 61.8 598.1 58.3 596.3 55.5 594.3 52.3 591.3 49.2 587.3 46 582.3 43.8 578.3 40.8 571.5 38.8 566 37.2 560.3 35.7 550.3 35.8 538.3 36.7 532.3 37.8 527.4 39.8 521.5 41.8 516.9 47.8 506.4 50.5 502.3 53 499.3 55.1 497.3 58.1 495.3 64.8 492.6 72.8 491.3 78.8 491.3 85.7 492.3 91.8 494 96.8 496.1 100.8 498.5 103.8 501.3 105.8 504.4 106.7 508.3 106.4 512.3 104.8 516.9 101.8 521.1 97.1 526.3 91.8 530.2 83.8 535.2 77.8 538.4 70.3 541.3 69.2 542.3 68.2 544.3 68.4 546.3 68.8 547.3 70.7 549.3 80.8 555 84 557.3 86.8 560 93.8 570.1 95.8 574.3 97 578.3 97.5 582.3 97.1 586.3 95.8 590.3 93.8 593.3 90.8 596.1 87.8 597.9 84.3 599.3Z"/><path fill="#ff6000" d="M75.8 600.3 71.8 600.2 67.8 599.6 61 597.3 57.6 595.3 55.1 593.3 50.8 588.3 47.5 583.3 44.8 578.3 39.8 566.1 37.5 557.3 36.9 552.3 36.6 546.3 36.8 539.5 37.3 534.3 38.3 529.3 39.8 524.3 43.8 515.1 51.5 502.3 53.9 499.3 56.1 497.3 61.3 494.3 67.8 492.3 74.8 491.7 81.8 492.1 87.8 493.3 93.8 495.3 98 497.3 101 499.3 103.9 502.3 105.5 505.3 106.1 509.3 105.5 513.3 103.8 517.2 99.8 522 95.8 525.9 87.8 531.4 79.8 535.7 75.8 537.3 68.8 539.1 67.2 540.3 65.8 542.4 65.4 544.3 65.5 546.3 66.4 548.3 67.8 549.9 70.8 551.9 75.8 553.8 79.8 555.9 83.8 558.7 86.8 561.7 90.8 567.1 93.5 571.3 95.4 575.3 96.6 579.3 96.9 583.3 96.3 587.3 94.5 591.3 92.1 594.3 89.7 596.3 85.8 598.3 80.8 599.8Z"/><path fill="#ff5900" d="M80.8 599.4 76.8 599.9 72.8 599.9 68.8 599.4 64.8 598.4 61.8 597.1 58.6 595.3 54.1 591.3 51 587.3 47.9 582.3 42.8 571.1 39.6 562.3 38.7 558.3 38.1 553.3 37.9 541.3 38.8 532.1 41.3 523.3 45.8 513.7 52.6 502.3 55 499.3 56.8 497.6 59.8 495.6 62.8 494.2 66.8 493 71.8 492.2 77.8 492.1 83.8 492.9 89.6 494.3 94.9 496.3 98.8 498.4 102.3 501.3 104.4 504.3 105.4 508.3 105.1 512.3 103.4 516.3 99.8 520.6 94.8 525.2 87.8 529.9 79.8 534 75.8 535.4 69.8 536.1 66.8 537.2 64.6 539.3 63 542.3 62.7 544.3 62.9 546.3 63.6 548.3 65 550.3 66.8 552 68.8 553.3 77.8 556.5 80.8 558.1 83.8 560.3 86.8 563.5 90.8 568.8 93.8 573.8 95.3 577.3 96 580.3 96.1 584.3 95.3 588.3 93.9 591.3 91.4 594.3 88.8 596.3 84.8 598.3Z"/><path fill="#ff5300" d="M78.8 599.3 71.8 599.4 65.8 598.2 62.8 597.1 59.6 595.3 55 591.3 52 587.3 49 582.3 42.8 568.3 40.5 561.3 39.5 553.3 39.5 538.3 40.4 530.3 42.9 522.3 47.9 512.3 54.4 501.3 56.1 499.3 58.4 497.3 61.7 495.3 64.8 494.1 68.8 493.1 73.8 492.6 78.8 492.7 84.8 493.6 90.8 495.2 95.7 497.3 99.1 499.3 102.4 502.3 104.1 505.3 104.8 508.3 104.4 512.3 102.8 515.8 99.8 519.2 93.8 524.4 86.8 528.9 78.8 532.6 74.8 533.6 68.8 533.8 65.8 534.7 63.8 536.3 62.1 538.3 60.2 542.3 60 545.3 60.5 547.3 61.8 549.9 63.8 552.3 67.9 555.3 77.8 558.3 82.9 561.3 85.8 564.1 89.9 569.3 92.8 573.8 94.8 578.2 95.4 581.3 95.3 585.3 94.2 589.3 92.4 592.3 89.8 594.9 86.8 596.9 83.4 598.3Z"/><path fill="#ff4c00" d="M80.8 598.5 74.8 599.1 67.8 598.3 62.4 596.3 59.2 594.3 56.9 592.3 53.1 587.3 49.8 581.3 43 565.3 41.9 561.3 41.4 557.3 41.6 532.3 42.8 526.3 45.6 519.3 53.8 504.3 57.3 499.3 59.6 497.3 63.2 495.3 66.8 494.1 71.8 493.2 77.8 493.1 82.8 493.7 89.3 495.3 94.4 497.3 98 499.3 101.5 502.3 103.3 505.3 104 508.3 103.6 512.3 101.8 515.7 97.8 519.6 91.8 524.3 84.8 528.3 77.8 531.1 73.8 531.7 67.8 531.5 64.8 532.2 62.8 533.6 60.8 535.6 58.9 538.3 57.6 541.3 57.2 544.3 57.7 547.3 59.2 550.3 61.7 553.3 64.8 555.9 67.8 557.6 76.8 559.8 79.8 561 81.8 562.3 84.8 564.9 88.8 569.6 91.8 573.9 93.8 577.8 94.7 581.3 94.7 584.3 93.9 588.3 92.4 591.3 90.8 593.3 87.8 595.7 84.8 597.3Z"/><path fill="#ff4600" d="M78.8 598.4 71.8 598.5 66.1 597.3 61.8 595.3 59.1 593.3 57.1 591.3 54.2 587.3 51.5 582.3 45 566.3 44 562.3 43.7 559.3 44.2 542.3 44.1 530.3 44.8 525.8 46.8 520.4 55.1 504.3 58.5 499.3 61 497.3 64.9 495.3 68.8 494.2 73.8 493.6 78.8 493.7 83.8 494.4 90.3 496.3 94.9 498.3 98.2 500.3 100.8 502.7 102.4 505.3 103.1 508.3 102.6 512.3 100.8 515.3 96.8 519 90.8 523.3 84.8 526.7 77.8 529.2 73.8 529.7 65.8 529 62.8 529.7 60.8 531 58.6 533.3 55.9 537.3 54.7 540.3 54.1 544.3 54.6 547.3 56 550.3 59.3 554.3 62.9 557.3 66.8 559.6 69.8 560.5 76.8 561.8 79.8 562.9 81.8 564.2 84.8 566.8 87.8 570.2 90.8 574.2 93.1 578.3 93.9 581.3 94 584.3 93.1 588.3 91.5 591.3 88.8 594.3 85.8 596.3 82.8 597.5Z"/><path fill="#ff3f00" d="M51.8 529.8 50.8 530 49.8 529.2 48.8 527.5 48.5 526.3 48.6 523.3 49.8 519.4 54 509.3 57.6 502.3 60.8 498.5 64.3 496.3 68.8 494.8 73.8 494.2 79.1 494.3 84.9 495.3 91 497.3 95.8 499.6 99.3 502.3 101.4 505.3 102.1 507.3 102.1 510.3 101.6 512.3 100.3 514.3 97.8 516.7 94.8 519 85.8 524.6 79.8 526.9 74.8 527.7 70.8 527.4 61.8 525.2 58.8 524.9 57.2 525.3 55.8 526.1ZM80.8 597.5 76.8 598.1 72.8 598.1 68.8 597.5 65.8 596.6 63.1 595.3 60.2 593.3 58.2 591.3 56 588.3 52.9 582.3 50.9 575.3 48.1 568.3 47.3 565.3 47.1 562.3 47.8 552.5 48.8 547.8 49.8 547.8 53 552.3 55.8 555.3 62.8 560.5 67.8 562.5 76.8 563.8 80.8 565.5 85.8 569.8 90.8 576.1 92.5 579.3 93.2 582.3 92.9 586.3 91.8 589.3 89.9 592.3 87.8 594.3 84.4 596.3Z"/><path fill="#ff3800" d="M78.8 525.4 73.8 525.9 68.8 524.7 65.6 523.3 56.8 518.3 55.4 517.3 54.8 516.4 54.5 514.3 54.7 512.3 55.6 509.3 57.4 505.3 60.4 500.3 64.1 497.3 67.8 495.8 72.8 494.8 77.8 494.8 82.8 495.5 89 497.3 93.8 499.5 98 502.3 100.2 505.3 101 507.3 101 510.3 99.8 513 97.8 515.1 93.8 518.1 86.8 522.4 82.8 524.2ZM78.8 597.4 72.8 597.6 66.8 596.3 62.8 594.3 60.4 592.3 58.6 590.3 55.6 585.3 54.2 580.3 54.2 572.3 54.9 570.3 56.8 568.4 59.8 566.5 62.8 565.6 71.8 565.3 76.8 565.8 79.8 566.9 82.8 569 85.8 571.8 88.8 575.2 91.4 579.3 92.3 582.3 92.2 585.3 91 589.3 88.9 592.3 86.7 594.3 82.9 596.3Z"/><path fill="#ff3200" d="M79.8 523.5 74.8 524.2 69.8 523.1 64.8 520.2 60 516.3 57.8 513.9 57.2 512.3 57.2 510.3 58.9 505.3 61.9 500.3 63.8 498.6 65.8 497.4 68.8 496.2 73.8 495.4 77.8 495.5 83.2 496.3 89.2 498.3 93.4 500.3 96.8 502.7 98.9 505.3 99.8 508.3 99.6 510.3 98.6 512.3 96.8 514.3 93.8 516.6 86.8 520.7ZM80.8 596.4 76.8 597.1 73.8 597.1 67.8 596 65.8 595.1 62.8 593.3 60.7 591.3 58.5 588.3 57 585.3 56.4 583.3 56.2 581.3 56.8 578.5 57.8 576.4 59.4 574.3 62.5 571.3 64.8 569.6 67.6 568.3 70.8 567.6 74.8 567.5 77.8 568.1 80.8 569.5 83.8 571.8 86.8 574.7 89.8 578.5 91.1 581.3 91.5 583.3 91.1 586.3 90 589.3 88.8 591.3 86.8 593.3 83.8 595.2Z"/><path fill="#ff2b00" d="M77.8 522.3 74.8 522.5 72.8 522.2 68.8 520.7 65.8 518.6 62.3 515.3 60.5 513.3 59.5 511.3 59.3 509.3 59.7 507.3 62 502.3 64.6 499.3 68.2 497.3 71.8 496.4 75.8 496.1 79.8 496.4 83.8 497.3 89.1 499.3 92.8 501.3 95.8 503.7 97.7 506.3 98.2 508.3 97.9 510.3 96.7 512.3 94.7 514.3 91.8 516.3 84.8 520.1 80.8 521.6ZM77.8 596.3 71.8 596.3 68.1 595.3 65.9 594.3 63.1 592.3 61.3 590.3 59.9 588.3 58.6 585.3 58.2 583.3 58.4 581.3 59.3 579.3 60.8 577.3 65.8 572.4 67.8 571.1 70.8 569.9 73.8 569.6 75.8 569.7 78.8 570.5 80.8 571.5 83.8 573.7 86.8 576.6 88.9 579.3 90.3 582.3 90.5 584.3 89.9 587.3 87.6 591.3 85.8 593.1 83.8 594.4 80.8 595.7Z"/><path fill="#ff2400" d="M79.8 520.3 74.8 520.8 70.8 519.8 66.8 517.2 62.4 512.3 61.2 509.3 61.6 506.3 63.6 502.3 65.3 500.3 66.8 499.1 69.8 497.7 73.8 497 77.8 497 81.8 497.7 86.4 499.3 90.2 501.3 93.8 504 95.6 506.3 96 507.3 96.1 509.3 95.2 511.3 93.6 513.3 90.9 515.3 86.8 517.5ZM78.8 595.4 75.8 595.8 72.8 595.7 67.8 594.3 65.8 593.1 63.6 591.3 62 589.3 60.5 586.3 60.2 583.3 60.8 581.3 62.1 579.3 66.8 574.5 70.8 572.2 72.8 571.8 75.8 571.7 77.8 572.2 80.8 573.5 83.8 575.7 86.5 578.3 88.1 580.3 89.1 582.3 89.4 584.3 89.1 586.3 88.4 588.3 86.8 590.8 83.8 593.5 81.8 594.5Z"/><path fill="#ff1f00" d="M80.8 518.5 76.8 519.3 72.8 518.8 68.8 516.7 65.4 513.3 63.5 510.3 63.2 507.3 64.7 503.3 67.3 500.3 69.8 498.9 72.8 498 75.8 497.8 79.8 498.3 83.4 499.3 86.8 501 90.3 503.3 92.3 505.3 93.5 507.3 93.7 509.3 93 511.3 92.2 512.3 88 515.3ZM79.8 594.3 74.8 595 69.8 594.1 65.8 591.7 63 588.3 62.1 585.3 62.7 582.3 65.8 578.1 69.8 575 73.8 573.7 75.8 573.7 78.8 574.5 80.8 575.5 83.8 577.6 86.5 580.3 87.7 582.3 88.2 585.3 87.7 587.3 86.7 589.3 83.9 592.3Z"/><path fill="#ff1900" d="M78.8 517.4 74.8 517.6 71.1 516.3 67.8 513.5 65.7 510.3 65.1 508.3 65.5 505.3 67.3 502.3 69.8 500.3 72.3 499.3 74.8 498.9 77.8 499.1 80.8 499.7 84.5 501.3 87.5 503.3 89.7 505.3 91 507.3 91.3 509.3 91.1 510.3 89.7 512.3 84.7 515.3ZM78.8 593.6 73.8 593.9 69.8 592.9 66.2 590.3 64.4 587.3 64.2 584.3 65.7 581.3 68.8 578.1 71.8 576.3 73.8 575.8 75.8 575.7 79.8 576.9 84.5 580.3 86.6 583.3 86.7 586.3 85.2 589.3 83.8 590.9 81.9 592.3Z"/><path fill="#ff1300" d="M79.8 515.5 76.8 515.9 73.8 515.6 71.3 514.3 69.2 512.3 67.5 509.3 67.1 507.3 68 504.3 69.8 502.2 71.8 501 73.8 500.4 75.8 500.2 78.8 500.6 81 501.3 83.8 502.7 86 504.3 87.9 506.3 88.8 508.3 88.9 509.3 87.9 511.3 84.8 513.5ZM78.8 592.4 74.8 592.8 71.8 592.3 68.8 590.6 66.9 588.3 66.3 586.3 67 583.3 69.4 580.3 71.8 578.6 74.8 577.8 76.8 578 78.8 578.5 81.9 580.3 84.7 583.3 85.2 585.3 84.3 588.3 81.8 590.9Z"/><path fill="#ff0e00" d="M79.8 513.5 76.8 514 74.8 513.7 72.8 512.9 71.1 511.3 69.9 509.3 69.5 507.3 69.9 505.3 71.7 503.3 74.8 502.1 78.5 502.3 82.8 504.2 85.1 506.3 86.1 508.3 85.6 510.3 83 512.3ZM75.8 591.4 72.8 590.9 70.8 589.8 69.4 588.3 68.8 586.3 69.4 584.3 70.8 582.3 72.8 580.9 75.8 580.2 78.8 580.9 80.8 582.1 82.2 583.3 83.1 585.3 82.8 587.3 81.2 589.3 78.8 590.7Z"/><path fill="#ff0800" d="M77.8 511.3 75.8 511.2 74.8 510.7 73.3 509.3 72.7 507.3 73 506.3 73.8 505.3 75.8 504.5 77.8 504.6 79.8 505.3 82.2 507.3 82.4 508.3 81.8 509.7 79.8 510.9ZM77.8 588.6 75.8 589 73.6 588.3 72.7 587.3 72.6 586.3 72.9 585.3 73.8 584.3 75.8 583.6 78.6 584.3 79.6 585.3 79.9 586.3 79.5 587.3Z"/></g></g><g clip-path="url(#c7)"><g filter="url(#b7)"><circle cx="232.3" cy="545.5" r="68.0" fill="#0e1fe6"/><path fill="#0629f3" d="M301.3 614.7 163.3 614.5 163.3 560.7 165.3 560.3 166.2 558.5 165.7 551.5 165.9 541.5 166.5 535.5 168.5 524.5 168.3 522.8 167.9 522.5 163.3 521 163.3 476.5 266.3 476.3 301.5 476.5Z"/><path fill="#0034ff" d="M301.3 614.7 163.3 614.5 163.3 594.4 177.3 585.9 177.9 584.5 177.3 582.2 172.7 571.5 169.9 562.5 168.2 552.5 167.8 544.5 168.7 534.5 170.7 525.5 173.6 517.5 178.3 507.5 179 504.5 177.3 502.8 163.3 493.9 163.3 476.5 301.5 476.5Z"/><path fill="#0040ff" d="M301.3 614.7 163.3 614.5 163.3 611.8 166.3 609.6 185 593.5 185.1 592.5 184.3 590.7 176.9 578.5 172.6 568.5 170.8 562.5 169.8 557.5 169 551.5 168.7 545.5 169 539.5 169.8 533.5 170.8 528.5 172.6 522.5 177 512.5 184.4 500.5 185.4 498.5 185.5 497.5 184.3 495.9 163.3 478.1 163.3 476.5 301.5 476.5Z"/><path fill="#004dff" d="M301.3 614.7 175.9 614.5 177.4 612.5 189.9 599.5 190.7 598.5 190.7 597.5 189.6 595.5 182.7 586.5 178.9 580.5 175.8 574.5 173 567.5 170.8 559.5 169.7 552.5 169.4 544.5 169.8 537.5 171.8 527.5 173.7 521.5 175.8 516.5 180.7 507.5 189.6 495.5 190.7 493.5 190.6 492.5 189.8 491.5 177.2 478.5 175.7 476.5 301.5 476.5Z"/><path fill="#0059ff" d="M301.3 614.7 186 614.5 187.3 612.5 195.3 602.6 195.7 601.5 194.7 599.5 186.6 590.5 182.8 585.5 179 579.5 176 573.5 173.7 567.5 171.7 560.5 170.5 553.5 170 545.5 170.4 537.5 171.6 530.5 173.6 523.5 175.9 517.5 179 511.5 182.8 505.5 186.6 500.5 193.8 492.5 195.1 490.5 195.2 489.5 194.6 488.5 186.3 478.5 185 476.5 301.5 476.5Z"/><path fill="#0066ff" d="M301.3 614.6 193.9 614.5 199.9 605.5 200.3 604.5 200.1 603.5 198.4 601.5 191.3 594.8 186.6 589.5 182.1 583.5 178.1 576.5 175 569.5 172.7 562.5 171.1 554.5 170.5 546.5 170.8 539.5 171.9 531.5 174.2 523.5 177.5 515.5 180.8 509.5 184.9 503.5 190.3 497.3 198.2 489.5 199.4 487.5 199.2 486.5 192.4 476.5 301.4 476.5Z"/><path fill="#0073ff" d="M301.3 614.6 200.5 614.5 204.5 607.5 204.7 606.5 204.3 605.5 194.3 596.9 189.3 591.9 184.2 585.5 179.7 578.5 175.9 570.5 173.6 563.5 171.8 555.5 171 546.5 171.5 537.5 172.9 529.5 175.4 521.5 179.1 513.5 183.3 506.6 188.1 500.5 193.3 495.1 202 487.5 203.4 485.5 203.3 484.5 198.6 476.5 301.4 476.5Z"/><path fill="#0080ff" d="M301.3 614.6 206.4 614.5 208.8 609.5 209.1 608.5 208.8 607.5 206.5 605.5 198.3 599.5 193.6 595.5 188.8 590.5 184.1 584.5 180.3 578.5 177.3 572.5 175 566.5 173.1 559.5 171.9 552.5 171.5 546.5 171.8 539.5 172.6 533.5 174.2 526.5 176.7 519.5 180.2 512.5 184 506.5 188.3 501 193.3 495.8 207 484.5 207.4 483.5 207.2 482.5 204.1 476.5 301.4 476.5Z"/><path fill="#008eff" d="M301.3 614.6 211.9 614.5 213.4 610.5 213.4 609.5 212.6 608.5 202.3 601.9 195.4 596.5 189.3 590.3 183.4 582.5 179.8 576.5 177.1 570.5 174.6 563.5 173 556.5 172.1 549.5 172 542.5 172.7 535.5 173.9 529.5 176.1 522.5 179.1 515.5 182.5 509.5 186.8 503.5 191.3 498.5 196.3 493.8 202.3 489.1 209.2 484.5 211.2 482.5 211.3 481.5 209.2 476.5 301.4 476.5Z"/><path fill="#009bff" d="M301.3 614.6 217.1 614.5 217.9 611.5 217.7 610.5 216.7 609.5 205.3 603.2 197.3 597.5 190.1 590.5 186.3 585.8 183.3 581.4 179.4 574.5 176.8 568.5 174.6 561.5 173.2 554.5 172.5 547.5 172.6 540.5 173.5 533.5 175.2 526.5 177.4 520.5 180.2 514.5 183.3 509.2 186.7 504.5 191.9 498.5 198.3 492.8 203.3 489.1 212.6 483.5 215.1 481.5 215.3 480.5 214 476.5 301.4 476.5Z"/><path fill="#00a9ff" d="M301.3 614.6 222.1 614.5 222.5 612.5 222.4 611.5 221.4 610.5 207.3 603.8 202.3 600.7 196.9 596.5 189.3 588.7 183.3 580.4 179.3 572.9 176.7 566.5 174.7 559.5 173.4 552.5 173 545.5 173.3 538.5 174.3 532.2 176.3 524.8 178.8 518.5 181.9 512.5 185.3 507.2 189.8 501.5 195.8 495.5 202.3 490.4 209.3 486.1 218 481.5 219.2 480.5 219.4 479.5 218.7 476.5 301.4 476.5Z"/><path fill="#00b6ff" d="M301.3 614.5 227.3 614.5 227.5 612.5 226.7 611.5 214.3 606.8 206.3 602.7 198.8 597.5 191.3 590.2 187.3 585.3 183.3 579.2 180.2 573.5 177.3 566.6 175.3 559.9 174.2 554.5 173.6 547.5 173.6 541.5 174.3 535 175.5 529.5 177.3 523.5 180.3 516.5 183.3 511.2 187.3 505.4 191.4 500.5 196.6 495.5 201.6 491.5 207.3 487.8 212.3 485.2 222.6 480.5 223.6 479.5 223.7 478.5 223.3 476.5 301.3 476.5Z"/><path fill="#00c3ff" d="M301.3 614.5 232.8 614.5 232.8 612.5 231.6 611.5 218.3 607.8 212.3 605.4 206.8 602.5 199.6 597.5 192.3 590.5 188.2 585.5 184.3 579.7 181.3 574.3 178.3 567.5 176.3 561.3 174.8 554.5 174.2 548.5 174.1 541.5 175 534.5 176.3 528.5 178.3 522.5 180.3 517.8 183.3 512.2 187.3 506.3 191.3 501.5 196.3 496.5 202.5 491.5 209.3 487.3 216.3 484 225.9 480.5 227.8 479.5 228.3 478.5 228.1 476.5 301.3 476.5Z"/><path fill="#00d1ff" d="M301.3 614.5 239.3 614.5 239.2 612.5 237.9 611.5 228.3 609.9 221.3 608.2 215.3 606.2 209.5 603.5 204.5 600.5 200.4 597.5 196 593.5 192.2 589.5 188.3 584.5 184.3 578.3 181.2 572.5 178.3 565.5 176.3 558.7 175.3 553.4 174.7 546.5 174.8 540.5 175.7 533.5 177.3 527.1 179.3 521.5 182.1 515.5 185.3 510.2 189.3 504.7 193.3 500.2 198.3 495.5 205 490.5 212.3 486.4 220.3 483.2 232.6 479.5 233.4 478.5 233.4 476.5 301.3 476.5 301.3 497.9 299.3 499.2 289.3 507.3 288.4 508.5 288.4 509.5 293.8 523.5 295.8 530.5 297.1 537.5 297.5 544.5 297.1 553.5 295.9 560.5 293.7 568.5 290.3 577.5 289.9 580.5 291.3 582.1 301.3 589.2Z"/><path fill="#00deff" d="M286.3 614.5 248.9 614.5 248.5 611.5 247.4 610.5 231.3 609.7 225.3 608.8 218.3 606.8 209.3 602.9 201.2 597.5 194 590.5 187.3 581.8 184.1 576.5 181.1 570.5 178.7 564.5 177 558.5 175.9 552.5 175.4 546.5 175.5 540.5 176.3 534 178.2 526.5 180.3 520.8 183.3 514.7 186.3 509.8 190.3 504.5 194.8 499.5 199.2 495.5 204.5 491.5 211.3 487.5 219.3 484.1 226.3 482.1 235.4 480.5 238.8 479.5 239.6 478.5 239.6 476.5 293.2 476.5 292 478.5 279.3 495.6 278.6 497.5 279.3 499.5 287.9 513.5 291.6 521.5 294.8 531.5 296.2 540.5 296.3 547.5 295.9 553.5 294.8 559.5 292.7 566.5 289.9 573.5 286.8 579.5 281.8 587.5 277.5 593.5 276.3 595.5 276.1 596.5 276.9 598.5 286.7 613.5 287.1 614.5Z"/><path fill="#03eafc" d="M239.3 609.5 232.3 609.3 225.3 608.3 219.3 606.7 213.3 604.4 207.8 601.5 202.1 597.5 197.7 593.5 192.4 587.5 188 581.5 183.9 574.5 180.7 567.5 178.3 560.4 176.7 552.5 176.1 545.5 176.4 538.5 177.6 531.5 179.3 525.3 181.6 519.5 184.3 514.3 188.3 508.2 192.9 502.5 197.9 497.5 202.7 493.5 208.8 489.5 217.3 485.4 226.3 482.8 233.3 481.7 247.3 480.9 249.3 480.5 249.7 479.5 250.1 476.5 271 476.5 267 486.5 266.8 487.5 267 488.5 277.3 499.8 283.7 508.5 289.3 518.7 291.3 523.5 293.2 529.5 294.8 537.5 295.3 543.5 295.1 550.5 293.8 558.5 292.3 563.9 290.3 569.4 285.4 579.5 281.7 585.5 278.7 589.5 272.3 596.4 265.3 601.9 261.3 604.2 257.3 606.1 250.3 608.2 245.3 609.1Z"/><path fill="#0ff0f0" d="M243.3 608.6 237.3 609 231.3 608.8 225.3 607.9 220.3 606.6 214.6 604.5 210.3 602.4 205.7 599.5 200.7 595.5 196.3 591 191.8 585.5 187.7 579.5 184.3 573.5 181.5 567.5 179.3 561 177.8 554.5 177 548.5 176.9 542.5 177.4 536.5 178.6 530.5 180.3 524.8 182.5 519.5 185.6 513.5 189 508.5 193 503.5 197.3 499 202.3 494.7 206.7 491.5 211.9 488.5 217.3 486.1 223.3 484.1 229.3 482.8 235.3 482.2 240.3 482.1 246.3 482.7 252.3 483.9 255.3 484.9 263.3 488.9 268.3 492.6 273.3 497.1 278.1 502.5 281.8 507.5 285 512.5 288.1 518.5 290.1 523.5 292 529.5 293.3 535.4 294 541.5 294 547.5 293.5 552.5 292.3 558.5 290.6 564.5 288 571.5 285.7 576.5 283 581.5 279 587.5 275.8 591.5 271.8 595.5 267.3 599.2 263.3 601.9 259.3 604 254.3 606.1 248.3 607.8Z"/><path fill="#1af7e5" d="M238.3 608.5 232.3 608.4 227.3 607.8 221.3 606.4 215.8 604.5 211.6 602.5 206.7 599.5 202.8 596.5 198.7 592.5 194.3 587.5 189.9 581.5 186.2 575.5 183.2 569.5 180.9 563.5 179.2 557.5 178.2 551.5 177.7 544.5 178 538.5 179 532.5 180.3 527.3 182.4 521.5 185.3 515.6 188.3 510.7 192.2 505.5 195.8 501.5 200.3 497.3 205.1 493.5 209.6 490.5 215.4 487.5 220.7 485.5 226.3 484 231.3 483.2 237.3 482.8 243.3 483.1 248.3 484 252.3 485 257.3 487 262.3 489.6 267.3 493 271.3 496.5 275.2 500.5 278.5 504.5 282.7 510.5 285.5 515.5 287.8 520.5 291 530.5 292.1 536.5 292.6 543.5 292.4 548.5 291.5 555.5 289.9 562.5 287.9 568.5 285 575.5 282.5 580.5 278.7 586.5 275.6 590.5 271.8 594.5 267.3 598.3 263.3 601 258.3 603.7 253.3 605.8 249.3 607 244.3 608Z"/><path fill="#26fed9" d="M243.3 607.7 238.3 608.1 232.3 608 226.3 607.2 221.3 606 216.3 604.2 210.8 601.5 206.3 598.5 202.7 595.5 197.8 590.5 193.3 585 189.5 579.5 186 573.5 183.2 567.5 181.1 561.5 179.5 554.5 178.8 548.5 178.6 542.5 179.1 536.5 180.3 530.5 181.8 525.5 183.7 520.5 186.3 515.4 189.4 510.5 193.2 505.5 197.3 501.1 202.3 496.6 207.3 492.9 212.3 489.8 217.1 487.5 222.8 485.5 228.3 484.2 233.3 483.6 238.3 483.5 243.3 483.8 248.3 484.8 253.3 486.2 258.3 488.4 263.3 491.2 267.3 494.1 271.2 497.5 275.3 501.8 279 506.5 281.7 510.5 285.1 516.5 286.9 520.5 289 526.5 290.6 533.5 291.2 538.5 291.5 544.5 291.1 550.5 290.4 555.5 288.9 562.5 286.6 569.5 284.1 575.5 281 581.5 277.8 586.5 274.7 590.5 270.9 594.5 266.3 598.3 262.3 601 258.3 603.1 253.3 605.2 248.3 606.7Z"/><path fill="#3affc4" d="M240.3 607.6 235.3 607.7 229.3 607.3 224.3 606.4 218.3 604.5 213.7 602.5 210.2 600.5 206.1 597.5 201.6 593.5 197.1 588.5 192.3 582.3 188.5 576.5 185.4 570.5 183 564.5 181.2 558.5 180.1 552.5 179.5 546.5 179.6 540.5 180.2 535.5 181.3 530.2 183 524.5 185.3 519.1 188.3 513.6 191.3 509.1 195.1 504.5 199.3 500.2 204.3 496 209.3 492.5 214.3 489.6 219.3 487.4 225.3 485.5 230.3 484.6 235.3 484.2 240.3 484.2 245.3 484.9 250.3 486 255.3 487.8 260.3 490.3 264.3 492.9 268.3 495.9 272.3 499.7 275.8 503.5 279.5 508.5 282.7 513.5 285.6 519.5 287.5 524.5 289 529.5 290.1 535.5 290.6 541.5 290.5 547.5 289.8 554.5 288.6 560.5 286.9 566.5 284.6 572.5 281.8 578.5 278.9 583.5 275.4 588.5 272 592.5 268.3 596 264.3 599 259.3 602 255.3 603.9 250.3 605.7 245.3 606.9Z"/><path fill="#4fffad" d="M244.3 606.6 239.3 607.2 233.3 607.3 228.3 606.7 222.7 605.5 217.3 603.6 213 601.5 208.4 598.5 204.8 595.5 200.3 591 195.6 585.5 191.9 580.5 188.3 574.5 185.4 568.5 183.2 562.5 181.7 556.5 180.8 550.5 180.4 544.5 180.7 539.5 181.5 533.5 183 527.5 184.8 522.5 187.3 517 190 512.5 193.5 507.5 197 503.5 201.3 499.4 206.3 495.4 211.3 492.2 216.3 489.5 221.3 487.5 227.3 485.8 232.3 485 237.3 484.8 242.3 485.1 247.3 486 251.3 487.1 256.3 489.1 260.3 491.2 264.3 493.8 269.3 497.8 273.3 501.7 277.3 506.5 280.7 511.5 283.5 516.5 285.7 521.5 287.4 526.5 288.6 531.5 289.6 537.5 289.9 543.5 289.7 549.5 288.9 555.5 287.6 561.5 285.8 567.5 283.4 573.5 280.5 579.5 277.5 584.5 274.6 588.5 271.2 592.5 267.3 596.1 263.3 599.1 258.3 602 254.3 603.8 249.3 605.5Z"/><path fill="#64ff97" d="M242.3 606.5 237.3 606.9 231.3 606.7 226.3 605.9 221.3 604.6 216.3 602.6 212.5 600.5 208.2 597.5 204.7 594.5 199.9 589.5 195 583.5 191.3 578.2 188.1 572.5 185.5 566.5 183.6 560.5 182.2 554.5 181.6 548.5 181.5 542.5 181.8 537.5 182.9 531.5 184.3 526.4 186.3 521.1 189.1 515.5 192.3 510.5 195.4 506.5 199 502.5 203.5 498.5 208.3 494.9 213.3 491.9 218.3 489.5 223.8 487.5 229.3 486.2 234.3 485.6 239.3 485.5 244.3 486.1 249.3 487.2 253.3 488.6 258.3 490.9 262.3 493.3 267.3 497 271.2 500.5 274.9 504.5 278.3 509 281.2 513.5 283.7 518.5 285.8 523.5 287.3 528.5 288.5 534.5 289 539.5 289.2 544.5 288.9 550.5 288 556.5 286.7 562.5 284.8 568.5 282.7 573.5 279.8 579.5 276.1 585.5 273.1 589.5 269.4 593.5 265.3 597 261.3 599.8 257.3 602 252.3 604.1 247.3 605.6Z"/><path fill="#77ff82" d="M237.3 606.5 232.3 606.4 226.4 605.5 222.3 604.4 217.4 602.5 213.6 600.5 209.3 597.5 204.8 593.5 200.3 588.8 195.9 583.5 192.4 578.5 189.5 573.5 186.8 567.5 185 562.5 183.6 556.5 182.7 550.5 182.4 544.5 182.7 538.5 183.5 533.5 184.9 527.5 186.7 522.5 191.3 513.4 194.8 508.5 198.3 504.3 202.2 500.5 206.3 497.2 211.3 493.9 216.3 491.2 222.3 488.8 227.3 487.4 232.3 486.5 237.3 486.2 242.3 486.5 247.3 487.4 251.3 488.6 256.3 490.7 261.3 493.4 265.3 496.2 269.3 499.6 273.3 503.6 276.5 507.5 279.9 512.5 282.6 517.5 284.7 522.5 286.3 527.5 287.6 533.5 288.2 538.5 288.5 544.5 288.2 550.5 287.4 556.5 286 562.5 284.5 567.5 282.1 573.5 279.1 579.5 276.1 584.5 272.3 589.5 268.6 593.5 265.1 596.5 260.8 599.5 256.3 602 252.3 603.6 247.3 605.2 242.3 606.1Z"/><path fill="#89ff6d" d="M243.3 605.6 238.3 606.1 233.3 606 228.3 605.4 223.3 604.2 218.7 602.5 214.8 600.5 210.4 597.5 206.3 593.9 201.3 588.8 196.9 583.5 193.3 578.5 190.3 573.2 187.7 567.5 185.7 561.5 184.3 555.5 183.5 549.5 183.4 543.5 183.7 538.5 184.6 532.5 185.9 527.5 187.6 522.5 190 517.5 192.9 512.5 196.5 507.5 200.1 503.5 204.5 499.5 208.5 496.5 213.3 493.5 218.3 491.1 224.3 489 229.3 487.8 234.3 487.1 239.3 487.1 244.3 487.6 248.4 488.5 253.3 490.1 258.3 492.5 262.3 494.9 266.3 497.8 270.3 501.4 274.1 505.5 277.2 509.5 279.8 513.5 282.4 518.5 284.4 523.5 285.9 528.5 286.9 533.5 287.6 539.5 287.8 545.5 287.4 551.5 286.6 557.5 285.4 562.5 283.9 567.5 281.4 573.5 278.4 579.5 275.4 584.5 272.5 588.5 268.9 592.5 265.3 595.7 261.5 598.5 257.3 601 253.3 602.8 248.3 604.5Z"/><path fill="#9cff58" d="M240.3 605.5 235.3 605.7 230.3 605.3 225.3 604.3 220.1 602.5 216.1 600.5 213 598.5 208.3 594.7 203.9 590.5 199.4 585.5 195.6 580.5 192.4 575.5 189.9 570.5 187.9 565.5 186.1 559.5 184.9 553.5 184.4 547.5 184.4 541.5 184.9 536.5 186 530.5 187.5 525.5 189.5 520.5 192 515.5 195.2 510.5 198.4 506.5 202.2 502.5 206.3 499 210.3 496.1 215.3 493.3 220.3 491.1 226.3 489.2 231.3 488.2 236.3 487.8 241.3 488 246.3 488.7 250.3 489.8 255.3 491.8 259.3 493.8 264.3 497.1 271.6 503.5 275 507.5 278.3 512.2 280.7 516.5 283 521.5 284.7 526.5 285.9 531.5 286.7 536.5 287.1 542.5 287 548.5 286.4 554.5 285.5 559.5 283.9 565.5 281.7 571.5 279.3 576.5 273.3 586.5 270.1 590.5 267.1 593.5 263.3 596.7 259.1 599.5 254.3 601.9 250.1 603.5 245.3 604.8Z"/><path fill="#aeff43" d="M244.3 604.6 239.3 605.2 234.3 605.2 229.3 604.6 224.5 603.5 219.4 601.5 215.8 599.5 208.1 593.5 203.1 588.5 198.8 583.5 195.2 578.5 192.3 573.5 189.9 568.5 187.8 562.5 186.3 556.5 185.5 550.5 185.2 544.5 185.4 539.5 186.1 534.5 187.5 528.5 189.2 523.5 191.4 518.5 194.2 513.5 197 509.5 200.3 505.5 204.4 501.5 208.3 498.3 213.3 495.1 218.3 492.6 223.3 490.7 228.3 489.5 233.3 488.7 238.3 488.6 242.3 488.8 247.3 489.7 251.3 490.9 256.3 493 260.3 495.1 264.3 497.8 268.3 501.1 271.7 504.5 275 508.5 277.8 512.5 280.5 517.5 282.7 522.5 284.3 527.5 286.1 537.5 286.5 543.5 286.3 549.5 285.6 555.5 284.7 560.5 283.3 565.5 281.1 571.5 278.3 577.3 275.3 582.5 269.3 590.5 266.3 593.6 262.3 596.8 258.3 599.4 254.2 601.5 249.3 603.3Z"/><path fill="#bfff33" d="M241.3 604.6 236.3 604.8 231.3 604.5 226.4 603.5 221.3 601.7 217.1 599.5 214.2 597.5 209.3 593.5 205.1 589.5 200.6 584.5 196.8 579.5 193.8 574.5 191.3 569.5 189.3 564.4 187.6 558.5 186.7 553.5 186.1 547.5 186.1 542.5 186.7 536.5 187.6 531.5 189 526.5 190.9 521.5 193.4 516.5 196.3 511.8 199.6 507.5 206.7 500.5 210.7 497.5 215.8 494.5 220.3 492.5 225.3 490.8 230.3 489.8 235.3 489.3 240.3 489.4 245.3 490 249.3 491 254.3 492.8 262.3 497.2 266.3 500.2 269.9 503.5 273.5 507.5 276.4 511.5 278.8 515.5 281.2 520.5 283 525.5 284.4 530.5 285.7 540.5 285.8 546.5 285.4 552.5 284.5 558.5 283.3 563.5 281.6 568.5 279.3 574 276.4 579.5 273.3 584.5 270.3 588.5 266.7 592.5 263.3 595.5 259.3 598.3 255.3 600.5 250.5 602.5 246.3 603.7Z"/><path fill="#d0ff24" d="M244.3 603.7 239.3 604.3 234.3 604.3 229.3 603.6 225.1 602.5 220.4 600.5 217 598.5 212.9 595.5 208.3 591.5 203.4 586.5 200 582.5 196.5 577.5 193.7 572.5 191.3 567.2 189.3 561.5 188.1 556.5 187.1 550.5 186.9 545.5 187.1 540.5 187.9 534.5 189 529.5 190.7 524.5 192.8 519.5 195.3 515 198.3 510.5 201.6 506.5 205.6 502.5 209.2 499.5 213.6 496.5 217.3 494.5 222.3 492.4 227.3 491 232.3 490.2 237.3 489.9 241.3 490.1 246.3 490.9 250.3 491.9 255.3 493.9 259.3 496 263.3 498.6 267.3 501.8 271 505.5 274.3 509.5 279.2 517.5 282.7 526.5 283.9 531.5 284.8 537.5 285.1 543.5 285 549.5 284.3 555.5 283.4 560.5 280.2 570.5 275.1 580.5 271.8 585.5 268.7 589.5 265.9 592.5 262.3 595.6 258.1 598.5 254.3 600.5 249.3 602.4Z"/><path fill="#e1ff16" d="M242.3 603.6 237.3 603.9 232.3 603.6 227.3 602.5 224.3 601.5 220.2 599.5 215.6 596.5 210.6 592.5 206.4 588.5 202.7 584.5 199.3 580.1 196.3 575.4 193.3 569.6 191.2 564.5 189.4 558.5 187.8 548.5 187.7 543.5 188.2 537.5 190.3 528.3 192 523.5 194.4 518.5 197.3 513.5 200.3 509.3 203.7 505.5 207.3 502.1 211.3 498.9 215.3 496.4 219.3 494.3 224.3 492.5 229.3 491.2 234.3 490.6 238.3 490.5 243.3 490.9 248.3 492 252.3 493.3 256.3 495 260.7 497.5 264.9 500.5 268.3 503.5 274.3 510.5 277.3 515.3 279.4 519.5 282.5 528.5 283.6 533.5 284.3 539.5 284.2 550.5 283.5 556.5 282.3 562.3 280.4 568.5 278.7 572.5 273.3 582.3 267 590.5 264 593.5 260.3 596.5 255.3 599.5 251.3 601.2 247.3 602.6Z"/><path fill="#f2ff08" d="M245.3 602.6 240.3 603.3 236.3 603.4 231.3 602.8 227.3 601.8 223.9 600.5 219.3 597.9 214.4 594.5 210.3 591.1 205.7 586.5 202.3 582.5 198.8 577.5 195.8 572.5 193.3 567.3 191.3 561.9 189.9 556.5 189.1 551.5 188.7 546.5 188.8 541.5 189.3 536.5 190.3 531.5 192.2 525.5 193.9 521.5 196.3 517 199.3 512.3 202.3 508.4 205.9 504.5 209.3 501.5 214.3 497.9 218.5 495.5 223.3 493.5 227.3 492.3 232.3 491.4 237.3 491.1 241.3 491.3 246.3 492.1 250.3 493.2 258.3 496.7 262.3 499.3 266.3 502.4 269.4 505.5 272.8 509.5 275.5 513.5 277.8 517.5 279.6 521.5 281.3 526.6 283.3 536.5 283.7 547.5 283.3 552.6 282.3 559.1 279.3 569.4 275.3 577.8 269.3 586.8 265.3 591.4 261.9 594.5 257.8 597.5 254.2 599.5 249.3 601.5Z"/><path fill="#f8f703" d="M242.3 602.6 238.3 602.8 233.3 602.5 229.3 601.7 226 600.5 222 598.5 217.2 595.5 212.3 591.6 207.9 587.5 201.3 579.4 198.1 574.5 195.3 569.2 193.3 564.4 191.5 558.5 190.5 553.5 189.9 548.5 189.8 543.5 190.3 537.5 192.3 528.4 194.3 523.1 196.3 519 199.3 514.1 202.3 510 205.3 506.5 209.5 502.5 213.4 499.5 217.3 497.1 222.3 494.7 225.6 493.5 230.3 492.4 235.3 491.8 239.3 491.8 244.3 492.3 252.3 494.5 256.3 496.3 260.3 498.6 264.3 501.5 268.3 505.2 271.3 508.6 274.1 512.5 278.4 520.5 281.3 529.8 282.3 535.3 282.8 540.5 282.9 546.5 282.5 552.5 280.4 563.5 277.3 572.4 272.3 581.5 269.3 585.7 265.3 590.4 262.1 593.5 258.3 596.5 254.9 598.5 250.5 600.5 247.3 601.5Z"/><path fill="#fdee01" d="M244.3 601.7 240.3 602.2 236.3 602.2 231.8 601.5 228.3 600.4 223.9 598.5 218.9 595.5 210.3 588.5 203.3 580.3 200 575.5 197.2 570.5 195 565.5 193.4 560.5 192 554.5 191.3 549.5 191.1 544.5 191.4 539.5 192.1 534.5 193.3 529.5 195.3 523.7 197.3 519.5 202.3 511.8 209.3 504.1 212.3 501.5 216.6 498.5 220.3 496.5 225.1 494.5 229.3 493.3 234.3 492.5 242.3 492.7 247 493.5 251.3 494.8 255.3 496.5 259.3 498.7 263.3 501.5 266.7 504.5 270.3 508.4 272.6 511.5 275.3 515.8 277.1 519.5 280.3 529.4 281.8 538.5 282 548.5 281.4 554.5 280.4 559.5 277.3 570.2 273.3 578.7 267.3 587.1 263.3 591.4 259.8 594.5 255.5 597.5 251.5 599.5Z"/><path fill="#ffe200" d="M239.3 601.5 235.3 601.3 231.3 600.4 226.3 598.6 222.4 596.5 214 590.5 207.3 583.5 201.3 575.2 198.7 570.5 196.4 565.5 194.7 560.5 193.5 555.5 192.7 550.5 192.4 545.5 192.6 540.5 193.2 535.5 195.6 526.5 197.3 522.4 199.9 517.5 205.3 510 209.3 505.7 212.9 502.5 217 499.5 220.4 497.5 228.3 494.4 232.5 493.5 237.3 493.1 245.3 493.8 249.3 494.8 253.8 496.5 257.7 498.5 262.2 501.5 268.6 507.5 273.3 514.1 275.3 518 277.5 523.5 280.2 533.5 281.1 543.5 280.5 553.5 278.3 564 274.3 574.9 272.3 578.8 269.3 583.4 263.2 590.5 259.3 594 255.7 596.5 252 598.5 247.3 600.3 243.3 601.2Z"/><path fill="#ffd400" d="M242.3 600.5 238.3 600.6 234.3 600.1 230.3 599 226.6 597.5 221.3 594.5 217 591.5 210.7 585.5 204.3 577.4 201.3 572.5 198.7 567.5 196.8 562.5 195.3 557.5 194.3 552.5 193.8 547.5 193.8 542.5 194.2 537.5 196.4 528.5 198.3 523.5 200.3 519.5 205.7 511.5 209.3 507.5 212.6 504.5 216.4 501.5 221 498.5 228.3 495.4 232.3 494.5 237.3 493.9 245.1 494.5 252.3 496.7 259.5 500.5 263.5 503.5 266.6 506.5 269.3 509.8 272.3 514.5 276.3 523.3 278.9 532.5 280.1 541.5 279.9 550.5 278.1 560.5 276.4 566.5 274.3 572 269.6 581.5 264.1 588.5 257.2 594.5 254.1 596.5 250.1 598.5 246.3 599.7Z"/><path fill="#ffca00" d="M242.3 599.5 238.3 599.6 235.3 599.2 231.3 598.2 227.3 596.5 222.3 593.7 219.1 591.5 211.6 584.5 205.3 576.4 202.3 571.5 199.8 566.5 197.9 561.5 196.4 556.5 195.1 547.5 195.5 538.5 197.5 529.5 199.3 524.7 201.3 520.6 206.7 512.5 210.3 508.5 213.5 505.5 217.3 502.6 222.2 499.5 228.9 496.5 232.6 495.5 237.3 494.9 241.3 494.9 245.3 495.4 252.3 497.5 256.3 499.5 259.4 501.5 263.1 504.5 265.3 506.8 268.2 510.5 270.8 514.5 275.1 523.5 278 533.5 279 542.5 278.5 552.5 276.4 562.5 272.3 573.5 267.6 582.5 265.5 585.5 262.3 589.1 255.7 594.5 249.3 597.8 246.3 598.8Z"/><path fill="#ffc500" d="M245.3 598.7 241.3 599.2 238.3 599.2 234.3 598.6 230.7 597.5 225.3 594.9 221.3 592.5 214.3 586.6 210.5 582.5 207.3 578.4 204.1 573.5 201.3 568.5 199.1 563.5 197.5 558.5 195.8 549.5 195.8 540.5 197.4 531.5 199.1 526.5 200.9 522.5 205.8 514.5 209.1 510.5 212.3 507.3 216.3 504 220.3 501.3 227.7 497.5 231.3 496.3 236.3 495.4 243.3 495.5 248.3 496.5 251.3 497.5 257.2 500.5 260.1 502.5 263.4 505.5 268.9 512.5 273.3 520.5 276.6 529.5 278.4 539.5 278.5 548.5 277 558.5 273.3 569.9 268.3 580.5 264.2 586.5 258.3 592.2 255 594.5 251.5 596.5Z"/><path fill="#ffc000" d="M243.3 598.6 239.3 598.8 236.1 598.5 232.1 597.5 228.3 595.9 223.7 593.5 220.7 591.5 217.1 588.5 213 584.5 206.3 576 203.3 571.1 201 566.5 199 561.5 197.5 556.5 196.2 547.5 196.5 538.5 197.3 534.1 198.6 529.5 202.3 521 207.3 513.5 210.3 510 214 506.5 221.3 501.3 229.4 497.5 233.3 496.4 238.3 495.7 242.3 495.9 246.3 496.4 252.6 498.5 256.4 500.5 259.3 502.5 264.5 507.5 267.3 511 270.2 515.5 274.3 524.1 277.1 533.5 278.2 542.5 277.8 551.5 275.7 561.5 271.3 573.4 266.5 582.5 261.9 588.5 255.9 593.5 250.3 596.6 247.3 597.7Z"/><path fill="#ffbb00" d="M246.3 597.6 242.3 598.3 239.3 598.4 235.3 597.9 232.3 597 227.3 594.9 223.1 592.5 215.7 586.5 211.9 582.5 208.3 577.9 205.3 573.5 202.5 568.5 200.3 563.5 198.6 558.5 196.9 549.5 196.8 540.5 197.4 536.5 198.5 531.5 200.3 526.5 202.1 522.5 207.2 514.5 213.3 507.8 220.4 502.5 224.3 500.3 229.3 498.2 233.3 497 237.3 496.3 244.3 496.5 251.4 498.5 255.4 500.5 258.3 502.4 263.3 507 268.4 513.5 271.2 518.5 273.1 522.5 276.1 531.5 277.6 540.5 277.7 548.5 276.3 557.5 273.1 567.5 268.3 578.5 263.8 585.5 259.2 590.5 253.3 594.7 249.6 596.5Z"/><path fill="#ffb600" d="M244.3 597.6 240.3 597.9 236.3 597.5 228.3 594.8 224.3 592.6 221.3 590.6 214.3 584.3 210.3 579.6 207.3 575.5 202.2 566.5 198.9 557.5 197.8 552.5 197.3 547.5 197.5 539.5 198.3 534.7 199.4 530.5 201.3 525.5 203.3 521.5 208.3 514 214.5 507.5 221.5 502.5 226.3 500.1 230.3 498.5 234.3 497.4 238.3 496.9 245.3 497.3 252.3 499.5 255.9 501.5 258.6 503.5 264.3 509 269.3 516.1 273.3 524.4 276.1 533.5 277.3 541.5 277 550.5 275.3 559.3 271.3 570.7 266.5 580.5 262.4 586.5 257.3 591.5 250.8 595.5 248.3 596.6Z"/><path fill="#ffb100" d="M246.3 596.7 242.3 597.4 239.3 597.4 235.3 596.7 231.3 595.4 226.9 593.5 223.6 591.5 216.3 585.5 209.3 577.4 206.1 572.5 203.3 567.5 201.2 562.5 199.5 557.5 198 548.5 198.1 539.5 199 534.5 200.1 530.5 203.4 522.5 208.6 514.5 212.2 510.5 215.3 507.6 222.3 502.7 230.3 499.2 234.3 498.1 238.3 497.6 244.3 497.8 247.7 498.5 251.3 499.8 257.3 503.3 263.3 508.8 268.3 515.5 272.3 523.4 275.3 532.3 276.7 540.5 276.8 548.5 275.3 557.5 272 567.5 267.1 578.5 262.5 585.5 257.8 590.5 252.3 594.3Z"/><path fill="#ffab00" d="M244.3 596.6 241.3 596.9 237.3 596.5 233.3 595.5 229.3 594 226.3 592.5 222.3 589.9 215.2 583.5 211.7 579.5 208.3 574.9 203.3 566 200.2 557.5 199.1 552.5 198.6 547.5 198.9 538.5 199.6 534.5 201.1 529.5 203.1 524.5 205.2 520.5 210.2 513.5 216.3 507.5 223.3 502.8 227.3 501 231.3 499.6 235.3 498.7 239.3 498.2 243.3 498.4 246.3 498.9 252.3 501 258.3 504.9 264 510.5 268.3 516.8 272.5 525.5 275.3 534.4 276.4 542.5 276.1 550.5 274.2 559.5 270.3 570.2 265.3 580.5 261 586.5 255.7 591.5 250.3 594.7Z"/><path fill="#ffa400" d="M246.3 595.6 242.3 596.2 239.3 596.1 235.3 595.4 231.3 594.2 227.5 592.5 224.3 590.6 217.3 584.8 210.9 577.5 205.3 568.5 203.3 564.4 201.3 558.9 200.2 554.5 199.4 549.5 199.4 540.5 200.1 535.5 201.1 531.5 204.3 523.5 209.3 515.7 215.3 509.2 218.6 506.5 222.3 504.1 229.3 500.9 233.3 499.7 237.3 499.1 241.3 499 244.3 499.2 250.3 500.9 256.3 504.2 262.2 509.5 267.3 516.3 271.3 524 274.3 532.4 275.8 540.5 275.8 548.5 274.3 557.3 271.2 566.5 265.7 578.5 261.9 584.5 257.2 589.5 251.6 593.5Z"/><path fill="#ff9e00" d="M242.3 595.5 239.3 595.5 235.3 594.8 231.3 593.6 228.3 592.2 221.2 587.5 214.3 580.7 208.3 572.5 204.1 564.5 201.1 555.5 199.9 546.5 199.9 542.5 200.5 537.5 202.5 529.5 206.2 521.5 211.3 514.2 217.3 508.3 224.3 503.7 231.3 500.9 235.3 500 239.3 499.7 243.3 499.9 246.3 500.4 252.3 502.6 258.1 506.5 263.1 511.5 268.3 519.3 272.1 527.5 274.5 535.5 275.5 543.5 275 551.5 272.8 560.5 268.3 571.8 263.2 581.5 258.5 587.5 253.7 591.5 248.3 594.3 245.3 595.1Z"/><path fill="#ff9800" d="M244.3 594.6 241.3 594.9 237.3 594.6 233.3 593.6 230.3 592.5 223.3 588.3 216.3 582 210.3 574.3 205.3 565.5 202.1 556.5 201.2 552.5 200.6 547.5 200.6 543.5 201 538.5 202.9 530.5 206.4 522.5 211.1 515.5 216.9 509.5 223.3 505 230.3 501.9 234.3 500.9 238.3 500.4 242.3 500.5 245.3 500.9 251.3 503 257 506.5 262.2 511.5 267.3 518.8 271.3 526.9 273.7 534.5 274.9 542.5 274.6 550.5 272.6 559.5 268.3 570.4 263.3 580.2 259.3 585.7 254.3 590.3 249.3 593.1Z"/><path fill="#ff9200" d="M245.3 593.7 242.3 594.1 238.3 594 232 592.5 228.3 590.7 224.7 588.5 221.3 585.9 217.7 582.5 211.3 574.6 206.6 566.5 203.1 557.5 202.1 553.5 201.4 548.5 201.5 540.5 203.1 532.5 206.3 524.3 208.5 520.5 211.3 516.5 216.8 510.5 223.3 505.7 230.3 502.6 237.3 501.2 241.3 501.1 244.3 501.5 250.3 503.3 256.3 506.9 261.3 511.5 266.3 518.4 270.3 526.1 273.2 534.5 274.3 541.5 274.2 549.5 272.3 558.5 269.3 566.6 264 577.5 260.3 583.5 255.5 588.5 250.3 591.9Z"/><path fill="#ff8c00" d="M241.3 593.5 238.3 593.4 234.3 592.6 228.3 590 221.9 585.5 215.9 579.5 210.2 571.5 205.6 562.5 203.1 554.5 202 546.5 202.5 538.5 204.3 531 207.6 523.5 212.3 516.4 217.9 510.5 224.3 505.9 231.3 503 238.3 501.8 244.3 502.2 250.3 504.1 256.3 507.8 261.3 512.6 266.2 519.5 270.3 527.6 272.8 535.5 273.9 543.5 273.3 551.5 271.3 559.7 266.9 570.5 261.3 580.8 257.3 585.9 252.3 590 247.3 592.4 244.3 593.2Z"/><path fill="#ff8600" d="M243.3 592.6 240.3 592.8 237.2 592.5 233.4 591.5 230.3 590.2 223.3 585.8 217.7 580.5 212.3 573.5 207.3 564.5 204.3 556.3 203.3 551.6 202.9 547.5 203.1 539.5 204.6 532.5 207.9 524.5 212.4 517.5 217.9 511.5 224.3 506.8 227.3 505.2 231.3 503.7 238.3 502.5 244.3 503 250.3 504.9 255.3 507.9 260.3 512.5 265.3 519.2 269.3 526.9 272.2 535.5 273.2 542.5 273 549.5 271.3 557.6 267.3 568.1 262.3 577.8 257.6 584.5 253.3 588.5 248.3 591.3Z"/><path fill="#ff7f00" d="M245.3 591.5 242.3 592 239.3 592 233.3 590.6 230.3 589.4 226.3 587.1 220.3 582.2 214.3 575 209.1 566.5 207.2 562.5 205.5 557.5 203.8 549.5 203.7 541.5 205.1 533.5 207.8 526.5 211.9 519.5 217.3 513.1 223.3 508.3 229.3 505.2 232.3 504.2 236.3 503.4 242.3 503.4 248.3 504.9 254.3 508.1 259.3 512.5 264.3 518.9 268.3 526.2 271 533.5 272.4 540.5 272.5 547.5 271.2 555.5 268.3 564.1 264 573.5 259.7 580.5 255.3 585.8 250.4 589.5Z"/><path fill="#ff7900" d="M245.3 590.7 242.3 591.2 239.3 591.2 236.3 590.7 232.6 589.5 226.3 586.2 220.3 581.1 214.3 573.7 209.3 565.1 206.3 557.4 205.3 553.4 204.6 548.5 204.7 540.5 206.3 532.5 209.1 525.5 213.3 518.9 218.3 513.2 224.3 508.6 230.6 505.5 237.3 504.1 243.3 504.3 249.3 506.2 254.3 509 259.3 513.5 263.9 519.5 267.7 526.5 270.3 533.6 271.8 541.5 271.8 548.5 270.3 556.1 267.3 564.8 263.3 573.3 259.3 579.8 254.4 585.5 250.3 588.6Z"/><path fill="#ff7300" d="M245.3 589.8 242.3 590.3 239.3 590.3 233.3 588.9 230.1 587.5 226.7 585.5 220.8 580.5 215.3 573.7 210.3 565.3 207.2 557.5 206.2 553.5 205.5 548.5 205.6 540.5 206.9 533.5 209.6 526.5 213.3 520.2 218.3 514.3 224.3 509.5 230.3 506.5 233.4 505.5 237.3 504.9 243.3 505.1 249.3 507 254.3 510 259.2 514.5 263.7 520.5 267.3 527.5 269.8 534.5 271.1 541.5 271 548.5 269.7 555.5 266.6 564.5 263 572.5 258.6 579.5 254.3 584.5 250.3 587.6Z"/><path fill="#ff6d00" d="M245.3 588.8 242.3 589.4 239.3 589.4 233.3 588 227.3 584.9 221.3 579.8 215.5 572.5 210.9 564.5 207.9 556.5 206.5 548.5 206.5 540.5 207.9 533.5 210.6 526.5 214.1 520.5 219.3 514.5 224.3 510.5 230.3 507.3 233.3 506.4 237.3 505.7 243.3 505.9 248.3 507.4 253.3 510.2 258.3 514.6 262.3 519.7 266.3 527.1 269 534.5 270.3 541.5 270.4 547.5 269.2 554.5 266.3 563.3 262.3 572.3 258.3 578.7 254.3 583.3 250.3 586.5Z"/><path fill="#ff6700" d="M240.3 588.5 237.3 588.2 234.3 587.5 228.3 584.6 223.1 580.5 218.3 575 213.4 567.5 210.2 560.5 208.2 553.5 207.3 545.5 207.8 538.5 209.5 531.5 212.6 524.5 216.8 518.5 221.7 513.5 227.3 509.6 233.3 507.2 239.3 506.4 245.3 507.2 250.3 509.2 255 512.5 259.3 516.9 263.3 522.9 266.8 530.5 268.9 537.5 269.7 544.5 269.1 551.5 267.2 558.5 262.9 569.5 259 576.5 255 581.5 250.3 585.5 245.3 587.8Z"/><path fill="#ff6000" d="M241.3 587.5 236.3 587.1 233.3 586.2 230.3 584.8 225.3 581.3 220.3 576.1 215.3 569.1 211.6 561.5 209.3 553.8 208.4 546.5 208.7 539.5 210.2 532.5 212.6 526.5 216.3 520.5 221.3 515 226.3 511.2 232.3 508.4 238.3 507.3 243.3 507.6 249 509.5 253.8 512.5 257.9 516.5 262.1 522.5 265.5 529.5 267.9 536.5 268.9 543.5 268.7 549.5 267.1 556.5 263.3 566.5 259.3 574.6 255.3 580 251.3 583.7 246.3 586.5Z"/><path fill="#ff5900" d="M241.3 586.6 236.3 586.1 233.3 585.2 230.3 583.8 225.3 580.1 220.1 574.5 215.5 567.5 212.3 560.6 210.3 553.5 209.5 546.5 209.8 539.5 211.3 532.5 213.7 526.5 217.5 520.5 222 515.5 227.3 511.6 232.3 509.3 238.3 508.2 243.3 508.5 248.3 510.1 253.3 513.1 257.3 517 261.3 522.8 265 530.5 267.3 537.5 268.1 543.5 267.8 549.5 266.3 556.2 262.3 566.7 258.5 574.5 254.7 579.5 250.3 583.3 246.3 585.5Z"/><path fill="#ff5300" d="M242.3 585.5 237.3 585.4 234.3 584.6 231.3 583.3 226.3 579.8 221.3 574.5 217.2 568.5 213.8 561.5 211.7 554.5 210.7 547.5 210.9 540.5 212.2 533.5 214.4 527.5 217.9 521.5 222.3 516.5 227.6 512.5 233.3 509.9 238.3 509.1 243.3 509.4 248.3 511 252.4 513.5 256.6 517.5 260.3 522.8 264.1 530.5 266.4 537.5 267.3 543.5 267 549.5 265.3 556.5 261.3 566.9 258.1 573.5 255.3 577.6 251.3 581.5 247.3 584Z"/><path fill="#ff4c00" d="M242.3 584.5 237.3 584.4 232.3 582.7 227.4 579.5 222.5 574.5 218.3 568.5 214.9 561.5 212.8 554.5 211.9 547.5 212.1 540.5 213.3 533.8 215.3 528.2 218.5 522.5 222.7 517.5 227.3 513.8 232.3 511.3 235.3 510.4 238.3 510 243.3 510.3 248.3 512 252.3 514.6 256.2 518.5 260.2 524.5 263.3 531 265.4 537.5 266.4 543.5 266.1 549.5 264.4 556.5 261.3 564.6 257.1 573.5 254.3 577.5 250.3 581.2 246.3 583.4Z"/><path fill="#ff4600" d="M242.3 583.5 237.3 583.4 232.3 581.6 227.8 578.5 223 573.5 219.3 568 216.1 561.5 214.1 554.5 213.2 547.5 213.3 540.5 214.4 534.5 216.4 528.5 219.8 522.5 223.3 518.3 228.1 514.5 233.3 512 238.3 511 243.3 511.3 247.3 512.6 251.3 515 255.3 518.9 259.1 524.5 262.3 531.1 264.4 537.5 265.4 543.5 265.1 549.5 263.7 555.5 260.3 564.5 256.3 573 253.3 577.2 250.3 580 246.3 582.4Z"/><path fill="#ff3f00" d="M241.3 582.6 237.3 582.3 232.3 580.4 227.2 576.5 223.3 572.1 219.3 565.7 216.7 559.5 215.1 553.5 214.4 546.5 214.7 539.5 215.9 533.5 218.2 527.5 221.2 522.5 224.6 518.5 229.3 514.9 234.3 512.8 239.3 512 243.9 512.5 248.3 514.3 252.3 517.2 255.2 520.5 259 526.5 261.8 532.5 263.7 538.5 264.4 544.5 263.9 550.5 262.4 556.5 258.3 566.6 254.8 573.5 252.3 576.9 249.3 579.6 245.3 581.7Z"/><path fill="#ff3800" d="M240.3 581.5 236.3 580.9 232.3 579 227.3 575 223.3 570.1 220.1 564.5 217.7 558.5 216.3 552.5 215.7 545.5 216.1 539.5 217.3 533.5 219.3 528.1 222.3 523 226.3 518.5 230.3 515.6 234.3 513.9 239.3 513.1 243.3 513.5 247.3 515 250.9 517.5 254.3 521.2 258.3 527.5 261 533.5 262.8 539.5 263.4 544.5 262.9 550.5 261.3 556.4 257.6 565.5 253.5 573.5 251.2 576.5 247.5 579.5 244.3 580.9Z"/><path fill="#ff3200" d="M244.3 579.7 240.3 580.3 236.1 579.5 231.3 576.8 227.5 573.5 223.8 568.5 220.6 562.5 218.6 556.5 217.4 550.5 217.2 543.5 217.8 537.5 219.4 531.5 221.6 526.5 224.3 522.4 228.3 518.4 232.3 515.9 237.3 514.5 241.3 514.4 245.3 515.5 249.3 517.8 252.3 520.6 255.9 525.5 259 531.5 261.2 537.5 262.1 542.5 262.2 547.5 261.3 552.5 259.3 558.6 256.3 565.6 253.2 571.5 250.5 575.5 247.3 578.3Z"/><path fill="#ff2b00" d="M243.3 578.5 239.3 578.7 235.3 577.5 231.3 575.2 227.6 571.5 224.2 566.5 221.4 560.5 219.6 554.5 218.7 548.5 218.7 542.5 219.6 536.5 221.3 530.7 223.3 526.4 226.3 522.2 230.3 518.6 234.3 516.5 238.3 515.6 242.3 515.9 246.3 517.3 249.4 519.5 252.3 522.5 255.3 527 258.3 533.1 260.2 538.5 261 543.5 260.9 548.5 259.8 553.5 257.3 560.3 254.3 566.9 251.3 572 248.5 575.5 245.8 577.5Z"/><path fill="#ff2400" d="M243.3 576.6 239.3 576.9 235.3 575.9 231.6 573.5 228.8 570.5 225.5 565.5 223.1 560.5 221.3 554.5 220.4 548.5 220.3 542.5 221.2 536.5 222.8 531.5 225.1 526.5 228.1 522.5 231.3 519.7 234.3 518.1 238.3 517.1 242.3 517.3 245.3 518.4 248.5 520.5 251.3 523.5 254.3 528.1 257.3 534.3 259 539.5 259.6 543.5 259.5 548.5 258.4 553.5 256.3 559.1 253.3 565.8 251.2 569.5 249 572.5 246.3 575Z"/><path fill="#ff1f00" d="M243.3 574.6 240.3 575.1 236.3 574.4 233.2 572.5 230.3 569.6 227.6 565.5 225.2 560.5 223.2 554.5 222.2 548.5 222.1 543.5 222.7 538.5 224.3 532.8 226.3 528.3 228.8 524.5 231.8 521.5 235.3 519.5 238.3 518.8 241.3 518.8 244.3 519.7 247.3 521.6 250 524.5 252.7 528.5 255.3 533.8 257.3 539.4 258 543.5 258 547.5 257.3 551.5 255.3 557.3 252.3 564.1 250.3 567.9 248.3 570.8 246.3 572.8Z"/><path fill="#ff1900" d="M241.3 572.7 238.3 572.6 235.7 571.5 233.2 569.5 230.9 566.5 228.3 561.9 226.3 557 224.7 551.5 224.1 546.5 224.3 541.9 225.3 537.1 227.3 531.5 229.3 527.7 231.8 524.5 234.2 522.5 236.3 521.4 239.3 520.9 242.3 521.2 245 522.5 247.3 524.4 249.3 526.9 252 531.5 254.3 536.5 255.6 540.5 256.1 544.5 255.9 548.5 255 552.5 252.3 559.4 249.3 565.5 247.4 568.5 245.6 570.5 243.3 572.1Z"/><path fill="#ff1300" d="M242.3 568.9 240.3 569.3 237.3 568.6 235.3 567 233.3 564.6 231 560.5 228.3 554 227.2 550.5 226.7 546.5 226.7 543.5 227.5 539.5 229.3 534.5 231.3 530.5 233.3 527.5 235.3 525.6 237.3 524.5 239.3 524 241.3 524.2 243.3 525 245.3 526.5 247.3 528.8 249.6 532.5 251.9 537.5 253.2 541.5 253.6 544.5 253.5 547.5 252.9 550.5 249.3 559.7 247.3 563.6 245.3 566.5Z"/><path fill="#ff0e00" d="M241.3 561.9 240.3 562.1 238.3 561.4 235.3 558 231.3 550.5 230.3 545.5 231.3 540.5 234.3 535 237.3 531.6 239.3 530.6 240.3 530.4 241.3 530.6 243.3 531.6 246.3 535.1 249 540.5 249.9 545.5 249.3 549.8 247.3 554.7 244.3 559.5 242.3 561.4Z"/></g></g><g clip-path="url(#c8)"><g filter="url(#b8)"><circle cx="391.9" cy="545.5" r="66.2" fill="#0629f3"/><path fill="#0034ff" d="M458.7 612.5 324.7 612.3 324.7 573.2 330.7 571.5 331.7 570.3 329.1 555.3 328.6 545.3 329.1 536.3 331.7 521.3 331.6 520.3 330.7 519.5 324.7 517.8 324.7 478.3 441.7 478.1 458.7 478.1 458.9 478.3 458.9 612.3Z"/><path fill="#0040ff" d="M458.7 612.5 324.7 612.3 324.7 592 337.7 585.6 339.3 584.3 339.4 583.3 338.8 581.3 334.1 570.3 331.9 563.3 330.2 554.3 329.7 545.3 330.3 536.3 332.1 527.3 334.3 520.3 338.7 510 339.5 507.3 338.7 506 324.7 499 324.7 478.3 458.9 478.3Z"/><path fill="#004dff" d="M458.7 612.5 324.7 612.3 324.7 606.9 344.7 593.7 346.3 592.3 346.3 591.3 345.7 589.9 340.4 581.3 337.2 575.3 334 567.3 332.3 561.3 331.3 556.3 330.4 545.3 331.4 534.3 332.4 529.3 334.2 523.3 338 514.3 345.8 501.3 346.5 499.3 346.1 498.3 344.7 497.3 324.7 484.1 324.7 478.3 458.9 478.3Z"/><path fill="#0059ff" d="M458.7 612.5 335.8 612.3 337.7 610.3 351.7 598.8 352.7 597.3 351.9 595.3 346.3 588.3 341.4 581.3 338.1 575.3 335.1 568.3 332.9 561.3 331.5 553.3 331 545.3 331.6 537.3 332.4 532.3 334.2 525.3 338.4 515.3 343 507.3 352.7 494.3 352.7 493.3 351.8 492.3 337.2 480.3 335.3 478.3 458.9 478.3Z"/><path fill="#0066ff" d="M458.7 612.5 348.1 612.3 349.7 610.3 357.9 602.3 358.5 601.3 358.3 600.3 346.5 587.3 342.2 581.3 338.3 574.3 335.4 567.3 333.3 560.3 332.1 553.3 331.6 546.3 332 538.3 333.2 531.3 335.2 524.3 338.1 517.3 341.3 511.3 345.4 505.3 350.7 498.9 357.1 492.3 358.4 490.3 358.4 489.3 357.7 488.5 349.3 480.3 347.7 478.3 458.9 478.3Z"/><path fill="#0073ff" d="M458.7 612.5 357.4 612.3 363.2 605.3 363.8 604.3 363.7 603.3 361.9 601.3 353.7 594.2 349 589.3 344.3 583.3 340.5 577.3 337.1 570.3 334.4 562.3 332.8 554.3 332.2 546.3 332.6 538.3 334.1 530.3 336.6 522.3 340.3 514.3 344.7 507.3 349.5 501.3 354.7 496 362.3 489.3 363.8 487.3 363.7 486.3 357.1 478.3 458.9 478.3Z"/><path fill="#0080ff" d="M458.7 612.4 364.9 612.3 368.5 607.3 368.9 606.3 368.6 605.3 357.7 596.8 352.7 592.2 347.3 586.3 342.4 579.3 338.2 571.3 335.2 563.3 333.4 555.3 332.7 546.3 333.3 537.3 334.9 529.3 337.6 521.3 341.7 513.1 346.7 505.7 352.3 499.3 356.7 495.1 366.8 487.3 368.8 485.3 368.7 484.1 364.6 478.3 458.8 478.3Z"/><path fill="#008eff" d="M458.7 612.4 371.4 612.3 373.7 608.3 373.6 607.3 371.4 605.3 361.7 599 355.7 594.2 348.9 587.3 343.7 580.3 340.2 574.3 337.5 568.3 335.2 561.3 334 555.3 333.3 549.3 333.3 542.3 334.1 535.3 335.4 529.3 337.7 522.6 340.6 516.3 344.2 510.3 348.7 504.2 353.7 498.8 358.7 494.3 363.7 490.6 373.1 484.3 373.7 483.3 373.5 482.3 371.1 478.3 458.8 478.3Z"/><path fill="#009bff" d="M458.7 612.4 377.2 612.3 378.5 609.3 378.2 608.3 377 607.3 364.7 600.3 356.7 594.3 352.7 590.5 348.8 586.3 343.1 578.3 339.8 572.3 337.3 566.3 335.5 560.3 334.2 553.3 333.7 546.3 334 540.3 335 533.3 336.9 526.3 339.3 520.3 341.7 515.5 344.9 510.3 348.7 505.2 354.1 499.3 360.7 493.6 367.7 488.8 377.5 483.3 378.4 482.3 378.4 481.3 376.9 478.3 458.8 478.3Z"/><path fill="#00a9ff" d="M458.7 612.4 382.5 612.3 383.2 610.3 383 609.3 381.8 608.3 371.7 603.6 366.7 600.8 360.7 596.7 355.7 592.6 348.7 585.2 345.7 581.3 342.5 576.3 339.5 570.3 336.9 563.3 335.3 557.3 334.4 550.3 334.3 543.3 335 536.3 336.5 529.3 338.7 523 341.7 516.7 344.7 511.6 348.7 506.1 353 501.3 358.7 496 365.7 490.8 372.7 486.8 382.2 482.3 383.1 481.3 382.3 478.3 458.8 478.3Z"/><path fill="#00b6ff" d="M458.7 612.4 387.5 612.3 387.8 610.3 387.1 609.3 373.7 603.8 366.7 600 358.7 594.3 350.7 586.7 346.4 581.3 342.7 575.5 339.7 569.5 337.7 564.3 336.3 559.3 335.2 553.3 334.7 547.3 334.9 541.3 335.7 535.3 336.8 530.3 338.7 524.6 341.7 517.9 344.7 512.7 348.7 507.2 352.9 502.3 357.7 497.7 363.7 492.9 370.7 488.6 375.7 486.1 385.6 482.3 387.5 481.3 387.9 480.3 387.3 478.3 458.8 478.3Z"/><path fill="#00c3ff" d="M458.7 612.4 392.4 612.3 392.5 610.3 391.3 609.3 376.7 604.4 370.7 601.6 365.7 598.6 357.7 592.7 350.7 585.7 346.7 580.7 343.7 576.1 340.7 570.4 338.7 565.3 336.7 558.5 335.7 552.7 335.3 547.3 335.5 541.3 336.3 535.3 337.7 529.4 339.7 523.7 342.7 517.4 345.7 512.4 349.7 507 353.7 502.4 358 498.3 365.7 492.3 372.7 488.2 380.7 484.8 392 481.3 392.6 480.3 392.2 478.3 458.8 478.3Z"/><path fill="#00d1ff" d="M458.7 612.3 397.2 612.3 397.4 610.3 396.4 609.3 380.7 605.2 374.7 602.8 368.7 599.7 359.5 593.3 355 589.3 351.2 585.3 346.7 579.6 343.7 574.8 340.7 568.8 338.7 563.5 337.1 557.3 336.3 552.3 335.9 546.3 336.1 541.3 337 535.3 338.7 528.5 342.7 518.9 345.7 513.7 349.7 508.1 353.8 503.3 359 498.3 366.9 492.3 375.7 487.4 383.7 484.5 393.8 482.3 396.9 481.3 397.4 480.3 397.1 478.3 458.7 478.3Z"/><path fill="#00deff" d="M458.7 612.3 402.3 612.3 402.5 610.3 402.2 609.3 401.7 609.1 399.4 608.3 390.7 607.1 383.7 605.5 376.7 603 370.7 600.1 365.7 597.1 360.5 593.3 355.9 589.3 351.7 584.8 347.7 579.7 344.7 575.1 341.7 569.2 339.7 564.1 337.7 556.6 337.1 552.3 336.7 547.3 336.9 541.3 337.7 535.7 338.7 531.3 340.7 525.3 343.7 518.8 346.9 513.3 350.7 508.1 354.9 503.3 360.1 498.3 365.2 494.3 369.7 491.3 378.7 486.8 387.7 484.1 400 482.3 401.7 481.7 402.4 481.3 402.2 478.3 458.7 478.3Z"/><path fill="#03eafc" d="M458.7 612.3 407.8 612.3 408.1 609.3 407.7 608.3 406.7 607.9 394.7 607 387.7 605.8 379.7 603.5 372.7 600.4 367.3 597.3 361.6 593.3 357 589.3 352.3 584.3 348.7 579.7 345.7 575.1 342.7 569.3 340.7 564.2 338.8 557.3 338 552.3 337.7 547.3 337.9 541.3 338.8 535.3 340.4 529.3 342.6 523.3 345 518.3 348.7 512.3 352.4 507.3 356.9 502.3 361.2 498.3 366.3 494.3 370.9 491.3 376.7 488.3 381.7 486.3 386.7 484.9 391.7 484 404.7 483.1 407.7 482.4 408 481.3 407.7 478.3 458.7 478.3 458.7 510.4 451.7 516 451 517.3 451.7 522.3 454.4 534.3 455.3 546.3 454.4 557.3 451 573.3 451.7 575 458.7 580.6Z"/><path fill="#0ff0f0" d="M458.7 612.3 414.5 612.3 414.6 607.3 413.9 606.3 397.7 606.6 391.7 605.9 385.7 604.7 380.7 603.1 375.7 601.1 367 596.3 359.2 590.3 352.6 583.3 348.8 578.3 345.8 573.3 343 567.3 341.2 562.3 339.7 556.3 338.9 550.3 338.8 545.3 339.2 539.3 340.3 533.3 342.1 527.3 344.6 521.3 347.3 516.3 350.5 511.3 354.4 506.3 359.1 501.3 363.6 497.3 369 493.3 374 490.3 379.7 487.7 385.7 485.7 391.7 484.5 397.7 483.9 403.7 484 411.7 484.6 414.2 484.3 414.6 483.3 414.5 478.3 458.7 478.3 458.7 486 456.7 488.2 445.7 503.9 444.5 506.3 444.7 508.3 449.4 519.3 452.1 528.3 453.6 536.3 454.2 546.3 453.5 556.3 452.1 563.3 450.3 569.3 445.7 580.3 444.4 584.3 444.7 585.6 445.7 587.1 456.7 602.8 458.7 605Z"/><path fill="#1af7e5" d="M436.7 612.3 428.9 612.3 427.2 602.3 426.7 601.6 425.7 601.3 411.7 604.9 405.7 605.7 399.7 606 393.7 605.6 387.7 604.5 381.7 602.8 376.7 600.9 371.6 598.3 366.8 595.3 358.7 588.7 354.6 584.3 351.4 580.3 345.9 571.3 343.4 565.3 341.8 560.3 340.5 554.3 340 549.3 339.9 543.3 340.5 538.3 341.4 533.3 343.2 527.3 345.2 522.3 348.4 516.3 351.6 511.3 355.7 506.1 360.3 501.3 364.7 497.3 370.2 493.3 375.7 490.1 380.7 487.9 386.7 486 392.7 484.9 398.7 484.5 405.7 484.8 411.7 485.7 416.7 486.8 424.6 489.3 426.7 489.3 427.3 488.3 429 478.3 437.6 478.3 433.1 493.3 433.8 495.3 439.2 502.3 443.2 508.3 448.2 518.3 450.3 524.3 452 531.3 453 538.3 453.5 546.3 453.1 553.3 452.3 559.3 451.1 564.3 449.2 570.3 446.1 577.3 443.3 582.3 439.3 588.3 434.7 594.3 433.1 597.3 437.5 612.3Z"/><path fill="#26fed9" d="M401.7 605.3 395.7 605.1 390.7 604.5 384.7 603.1 379.7 601.4 374.9 599.3 369.6 596.3 365.3 593.3 360.6 589.3 356.7 585.3 352.6 580.3 349.3 575.3 346.6 570.3 344.5 565.3 342.6 559.3 341.4 553.3 341 548.3 341 543.3 341.7 537.3 342.7 532.3 344.6 526.3 347.3 520.3 350.1 515.3 353.5 510.3 357.6 505.3 362.5 500.3 367.2 496.3 371.4 493.3 376.7 490.3 381.7 488.1 386.7 486.5 391.7 485.5 397.7 485 402.7 485 408.7 485.7 413.7 486.8 419.7 488.9 423.7 490.7 428.7 493.8 432.7 497 436.1 500.3 440.2 505.3 442.9 509.3 446.2 515.3 448.3 520.3 450.2 526.3 451.4 531.3 452.3 537.3 452.8 544.3 452.7 550.3 452.1 556.3 451 562.3 449.3 568.3 447.3 573.3 444.3 579.3 441.1 584.3 438 588.3 433.7 592.8 429.7 596.1 425.7 598.8 421.7 600.9 416.7 602.8 412.7 603.9 407.7 604.8Z"/><path fill="#3affc4" d="M406.7 604.3 401.7 604.7 395.7 604.6 389.7 603.7 384.7 602.5 379.7 600.8 374.4 598.3 369.4 595.3 364.7 591.8 359.8 587.3 356.1 583.3 352.3 578.3 349.2 573.3 346.8 568.3 344.7 562.8 343.2 557.3 342.3 551.3 342 546.3 342.4 540.3 343.3 534.3 344.7 529.3 346.5 524.3 348.8 519.3 351.8 514.3 355.3 509.3 359.7 504.3 364.7 499.4 369.8 495.3 374.3 492.3 378.7 490 383.7 488 388.7 486.6 394.7 485.6 399.7 485.4 405.7 485.8 410.7 486.6 415.7 488 420.7 490 425.7 492.7 429.7 495.4 433.7 498.8 437.1 502.3 441 507.3 444.1 512.3 446.1 516.3 448.1 521.3 449.9 527.3 451.8 538.3 452.2 544.3 452.1 550.3 451.6 556.3 450.5 562.3 449.1 567.3 447.2 572.3 444.2 578.3 441 583.3 437.7 587.6 433.7 591.8 429.7 595.1 425.7 597.8 421.7 600 416.7 602 411.7 603.5Z"/><path fill="#4fffad" d="M408.7 603.5 403.7 604.1 397.7 604.1 392.7 603.7 386.7 602.5 380.7 600.5 375.9 598.3 370.8 595.3 366.7 592.3 362.1 588.3 357.7 583.8 354.2 579.3 350.9 574.3 348.3 569.3 346 563.3 344.6 558.3 343.5 552.3 343.2 547.3 343.3 541.3 344.2 535.3 345.4 530.3 347.1 525.3 349.4 520.3 352.2 515.3 355.6 510.3 359.7 505.5 363.9 501.3 368.7 497.1 374 493.3 379.4 490.3 383.7 488.6 388.7 487.1 393.7 486.2 398.7 485.9 403.7 486 408.7 486.7 413.7 487.9 418.7 489.7 423.7 492.1 427.7 494.6 431.7 497.7 435.5 501.3 438.9 505.3 442.4 510.3 444.6 514.3 446.8 519.3 448.5 524.3 450 530.3 451 536.3 451.6 548.3 451.3 554.3 450.4 560.3 449.2 565.3 447.1 571.3 442.4 580.3 438.9 585.3 435.7 589 431.7 592.8 427.7 595.8 422.7 598.8 418.7 600.6 413.7 602.3Z"/><path fill="#64ff97" d="M405.7 603.3 400.7 603.6 395.7 603.4 389.7 602.6 384.7 601.3 379.7 599.4 375.5 597.3 370.7 594.3 365.5 590.3 361.2 586.3 357.6 582.3 353.9 577.3 350.9 572.3 348.6 567.3 346.5 561.3 345.3 556.3 344.4 550.3 344.3 545.3 344.7 539.3 345.5 534.3 346.8 529.3 348.6 524.3 351 519.3 353.9 514.3 357.5 509.3 361.9 504.3 366.7 499.8 372.5 495.3 377.1 492.3 380.9 490.3 386.2 488.3 390.7 487.2 395.7 486.5 400.7 486.3 405.7 486.7 410.7 487.5 415.7 489 420.7 491 425.7 493.8 429.7 496.6 433.7 500.1 437.6 504.3 440.6 508.3 443.1 512.3 445.5 517.3 447.4 522.3 449.1 528.3 450.8 539.3 451.1 545.3 451 551.3 450.4 557.3 449.4 562.3 448 567.3 446.1 572.3 443.7 577.3 440.5 582.3 437.4 586.3 433.6 590.3 429.7 593.7 424.7 597.1 419.7 599.6 415.7 601.2 410.7 602.5Z"/><path fill="#77ff82" d="M408.7 602.4 403.7 603 397.7 603.1 391.7 602.4 386.8 601.3 381.1 599.3 377 597.3 372.1 594.3 368 591.3 363.4 587.3 359.7 583.3 355.8 578.3 352.7 573.4 350.1 568.3 348.2 563.3 346.7 557.8 345.8 552.3 345.4 547.3 345.6 541.3 346.4 535.3 347.6 530.3 349.3 525.3 351.5 520.3 354.3 515.3 357.1 511.3 361.2 506.3 365.2 502.3 370.7 497.6 375.7 494 380.4 491.3 385 489.3 389.7 487.9 394.7 487 399.7 486.7 404.7 486.9 409.7 487.7 414.7 489.1 419.7 491 423.7 493.1 427.7 495.6 431.7 498.8 435.3 502.3 438.7 506.3 441.4 510.3 444.1 515.3 446.2 520.3 447.8 525.3 450 536.3 450.6 548.3 450.2 554.3 449.4 560.3 448.2 565.3 446.5 570.3 444.2 575.3 442 579.3 439.3 583.3 435.7 587.6 431.7 591.4 427.7 594.5 423.7 597.1 418.7 599.5 413.7 601.2Z"/><path fill="#89ff6d" d="M405.7 602.3 400.7 602.6 395.7 602.4 390.7 601.7 385.6 600.3 380.6 598.3 376.7 596.3 371.7 593 366.7 589.1 362.7 585.3 358.7 580.7 355.6 576.3 352.7 571.3 350.5 566.3 348.8 561.3 347.6 556.3 346.8 550.3 346.6 544.3 347 539.3 347.8 534.3 349.1 529.3 350.9 524.3 353.2 519.3 355.7 514.9 359 510.3 363.3 505.3 367.5 501.3 372.7 497.1 378.3 493.3 381.9 491.3 386.7 489.3 391.7 488 396.7 487.3 401.7 487.2 406.7 487.6 411.7 488.6 416.7 490.2 420.7 491.9 425.7 494.7 429.7 497.6 433.8 501.3 437.4 505.3 440.3 509.3 442.7 513.3 445 518.3 447.1 524.3 448.3 529.3 449.9 540.3 449.9 552.3 449.2 558.3 448.2 563.3 446.7 568.3 444.7 573.3 442.1 578.3 439.5 582.3 436.3 586.3 432.7 589.9 428.7 593.2 424.7 595.9 420.7 598.1 415.7 600.1 410.7 601.5Z"/><path fill="#9cff58" d="M408.7 601.4 402.7 602.1 397.7 602.1 392.7 601.5 387.7 600.3 382.7 598.4 378.4 596.3 373.7 593.4 369.4 590.3 364.9 586.3 361.2 582.3 357.7 577.7 354.9 573.3 352.5 568.3 350.6 563.3 349 557.3 348.2 552.3 347.9 547.3 348 541.3 348.7 536.3 349.7 531.3 351.7 525.3 353.7 520.6 356.6 515.3 359.4 511.3 363.6 506.3 367.6 502.3 372.5 498.3 377.7 494.7 381.6 492.3 385.9 490.3 390.7 488.8 395.7 487.8 400.7 487.6 405.7 487.9 410.7 488.7 414.7 489.8 419.7 491.8 423.7 493.9 427.7 496.5 431.7 499.8 435.2 503.3 438.5 507.3 441.1 511.3 443.2 515.3 445.3 520.3 446.9 525.3 449.1 536.3 449.6 542.3 449.6 549.3 449.2 555.3 448.4 560.3 447.2 565.3 445.5 570.3 443.3 575.3 441 579.3 438.2 583.3 434.7 587.4 430.7 591.1 426.7 594.1 422.7 596.6 417.7 598.9 412.7 600.5Z"/><path fill="#aeff43" d="M405.7 601.4 400.7 601.7 395.7 601.4 390.7 600.5 386.7 599.3 381.7 597.2 376.5 594.3 372.1 591.3 367.3 587.3 363.3 583.3 360.1 579.3 356.8 574.3 354.7 570.3 352.6 565.3 351 560.3 349.9 555.3 349.2 549.3 349.1 544.3 349.4 539.3 350.3 534.3 351.9 528.3 355.7 519.2 358.5 514.3 361.4 510.3 364.8 506.3 369.7 501.6 373.9 498.3 379.8 494.3 387.8 490.3 392.7 488.9 397.7 488.1 402.7 488 407.7 488.5 412.7 489.6 416.7 490.9 421.7 493.2 425.7 495.5 429.7 498.5 433.7 502.2 436.5 505.3 439.4 509.3 441.8 513.3 444.1 518.3 447.2 528.3 448.4 534.3 449 540.3 449 552.3 448.3 558.3 447.3 563.3 444.2 572.3 441.7 577.3 439.2 581.3 436.1 585.3 432.7 588.8 428.7 592.2 424.7 594.9 419.7 597.6 415.7 599.2 410.7 600.6Z"/><path fill="#bfff33" d="M409.7 600.3 404.7 601 399.7 601.1 394.7 600.6 389.7 599.5 384.7 597.7 379.8 595.3 374.9 592.3 370.9 589.3 366.5 585.3 362.9 581.3 360 577.3 357 572.3 354.2 566.3 352.4 561.3 351.2 556.3 350.4 551.3 350.1 546.3 350.3 541.3 351.2 535.3 352.4 530.3 354.2 525.3 356.4 520.3 359.2 515.3 362.7 510.3 366.1 506.3 370.3 502.3 374.7 498.8 379.7 495.4 385.1 492.3 389.7 490.3 393.3 489.3 397.7 488.6 401.7 488.4 406.7 488.8 411.7 489.7 415.7 490.9 420.7 493.1 424.7 495.3 428.7 498.1 432.4 501.3 435.2 504.3 438.3 508.3 442.8 516.3 446.3 526.3 448.3 537.3 448.7 549.3 447.5 560.3 445 569.3 442.9 574.3 440.7 578.3 438 582.3 434.7 586.2 431.6 589.3 427.7 592.4 423.7 595 418.7 597.6 414.7 599Z"/><path fill="#d0ff24" d="M406.7 600.4 401.7 600.6 397.7 600.4 392.7 599.6 388.5 598.3 379.7 594.3 375 591.3 370.1 587.3 366.1 583.3 362.9 579.3 359.5 574.3 356.8 569.3 354.6 564.3 353 559.3 351.9 554.3 351.3 549.3 351.2 543.3 351.7 538.3 352.7 533.3 354.2 528.3 356.2 523.3 358.7 518.5 365 509.3 371.7 502.3 376.7 498.4 381.7 495.2 387.1 492.3 391.7 490.4 395.7 489.4 399.7 489 403.7 488.9 408.7 489.5 412.7 490.4 417.7 492.1 422.3 494.3 426.7 497 430.7 500.2 433.8 503.3 437.1 507.3 439.8 511.3 444 520.3 446.8 530.3 448.2 541.3 448.4 547.3 448.1 553.3 446.4 563.3 444.9 568.3 442.9 573.3 438.2 581.3 435 585.3 431.7 588.7 427.7 591.9 424.2 594.3 419.7 596.7 415.7 598.3 411.7 599.4Z"/><path fill="#e1ff16" d="M409.7 599.4 405.7 600 400.7 600.1 395.7 599.5 390.9 598.3 385.7 596.4 381.5 594.3 376.7 591.3 372.8 588.3 368.6 584.3 364.7 579.7 361.5 575.3 358.5 570.3 354.7 561.3 353.3 556.3 352.4 550.3 352.2 545.3 352.5 540.3 353.5 534.3 354.7 530 356.7 524.8 358.7 520.7 361.7 515.8 364.7 511.6 372.2 503.3 375.7 500.3 380 497.3 385.7 494 391.6 491.3 394.8 490.3 399.7 489.5 403.7 489.4 408.7 489.9 412.7 490.7 417.4 492.3 425 496.3 429.1 499.3 432.4 502.3 435.1 505.3 438.1 509.3 440.7 513.9 442.7 518.2 446 528.3 447.6 538.3 447.9 549.3 446.6 560.3 445.4 565.3 443.7 570.3 439.7 578.3 437 582.3 433.7 586.2 430.4 589.3 426.7 592.2 422.7 594.7 418.7 596.7 414.3 598.3Z"/><path fill="#f2ff08" d="M406.7 599.3 401.7 599.5 397.7 599.1 392.7 598 387.7 596.3 380 592.3 375.8 589.3 372.5 586.3 367.7 581.3 364.4 577.3 361.7 573.3 358.7 568 356.7 563.3 355.2 558.3 354.2 553.3 353.6 548.3 353.6 543.3 354.1 538.3 354.9 534.3 356.7 528.3 360.7 519.6 363.5 515.3 366.7 511.1 375 502.3 381.7 497.3 387.7 494.1 393.7 491.5 398.2 490.3 401.7 489.9 405.7 490 409.7 490.5 413.7 491.4 418.7 493.2 422.7 495.3 427.3 498.3 430.9 501.3 433.8 504.3 438.8 511.3 441.4 516.3 443.4 521.3 446.2 531.3 447.5 542.3 447.2 553.3 445.5 563.3 442.4 572.3 440.4 576.3 437.7 580.7 434.7 584.5 430.9 588.3 427.3 591.3 423.7 593.7 419.7 595.8 415.7 597.4 411.7 598.5Z"/><path fill="#f8f703" d="M409.7 598.4 405.7 598.8 400.7 598.7 395.7 597.9 390.7 596.5 385.7 594.3 382.1 592.3 374.7 586.5 370.4 582.3 366.9 578.3 363.7 573.8 361.1 569.3 358.8 564.3 357.2 559.3 356.1 554.3 355.5 549.3 355.4 544.3 355.7 539.7 356.4 535.3 357.7 530.3 359.6 525.3 361.7 520.9 364.5 516.3 367.4 512.3 371.7 507.5 377 502.3 383.7 497.3 387.7 495.1 394.2 492.3 397.7 491.2 402.7 490.5 406.7 490.5 411.7 491.3 415.2 492.3 419.7 494.1 426.7 498.3 430.3 501.3 433.7 504.8 438.7 511.9 442.7 520.5 445.7 531 447 541.3 446.9 552.3 445.3 562.3 442.7 570.5 440.7 574.9 438.1 579.3 435.7 582.6 432.5 586.3 425.7 591.9 421.7 594.3 417.7 596.2 414.5 597.3Z"/><path fill="#fdee01" d="M411.7 597.5 406.7 598.1 402.7 598.1 397.7 597.5 393.1 596.3 388.1 594.3 384.5 592.3 376.7 586.3 369.7 579.3 366.6 575.3 363.6 570.3 361.2 565.3 359.4 560.3 358.2 555.3 357.4 550.3 357.2 545.3 357.5 540.3 359.3 531.3 362.9 522.3 365.7 517.4 368.6 513.3 374.9 506.3 380.4 501.3 384.3 498.3 389.6 495.3 393.7 493.6 398.7 491.9 402.7 491.2 406.7 491.1 410.7 491.6 413.8 492.3 418.7 494.1 422.7 496.1 426 498.3 429.7 501.3 432.7 504.3 437.7 511.1 441.7 519.3 444.7 528.6 446.4 539.3 446.7 549.3 445.5 559.3 442.7 569.3 438.7 577.6 433.7 584.4 430.7 587.4 427.2 590.3 420.7 594.3 416 596.3Z"/><path fill="#ffe200" d="M407.7 597.3 403.1 597.3 398.7 596.7 394.7 595.7 391 594.3 387.2 592.3 381.7 588.4 377.7 585.2 373.7 581.3 367.7 573.7 363.2 565.3 360.3 556.3 359.5 551.3 359.2 546.3 359.9 537.3 362.3 528.3 364.4 523.3 366.6 519.3 372.3 511.3 379.3 504.3 385.4 499.3 388.3 497.3 392.2 495.3 397.7 493.3 401.7 492.2 405.7 491.8 409.7 492 413.7 492.8 418.1 494.3 421.7 496 425.3 498.3 428.7 500.9 431.7 503.8 434.6 507.3 439 514.3 442.7 523.3 445.4 534.3 446.3 544.3 445.7 555.2 443.7 564.8 440.5 573.3 437.7 578.3 435.7 581.2 430.2 587.3 423.4 592.3 419.6 594.3 415.7 595.8 411.7 596.8Z"/><path fill="#ffd400" d="M409.7 596.4 405.7 596.5 401.7 596.2 397.7 595.4 394.5 594.3 390.4 592.3 384.7 588.7 380.3 585.3 376.7 582 373.4 578.3 370.3 574.3 365.7 566.1 363.8 561.3 362.4 556.3 361.2 547.3 361.7 538.3 364 529.3 365.7 525.1 368.2 520.3 373.8 512.3 380.6 505.3 391.1 497.3 395.3 495.3 398.7 494.2 402.7 493.1 406.7 492.6 409.7 492.7 413.7 493.3 416.8 494.3 421.3 496.3 424.6 498.3 428.4 501.3 433.7 506.9 436.7 511.3 438.7 514.9 442.5 524.3 444.7 533.1 445.8 543.3 445.4 553.3 443.7 562.9 440.7 571.6 436.7 578.9 433.7 582.9 430.7 586.1 424.1 591.3 417.7 594.5 413.7 595.7Z"/><path fill="#ffca00" d="M410.7 595.4 406.7 595.6 402.7 595.2 398.8 594.3 395.7 593.1 390.7 590.5 385.6 587.3 381.7 584.2 377.7 580.4 371.7 572.8 367.1 564.3 365.6 560.3 364.2 555.3 363.5 551.3 363.2 546.3 363.9 537.3 364.8 533.3 366.5 528.3 370.7 519.9 376.2 512.3 383.7 504.9 394.3 497.3 399.7 495.1 404.7 494 408.7 493.5 414.8 494.3 417.8 495.3 422 497.3 425.1 499.3 428.7 502.2 433.7 507.8 437.7 514.3 441.7 523.7 444.4 534.3 445.3 544.3 444.7 555.2 442.7 564.3 439.7 572.4 435.8 579.3 430.7 585.4 424.6 590.3 418.7 593.4 414.7 594.7Z"/><path fill="#ffc500" d="M414.7 594.4 410.7 595 406.7 595.2 402.7 594.7 399.7 594 395.4 592.3 389.8 589.3 385.3 586.3 381.6 583.3 377.6 579.3 374.3 575.3 371.6 571.3 368.8 566.3 366.7 561.3 365.5 557.3 364.6 553.3 364 548.3 364 544.3 364.4 539.3 365.4 534.3 366.6 530.3 368.6 525.3 370.7 521.3 376.3 513.3 379.9 509.3 384.2 505.3 388.7 501.9 395.7 497.3 400.8 495.3 408.7 493.9 411.7 494 414.7 494.6 417.7 495.5 421.6 497.3 424.8 499.3 428.5 502.3 433.7 508.2 437.7 514.7 441.7 524.3 443.8 532.3 445.1 542.3 444.9 551.3 443.7 559.7 441.5 567.3 437.7 575.8 433.2 582.3 427.7 587.7 424.1 590.3 420.7 592.2Z"/><path fill="#ffc000" d="M412.7 594.4 408.7 594.8 404.7 594.6 401.7 594 397.7 592.6 392.7 590.3 388.7 587.9 384.7 585 380.5 581.3 374.5 574.3 371.7 570 369.2 565.3 367.5 561.3 366 556.3 365.2 552.3 364.8 547.3 364.8 543.3 365.3 538.3 366.4 533.3 367.7 529.3 371.7 521.1 374.7 516.5 377.7 512.7 381.7 508.5 385.7 505 396.7 497.5 399.3 496.3 402.7 495.3 409.7 494.3 412.7 494.5 416.3 495.3 422.8 498.3 428.7 502.8 433.7 508.6 437.7 515.3 441.7 525.1 444 534.3 445 544.3 444.5 553.3 442.7 562.8 439.7 571.3 435.9 578.3 431.1 584.3 425.2 589.3 419.7 592.4 416.7 593.5Z"/><path fill="#ffbb00" d="M409.7 594.3 405.7 594.2 401.7 593.3 393.7 590.1 389.7 587.8 385.7 585 381.7 581.5 378.7 578.4 372.8 570.3 368.8 562.3 366.4 554.3 365.7 549.3 365.5 545.3 365.7 541.3 366.5 536.3 369 528.3 373.1 520.3 379 512.3 382.9 508.3 387.6 504.3 397.7 497.7 402.7 495.8 410.7 494.8 414.7 495.2 417.7 496.1 423.9 499.3 429.9 504.3 434.7 510.5 438.7 517.8 441.8 526.3 444.1 536.3 444.8 546.3 443.9 556.3 441.7 565.3 438.7 572.9 434.7 579.6 429.7 585.3 426.2 588.3 423.1 590.3 419.1 592.3 416.1 593.3Z"/><path fill="#ffb600" d="M413.7 593.5 409.7 593.8 406.7 593.7 402.7 593 398.7 591.6 393.7 589.4 390.2 587.3 386 584.3 382.5 581.3 376.4 574.3 373.1 569.3 370.9 565.3 369.2 561.3 367.7 556.3 366.7 551.3 366.4 547.3 366.5 542.3 367 538.3 367.8 534.3 369.4 529.3 373.4 521.3 379.1 513.3 382.9 509.3 387.4 505.3 391.6 502.3 398.2 498.3 402.8 496.3 410.7 495.3 413.7 495.4 417.3 496.3 423.5 499.3 428.7 503.5 433.7 509.4 436.7 514.4 438.6 518.3 441.7 526.7 443.7 535.3 444.6 544.3 444.2 552.3 442.6 561.3 439.7 570.1 435.7 577.6 430.7 584 425.7 588.3 420.6 591.3 417.7 592.4Z"/><path fill="#ffb100" d="M410.7 593.3 407.6 593.3 403.7 592.6 399.7 591.3 395 589.3 391.4 587.3 387.1 584.3 380.7 578.3 374.6 570.3 370.5 562.3 368.1 554.3 367.5 550.3 367.2 545.3 367.5 540.3 368.2 536.3 370.7 528.3 374.9 520.3 381 512.3 385 508.3 388.7 505.2 392.9 502.3 399.7 498.3 404.7 496.4 411.7 495.8 415.7 496.2 418.7 497.2 424.4 500.3 429.7 504.9 434.7 511.5 438.7 519.1 441.7 527.6 443.7 536.7 444.4 546.3 443.7 554.7 441.7 563.7 438.7 571.7 434.7 578.6 429.7 584.6 423.7 589.2 419.7 591.3 416.9 592.3Z"/><path fill="#ffab00" d="M414.7 592.4 410.7 592.8 407.7 592.7 403.7 591.9 398.8 590.3 394.7 588.4 390.7 586 387 583.3 383.7 580.4 380 576.3 376.9 572.3 372.3 564.3 369.4 556.3 368.6 552.3 368.1 547.3 368.1 543.3 368.7 538.3 370.8 530.3 374.6 522.3 380.3 514.3 386.7 507.8 394.2 502.3 403.7 497.4 409.7 496.4 415.7 496.7 418.7 497.6 422.3 499.3 427.7 503.3 432.7 509 437.6 517.3 440.7 525.3 442.8 533.3 444 542.3 444 550.3 442.7 558.7 439.8 568.3 436.7 574.9 432.7 580.8 427.2 586.3 424.5 588.3 421 590.3Z"/><path fill="#ffa400" d="M416.7 591.4 412.7 592.2 409.7 592.2 405.7 591.7 401.7 590.6 397.7 589.1 393.7 587 386.7 582.1 382.8 578.3 379.7 574.6 376.6 570.3 374.2 566.3 372.3 562.3 370.7 557.7 369.1 549.3 369.1 541.3 370.7 533.3 373.9 525.3 379 517.3 385.1 510.3 388.4 507.3 392.4 504.3 396.7 501.7 403.3 498.3 406.3 497.3 408.7 497 412.7 496.9 415.7 497.2 418.7 498.1 421.5 499.3 426.7 502.9 431.7 508.2 436.7 516.1 439.7 523.2 442.6 533.3 443.7 540.5 443.8 549.3 442.7 557.5 439.7 567.8 436.7 574.3 432.7 580.3 427.7 585.5 422.1 589.3Z"/><path fill="#ff9e00" d="M414.7 591.3 411.7 591.6 407.7 591.4 403.7 590.5 400 589.3 392.2 585.3 385.7 580.1 379 572.3 374.2 564.3 371.2 556.3 370.4 552.3 369.8 547.3 370.3 539.3 372.3 531.3 375.7 523.9 380.7 516.5 387.3 509.3 393.7 504.3 403.7 499 406.7 497.9 409.7 497.5 413.7 497.5 416.7 498 419.7 499 422.4 500.3 427.7 504.3 432.7 510.1 436.7 516.8 439.7 524.2 442.7 535.3 443.7 543.3 443.4 551.3 441.7 560.5 438.7 569.5 435.7 575.4 431.4 581.3 426 586.3 420.7 589.5Z"/><path fill="#ff9800" d="M416.7 590.4 413.7 590.9 409.7 590.9 405.7 590.3 402.1 589.3 397.7 587.5 393.7 585.4 387.7 580.8 380.8 573.3 375.7 565.3 372.5 557.3 371.5 553.3 370.8 548.3 371 540.3 372.9 532.3 376.5 524.3 381.1 517.3 387.4 510.3 393.6 505.3 398.7 502.3 403.7 500 406.7 498.8 409.7 498.1 415.7 498.4 418.7 499.2 421.7 500.5 426.7 504 431.7 509.4 435.7 515.6 438.7 522.4 441.8 532.3 442.8 537.3 443.3 542.3 443.2 550.3 441.7 559.3 438.7 568.5 435.7 574.7 431.7 580.4 426.7 585.3 421.7 588.5Z"/><path fill="#ff9200" d="M412.7 590.3 409.7 590.2 405.7 589.6 401.7 588.4 397.7 586.7 391.7 583.1 385.7 577.7 379.7 570.3 375.3 562.3 372.6 554.3 371.6 546.3 372.3 538.3 374.2 531.3 378.1 523.3 383.1 516.3 389.7 509.3 395.7 504.9 400.5 502.3 405.7 500.1 408.7 499 411.7 498.6 417.7 499.4 422.7 501.6 427.7 505.5 432.7 511.3 436.7 518.5 440.7 529.6 442.7 538.3 443.2 545.3 442.7 552.8 440.7 561.7 437.7 569.9 433.7 577.2 428.7 583 423.7 586.8 417.7 589.5Z"/><path fill="#ff8c00" d="M415.7 589.4 412.7 589.6 408.7 589.4 404.7 588.6 400.7 587.2 396.7 585.4 393.7 583.5 387.7 578.5 381.5 571.3 376.7 563.1 375.1 559.3 373.7 554.7 372.9 550.3 372.6 546.3 373.3 538.3 375.3 531.3 379.2 523.3 384.2 516.3 390.7 509.6 396.5 505.3 400.7 503.1 405.7 501 409.7 499.7 412.7 499.3 418.7 500.4 423.7 502.9 428.7 507.1 432.7 512 435.7 517.3 439.7 527.5 442 536.3 442.9 544.3 442.6 551.3 441 559.3 437.7 568.9 434.7 574.9 430.8 580.3 426.5 584.3 420.7 587.9Z"/><path fill="#ff8600" d="M417.7 588.3 414.7 588.8 410.7 588.9 403.7 587.5 399.7 586 396.4 584.3 393.4 582.3 389.8 579.3 383.5 572.3 378.4 564.3 376.5 560.3 374.9 555.3 373.6 547.3 373.9 540.3 375.9 532.3 379.7 524.3 384.7 517.1 390.7 510.8 396.7 506.2 404.7 502.3 409.7 500.6 412.7 500.1 414.7 500.1 417.7 500.7 422.7 502.9 427.7 506.7 431.7 511.3 435.7 518.3 439.7 528.7 441.7 536.2 442.6 543.3 442.3 551.3 440.7 559.3 437.7 567.9 434.7 574.1 431.1 579.3 427 583.3 422.7 586.3Z"/><path fill="#ff7f00" d="M418.7 587.3 414.7 588.1 411.7 588.2 404.7 587 397.7 584.1 394.7 582.2 391.1 579.3 384.7 572.3 379.5 564.3 377.6 560.3 375.9 555.3 374.6 547.3 374.9 540.3 377 532.3 380.7 524.5 385.8 517.3 391.7 511.1 398.1 506.3 405.7 502.9 410.7 501.4 413.7 500.9 416.7 501.1 418.7 501.7 423.7 504.1 427.7 507.4 431.8 512.3 435.7 519.4 439.5 529.3 441.6 537.3 442.3 543.3 442.1 550.3 440.7 557.8 437.7 566.7 434.7 573.1 431.7 577.8 427.7 582.1 423.3 585.3Z"/><path fill="#ff7900" d="M414.7 587.3 411.7 587.4 407.7 586.9 400.7 584.7 394.7 581.1 388.5 575.3 383 568.3 378.7 560.3 376.5 553.3 375.8 549.3 375.6 545.3 375.9 541.3 376.6 537.3 378.9 530.3 383.3 522.3 388.8 515.3 394.7 509.7 400.7 505.9 408.7 502.9 412.7 502.1 415.7 501.9 419.7 502.7 424.7 505.5 428.8 509.3 432.7 514.6 435.7 520.7 439.7 531.4 441.5 539.3 442 546.3 441.5 552.3 439.7 559.8 436.7 567.8 432.7 575.5 428.7 580.5 423.9 584.3 419.6 586.3Z"/><path fill="#ff7300" d="M415.7 586.4 412.7 586.6 408.7 586.2 404.7 585.3 401.7 584.2 395.7 580.7 389.8 575.3 384.3 568.3 379.9 560.3 377.6 553.3 376.9 549.3 376.7 545.3 376.9 541.3 377.7 537.3 380.1 530.3 384.6 522.3 389.7 515.8 395.4 510.3 401.7 506.4 408.7 503.9 415.7 502.9 419.7 503.5 424.7 506.3 428.7 510 431.7 514.1 435.7 522.1 438.9 530.3 440.8 537.3 441.7 545.3 441.1 552.3 439.7 558.4 436.7 566.5 432.7 574.3 429.7 578.4 425.6 582.3 420.7 585.1Z"/><path fill="#ff6d00" d="M416.7 585.4 410.7 585.6 406.7 585 403.7 584.1 397.7 581 391.7 575.8 386.3 569.3 381.6 561.3 379.9 557.3 378.7 553.3 377.8 546.3 378.4 539.3 380.7 531.7 384.6 524.3 389.7 517.3 395.7 511.3 400.7 507.9 404.1 506.3 407.7 505.1 414.7 504 419.7 504.6 423.7 506.5 427.7 510 430.7 513.9 434.7 521.3 438.7 531.2 440.6 538.3 441.2 544.3 441 550.3 439.7 556.7 436.7 565.2 432.7 573.1 429.7 577.3 425.7 581.3 421.7 583.8Z"/><path fill="#ff6700" d="M416.7 584.5 413.7 584.8 409.7 584.7 403.7 583.2 398.3 580.3 392.6 575.3 387 568.3 382.7 561 379.9 553.3 379 546.3 379.6 539.3 381.7 532.3 385.7 524.6 390.7 517.8 396.7 511.8 401.7 508.4 407.7 506.1 413.7 505.2 418.7 505.6 422.7 507.2 426.7 510.3 429.7 513.9 433.7 520.6 437.7 529.8 439.7 536.3 440.8 544.3 440.5 550.3 438.7 558.3 435.7 566.1 432.7 571.9 429.6 576.3 425.7 580.3 421.7 582.8Z"/><path fill="#ff6000" d="M417.7 583.4 411.7 584 405.7 583 400 580.3 394.7 575.8 389.1 569.3 384.2 561.3 381.4 554.3 380.2 547.3 380.6 540.3 382.6 533.3 386.1 526.3 390.9 519.3 396.5 513.3 400.7 510.1 406.7 507.3 412.7 506.2 417.7 506.5 421.7 507.9 425.7 510.7 429.7 515.2 433.7 521.9 436.7 528.8 439.4 537.3 440.3 543.3 440.1 549.3 438.7 556.5 435.7 564.7 432.9 570.3 429.7 575.1 425.7 579.2 421.7 581.9Z"/><path fill="#ff5900" d="M417.7 582.5 414.7 583 411.7 583.1 405.7 582 400.3 579.3 395.7 575.3 390.6 569.3 385.7 561.6 382.7 554.3 381.5 548.3 381.7 541.3 383.1 535.3 386.3 528.3 390.9 521.3 395.1 516.3 400.7 511.2 405.7 508.7 411.7 507.3 416.7 507.5 420.7 508.6 424.7 511.1 428.7 515.2 432.6 521.3 435.7 528.1 438.7 537 439.8 543.3 439.7 548.6 438.7 554.1 435.7 562.9 432.7 569.4 429.7 574 425.7 578.2 421.7 580.9Z"/><path fill="#ff5300" d="M417.7 581.6 414.7 582.1 411.7 582.2 406.4 581.3 401.7 579 396.7 574.7 391.4 568.3 386.5 560.3 383.7 553.3 382.7 547.3 383 541.3 384.7 534.7 387.8 528.3 392.4 521.3 396.7 516.3 401.7 511.8 406.7 509.3 411.7 508.3 416.7 508.5 420.7 509.8 424.7 512.3 428.7 516.5 431.8 521.3 434.5 527.3 437.7 536.2 439.1 543.3 439.1 548.3 437.9 554.3 434.7 563.3 431.9 569.3 428.7 574.1 425.7 577.2 421.7 580Z"/><path fill="#ff4c00" d="M413.7 581.3 408.7 580.9 404.2 579.3 401.3 577.3 395.7 571.7 390.7 564.9 387 558.3 384.8 552.3 384 546.3 384.5 540.3 386.3 534.3 389.7 527.7 394.7 520.5 398.4 516.3 403.7 511.8 407.7 510 412.7 509.3 417.7 509.8 421.7 511.4 425.7 514.4 429.1 518.3 432.4 524.3 436.5 535.3 437.9 540.3 438.5 545.3 438 550.3 436.7 555.3 432.6 566.3 429.7 571.5 426.6 575.3 422.7 578.4 418.7 580.3Z"/><path fill="#ff4600" d="M414.7 580.4 409.7 580.2 405.7 578.8 403.3 577.3 397.7 572 392.6 565.3 388.5 558.3 386.2 552.3 385.4 546.3 385.9 540.3 387.7 534.4 390.7 528.7 395.7 521.4 399.2 517.3 404.7 512.5 408.7 510.8 412.7 510.2 417.7 510.8 421.7 512.6 425.7 515.6 428.7 519.2 431.5 524.3 435.9 536.3 437.3 541.3 437.8 545.3 437.4 549.3 436.4 553.3 432.1 565.3 429.6 570.3 426.5 574.3 422.7 577.4 418.7 579.4Z"/><path fill="#ff3f00" d="M415.7 579.3 410.7 579.4 407.1 578.3 404.2 576.3 398.9 571.3 393.7 564.3 389.7 557.5 387.7 552.3 386.8 546.3 387.1 541.3 388.9 535.3 391.7 529.8 396.7 522.5 400.7 517.7 405.7 513.3 408.7 511.9 412.7 511.2 416.7 511.6 420.7 513 424.7 515.9 427.8 519.3 429.6 522.3 431.4 526.3 435.7 538.3 436.9 544.3 436.8 548.3 435.8 552.3 431.1 565.3 429.2 569.3 426.7 572.8 423.7 575.7 419.7 578.1Z"/><path fill="#ff3800" d="M415.7 578.4 411.7 578.5 407.9 577.3 402.8 573.3 400.7 571.1 395.6 564.3 391.3 557.3 389 551.3 388.2 546.3 388.6 541.3 390.1 536.3 392.6 531.3 396.7 525.1 401.2 519.3 406.7 514.3 409.7 512.7 412.7 512.2 416.7 512.5 420.7 514.1 423.7 516.1 426.7 519.3 428.7 522.3 430.4 526.3 435.1 539.3 436.1 544.3 436 548.3 434.9 552.3 430.2 565.3 428.2 569.3 425.7 572.7 422.7 575.4 419.4 577.3Z"/><path fill="#ff3200" d="M415.7 577.4 411.7 577.4 409.1 576.3 404 572.3 401.7 569.8 395.7 561.6 392.5 556.3 390.6 551.3 389.8 546.3 390.2 541.3 391.7 536.5 394.5 531.3 398.7 525.1 403.4 519.3 407.9 515.3 410.7 513.7 413.7 513.2 417.7 513.8 420.7 515.1 423.7 517.3 426.7 520.7 428.7 524.4 433.8 538.3 435 542.3 435.3 545.3 435.1 548.3 434 552.3 429.2 565.3 427.2 569.3 424.7 572.6 421.7 575.1 418.7 576.6Z"/><path fill="#ff2b00" d="M415.7 576.3 413.3 576.3 410.7 575.3 405.7 571.5 402.8 568.3 396.7 559.9 394 555.3 392 550.3 391.4 546.3 391.7 542.3 393.2 537.3 395.7 532.7 400.8 525.3 404.8 520.3 409.5 516.3 411.7 515 414.7 514.4 417.7 514.9 420.7 516.2 423.5 518.3 426 521.3 427.7 524.6 432.7 538.3 434 542.3 434.3 545.3 433.6 550.3 426.7 568.3 424.6 571.3 421.7 574 418.7 575.6Z"/><path fill="#ff2400" d="M418.7 574.3 415.7 574.9 413 574.3 408.4 571.3 406.2 569.3 399.7 560.7 396.1 555.3 393.9 550.3 393.3 546.3 393.7 541.6 395.3 537.3 397.7 533.1 403.7 524.8 406.7 521.1 410.7 517.9 413.4 516.3 415.7 515.9 418.3 516.3 420.7 517.5 423 519.3 425.2 522.3 426.7 525.4 431.7 539.3 432.7 542.6 433 545.3 432.7 548.3 431.9 551.3 425.9 567.3 424.7 569.4 422.7 571.8 420.7 573.3Z"/><path fill="#ff1f00" d="M418.7 572.5 416.7 572.7 413.7 571.9 409.7 569.5 407.7 567.6 397.7 553.8 396.1 550.3 395.3 546.3 395.6 542.3 397.1 538.3 399.6 534.3 406.7 524.6 408.7 522.3 410.7 520.7 413.7 518.9 416.7 518 418.7 518.3 420.7 519.3 422.7 521.3 424.5 524.3 426.7 529.5 429.7 538.8 430.7 542.3 431.1 545.3 430.3 550.3 425.6 564.3 422.7 569.5 420.7 571.4Z"/><path fill="#ff1900" d="M417.7 569.4 415.7 569.3 412.7 568.1 410.7 566.7 409.3 565.3 399.7 552.2 398.1 548.3 397.7 545.3 398.2 542.3 399.7 538.9 408.9 526.3 411.9 523.3 414.7 521.9 416.7 521.4 418.7 521.7 420.7 522.9 422.7 525.3 423.7 527.2 427.9 540.3 428.7 545.3 428 550.3 423.7 563.7 422.7 565.5 420.7 567.9 419.7 568.7Z"/><path fill="#ff1300" d="M417.7 564.5 414.7 564.6 413.7 564.1 411.7 562.3 403.1 551.3 401.7 548.8 401.1 546.3 401.1 544.3 401.7 542.3 403.4 539.3 412.1 528.3 413.7 526.9 415.7 526.2 418.7 526.8 420.3 528.3 421.6 530.3 424.5 538.3 425.8 544.3 425.4 549.3 422.7 558.1 420.6 562.3 419.7 563.4Z"/><path fill="#ff0e00" d="M416.7 556.7 415.7 556.7 413.7 555.8 409.7 551.8 407.2 548.3 406.5 545.3 406.9 543.3 408.7 540.3 412.7 536.1 415.7 534.2 417.7 534.7 419.7 537.1 421 540.3 421.9 544.3 421.7 548 420.7 551.7 418.7 555.4Z"/></g></g></svg>
<div class="ttl" style="left:48.5px">&theta; = 45<span class="dg">&deg;</span></div>
<div class="ttl" style="left:210px">&theta; = 90<span class="dg">&deg;</span></div>
<div class="ttl" style="left:364.5px">&theta; = 120<span class="dg">&deg;</span></div>
<div class="lab" style="top:222px">(a)</div>
<div class="lab" style="top:438px">(b)</div>
<div class="lab" style="top:649px">(c)</div>
<div class="cb" style="top:45px;height:161.0px;background:linear-gradient(to bottom,#ff0500 0.0%,#ff2000 3.6%,#ff3e00 7.1%,#ff5e00 10.7%,#ff7c00 14.3%,#ff9900 17.9%,#ffb500 21.4%,#ffcd00 25.0%,#ffe500 28.6%,#f9f603 32.1%,#e7ff11 35.7%,#caff29 39.3%,#acff45 42.9%,#8dff68 46.4%,#6eff8c 50.0%,#4affb2 53.6%,#27ffd8 57.1%,#13f3ec 60.7%,#00e6ff 64.3%,#00d0ff 67.9%,#00b9ff 71.4%,#00a2ff 75.0%,#008bff 78.6%,#0074ff 82.1%,#005eff 85.7%,#0048ff 89.3%,#0033ff 92.9%,#0c21e9 96.4%,#190fd2 100.0%)"></div><div class="tk" style="top:54.8px;left:485px"></div><div class="tk" style="top:54.8px;left:492px"></div><div class="tl" style="top:49.9px">1.64</div><div class="tk" style="top:72.0px;left:485px"></div><div class="tk" style="top:72.0px;left:492px"></div><div class="tl" style="top:67.1px">1.62</div><div class="tk" style="top:89.1px;left:485px"></div><div class="tk" style="top:89.1px;left:492px"></div><div class="tl" style="top:84.2px">1.6</div><div class="tk" style="top:106.3px;left:485px"></div><div class="tk" style="top:106.3px;left:492px"></div><div class="tl" style="top:101.4px">1.58</div><div class="tk" style="top:123.5px;left:485px"></div><div class="tk" style="top:123.5px;left:492px"></div><div class="tl" style="top:118.6px">1.56</div><div class="tk" style="top:140.7px;left:485px"></div><div class="tk" style="top:140.7px;left:492px"></div><div class="tl" style="top:135.8px">1.54</div><div class="tk" style="top:157.8px;left:485px"></div><div class="tk" style="top:157.8px;left:492px"></div><div class="tl" style="top:152.9px">1.52</div><div class="tk" style="top:175.0px;left:485px"></div><div class="tk" style="top:175.0px;left:492px"></div><div class="tl" style="top:170.1px">1.5</div><div class="tk" style="top:192.2px;left:485px"></div><div class="tk" style="top:192.2px;left:492px"></div><div class="tl" style="top:187.3px">1.48</div><div class="unit" style="top:17px">m/s</div><div class="cb" style="top:269px;height:156.5px;background:linear-gradient(to bottom,#ff0500 0.0%,#ff2000 3.6%,#ff3e00 7.1%,#ff5e00 10.7%,#ff7c00 14.3%,#ff9900 17.9%,#ffb500 21.4%,#ffcd00 25.0%,#ffe500 28.6%,#f9f603 32.1%,#e7ff11 35.7%,#caff29 39.3%,#acff45 42.9%,#8dff68 46.4%,#6eff8c 50.0%,#4affb2 53.6%,#27ffd8 57.1%,#13f3ec 60.7%,#00e6ff 64.3%,#00d0ff 67.9%,#00b9ff 71.4%,#00a2ff 75.0%,#008bff 78.6%,#0074ff 82.1%,#005eff 85.7%,#0048ff 89.3%,#0033ff 92.9%,#0c21e9 96.4%,#190fd2 100.0%)"></div><div class="tk" style="top:275.5px;left:485px"></div><div class="tk" style="top:275.5px;left:492px"></div><div class="tl" style="top:270.6px">1.9</div><div class="tk" style="top:293.5px;left:485px"></div><div class="tk" style="top:293.5px;left:492px"></div><div class="tl" style="top:288.6px">1.8</div><div class="tk" style="top:311.6px;left:485px"></div><div class="tk" style="top:311.6px;left:492px"></div><div class="tl" style="top:306.7px">1.7</div><div class="tk" style="top:329.6px;left:485px"></div><div class="tk" style="top:329.6px;left:492px"></div><div class="tl" style="top:324.7px">1.6</div><div class="tk" style="top:347.7px;left:485px"></div><div class="tk" style="top:347.7px;left:492px"></div><div class="tl" style="top:342.8px">1.5</div><div class="tk" style="top:365.7px;left:485px"></div><div class="tk" style="top:365.7px;left:492px"></div><div class="tl" style="top:360.8px">1.4</div><div class="tk" style="top:383.7px;left:485px"></div><div class="tk" style="top:383.7px;left:492px"></div><div class="tl" style="top:378.8px">1.3</div><div class="tk" style="top:401.8px;left:485px"></div><div class="tk" style="top:401.8px;left:492px"></div><div class="tl" style="top:396.9px">1.2</div><div class="tk" style="top:419.8px;left:485px"></div><div class="tk" style="top:419.8px;left:492px"></div><div class="tl" style="top:414.9px">1.1</div><div class="unit" style="top:242px">m/s</div><div class="cb" style="top:482px;height:157.0px;background:linear-gradient(to bottom,#ff0500 0.0%,#ff2000 3.6%,#ff3e00 7.1%,#ff5e00 10.7%,#ff7c00 14.3%,#ff9900 17.9%,#ffb500 21.4%,#ffcd00 25.0%,#ffe500 28.6%,#f9f603 32.1%,#e7ff11 35.7%,#caff29 39.3%,#acff45 42.9%,#8dff68 46.4%,#6eff8c 50.0%,#4affb2 53.6%,#27ffd8 57.1%,#13f3ec 60.7%,#00e6ff 64.3%,#00d0ff 67.9%,#00b9ff 71.4%,#00a2ff 75.0%,#008bff 78.6%,#0074ff 82.1%,#005eff 85.7%,#0048ff 89.3%,#0033ff 92.9%,#0c21e9 96.4%,#190fd2 100.0%)"></div><div class="tk" style="top:492.6px;left:485px"></div><div class="tk" style="top:492.6px;left:492px"></div><div class="tl" style="top:487.7px">1.75</div><div class="tk" style="top:508.0px;left:485px"></div><div class="tk" style="top:508.0px;left:492px"></div><div class="tl" style="top:503.1px">1.7</div><div class="tk" style="top:523.4px;left:485px"></div><div class="tk" style="top:523.4px;left:492px"></div><div class="tl" style="top:518.5px">1.65</div><div class="tk" style="top:538.8px;left:485px"></div><div class="tk" style="top:538.8px;left:492px"></div><div class="tl" style="top:533.9px">1.6</div><div class="tk" style="top:554.2px;left:485px"></div><div class="tk" style="top:554.2px;left:492px"></div><div class="tl" style="top:549.3px">1.55</div><div class="tk" style="top:569.6px;left:485px"></div><div class="tk" style="top:569.6px;left:492px"></div><div class="tl" style="top:564.7px">1.5</div><div class="tk" style="top:585.0px;left:485px"></div><div class="tk" style="top:585.0px;left:492px"></div><div class="tl" style="top:580.1px">1.45</div><div class="tk" style="top:600.4px;left:485px"></div><div class="tk" style="top:600.4px;left:492px"></div><div class="tl" style="top:595.5px">1.4</div><div class="tk" style="top:615.8px;left:485px"></div><div class="tk" style="top:615.8px;left:492px"></div><div class="tl" style="top:610.9px">1.35</div><div class="tk" style="top:631.2px;left:485px"></div><div class="tk" style="top:631.2px;left:492px"></div><div class="tl" style="top:626.3px">1.3</div><div class="unit" style="top:455px">m/s</div>
</body></html>
